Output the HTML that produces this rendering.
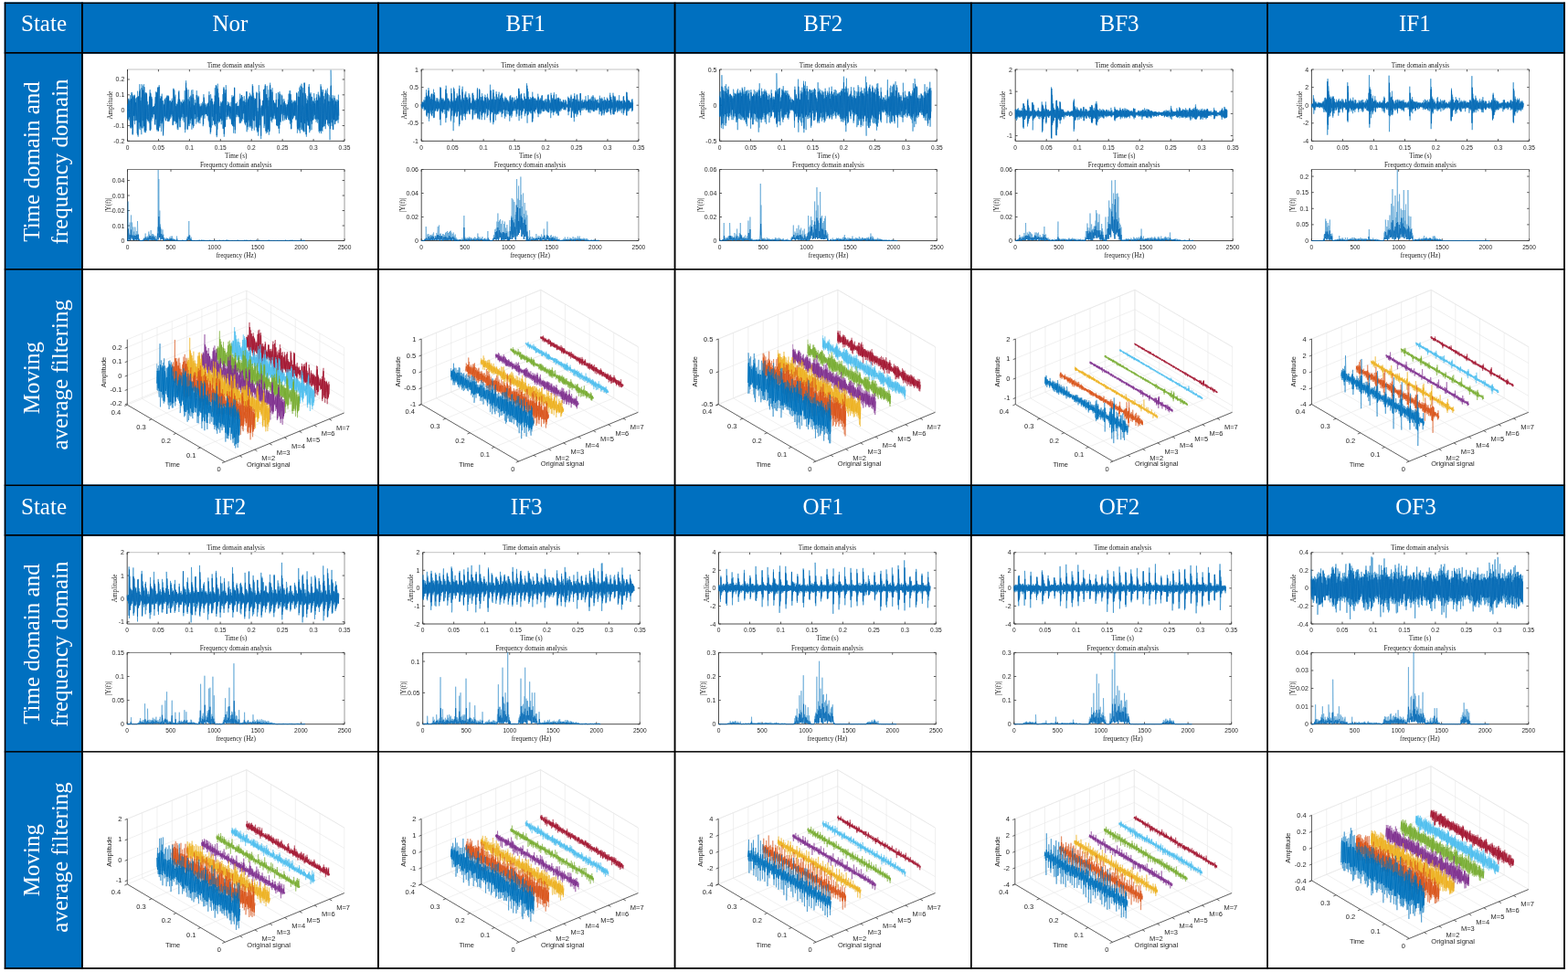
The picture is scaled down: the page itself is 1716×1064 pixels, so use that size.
<!DOCTYPE html>
<html><head><meta charset="utf-8"><title>Signals</title>
<style>
html,body{margin:0;padding:0;background:#fff;}
body{width:1716px;height:1064px;overflow:hidden;position:relative;}
svg{position:absolute;left:0;top:0;display:block;}
.hd{font-family:"Liberation Serif","Times New Roman",serif;font-size:25px;fill:#fff;text-anchor:middle;}
.tl{font-family:"Liberation Serif","Times New Roman",serif;font-size:7.2px;fill:#1a1a1a;text-anchor:middle;}
.tk{font-family:"Liberation Sans",Arial,sans-serif;font-size:7px;fill:#262626;}
.tx{font-family:"Liberation Sans",Arial,sans-serif;font-size:6.6px;fill:#262626;text-anchor:middle}
.k3{font-family:"Liberation Sans",Arial,sans-serif;font-size:7.5px;fill:#262626;}
.m{text-anchor:middle}.e{text-anchor:end}
</style></head><body>
<svg width="1716" height="1064" viewBox="0 0 1716 1064">
<rect x="4.8" y="2.6" width="1708" height="56.1" fill="#0070C0"/>
<rect x="4.8" y="530.5" width="1708" height="56.2" fill="#0070C0"/>
<rect x="4.8" y="2.6" width="86.1" height="1058.2" fill="#0070C0"/>
<rect x="4.8" y="2.6" width="1.5" height="1058.2" fill="#000"/>
<rect x="89" y="2.6" width="1.9" height="1058.2" fill="#000"/>
<rect x="413" y="2.6" width="1.9" height="1058.2" fill="#000"/>
<rect x="737.6" y="2.6" width="1.9" height="1058.2" fill="#000"/>
<rect x="1062" y="2.6" width="1.7" height="1058.2" fill="#000"/>
<rect x="1386.2" y="2.6" width="1.7" height="1058.2" fill="#000"/>
<rect x="1711.1" y="2.6" width="1.7" height="1058.2" fill="#000"/>
<rect x="4.8" y="2.6" width="1708" height="1.5" fill="#000"/>
<rect x="4.8" y="57" width="1708" height="1.7" fill="#000"/>
<rect x="4.8" y="294" width="1708" height="1.6" fill="#000"/>
<rect x="4.8" y="530.5" width="1708" height="1.5" fill="#000"/>
<rect x="4.8" y="585" width="1708" height="1.7" fill="#000"/>
<rect x="4.8" y="822.1" width="1708" height="1.5" fill="#000"/>
<rect x="4.8" y="1059.1" width="1708" height="1.7" fill="#000"/>
<path d="M139.50 76.00H377.00" stroke="#c4c4c4" stroke-width="1"/>
<path d="M377.00 76.00V154.40" stroke="#9a9a9a" stroke-width="1"/>
<path d="M139.50 76.00V154.40H377.00" stroke="#3a3a3a" stroke-width="0.9" fill="none"/>
<path d="M139.50 154.40v-2.4M139.50 76.00v2.4M173.43 154.40v-2.4M173.43 76.00v2.4M207.36 154.40v-2.4M207.36 76.00v2.4M241.29 154.40v-2.4M241.29 76.00v2.4M275.21 154.40v-2.4M275.21 76.00v2.4M309.14 154.40v-2.4M309.14 76.00v2.4M343.07 154.40v-2.4M343.07 76.00v2.4M377.00 154.40v-2.4M377.00 76.00v2.4M139.50 154.40h2.4M377.00 154.40h-2.4M139.50 137.54h2.4M377.00 137.54h-2.4M139.50 120.68h2.4M377.00 120.68h-2.4M139.50 103.82h2.4M377.00 103.82h-2.4M139.50 86.96h2.4M377.00 86.96h-2.4" stroke="#333" stroke-width="0.8"/>
<text class="tx" x="139.50" y="163.80">0</text>
<text class="tx" x="173.43" y="163.80">0.05</text>
<text class="tx" x="207.36" y="163.80">0.1</text>
<text class="tx" x="241.29" y="163.80">0.15</text>
<text class="tx" x="275.21" y="163.80">0.2</text>
<text class="tx" x="309.14" y="163.80">0.25</text>
<text class="tx" x="343.07" y="163.80">0.3</text>
<text class="tx" x="377.00" y="163.80">0.35</text>
<text class="tk e" x="136.30" y="156.90">-0.2</text>
<text class="tk e" x="136.30" y="140.04">-0.1</text>
<text class="tk e" x="136.30" y="123.18">0</text>
<text class="tk e" x="136.30" y="106.32">0.1</text>
<text class="tk e" x="136.30" y="89.46">0.2</text>
<text class="tl" x="258.25" y="73.60">Time domain analysis</text>
<text class="tl" x="258.25" y="172.70">Time (s)</text>
<text class="tl" transform="translate(122.84 115.20) rotate(-90)">Amplitude</text>
<path transform="matrix(0.33366 0.00000 0.00000 0.50000 139.50 120.68)" d="M0 14l1-28 1 34 1-37 1-9 1 49 1-43 1 36 1-6 1-43 1 21 1 52 1-12 1-67 1 78 1-78 1 10 1 83 1-9 1-77 1 45 1-45 1 55 1-57 1 65 1-53 1 34 1-38 1 17 1 31 1-49 1 53 1 25 1-93 1 9 1 91 1-39 1-50 1 71 1-76 1-21 1 100 1-89 1 84 1-66 1 63 1 18 1-110 1 14 1 83 1-94 1 92 1-5 1-75 1-15 1 100 1 5 1-83 1 84 1-88 1 88 1-50 1 20 1-57 1 27 1 29 1-37 1 43 1-7 1-21 1-9 1 41 1-17 1-46 1-10 1 90 1-82 1 79 1-72 1 54 1-49 1 33 1-13 1 23 1-26 1 15 1 2 1-18 1 17 1-17 1-5 1 46 1-12 1-55 1-6 1 65 1 18 1-80 1 84 1-87 1-9 1 85 1 11 1-93 1-8 1 90 1 3 1-58 1 42 1-53 1 2 1 76 1-11 1-72 1 65 1-50 1 10 1 67 1-21 1-49 1 31 1-30 1-11 1 39 1-41 1 46 1 3 1-24 1-27 1 41 1-45 1 55 1 1 1-49 1 50 1-57 1 20 1 36 1-6 1-39 1 40 1-40 1 38 1-30 1 23 1-29 1-7 1 39 1-11 1 31 1-9 1-72 1 12 1 61 1-69 1 68 1-18 1-40 1 25 1 39 1-45 1 43 1-41 1 47 1 8 1-60 1 61 1-67 1 39 1-58 1 16 1 64 1-57 1 50 1 7 1-48 1 29 1-36 1 8 1 25 1-9 1-29 1 45 1-41 1 4 1 41 1-49 1 33 1-53 1 92 1-6 1-80 1-28 1 80 1-64 1 60 1-23 1 55 1-18 1-53 1-17 1 79 1-54 1 55 1-64 1 42 1 16 1-35 1 29 1-60 1-7 1 86 1-56 1 47 1-78 1 76 1 8 1-66 1 17 1 29 1-10 1-32 1 42 1-35 1 5 1 41 1-15 1-58 1 22 1 47 1-10 1-37 1-11 1 60 1-58 1 42 1 10 1-30 1 37 1-39 1 6 1 21 1-32 1 27 1-1 1-20 1-9 1 23 1 30 1-51 1-19 1 46 1-34 1 41 1-9 1-18 1-6 1 23 1-14 1 15 1-19 1 23 1-27 1 22 1 4 1-29 1-1 1 43 1-66 1 77 1-45 1 48 1 13 1-87 1 7 1 66 1-20 1-44 1 2 1 57 1-16 1-29 1 17 1 18 1-11 1-31 1 51 1-81 1 84 1-66 1-24 1 63 1-60 1 111 1-101 1 84 1-100 1 81 1-61 1 66 1-51 1 39 1 10 1-20 1 8 1-27 1-6 1 38 1 12 1-48 1 36 1-38 1 41 1-57 1 76 1-66 1-26 1 109 1-9 1-93 1 81 1-66 1 33 1-59 1 12 1 64 1-2 1-30 1 24 1-32 1 33 1-27 1 15 1-19 1 3 1 31 1-22 1 25 1-29 1 16 1-25 1 39 1 10 1-64 1 65 1-61 1 64 1-40 1 55 1-82 1 56 1-74 1 54 1 47 1-25 1-41 1 30 1-30 1 25 1-20 1-8 1 33 1-2 1-22 1 15 1-16 1 3 1 26 1 10 1-65 1 3 1 52 1 9 1-53 1-8 1 58 1-4 1-40 1-10 1 37 1-1 1-27 1 41 1-52 1 58 1-30 1-9 1 45 1-57 1 48 1-65 1 88 1 0 1-65 1 61 1-54 1-15 1 52 1-10 1-47 1 68 1-75 1 8 1 68 1-10 1-62 1 4 1 66 1 9 1-84 1-18 1 77 1-58 1 52 1-46 1 58 1 18 1-67 1 26 1-26 1 36 1-39 1 64 1-78 1 2 1 86 1 0 1-53 1 11 1 50 1-10 1-101 1 93 1-79 1 10 1 52 1-26 1 39 1 29 1-64 1-10 1 22 1 3 1-21 1 19 1-34 1 30 1-53 1 84 1-86 1 81 1-77 1-14 1 55 1-20 1 73 1-13 1-91 1 0 1 102 1-7 1-51 1 46 1-82 1 99 1-83 1 75 1-97 1-9 1 83 1-68 1 59 1-47 1 59 1 1 1-76 1 45 1 24 1-11 1-31 1 41 1-33 1 21 1-24 1 3 1 34 1-35 1 33 1-55 1 70 1-40 1 42 1-1 1-44 1-29 1 79 1-78 1 77 1 12 1-92 1 73 1-68 1 25 1 37 1-11 1-47 1-2 1 40 1-30 1 45 1 3 1-34 1 16 1-31 1 1 1 38 1 8 1-27 1 15 1-25 1 3 1 33 1-28 1 18 1-24 1 29 1-1 1-38 1 43 1-56 1 58 1-46 1-19 1 73 1-73 1 71 1-47 1 60 1-63 1 49 1-49 1 41 1 0 1-37 1-1 1 30 1 5 1-38 1 33 1-32 1 33 1-33 1 5 1 38 1-9 1-51 1 3 1 85 1-9 1-52 1 50 1-80 1 29 1 57 1-95 1 89 1 11 1-104 1 8 1 76 1 13 1-101 1 17 1 79 1-49 1 56 1-94 1 46 1-5 1 56 1-15 1-93 1 21 1 86 1-14 1-66 1 37 1 54 1-84 1 59 1-55 1 49 1-58 1 65 1-18 1-70 1-3 1 106 1-7 1-68 1 71 1-84 1 58 1-32 1 56 1-73 1 5 1 32 1-28 1 43 1-35 1 26 1-50 1 56 1-45 1 43 1 2 1-32 1-8 1 47 1-3 1-58 1 58 1-43 1 48 1-60 1-8 1 62 1 25 1-73 1 76 1-81 1 77 1-63 1-40 1 101 1 7 1-97 1 1 1 89 1 2 1-80 1-11 1 67 1-37 1 50 1 0 1-64 1-8 1 77 1 1 1-86 1 20 1 40 1 6 1-50 1-19 1 80 1-67 1 66 1 4 1-68 1 3 1 61 1 34 1-93 1 50 1-110 1 15 1 95 1 13 1-53 1 36 1-51 1 10 1 66 1-11 1-44 1 8 1-28 1 63 1-45 1 25 1-32 1 45 1-48 1 10 1 37 1-17 1-29 1 6 1 45 1-62 1 54" stroke="#0072BD" stroke-width="0.7" fill="none" vector-effect="non-scaling-stroke" opacity="0.8"/>
<path transform="matrix(0.33366 0.00000 0.00000 0.50000 139.50 120.68)" d="M0 -11l1 22 1 8 1-36 1-7 1 38 1 1 1-32 1-5 1 31 1 29 1-49 1-14 1 51 1 10 1-71 1 7 1 80 1-12 1-66 1-3 1 41 1-1 1-43 1 12 1 43 1-14 1-26 1 9 1 30 1-7 1-37 1-7 1 66 1 17 1-56 1-28 1 46 1 11 1-59 1-10 1 61 1 16 1-56 1 5 1 43 1 11 1-87 1 7 1 55 1 10 1-67 1 6 1 64 1 9 1-86 1 23 1 73 1-20 1-63 1 51 1 32 1-30 1-51 1 26 1 28 1 3 1-32 1 12 1 13 1 10 1-31 1-23 1 39 1 35 1-82 1 4 1 52 1 3 1-50 1 11 1 24 1 9 1-19 1-3 1 11 1 5 1-16 1-2 1 13 1 27 1-43 1-17 1 47 1 2 1-59 1 17 1 60 1 5 1-80 1-13 1 77 1 18 1-71 1-25 1 79 1 7 1-50 1-11 1 46 1 9 1-49 1-10 1 44 1 11 1-46 1 13 1 62 1-22 1-41 1-3 1 21 1 4 1-36 1 4 1 37 1 5 1-24 1-27 1 39 1 7 1-50 1 17 1 39 1-11 1-43 1 24 1 27 1-12 1-29 1 9 1 21 1 4 1-24 1-8 1 25 1 2 1-30 1 26 1 27 1-16 1-62 1 18 1 50 1-2 1-50 1 7 1 26 1 22 1-34 1 4 1 32 1-2 1-34 1-4 1 51 1-11 1-49 1-18 1 49 1 10 1-43 1 6 1 41 1-6 1-26 1-9 1 32 1 1 1-22 1-8 1 20 1 3 1-26 1 4 1 31 1-12 1-25 1 9 1 53 1-9 1-68 1-25 1 74 1-15 1-44 1 35 1 51 1-23 1-42 1 0 1 48 1 6 1-32 1-18 1 33 1 8 1-23 1-30 1 47 1 3 1-46 1 25 1 34 1-23 1-43 1 21 1 49 1-21 1-24 1-1 1 19 1 1 1-25 1 14 1 20 1-16 1-35 1 23 1 22 1 3 1-30 1-13 1 53 1-20 1-19 1 7 1 28 1-6 1-23 1 6 1 16 1-5 1-19 1 2 1 19 1-6 1-18 1-1 1 45 1-22 1-37 1 11 1 26 1 0 1-18 1-3 1 18 1 2 1-9 1-7 1 19 1-5 1-18 1-3 1 25 1 12 1-36 1-19 1 59 1 11 1-33 1-25 1 69 1-12 1-58 1-3 1 29 1 10 1-33 1 11 1 24 1 7 1-17 1-20 1 26 1 19 1-63 1 4 1 58 1-30 1-54 1 7 1 102 1-15 1-68 1-19 1 49 1 23 1-53 1 10 1 30 1 12 1-12 1-21 1 21 1 7 1-34 1 7 1 31 1-5 1-33 1-5 1 41 1 19 1-55 1-33 1 100 1-23 1-67 1 17 1 57 1-42 1-39 1 16 1 43 1 1 1-19 1-7 1 22 1-6 1-15 1-4 1 15 1 13 1-23 1 13 1 14 1-11 1-14 1 0 1 28 1 9 1-55 1-3 1 42 1 20 1-30 1-34 1 66 1-23 1-62 1 55 1 37 1-23 1-31 1-3 1 23 1-1 1-16 1-1 1 20 1 0 1-20 1 2 1 10 1 12 1-22 1-16 1 50 1-8 1-45 1 8 1 34 1 6 1-55 1 26 1 26 1-21 1-18 1 10 1 14 1 3 1-27 1 18 1 27 1 5 1-42 1-6 1 33 1 12 1-68 1 25 1 53 1-3 1-42 1-15 1 45 1-6 1-45 1 4 1 59 1-7 1-49 1-9 1 50 1 16 1-65 1 10 1 60 1-32 1-61 1 21 1 44 1 11 1-50 1 10 1 40 1-20 1-24 1-4 1 29 1 32 1-65 1-9 1 82 1-3 1-39 1 5 1 40 1-18 1-66 1 8 1 62 1-22 1-35 1 22 1 27 1 31 1-56 1-9 1 16 1 4 1-16 1-16 1 33 1-9 1-48 1 22 1 37 1 16 1-72 1-12 1 52 1 48 1-50 1-31 1 70 1 12 1-74 1 23 1 46 1-12 1-52 1 20 1 49 1-7 1-64 1-31 1 70 1-3 1-57 1 21 1 47 1-5 1-58 1 37 1 20 1-8 1-30 1 10 1 23 1-7 1-20 1 2 1 31 1-3 1-29 1-9 1 53 1 3 1-39 1 3 1 37 1-7 1-51 1 6 1 46 1 12 1-64 1-11 1 60 1-7 1-25 1-5 1 21 1-5 1-36 1 16 1 29 1 9 1-32 1-7 1 21 1 7 1-31 1 18 1 20 1-8 1-22 1 11 1 21 1-10 1-16 1-6 1 21 1 3 1-25 1-5 1 37 1 1 1-43 1-13 1 46 1 13 1-58 1 17 1 59 1-28 1-28 1 2 1 29 1 3 1-33 1-3 1 21 1 8 1-31 1 1 1 28 1 2 1-29 1 2 1 35 1-17 1-41 1 36 1 37 1 6 1-35 1-36 1 66 1 6 1-53 1-18 1 67 1-10 1-73 1 4 1 53 1 15 1-79 1 20 1 64 1 10 1-48 1-32 1 32 1 52 1-51 1-55 1 78 1 11 1-66 1 6 1 57 1 27 1-37 1-31 1 38 1 0 1-45 1 3 1 52 1-19 1-65 1 4 1 88 1-3 1-46 1-28 1 60 1-5 1-31 1-17 1 59 1-26 1-23 1 9 1 31 1-8 1-24 1-8 1 21 1 8 1-25 1 6 1 19 1 10 1-34 1-14 1 38 1 9 1-36 1-5 1 36 1 6 1-54 1 24 1 50 1 5 1-73 1 18 1 55 1-10 1-87 1 21 1 76 1-13 1-72 1 8 1 69 1-29 1-39 1 17 1 42 1 7 1-59 1 6 1 48 1-3 1-69 1 20 1 34 1 9 1-50 1-8 1 66 1-5 1-35 1-9 1 43 1 6 1-39 1-9 1 60 1-21 1-71 1-3 1 75 1 6 1-41 1-12 1 43 1 25 1-64 1 12 1 31 1-26 1-22 1 16 1 41 1-21 1-28 1 11 1 31 1-8 1-24 1-10 1 22 1 18 1-26 1-16 1 33" stroke="#0066B3" stroke-width="0.8" fill="none" vector-effect="non-scaling-stroke"/>
<path d="M139.50 185.50H377.00" stroke="#7a7a7a" stroke-width="1"/>
<path d="M377.00 185.50V263.50" stroke="#9a9a9a" stroke-width="1"/>
<path d="M139.50 185.50V263.50H377.00" stroke="#3a3a3a" stroke-width="0.9" fill="none"/>
<path d="M139.50 263.50v-2.4M139.50 185.50v2.4M187.00 263.50v-2.4M187.00 185.50v2.4M234.50 263.50v-2.4M234.50 185.50v2.4M282.00 263.50v-2.4M282.00 185.50v2.4M329.50 263.50v-2.4M329.50 185.50v2.4M377.00 263.50v-2.4M377.00 185.50v2.4M139.50 263.50h2.4M377.00 263.50h-2.4M139.50 247.01h2.4M377.00 247.01h-2.4M139.50 230.52h2.4M377.00 230.52h-2.4M139.50 214.03h2.4M377.00 214.03h-2.4M139.50 197.54h2.4M377.00 197.54h-2.4" stroke="#333" stroke-width="0.8"/>
<text class="tx" x="139.50" y="272.90">0</text>
<text class="tx" x="187.00" y="272.90">500</text>
<text class="tx" x="234.50" y="272.90">1000</text>
<text class="tx" x="282.00" y="272.90">1500</text>
<text class="tx" x="329.50" y="272.90">2000</text>
<text class="tx" x="377.00" y="272.90">2500</text>
<text class="tk e" x="136.30" y="266.00">0</text>
<text class="tk e" x="136.30" y="249.51">0.01</text>
<text class="tk e" x="136.30" y="233.02">0.02</text>
<text class="tk e" x="136.30" y="216.53">0.03</text>
<text class="tk e" x="136.30" y="200.04">0.04</text>
<text class="tl" x="258.25" y="183.10">Frequency domain analysis</text>
<text class="tl" x="258.25" y="281.80">frequency (Hz)</text>
<text class="tl" transform="translate(121.28 224.50) rotate(-90)">|Y(f)|</text>
<path transform="matrix(0.33315 0.00000 0.00000 0.50000 139.50 263.50)" d="M0 0l1-28 1-58 1 82 1 2 1-14 1 11 1 2 1-37 1 33 1 6 1-22 1-33 1 48 1 2 1-34 1 14 1 23 1 1 1-28 1 29 1-18 1-1 1 16 1 2 1-28 1 8 1 19 1-12 1 13 1 1 1-20 1 17 1-39 1 24 1 17 1-11 1 12 1-4 1 4 1-1 1 2 1-1 1 1 1-1 1 1 1-1 1 1 1-1 1 1 1-2 1 2 1 0 1-5 1-1 1 4 1 1 1-4 1 3 1-14 1 14 1-4 1 5 1-5 1-3 1 8 1-9 1 8 1 2 1-11 1-9 1 17 1-11 1 12 1 0 1-5 1 5 1-21 1 14 1 7 1-10 1 11 1-14 1 14 1-14 1 12 1 2 1-11 1 0 1 11 1-8 1 7 1-9 1 10 1-2 1 2 1 1 1-8 1 0 1-22 1 28 1-153 1 135 1-115 1 81 1 47 1-59 1 59 1-29 1 34 1-1 1-20 1-3 1 22 1 0 1-18 1-2 1 17 1-7 1 13 1 1 1-4 1 4 1-2 1 1 1-5 1 5 1-4 1 4 1-5 1 0 1 5 1-4 1 4 1-1 1-2 1 2 1-1 1 2 1-7 1 8 1-4 1 3 1-9 1 4 1 6 1-1 1-9 1 3 1 6 1-3 1 4 1-1 1-3 1 2 1 2 1 0 1-3 1 2 1 1 1 0 1-1 1-9 1 9 1 1 1-1 1 1 1-1 1 1 1-1 1 0 1 1 1-1 1 1 1 0 1-1 1 1 1-1 1 1 1-1 1 0 1 1 1-2 1 2 1 0 1-1 1 1 1-1 1 1 1-1 1 1 1-1 1 1 1-1 1 1 1-4 1 3 1-8 1 4 1 3 1 0 1-11 1-30 1 40 1 2 1-11 1 10 1-3 1 5 1-8 1 4 1 4 1-1 1 1 1 0 1-1 1 1 1-1 1 0 1 1 1 0 1-1 1 0 1 1 1 0 1-1 1 1 1-1 1 1 1-1 1 1 1-1 1 1 1-2 1 2 1-1 1 1 1-2 1 1 1 1 1 0 1-1 1 1 1-2 1 2 1-1 1 1 1-2 1 2 1-1 1 1 1-2 1 1 1 1 1 0 1-1 1 0 1 1 1-1 1 1 1-1 1 1 1-1 1 1 1 0 1-1 1 0 1 1 1 0 1-1 1 1 1-2 1 1 1 1 1-1 1 1 1-1 1 1 1 0 1-1 1 1 1-1 1 1 1-1 1 1 1-1 1 0 1 1 1 0 1 0 1-1 1 1 1-1 1 1 1 0 1-1 1 0 1 1 1 0 1-1 1 0 1 1 1 0 1-2 1 2 1-1 1 0 1 1 1-1 1 1 1 0 1-1 1 1 1-1 1-1 1 2 1 0 1-1 1 0 1 1 1-1 1 1 1 0 1-1 1-1 1 2 1-2 1 2 1-1 1 1 1-2 1 2 1 0 1-1 1 0 1 1 1-1 1 1 1-1 1 1 1-1 1 1 1 0 1-1 1 1 1-1 1 0 1 1 1 0 1-1 1 1 1-1 1 0 1 1 1 0 1-1 1 1 1-1 1 1 1-1 1 0 1 1 1 0 1-2 1 2 1-1 1 0 1 1 1-1 1 1 1 0 1 0 1-1 1 1 1 0 1-1 1 1 1-1 1 1 1-1 1 0 1 1 1 0 1-1 1 1 1-2 1 0 1 2 1 0 1-1 1 0 1 1 1-2 1 2 1 0 1-1 1 0 1 1 1-1 1 1 1 0 1-1 1 0 1 1 1-2 1 2 1-1 1 1 1-1 1 1 1 0 1-1 1 1 1-1 1 1 1-1 1 1 1-1 1 0 1 1 1 0 1-1 1 1 1-2 1 1 1 1 1 0 1-1 1 0 1 1 1-1 1 1 1 0 1-2 1 2 1-1 1 0 1 1 1-1 1 1 1 0 1-1 1 0 1 1 1-1 1 1 1 0 1-1 1 0 1 1 1-1 1 1 1-1 1 1 1-1 1 1 1 0 1-1 1 1 1-1 1 1 1-1 1 0 1 1 1 0 1-2 1 2 1-1 1 0 1 1 1 0 1-1 1 0 1 1 1 0 1-1 1 0 1 1 1 0 1-1 1 0 1 1 1 0 1-1 1 0 1 1 1 0 1-1 1 1 1-1 1 1 1-1 1 1 1-1 1 0 1 1 1 0 1-1 1 0 1 1 1 0 1-1 1 1 1-1 1 0 1 1 1-1 1 1 1-1 1 1 1 0 1-1 1 0 1 1 1-1 1 1 1-1 1 1 1 0 1-1 1-1 1 2 1 0 1-1 1 1 1-1 1 0 1 1 1-1 1 1 1-1 1 1 1-1 1 1 1-2 1 2 1 0 1-1 1 0 1 1 1 0 1-2 1 1 1 1 1 0 1-1 1 1 1-1 1 1 1-1 1 0 1 1 1 0 1-1 1 0 1 1 1 0 1-1 1 0 1 1 1 0 1-1 1 0 1 1 1-1 1 1 1-1 1 1 1-1 1 1 1 0 1-1 1-1 1 2 1 0 1-1 1 0 1 1 1 0 1-1 1-1 1 2 1 0 1-1" stroke="#0072BD" stroke-width="0.6" fill="none" vector-effect="non-scaling-stroke" opacity="0.7"/>
<path transform="matrix(0.33315 0.00000 0.00000 0.50000 139.50 263.50)" d="M0 -4l1 4 1-4 1-22 1 17 1 7 1-1 1-1 1-9 1 6 1 6 1-4 1-19 1 16 1 2 1-6 1 3 1 6 1 1 1-7 1-3 1 11 1-3 1-7 1 0 1 9 1-1 1-3 1-5 1 9 1 1 1-12 1 6 1 3 1 2 1-12 1 9 1 4 1 0 1-1 1 1 1 1 1 0 1-1 1 1 1 0 1 0 1-1 1 1 1 0 1 0 1-1 1-1 1 2 1-2 1-3 1 2 1 2 1-1 1-6 1 3 1 3 1 1 1-3 1-1 1 4 1-1 1-4 1-1 1 7 1-3 1-4 1-3 1 8 1 0 1-4 1-5 1 9 1 0 1-4 1-2 1 7 1 0 1-7 1-2 1 7 1 2 1-4 1-3 1 7 1-1 1-2 1 0 1 3 1 0 1 0 1-1 1 2 1-8 1-3 1-5 1 14 1-18 1-33 1 26 1 20 1 0 1-23 1 17 1 11 1-1 1-11 1-1 1 11 1 0 1-6 1-2 1 5 1 6 1-6 1 6 1 1 1 0 1-1 1-1 1 1 1 0 1-2 1 1 1 1 1 0 1-3 1 0 1 3 1-1 1 0 1-1 1 1 1 1 1-3 1 1 1 3 1-1 1-4 1 1 1 4 1-1 1-3 1 2 1 1 1 1 1-2 1-1 1 2 1 1 1-2 1 1 1 1 1 0 1-1 1 0 1 1 1-1 1-3 1 3 1 1 1 0 1 0 1 0 1 0 1 0 1 0 1-1 1 1 1 0 1 0 1-1 1 1 1 0 1-1 1 0 1 1 1 0 1 0 1-1 1 1 1 0 1-1 1 1 1 0 1 0 1 0 1-1 1 1 1 0 1-1 1-3 1 3 1-1 1-2 1-5 1 7 1-1 1-9 1 8 1 3 1-1 1-1 1-1 1 4 1 0 1-2 1 2 1 0 1 0 1-1 1 1 1 0 1 0 1-1 1 0 1 1 1 0 1 0 1 0 1 0 1 0 1-1 1 0 1 1 1 0 1 0 1 0 1 0 1 0 1 0 1 0 1 0 1 0 1-1 1 1 1 0 1 0 1-1 1 0 1 1 1 0 1-1 1 1 1 0 1 0 1-1 1 1 1 0 1 0 1 0 1-1 1 1 1 0 1 0 1 0 1 0 1 0 1 0 1-1 1 1 1 0 1 0 1 0 1 0 1 0 1-1 1 0 1 1 1 0 1 0 1-1 1 1 1 0 1 0 1-1 1 1 1 0 1 0 1 0 1 0 1 0 1 0 1 0 1 0 1 0 1 0 1-1 1 1 1 0 1 0 1 0 1 0 1 0 1-1 1 1 1 0 1 0 1 0 1 0 1 0 1 0 1 0 1 0 1 0 1 0 1 0 1-1 1 1 1 0 1 0 1-1 1 1 1 0 1 0 1-1 1 1 1 0 1 0 1-1 1 1 1 0 1-1 1 0 1 1 1 0 1-1 1 1 1 0 1 0 1 0 1 0 1 0 1 0 1-1 1 1 1 0 1 0 1-1 1 0 1 1 1 0 1 0 1 0 1 0 1 0 1 0 1-1 1 1 1 0 1-1 1 0 1 1 1 0 1-1 1 0 1 1 1 0 1-1 1 1 1 0 1 0 1 0 1-1 1 1 1 0 1 0 1 0 1 0 1 0 1-1 1 1 1 0 1 0 1 0 1-1 1 1 1 0 1 0 1-1 1 1 1 0 1-1 1 1 1 0 1 0 1-1 1 0 1 1 1 0 1 0 1 0 1 0 1 0 1 0 1 0 1 0 1 0 1-1 1 1 1 0 1 0 1-1 1 0 1 1 1 0 1 0 1-1 1 1 1 0 1 0 1 0 1 0 1 0 1 0 1-1 1 1 1 0 1-1 1 0 1 1 1 0 1-1 1 0 1 1 1 0 1 0 1 0 1 0 1 0 1-1 1 1 1 0 1 0 1-1 1 1 1 0 1 0 1 0 1 0 1 0 1 0 1 0 1 0 1 0 1 0 1-1 1 1 1 0 1 0 1 0 1 0 1 0 1 0 1-1 1 0 1 1 1 0 1-1 1 0 1 1 1 0 1-1 1 1 1 0 1 0 1 0 1 0 1 0 1 0 1 0 1-1 1 1 1 0 1 0 1 0 1 0 1 0 1 0 1 0 1 0 1 0 1-1 1 1 1 0 1 0 1-1 1 0 1 1 1 0 1 0 1-1 1 1 1 0 1-1 1 1 1 0 1 0 1 0 1 0 1 0 1 0 1 0 1 0 1 0 1 0 1-1 1 1 1 0 1 0 1 0 1 0 1 0 1 0 1-1 1 0 1 1 1 0 1 0 1-1 1 1 1 0 1-1 1 1 1 0 1 0 1 0 1 0 1 0 1 0 1 0 1 0 1 0 1 0 1-1 1 0 1 1 1 0 1 0 1-1 1 1 1 0 1 0 1 0 1 0 1 0 1 0 1 0 1 0 1 0 1 0 1-1 1 1 1 0 1-1 1 1 1 0 1 0 1 0 1 0 1 0 1 0 1-1 1 0 1 1 1 0 1 0 1 0 1 0 1 0 1-1 1 1 1 0 1 0 1 0 1-1 1 1 1 0 1-1" stroke="#0066B3" stroke-width="0.7" fill="none" vector-effect="non-scaling-stroke"/>
<path d="M461.20 76.00H698.90" stroke="#c4c4c4" stroke-width="1"/>
<path d="M698.90 76.00V154.40" stroke="#9a9a9a" stroke-width="1"/>
<path d="M461.20 76.00V154.40H698.90" stroke="#3a3a3a" stroke-width="0.9" fill="none"/>
<path d="M461.20 154.40v-2.4M461.20 76.00v2.4M495.16 154.40v-2.4M495.16 76.00v2.4M529.11 154.40v-2.4M529.11 76.00v2.4M563.07 154.40v-2.4M563.07 76.00v2.4M597.03 154.40v-2.4M597.03 76.00v2.4M630.99 154.40v-2.4M630.99 76.00v2.4M664.94 154.40v-2.4M664.94 76.00v2.4M698.90 154.40v-2.4M698.90 76.00v2.4M461.20 154.40h2.4M698.90 154.40h-2.4M461.20 134.80h2.4M698.90 134.80h-2.4M461.20 115.20h2.4M698.90 115.20h-2.4M461.20 95.60h2.4M698.90 95.60h-2.4M461.20 76.00h2.4M698.90 76.00h-2.4" stroke="#333" stroke-width="0.8"/>
<text class="tx" x="461.20" y="163.80">0</text>
<text class="tx" x="495.16" y="163.80">0.05</text>
<text class="tx" x="529.11" y="163.80">0.1</text>
<text class="tx" x="563.07" y="163.80">0.15</text>
<text class="tx" x="597.03" y="163.80">0.2</text>
<text class="tx" x="630.99" y="163.80">0.25</text>
<text class="tx" x="664.94" y="163.80">0.3</text>
<text class="tx" x="698.90" y="163.80">0.35</text>
<text class="tk e" x="458.00" y="156.90">-1</text>
<text class="tk e" x="458.00" y="137.30">-0.5</text>
<text class="tk e" x="458.00" y="117.70">0</text>
<text class="tk e" x="458.00" y="98.10">0.5</text>
<text class="tk e" x="458.00" y="78.50">1</text>
<text class="tl" x="580.05" y="73.60">Time domain analysis</text>
<text class="tl" x="580.05" y="172.70">Time (s)</text>
<text class="tl" transform="translate(444.54 115.20) rotate(-90)">Amplitude</text>
<path transform="matrix(0.33298 0.00000 0.00000 0.50000 461.20 115.20)" d="M0 -2l1 8 1 1 1-14 1 15 1-11 1-2 1 8 1-15 1 24 1-21 1 19 1-28 1 26 1-12 1 15 1-45 1 58 1-45 1 46 1-14 1-32 1 38 1-55 1 1 1 72 1-56 1 39 1-2 1-26 1 25 1-25 1-14 1 44 1-45 1 49 1-36 1 30 1-30 1 20 1-43 1 63 1-3 1-53 1 13 1 28 1-22 1 21 1-18 1 12 1-22 1 26 1 4 1-30 1 25 1-16 1 17 1-23 1 8 1 11 1-15 1 41 1-72 1 84 1-63 1 32 1-23 1 24 1-30 1 34 1-31 1 28 1-30 1 23 1-16 1 18 1-21 1 30 1-9 1-22 1 50 1-81 1 10 1 60 1-14 1-22 1-6 1 22 1-22 1 29 1-7 1-18 1 6 1 13 1-2 1-9 1-10 1 48 1-72 1 60 1-41 1 30 1-22 1 16 1-11 1 61 1-95 1 77 1-68 1 54 1-38 1 32 1-26 1 23 1-31 1 23 1 19 1-52 1 44 1-39 1 10 1 20 1-30 1 36 1 31 1-89 1 18 1 44 1 4 1-35 1 17 1-18 1 23 1-45 1 69 1-75 1 20 1 42 1 2 1-38 1-1 1 31 1-25 1 35 1-51 1 58 1-62 1 48 1-4 1-31 1 36 1-36 1 5 1 25 1-5 1-14 1-20 1 45 1-42 1 43 1-34 1 24 1-15 1 9 1 3 1-12 1-4 1 20 1 21 1-59 1 48 1-43 1 34 1-24 1 23 1-20 1 30 1-33 1 6 1 15 1 0 1-24 1 6 1 28 1-57 1 68 1-10 1-34 1 34 1-32 1-24 1 67 1-10 1-39 1 2 1 26 1-28 1 36 1 14 1-58 1 52 1-46 1 34 1-25 1 28 1-25 1 13 1-13 1 40 1-55 1 1 1 38 1-27 1 20 1-15 1 15 1 18 1-52 1 9 1 38 1-27 1 15 1-21 1 20 1 3 1-23 1-34 1 83 1-71 1 52 1-10 1-21 1 28 1-30 1 24 1-44 1 76 1-76 1 20 1 24 1-29 1 31 1-21 1 32 1 10 1-51 1-12 1 51 1-14 1-25 1 2 1 36 1-14 1-30 1 43 1-48 1 40 1-24 1 28 1-36 1 15 1 22 1-38 1 29 1 19 1-53 1 3 1 42 1-1 1-29 1 4 1 17 1 1 1-23 1 42 1-48 1 2 1 35 1 7 1-39 1-2 1 35 1-5 1-25 1-1 1 32 1-29 1 23 1-9 1-13 1 43 1-55 1 43 1-45 1 34 1-21 1 36 1-43 1 39 1-40 1 7 1 23 1-9 1-10 1 18 1-24 1-5 1 29 1-24 1 19 1 5 1-16 1 29 1-45 1 40 1-36 1 25 1-22 1 23 1-16 1-31 1 71 1-65 1 54 1-9 1-28 1 23 1-20 1-14 1 54 1-45 1 31 1-26 1 25 1-25 1 18 1 1 1-15 1-19 1 33 1 17 1-37 1 4 1 26 1-31 1 25 1-59 1 63 1 24 1-75 1 57 1-51 1 50 1-28 1-4 1 26 1-28 1 30 1-34 1 36 1-33 1 33 1-34 1 28 1 25 1-66 1 58 1-48 1 33 1-29 1 29 1-20 1-9 1 33 1-11 1-22 1 25 1-12 1-11 1 18 1-13 1 16 1 10 1-43 1 51 1-45 1 9 1 20 1-23 1 22 1 11 1-33 1-3 1 34 1-29 1 25 1-1 1-35 1 33 1-21 1 24 1-23 1 22 1-23 1 23 1-19 1-7 1 24 1 1 1-22 1-4 1 24 1 3 1-26 1 3 1 18 1 8 1-40 1 5 1 35 1-8 1-18 1 0 1 22 1-18 1 34 1-55 1 44 1-28 1 25 1-4 1-26 1 32 1-30 1 36 1-43 1-7 1 44 1-6 1-23 1 26 1-26 1 26 1-37 1 43 1-31 1 22 1-18 1 19 1-27 1 39 1-40 1 29 1-27 1 4 1 23 1 2 1-28 1 7 1 19 1-21 1 17 1-16 1 15 1-10 1 7 1-16 1 20 1 2 1-16 1 12 1-10 1-8 1 20 1 3 1-22 1 3 1 13 1-1 1-5 1 3 1-5 1-16 1 41 1-7 1-31 1 29 1-27 1 2 1 17 1 0 1-14 1-14 1 50 1-15 1-22 1-4 1 28 1-3 1-25 1 31 1-32 1 51 1-62 1 12 1 24 1 9 1-32 1 32 1-28 1 34 1-49 1 1 1 44 1-4 1-25 1-5 1 25 1-21 1 19 1 1 1-18 1-19 1 48 1-32 1 22 1-3 1-14 1 16 1-24 1 1 1 23 1-3 1-14 1 12 1-18 1 21 1-18 1 15 1-12 1-14 1 31 1-18 1 18 1-4 1-16 1 5 1 14 1-32 1 38 1-26 1 26 1-7 1-22 1 5 1 25 1-7 1-25 1 24 1-28 1 10 1 21 1-18 1 13 1-29 1 36 1-1 1-23 1 24 1-22 1-9 1 28 1 0 1-21 1-1 1 22 1 0 1-23 1 23 1-17 1 12 1-19 1 4 1 15 1-10 1 24 1-41 1 35 1-19 1 19 1-8 1-20 1 37 1-40 1 35 1-32 1 5 1 16 1 5 1-21 1 31 1-40 1 10 1 22 1-3 1-23 1 2 1 17 1-16 1 25 1-33 1 23 1 5 1-25 1 28 1-18 1 11 1-17 1 5 1 12 1-34 1 41 1-32 1 39 1-39 1 28 1-22 1 18 1 0 1-12 1-21 1 47 1 0 1-33 1 27 1-25 1-9 1 34 1-28 1 25 1-17 1 9 1-10 1 12 1 11 1-28 1 21 1-18 1 21 1-23 1-11 1 35 1-24 1 22 1 0 1-19 1-1 1 19 1 7 1-27 1 19 1-13 1 1 1 20 1 4 1-41 1 31 1-22 1 22 1-20 1 7 1 6 1-11 1 17 1-39 1 52 1-42 1 33 1-1 1-26 1 26 1-22 1-1 1 21 1-3 1-15 1 13 1-13 1 13 1-12 1 10 1-8 1 18 1-28 1 26 1-20" stroke="#0072BD" stroke-width="0.7" fill="none" vector-effect="non-scaling-stroke" opacity="0.8"/>
<path transform="matrix(0.33298 0.00000 0.00000 0.50000 461.20 115.20)" d="M0 -2l1 7 1-1 1-11 1 6 1 5 1-2 1-7 1-2 1 14 1 1 1-16 1-3 1 19 1 2 1-13 1-24 1 48 1 0 1-40 1 4 1 22 1 9 1-46 1-2 1 61 1-11 1-36 1 10 1 19 1 0 1-19 1-6 1 33 1 3 1-47 1 15 1 21 1-5 1-12 1-18 1 51 1-7 1-42 1 13 1 21 1-1 1-20 1 3 1 9 1 5 1-17 1-4 1 26 1-4 1-14 1-3 1 15 1-1 1-11 1 0 1 36 1-2 1-67 1 20 1 31 1-1 1-22 1-3 1 21 1 7 1-27 1 2 1 17 1 2 1-13 1-4 1 17 1 0 1-20 1-24 1 63 1-4 1-50 1 17 1 20 1-6 1-15 1-4 1 25 1-5 1-15 1 5 1 9 1-1 1-6 1-6 1 40 1-12 1-46 1 10 1 28 1-7 1-12 1 3 1 22 1 6 1-60 1 18 1 40 1-12 1-20 1 6 1 18 1-9 1-17 1-3 1 39 1-7 1-36 1 10 1 17 1 6 1-26 1-24 1 78 1-24 1-40 1 13 1 30 1-17 1-13 1 2 1 13 1 26 1-61 1 9 1 32 1 7 1-31 1 6 1 16 1 8 1-24 1-17 1 43 1-4 1-29 1-4 1 23 1 7 1-25 1 1 1 21 1-3 1-13 1-8 1 31 1 0 1-34 1 10 1 16 1-5 1-8 1 0 1 10 1 3 1-16 1-19 1 55 1-13 1-31 1 4 1 20 1-3 1-14 1-1 1 27 1-13 1-11 1-4 1 15 1 12 1-23 1-29 1 62 1-18 1-21 1 5 1 19 1 18 1-64 1 16 1 32 1-5 1-19 1-1 1 21 1 12 1-39 1-1 1 36 1-10 1-18 1 3 1 22 1-11 1-11 1-11 1 37 1-6 1-29 1 8 1 13 1 2 1-12 1-13 1 41 1-9 1-29 1 11 1 13 1-5 1-15 1 4 1 18 1 22 1-65 1 7 1 39 1-6 1-19 1-1 1 27 1-6 1-30 1-6 1 64 1-29 1-16 1-5 1 23 1 9 1-24 1-7 1 28 1 3 1-43 1 13 1 17 1 12 1-30 1-3 1 21 1 8 1-27 1 5 1 17 1 3 1-28 1 14 1 15 1-8 1-23 1-7 1 44 1-1 1-34 1 5 1 21 1-2 1-15 1-1 1 16 1 15 1-39 1 2 1 24 1 1 1-24 1 1 1 22 1 1 1-20 1 0 1 17 1 5 1-18 1 1 1 9 1 18 1-38 1-4 1 40 1-12 1-18 1-3 1 31 1-2 1-34 1 8 1 20 1-7 1-8 1-4 1 16 1-2 1-8 1-9 1 18 1 1 1-12 1-8 1 30 1 0 1-32 1 2 1 20 1 0 1-14 1-30 1 59 1-3 1-43 1 12 1 22 1-2 1-17 1-17 1 46 1-10 1-25 1 4 1 22 1-6 1-16 1 4 1 13 1-1 1-25 1 6 1 32 1-8 1-20 1-5 1 23 1 4 1-56 1 16 1 49 1-3 1-37 1 11 1 19 1 0 1-24 1 2 1 24 1 0 1-24 1-3 1 24 1-7 1-12 1-9 1 53 1-17 1-37 1 4 1 24 1 3 1-19 1-9 1 29 1-9 1-16 1 11 1 9 1-6 1-13 1 5 1 13 1 8 1-33 1 1 1 35 1-10 1-17 1-2 1 19 1 8 1-28 1-2 1 22 1 1 1-20 1-11 1 28 1 1 1-17 1 0 1 22 1-6 1-13 1 0 1 11 1 3 1-18 1 4 1 16 1-2 1-15 1 0 1 20 1-7 1-15 1-13 1 37 1-3 1-25 1 5 1 14 1 1 1-12 1 1 1 13 1 2 1-33 1 14 1 19 1-5 1-19 1 6 1 17 1 5 1-35 1-3 1 36 1-5 1-15 1-5 1 19 1 3 1-25 1 6 1 26 1-9 1-14 1-10 1 27 1 11 1-36 1 5 1 18 1 3 1-19 1-1 1 16 1 1 1-16 1 0 1 13 1 1 1-13 1 4 1 5 1 1 1-15 1 5 1 16 1-6 1-8 1-1 1 13 1 1 1-17 1 3 1 7 1 2 1-5 1-1 1 4 1 12 1-30 1 2 1 28 1-3 1-21 1 5 1 10 1-1 1-10 1-13 1 46 1-19 1-15 1 0 1 18 1-1 1-20 1-4 1 27 1 14 1-47 1 12 1 18 1 7 1-29 1 6 1 20 1 0 1-36 1 7 1 34 1-8 1-19 1-1 1 19 1-6 1-12 1 6 1 12 1 6 1-42 1 16 1 15 1 2 1-11 1-6 1 16 1 0 1-13 1 2 1 11 1-2 1-12 1 6 1 8 1-3 1-7 1-7 1 20 1-3 1-13 1-1 1 12 1 5 1-13 1-7 1 21 1 3 1-22 1-4 1 22 1 0 1-17 1-3 1 20 1 0 1-19 1 1 1 19 1-6 1-10 1-13 1 31 1 1 1-22 1 3 1 16 1-1 1-22 1 3 1 17 1 3 1-19 1-2 1 18 1-1 1-12 1 2 1 9 1-1 1-9 1 2 1 13 1-1 1-25 1 11 1 18 1-10 1-12 1-5 1 35 1-8 1-22 1 3 1 11 1 5 1-15 1-6 1 29 1-9 1-16 1-4 1 20 1-4 1-14 1 1 1 24 1-12 1-18 1 4 1 19 1 5 1-17 1-7 1 16 1 0 1-10 1-18 1 32 1 8 1-31 1 1 1 18 1-2 1-11 1 3 1 10 1 13 1-40 1 8 1 33 1-11 1-19 1-8 1 32 1-5 1-19 1 7 1 5 1 3 1-10 1-5 1 23 1-8 1-11 1-3 1 17 1-2 1-15 1 0 1 18 1-1 1-16 1 1 1 13 1 2 1-17 1 5 1 10 1 0 1-9 1-16 1 36 1-6 1-21 1 3 1 15 1-4 1-5 1-5 1 15 1 13 1-50 1 14 1 24 1 1 1-21 1 4 1 13 1 0 1-17 1 3 1 14 1-5 1-7 1 3 1 8 1-3 1-7 1-8 1 23 1-4 1-12" stroke="#0066B3" stroke-width="0.8" fill="none" vector-effect="non-scaling-stroke"/>
<path d="M461.20 185.50H698.90" stroke="#7a7a7a" stroke-width="1"/>
<path d="M698.90 185.50V263.50" stroke="#9a9a9a" stroke-width="1"/>
<path d="M461.20 185.50V263.50H698.90" stroke="#3a3a3a" stroke-width="0.9" fill="none"/>
<path d="M461.20 263.50v-2.4M461.20 185.50v2.4M508.74 263.50v-2.4M508.74 185.50v2.4M556.28 263.50v-2.4M556.28 185.50v2.4M603.82 263.50v-2.4M603.82 185.50v2.4M651.36 263.50v-2.4M651.36 185.50v2.4M698.90 263.50v-2.4M698.90 185.50v2.4M461.20 263.50h2.4M698.90 263.50h-2.4M461.20 237.50h2.4M698.90 237.50h-2.4M461.20 211.50h2.4M698.90 211.50h-2.4M461.20 185.50h2.4M698.90 185.50h-2.4" stroke="#333" stroke-width="0.8"/>
<text class="tx" x="461.20" y="272.90">0</text>
<text class="tx" x="508.74" y="272.90">500</text>
<text class="tx" x="556.28" y="272.90">1000</text>
<text class="tx" x="603.82" y="272.90">1500</text>
<text class="tx" x="651.36" y="272.90">2000</text>
<text class="tx" x="698.90" y="272.90">2500</text>
<text class="tk e" x="458.00" y="266.00">0</text>
<text class="tk e" x="458.00" y="240.00">0.02</text>
<text class="tk e" x="458.00" y="214.00">0.04</text>
<text class="tk e" x="458.00" y="188.00">0.06</text>
<text class="tl" x="580.05" y="183.10">Frequency domain analysis</text>
<text class="tl" x="580.05" y="281.80">frequency (Hz)</text>
<text class="tl" transform="translate(442.98 224.50) rotate(-90)">|Y(f)|</text>
<path transform="matrix(0.33343 0.00000 0.00000 0.50000 461.20 263.50)" d="M0 0l1-1 1 1 1-1 1 1 1-2 1 1 1 1 1 0 1-1 1 1 1-4 1 3 1-3 1 3 1-30 1 13 1 17 1-1 1-8 1-4 1 13 1-1 1-13 1 1 1 12 1-8 1 9 1 0 1-11 1 11 1-12 1 10 1-8 1 9 1-9 1-3 1 13 1-2 1-13 1-2 1 16 1-3 1 4 1-1 1-9 1 8 1-8 1 0 1 9 1-15 1 16 1-1 1-14 1-15 1 25 1 4 1-11 1-21 1 29 1 5 1-15 1 11 1-12 1 1 1 13 1-5 1-4 1 10 1-5 1-9 1 15 1-4 1-10 1 1 1 12 1-2 1-10 1 12 1-16 1 15 1-17 1 10 1 8 1 0 1-20 1 20 1-4 1-12 1 16 1-2 1-16 1 8 1 9 1-19 1 19 1-20 1 21 1-17 1 14 1 4 1-7 1-8 1 11 1-1 1-13 1 17 1-9 1-1 1 11 1-2 1-12 1 14 1-3 1-4 1 7 1-1 1-3 1 4 1-3 1 3 1-1 1-1 1 1 1-1 1 2 1-3 1 2 1-2 1 2 1 0 1-2 1 3 1-2 1-4 1 5 1-2 1 2 1 0 1-18 1-36 1 54 1 1 1-8 1 8 1-4 1 3 1-5 1 5 1-2 1 2 1-6 1 7 1-5 1 5 1-4 1-4 1 7 1-7 1 7 1 1 1-3 1-4 1 6 1-5 1 5 1 0 1-3 1 3 1-1 1 1 1-5 1 5 1-2 1 2 1-7 1 8 1-7 1 2 1 4 1 0 1-4 1 0 1 4 1-2 1-13 1 15 1-8 1 9 1-6 1 5 1-5 1-2 1 7 1 0 1-3 1 3 1-4 1-1 1 4 1-7 1 8 1-2 1 3 1-1 1-2 1-2 1 5 1-1 1-5 1 3 1 3 1 0 1-3 1-1 1 3 1 1 1-6 1-15 1 20 1 1 1-2 1-1 1 2 1-1 1 2 1 0 1-1 1 1 1-1 1 1 1-1 1 1 1-1 1 0 1-3 1 2 1-8 1-3 1 10 1 0 1-16 1-6 1 20 1 3 1-24 1-2 1 26 1-40 1 38 1-1 1-55 1 59 1-40 1 4 1 33 1-40 1 35 1 2 1-40 1 38 1-28 1 4 1 32 1-1 1-37 1-5 1 41 1 1 1-16 1 16 1-35 1 35 1-40 1 6 1 30 1 3 1-25 1 25 1-18 1 16 1-30 1 17 1 17 1-19 1 19 1-1 1-7 1 8 1-26 1-18 1 39 1 3 1-28 1 17 1-40 1 42 1-81 1 90 1-49 1 38 1-76 1 2 1 81 1-3 1-75 1 69 1-31 1 44 1-54 1 55 1-61 1 38 1-110 1 65 1 60 1-20 1-62 1 79 1-107 1 50 1 53 1-22 1-50 1 20 1 40 1-111 1 116 1-77 1 92 1-66 1 60 1 1 1-83 1-7 1 89 1 12 1-56 1 40 1-64 1 74 1-26 1-16 1 39 1-54 1 66 1-13 1-43 1 31 1 24 1-9 1 10 1 0 1-3 1 1 1-21 1 23 1-4 1-5 1 8 1-4 1 3 1 1 1-8 1 8 1-7 1 2 1 4 1 1 1-5 1 5 1-5 1 4 1-3 1 4 1-5 1 5 1-14 1 13 1-5 1 1 1 5 1 0 1-10 1 1 1 7 1 0 1-7 1 2 1 7 1 0 1-8 1 9 1-9 1-5 1 13 1-2 1-4 1-3 1 8 1-1 1-6 1-17 1 23 1 2 1-12 1 3 1 7 1-3 1 5 1-8 1 8 1-4 1-37 1 24 1 15 1-8 1 10 1-9 1 8 1 2 1-7 1 5 1-3 1-6 1 10 1-12 1 13 1-3 1-5 1 8 1-8 1 7 1-9 1 4 1 5 1 0 1-7 1 5 1-7 1 9 1-2 1 1 1-6 1 7 1-3 1-4 1 8 1 0 1-4 1 1 1 2 1 1 1-3 1-1 1 4 1-1 1 1 1 0 1-1 1 1 1-2 1 0 1 2 1 0 1-2 1 1 1-4 1 2 1 3 1 0 1-8 1 4 1 3 1-3 1 4 1-1 1-2 1 2 1-3 1-4 1 7 1 1 1-3 1 2 1-3 1 3 1-3 1-3 1 6 1 0 1-4 1 5 1-4 1 2 1 2 1-2 1-6 1-1 1 8 1 1 1-4 1 4 1-7 1 0 1 7 1-4 1 3 1-5 1 4 1-1 1 2 1-1 1-8 1 9 1-4 1-1 1 5 1 1 1-10 1 9 1-3 1-1 1 5 1-1 1-4 1 2 1 2 1 0 1-3 1-1 1 4 1 0 1-5 1 5 1-4 1 1 1 4 1 0 1-3 1-2 1 4 1 1 1-2 1-3 1 4 1 1 1-3 1 1 1 2 1-1 1 1 1-1 1 1 1 0 1-1 1 1 1-2 1 2 1-1 1-1 1 2 1 0 1-1 1 1 1-2 1 2 1-1 1-1 1 2 1-1 1 1 1 0 1-2 1 2 1-1 1 0 1 1 1 0 1-1 1 1 1-2 1 1 1 1" stroke="#0072BD" stroke-width="0.6" fill="none" vector-effect="non-scaling-stroke" opacity="0.7"/>
<path transform="matrix(0.33343 0.00000 0.00000 0.50000 461.20 263.50)" d="M0 -1l1 1 1 0 1-1 1 0 1 1 1 0 1 0 1-1 1 1 1 0 1-3 1 0 1 2 1 0 1-4 1-1 1 5 1-1 1-2 1 0 1 3 1-1 1-3 1-4 1 7 1 1 1-2 1-2 1 4 1 0 1-7 1 1 1 4 1 1 1-3 1-5 1 9 1-2 1-4 1-2 1 7 1 1 1-4 1 0 1 3 1-1 1-5 1 1 1 5 1 1 1-5 1-6 1 10 1-4 1-7 1 9 1 2 1-3 1-6 1 2 1 9 1-4 1-6 1 1 1 7 1-5 1-3 1 5 1 4 1 1 1-4 1-4 1 4 1 3 1-5 1-2 1 5 1 2 1-5 1-3 1 7 1 1 1-6 1 1 1 5 1 0 1-3 1-2 1 5 1-2 1-8 1 4 1 5 1 0 1-6 1 3 1 4 1-3 1-3 1 2 1 5 1-4 1-5 1 2 1 2 1 4 1-6 1 3 1 4 1-2 1-2 1 1 1 3 1 0 1-3 1 1 1 1 1 1 1-1 1 0 1 1 1-1 1-1 1 1 1 1 1-1 1-1 1 0 1 1 1 0 1 0 1 0 1 1 1-1 1 0 1-1 1 1 1 0 1-4 1-24 1 28 1 1 1-3 1 2 1 1 1-1 1-2 1 0 1 2 1 0 1-1 1-1 1 3 1 0 1-2 1-3 1 4 1 0 1-1 1 0 1 2 1-1 1-3 1 2 1 1 1 0 1-1 1 0 1 1 1 0 1-3 1 2 1 1 1 0 1-1 1-1 1 3 1-1 1-2 1 1 1 1 1 0 1-3 1-1 1 2 1 2 1-2 1 0 1 3 1-1 1-2 1 0 1 2 1 0 1-1 1-2 1 3 1-1 1 0 1-1 1 2 1 1 1-2 1 0 1 1 1 1 1-3 1-1 1 3 1 1 1-2 1 0 1 2 1-1 1-1 1 0 1 2 1-1 1-5 1 5 1 1 1-1 1-1 1 1 1 1 1 0 1-1 1 1 1 0 1 0 1-1 1 1 1 0 1-1 1-2 1-2 1 3 1-1 1-5 1 2 1 3 1-2 1-14 1 7 1 10 1 0 1-19 1 6 1 11 1-1 1-24 1 20 1 8 1-3 1-11 1-8 1 14 1 2 1-11 1 0 1 9 1 8 1-15 1 5 1 9 1-1 1-16 1 10 1 7 1 0 1-16 1 1 1 15 1-4 1-10 1 3 1 10 1 0 1-14 1 3 1 9 1 4 1-8 1 2 1 6 1-1 1-3 1-3 1 7 1-5 1-15 1 7 1 11 1-11 1-13 1-23 1 38 1 9 1-42 1 8 1 23 1 7 1-33 1 2 1 28 1-6 1-14 1 4 1 23 1 1 1-43 1-33 1 53 1 15 1-13 1-50 1 43 1 17 1-30 1 3 1 23 1-22 1-32 1 27 1 15 1 5 1-30 1 15 1 30 1-6 1-36 1 8 1 29 1-1 1-24 1 16 1 20 1-16 1-27 1 20 1 17 1-3 1-23 1 15 1 20 1-13 1-7 1 10 1 9 1 1 1-3 1 2 1 1 1-2 1-4 1 4 1 2 1-1 1-1 1-1 1 1 1 1 1-2 1 1 1 1 1-1 1-3 1 2 1 2 1 0 1-2 1 0 1 1 1 1 1-2 1-2 1 4 1-1 1-3 1 1 1 3 1 0 1-4 1-2 1 4 1 0 1-1 1-1 1 4 1 0 1-6 1 5 1 2 1-1 1-4 1 0 1 2 1 1 1-3 1-2 1 4 1 0 1-8 1 6 1 4 1-2 1-1 1 0 1 3 1 0 1-3 1-9 1 8 1 2 1-7 1 5 1 4 1-1 1-4 1 0 1 6 1-2 1-2 1-1 1 4 1 1 1-5 1-1 1 3 1 3 1-7 1 3 1 3 1 0 1-2 1-2 1 4 1-2 1-1 1 1 1 2 1-1 1-1 1 0 1 2 1 1 1-2 1-1 1 3 1-1 1-1 1 0 1 2 1 0 1-1 1 0 1 1 1 0 1-1 1 0 1 1 1 0 1-1 1 0 1 1 1-1 1 0 1-1 1 2 1 0 1-2 1 0 1 1 1 1 1-2 1 0 1 1 1 0 1-2 1 1 1 1 1 1 1-1 1-1 1 1 1 0 1-1 1 0 1 1 1 0 1-3 1 2 1 2 1 0 1-1 1-1 1 0 1 1 1-2 1 1 1 2 1 0 1-3 1 0 1 3 1-1 1-2 1 0 1 1 1 1 1-1 1-2 1 2 1 1 1-2 1 1 1 1 1 1 1-4 1 1 1 2 1 1 1-3 1 0 1 2 1 0 1-1 1 0 1 1 1 0 1-1 1 0 1 1 1 0 1-1 1 0 1 2 1 0 1-1 1-1 1 1 1 1 1-1 1 0 1 0 1 1 1-1 1 0 1 1 1 0 1-1 1 1 1 0 1 0 1-1 1 0 1 1 1 0 1-1 1 0 1 1 1 0 1-1 1 0 1 1 1 0 1-1 1 0 1 1 1 0 1-1 1 0 1 1 1 0 1-1 1 0 1 1 1 0 1-1 1 0 1 1 1 0 1-1" stroke="#0066B3" stroke-width="0.7" fill="none" vector-effect="non-scaling-stroke"/>
<path d="M787.60 76.00H1025.30" stroke="#c4c4c4" stroke-width="1"/>
<path d="M1025.30 76.00V154.40" stroke="#9a9a9a" stroke-width="1"/>
<path d="M787.60 76.00V154.40H1025.30" stroke="#3a3a3a" stroke-width="0.9" fill="none"/>
<path d="M787.60 154.40v-2.4M787.60 76.00v2.4M821.56 154.40v-2.4M821.56 76.00v2.4M855.51 154.40v-2.4M855.51 76.00v2.4M889.47 154.40v-2.4M889.47 76.00v2.4M923.43 154.40v-2.4M923.43 76.00v2.4M957.39 154.40v-2.4M957.39 76.00v2.4M991.34 154.40v-2.4M991.34 76.00v2.4M1025.30 154.40v-2.4M1025.30 76.00v2.4M787.60 154.40h2.4M1025.30 154.40h-2.4M787.60 115.20h2.4M1025.30 115.20h-2.4M787.60 76.00h2.4M1025.30 76.00h-2.4" stroke="#333" stroke-width="0.8"/>
<text class="tx" x="787.60" y="163.80">0</text>
<text class="tx" x="821.56" y="163.80">0.05</text>
<text class="tx" x="855.51" y="163.80">0.1</text>
<text class="tx" x="889.47" y="163.80">0.15</text>
<text class="tx" x="923.43" y="163.80">0.2</text>
<text class="tx" x="957.39" y="163.80">0.25</text>
<text class="tx" x="991.34" y="163.80">0.3</text>
<text class="tx" x="1025.30" y="163.80">0.35</text>
<text class="tk e" x="784.40" y="156.90">-0.5</text>
<text class="tk e" x="784.40" y="117.70">0</text>
<text class="tk e" x="784.40" y="78.50">0.5</text>
<text class="tl" x="906.45" y="73.60">Time domain analysis</text>
<text class="tl" x="906.45" y="172.70">Time (s)</text>
<text class="tl" transform="translate(770.94 115.20) rotate(-90)">Amplitude</text>
<path transform="matrix(0.33298 0.00000 0.00000 0.50000 787.60 115.20)" d="M0 25l1-48 1-7 1 53 1-36 1 60 1 3 1-116 1 32 1 54 1-59 1 91 1-76 1 52 1-42 1 44 1 14 1-86 1 15 1 54 1 18 1-91 1 19 1 51 1-61 1 62 1-3 1-44 1 47 1-66 1 74 1-54 1-2 1 47 1-9 1-40 1 12 1 27 1 11 1-46 1 53 1-48 1 26 1-29 1 51 1-67 1 4 1 58 1-54 1 39 1 12 1-49 1 5 1 39 1 18 1-64 1 1 1 63 1-70 1 87 1-90 1 61 1-49 1 53 1-13 1-44 1 57 1-62 1 64 1-60 1 61 1-47 1-12 1 59 1-71 1 66 1-59 1 60 1-7 1-49 1 61 1-54 1-19 1 52 1-42 1 61 1-57 1 67 1-11 1-62 1 78 1-79 1 0 1 58 1-50 1 54 1-3 1-59 1 44 1-25 1 4 1 20 1 41 1-85 1 9 1 53 1-47 1 37 1-38 1 62 1-13 1-54 1 44 1-53 1 7 1 58 1-41 1 30 1-51 1 66 1-11 1-52 1 56 1-51 1 60 1-69 1 13 1 33 1 45 1-94 1 84 1-97 1 77 1-45 1 47 1-49 1-3 1 59 1-75 1 59 1-45 1 47 1 7 1-53 1 40 1-49 1 53 1-46 1-11 1 72 1-55 1 43 1-57 1 73 1-17 1-51 1 5 1 42 1-40 1 38 1-29 1 34 1-48 1 63 1-20 1-23 1-8 1 28 1 12 1-54 1-7 1 58 1-43 1 34 1-1 1-30 1 23 1-26 1 34 1-33 1 47 1-39 1 37 1-59 1 54 1-50 1 69 1-111 1 16 1 102 1-83 1 70 1-70 1 55 1 2 1-52 1 66 1-74 1 14 1 68 1-61 1 30 1-30 1 24 1-42 1 63 1-63 1 70 1 2 1-79 1 13 1 54 1-5 1-46 1 53 1-59 1 52 1-52 1 52 1-51 1 21 1 28 1 10 1-60 1 57 1-45 1 51 1-55 1 45 1-42 1 10 1 21 1-1 1-26 1 0 1 29 1-17 1 15 1-23 1 24 1-22 1 20 1-20 1 25 1-22 1 21 1 36 1-90 1 12 1 49 1-35 1 41 1-50 1 49 1-37 1 28 1 2 1-41 1-34 1 116 1-84 1 56 1-45 1 33 1-30 1 45 1-66 1 70 1-14 1-49 1 70 1-84 1 25 1 36 1-47 1 63 1-91 1 113 1-35 1-68 1 26 1 39 1-74 1 83 1 23 1-76 1 35 1-55 1 15 1 57 1-5 1-55 1 16 1 43 1-8 1-41 1-15 1 62 1-14 1-45 1 81 1-82 1 63 1-63 1 8 1 43 1-1 1-47 1-4 1 67 1 1 1-68 1-3 1 69 1-3 1-63 1 22 1 28 1-33 1 32 1-1 1-22 1 47 1-89 1 80 1-59 1-8 1 76 1-11 1-50 1 51 1-63 1 60 1-50 1 0 1 42 1 17 1-67 1 22 1 25 1-45 1 62 1-54 1 35 1 25 1-54 1 51 1-72 1 17 1 35 1 4 1-41 1 51 1-50 1-10 1 55 1 0 1-46 1 42 1-39 1-20 1 69 1-8 1-47 1 51 1-39 1-7 1 27 1-48 1 72 1-58 1 47 1-42 1 37 1 9 1-43 1 34 1-49 1 24 1 30 1 2 1-56 1 63 1-61 1 47 1-41 1 43 1-25 1 30 1-49 1 10 1 40 1-1 1-50 1 9 1 45 1-55 1 55 1-54 1 64 1-4 1-68 1 0 1 43 1 29 1-72 1 73 1-57 1-43 1 86 1 10 1-69 1 5 1 60 1-70 1 99 1-29 1-88 1 88 1-59 1 70 1-60 1-17 1 75 1-20 1-38 1 33 1-32 1 35 1-41 1 12 1 43 1-70 1 52 1 0 1-25 1 32 1-41 1 10 1 30 1 21 1-78 1 63 1-52 1-4 1 53 1-37 1 36 1-6 1-44 1 7 1 71 1-23 1-52 1 71 1-88 1 87 1-83 1 15 1 53 1 6 1-62 1 11 1 53 1 12 1-87 1 69 1-55 1 47 1-54 1 77 1-67 1-4 1 59 1 3 1-73 1 24 1 37 1-61 1 61 1-87 1 101 1 29 1-117 1 30 1 65 1-12 1-64 1 13 1 57 1-76 1 87 1-24 1-68 1-3 1 90 1-61 1 47 1-4 1-52 1-6 1 54 1-66 1 81 1-71 1 59 1 14 1-68 1-1 1 68 1-76 1 74 1-46 1 50 1-65 1 41 1 38 1-102 1 11 1 83 1-95 1 87 1-69 1 52 1-43 1 40 1-2 1-29 1-4 1 51 1-74 1 77 1-59 1 35 1-26 1 23 1 5 1-33 1 0 1 33 1-1 1-22 1 18 1-24 1 27 1-36 1 44 1-31 1 19 1-24 1 53 1-53 1-42 1 78 1 4 1-45 1 5 1 28 1-34 1 58 1-76 1 78 1-83 1 72 1-50 1 52 1 6 1-78 1 63 1-52 1 2 1 52 1-71 1 80 1-67 1 74 1-12 1-54 1-26 1 74 1-3 1-28 1-35 1 69 1-42 1 66 1-35 1-29 1 37 1-50 1 48 1-43 1 16 1 32 1-16 1-28 1-3 1 48 1-36 1 22 1-18 1 15 1 28 1-86 1 28 1 43 1-7 1-32 1 31 1-45 1 56 1-48 1 40 1-26 1 1 1 11 1 24 1-47 1 3 1 41 1-7 1-44 1 45 1-48 1 54 1-35 1-15 1 53 1 2 1-47 1-3 1 53 1-57 1 64 1-71 1 89 1-105 1 71 1-2 1-58 1 85 1-106 1 5 1 68 1-30 1 56 1-15 1-67 1 65 1-63 1 67 1-45 1 4 1 30 1 8 1-40 1-7 1 33 1 5 1-26 1 27 1-32 1-11 1 43 1 4 1-39 1 39 1-43 1 5 1 28 1 17 1-39 1-17 1 55 1-73 1 79 1-52 1 47 1-6 1-44 1 56 1-74 1 25 1 43 1 17 1-76 1-2 1 61 1-1 1-65 1 70 1-83 1 98 1-52 1-33 1 52" stroke="#0072BD" stroke-width="0.7" fill="none" vector-effect="non-scaling-stroke" opacity="0.8"/>
<path transform="matrix(0.33298 0.00000 0.00000 0.50000 787.60 115.20)" d="M0 -20l1 45 1-9 1-33 1 7 1 23 1 30 1-84 1 9 1 51 1 21 1-73 1 16 1 41 1-15 1-20 1-20 1 47 1 4 1-44 1-6 1 69 1-19 1-44 1-2 1 44 1-7 1-28 1-17 1 46 1 15 1-46 1 9 1 27 1-5 1-36 1 19 1 17 1 9 1-42 1 6 1 25 1-3 1-21 1-1 1 39 1-9 1-35 1 3 1 26 1 9 1-43 1 9 1 33 1 9 1-50 1 1 1 55 1-1 1-45 1-13 1 46 1 0 1-40 1-5 1 42 1 2 1-34 1-11 1 47 1 1 1-34 1-7 1 44 1-7 1-53 1 14 1 48 1-16 1-34 1 10 1 45 1-26 1-30 1 4 1 47 1 11 1-59 1-9 1 56 1-3 1-43 1 6 1 27 1 15 1-48 1-5 1 43 1-9 1-17 1-1 1 17 1 24 1-59 1 5 1 48 1-10 1-30 1-4 1 61 1-16 1-49 1 1 1 40 1-6 1-33 1 12 1 28 1-5 1-39 1 11 1 33 1 7 1-40 1-14 1 57 1-19 1-23 1-7 1 52 1-5 1-59 1 17 1 37 1 6 1-43 1-1 1 48 1-24 1-38 1 11 1 41 1 4 1-40 1-10 1 35 1 6 1-36 1-11 1 60 1-8 1-32 1-19 1 50 1-2 1-41 1 8 1 32 1-3 1-27 1 2 1 24 1 1 1-37 1 17 1 20 1-3 1-18 1-10 1 40 1-7 1-43 1 18 1 19 1-1 1-21 1-2 1 18 1 10 1-28 1 11 1 28 1-5 1-49 1 2 1 44 1 20 1-66 1-3 1 70 1-5 1-59 1 9 1 30 1 1 1-40 1-12 1 72 1-2 1-40 1-2 1 17 1-2 1-21 1-7 1 44 1 3 1-52 1-5 1 63 1-18 1-42 1 15 1 30 1 5 1-48 1 5 1 40 1 2 1-42 1 18 1 19 1-3 1-38 1 17 1 24 1 12 1-48 1 8 1 31 1-12 1-14 1-5 1 21 1 2 1-17 1 5 1 9 1 2 1-22 1 3 1 18 1 4 1-22 1 2 1 18 1 24 1-68 1 17 1 35 1-5 1-25 1-9 1 45 1-11 1-22 1-6 1 30 1 23 1-79 1 19 1 48 1-11 1-27 1 2 1 35 1-4 1-46 1 5 1 38 1 0 1-47 1 17 1 32 1 8 1-46 1-29 1 98 1-30 1-57 1 24 1 25 1 12 1-56 1 23 1 29 1-13 1-44 1 12 1 49 1-8 1-27 1-2 1 34 1-6 1-29 1-21 1 50 1-9 1-33 1 13 1 58 1-16 1-56 1 11 1 27 1 1 1-40 1-1 1 54 1 8 1-65 1-4 1 61 1-5 1-42 1 13 1 21 1 0 1-26 1 6 1 18 1 26 1-65 1 5 1 46 1 12 1-65 1 11 1 43 1 3 1-53 1 4 1 39 1 1 1-40 1 3 1 48 1-17 1-17 1-22 1 54 1-17 1-23 1 1 1 36 1 10 1-63 1 15 1 28 1 2 1-33 1 5 1 37 1-3 1-48 1 8 1 41 1-6 1-31 1-15 1 57 1-11 1-30 1 3 1 32 1-16 1-16 1-19 1 59 1-13 1-40 1 5 1 31 1 6 1-33 1-13 1 38 1 3 1-21 1-13 1 41 1 4 1-45 1 4 1 32 1-1 1-22 1-16 1 44 1 0 1-34 1-11 1 41 1 3 1-32 1-8 1 34 1 17 1-47 1-15 1 61 1-23 1-36 1 5 1 56 1-8 1-42 1-31 1 73 1 5 1-52 1-4 1 52 1 20 1-65 1-16 1 58 1 3 1-51 1 13 1 38 1 12 1-55 1 3 1 29 1-2 1-26 1-8 1 34 1 13 1-36 1-19 1 40 1 1 1-18 1-11 1 28 1 6 1-23 1-8 1 50 1-13 1-41 1 2 1 34 1 2 1-28 1-5 1 26 1 9 1-40 1 1 1 43 1-3 1-51 1 0 1 60 1-5 1-40 1-5 1 50 1-3 1-43 1-14 1 73 1-24 1-43 1-2 1 41 1 14 1-41 1-13 1 55 1-13 1-38 1 10 1 25 1 8 1-50 1-1 1 64 1-5 1-71 1 26 1 43 1-10 1-43 1 9 1 52 1 13 1-79 1-10 1 59 1 19 1-74 1 28 1 36 1-2 1-45 1-10 1 46 1 4 1-60 1 22 1 42 1-5 1-47 1 11 1 44 1-16 1-46 1 30 1 33 1-16 1-29 1-23 1 84 1-20 1-48 1-13 1 67 1-10 1-37 1-4 1 31 1 3 1-23 1-5 1 46 1-5 1-56 1 20 1 19 1 1 1-20 1-4 1 27 1-2 1-29 1 13 1 13 1 1 1-19 1-3 1 16 1 10 1-22 1-2 1 20 1 8 1-28 1-23 1 54 1-5 1-31 1 2 1 26 1 10 1-37 1-4 1 29 1 3 1-42 1 13 1 43 1 8 1-63 1 0 1 49 1-3 1-41 1-22 1 73 1 6 1-55 1 7 1 34 1-2 1-51 1 23 1 27 1 3 1-60 1 24 1 42 1-18 1-23 1-13 1 45 1 0 1-36 1 12 1 27 1-15 1-15 1-10 1 32 1-1 1-22 1 7 1 12 1 18 1-55 1 15 1 34 1-13 1-17 1-7 1 30 1 5 1-36 1 10 1 16 1-6 1-11 1-11 1 41 1-10 1-26 1 2 1 25 1 5 1-48 1 19 1 33 1-9 1-34 1 8 1 37 1 1 1-44 1-1 1 47 1 0 1-55 1 9 1 38 1-5 1-37 1-14 1 72 1-22 1-59 1 36 1 36 1 0 1-67 1 8 1 53 1 2 1-37 1 3 1 21 1 12 1-31 1-5 1 24 1 6 1-24 1-6 1 27 1 0 1-36 1 10 1 30 1-4 1-32 1 3 1 24 1 16 1-27 1-12 1 40 1-3 1-51 1 13 1 35 1 2 1-40 1-7 1 36 1 9 1-27 1-17 1 66 1-18 1-37 1-20 1 61 1 6 1-68 1 33 1 31 1-16 1-44" stroke="#0066B3" stroke-width="0.8" fill="none" vector-effect="non-scaling-stroke"/>
<path d="M787.60 185.50H1025.30" stroke="#7a7a7a" stroke-width="1"/>
<path d="M1025.30 185.50V263.50" stroke="#9a9a9a" stroke-width="1"/>
<path d="M787.60 185.50V263.50H1025.30" stroke="#3a3a3a" stroke-width="0.9" fill="none"/>
<path d="M787.60 263.50v-2.4M787.60 185.50v2.4M835.14 263.50v-2.4M835.14 185.50v2.4M882.68 263.50v-2.4M882.68 185.50v2.4M930.22 263.50v-2.4M930.22 185.50v2.4M977.76 263.50v-2.4M977.76 185.50v2.4M1025.30 263.50v-2.4M1025.30 185.50v2.4M787.60 263.50h2.4M1025.30 263.50h-2.4M787.60 237.50h2.4M1025.30 237.50h-2.4M787.60 211.50h2.4M1025.30 211.50h-2.4M787.60 185.50h2.4M1025.30 185.50h-2.4" stroke="#333" stroke-width="0.8"/>
<text class="tx" x="787.60" y="272.90">0</text>
<text class="tx" x="835.14" y="272.90">500</text>
<text class="tx" x="882.68" y="272.90">1000</text>
<text class="tx" x="930.22" y="272.90">1500</text>
<text class="tx" x="977.76" y="272.90">2000</text>
<text class="tx" x="1025.30" y="272.90">2500</text>
<text class="tk e" x="784.40" y="266.00">0</text>
<text class="tk e" x="784.40" y="240.00">0.02</text>
<text class="tk e" x="784.40" y="214.00">0.04</text>
<text class="tk e" x="784.40" y="188.00">0.06</text>
<text class="tl" x="906.45" y="183.10">Frequency domain analysis</text>
<text class="tl" x="906.45" y="281.80">frequency (Hz)</text>
<text class="tl" transform="translate(769.38 224.50) rotate(-90)">|Y(f)|</text>
<path transform="matrix(0.33343 0.00000 0.00000 0.50000 787.60 263.50)" d="M0 -2l1 2 1-2 1 2 1 0 1-1 1 1 1-1 1 0 1-1 1-1 1 2 1 1 1-13 1-26 1 37 1-5 1 7 1-2 1-3 1 4 1-3 1-3 1 7 1-6 1 5 1-7 1 6 1 1 1-9 1 5 1 4 1-1 1-37 1 16 1 21 1-7 1 8 1-10 1 8 1 1 1-7 1-1 1 10 1-2 1-5 1 6 1-8 1 8 1-16 1 9 1 6 1-7 1 6 1 3 1-14 1 10 1-22 1 25 1-6 1-3 1 9 1-1 1-7 1 8 1-16 1 7 1 9 1-38 1 34 1-4 1 8 1-12 1 9 1 1 1 3 1-1 1-6 1 0 1 7 1-9 1 8 1-1 1-6 1-4 1 11 1 0 1-5 1 4 1-4 1-4 1 8 1 1 1-16 1-27 1 38 1 5 1-5 1 6 1-15 1-37 1 52 1-1 1-3 1 2 1 1 1-4 1 5 1 0 1-1 1 1 1-2 1 2 1-1 1-2 1 3 1 0 1-2 1 2 1-1 1-2 1 3 1-1 1-1 1 0 1 1 1 1 1-4 1 1 1 3 1-3 1 2 1 0 1-38 1-86 1 113 1-66 1 77 1 1 1-6 1 2 1 3 1 1 1-3 1 0 1 2 1-5 1 6 1 0 1-5 1 4 1-1 1 0 1 1 1 1 1-7 1 3 1 3 1 0 1-4 1 2 1 3 1 0 1-5 1 5 1-2 1-1 1 3 1-3 1 3 1-1 1-2 1-1 1 4 1-1 1-3 1 1 1 2 1-1 1 2 1-3 1 3 1-6 1 6 1-7 1 7 1-4 1 4 1 0 1-5 1 1 1 4 1 0 1-6 1 6 1-2 1-4 1 5 1 0 1-4 1 4 1-1 1 1 1-1 1-1 1 3 1-4 1 4 1-1 1-4 1 3 1 2 1-1 1 1 1-2 1 2 1-2 1 2 1-2 1 1 1 1 1-3 1-1 1 4 1-2 1 2 1-1 1 1 1 0 1-2 1 1 1 1 1 0 1-1 1 1 1-5 1-3 1 6 1-7 1 6 1 0 1-8 1-23 1 28 1-7 1 10 1 0 1-17 1 19 1-15 1-1 1 14 1-1 1-23 1 8 1 15 1-13 1 15 1-5 1-27 1 14 1 18 1-4 1-18 1 2 1 20 1 1 1-27 1 27 1-6 1-7 1 12 1 0 1-20 1 8 1 12 1 1 1-10 1-15 1 23 1-12 1 13 1-6 1 7 1 0 1-8 1 8 1-15 1 1 1 15 1-6 1-49 1 52 1-21 1-6 1 29 1-3 1-30 1 6 1 22 1-47 1 41 1 1 1-27 1-7 1 40 1 2 1-21 1 19 1-30 1 28 1-42 1-37 1 77 1 5 1-31 1 28 1-59 1 56 1-107 1 65 1 48 1-7 1-67 1 36 1 37 1-2 1-20 1-12 1 33 1-101 1 93 1 11 1-49 1 48 1-25 1-26 1 51 1-35 1 35 1-24 1 25 1-40 1 40 1-4 1-42 1 46 1-51 1 47 1-13 1-2 1 16 1 2 1-14 1 17 1-14 1 11 1 4 1 0 1-1 1 1 1-1 1 0 1-2 1 2 1-3 1 2 1 1 1 1 1-2 1 1 1-5 1 4 1 2 1 0 1-3 1 3 1-3 1 3 1-3 1 0 1 3 1-4 1 3 1-5 1 5 1-4 1 4 1-1 1 1 1-5 1 6 1-5 1 5 1-3 1 3 1-5 1 5 1-4 1 3 1-3 1 3 1 1 1-3 1-4 1 6 1 0 1-7 1 8 1-6 1-7 1 11 1 2 1-7 1 2 1 5 1-5 1 4 1 0 1-5 1 0 1 5 1 1 1-6 1 2 1 4 1-6 1 5 1-3 1 4 1-5 1 5 1 0 1-5 1 3 1-5 1-3 1 9 1 0 1-3 1 2 1-2 1 3 1-4 1 1 1 4 1-1 1-6 1 6 1-4 1 4 1-5 1 1 1 5 1-5 1 4 1-3 1 3 1-8 1 8 1 1 1-6 1 5 1-1 1-3 1 4 1 1 1-7 1 0 1 5 1-5 1 6 1 0 1-4 1 4 1-4 1 4 1-5 1 5 1-3 1 0 1 4 1-1 1-6 1 0 1 6 1 1 1-7 1 6 1-7 1 3 1 4 1 1 1-5 1 5 1-5 1-11 1 15 1 1 1-4 1 3 1-9 1 3 1 7 1-8 1 7 1-2 1 3 1 0 1-4 1 0 1 4 1-1 1-1 1 1 1-3 1 0 1 4 1 0 1-6 1 5 1-2 1-1 1 4 1-4 1 4 1-3 1 3 1-4 1 4 1-3 1 2 1 0 1 1 1-2 1 1 1 0 1 1 1 0 1-1 1-1 1 2 1-2 1 2 1 0 1-2 1 2 1-2 1 0 1 2 1 0 1-1 1 0 1 1 1 0 1-2 1 2 1-2 1 2 1-1 1 1 1-1 1 1 1-1 1 1 1-2 1 0 1 2 1 0 1-1 1 1 1-1 1 0 1 1 1 0 1-1 1 0 1 1 1-1 1 1 1-1 1 1 1 0 1-1" stroke="#0072BD" stroke-width="0.6" fill="none" vector-effect="non-scaling-stroke" opacity="0.7"/>
<path transform="matrix(0.33343 0.00000 0.00000 0.50000 787.60 263.50)" d="M0 -1l1 1 1 0 1 0 1-1 1 1 1 0 1-1 1 0 1 0 1 0 1 0 1-2 1 3 1-2 1-9 1 9 1 2 1-2 1-1 1 1 1 1 1 1 1-3 1-1 1 3 1-1 1-2 1 0 1 3 1 0 1-3 1-7 1 9 1 0 1-9 1 6 1 4 1-2 1-3 1-2 1 6 1 2 1-5 1-1 1 4 1 1 1-3 1-2 1 5 1-1 1-2 1-1 1 2 1 3 1-4 1-6 1 6 1 3 1-3 1 0 1 3 1-1 1-3 1-1 1 5 1 0 1-7 1-6 1 9 1 4 1-3 1-6 1 6 1 4 1-2 1-4 1 5 1 1 1-4 1-1 1 4 1-1 1-3 1 0 1 4 1 0 1-3 1 1 1 1 1 0 1-3 1 1 1 3 1-5 1-11 1 13 1 3 1 1 1-4 1-21 1 25 1-1 1-2 1 1 1 1 1 1 1-2 1 2 1 0 1 0 1-1 1 0 1 1 1 0 1-1 1 0 1 1 1 0 1-1 1-1 1 2 1-1 1 0 1 0 1 0 1 1 1-2 1 1 1 1 1-1 1 0 1-2 1 2 1-11 1-25 1 17 1 19 1 1 1-3 1 0 1 2 1 1 1-1 1 0 1 0 1 1 1-2 1 0 1 2 1-1 1-1 1 1 1 0 1 1 1-3 1 1 1 1 1 0 1-1 1 1 1 1 1 0 1-3 1 2 1 1 1 0 1-1 1-1 1 2 1-1 1 0 1-1 1 2 1-1 1-1 1 0 1 1 1 1 1-2 1 0 1 2 1 0 1-2 1-1 1 3 1 0 1-1 1 0 1 1 1 0 1-2 1 1 1 1 1 0 1-1 1-1 1 1 1 0 1-1 1 1 1 0 1 0 1 0 1 0 1 1 1 0 1-1 1-1 1 1 1 1 1-1 1 0 1 1 1 0 1-1 1 0 1 1 1-1 1 0 1-1 1 2 1 0 1-1 1 0 1 1 1 0 1-1 1 0 1 1 1 0 1-1 1 1 1 0 1 0 1-2 1-3 1 3 1-1 1-3 1-2 1 5 1-3 1-7 1 3 1 7 1 0 1-4 1 2 1 4 1-2 1-3 1-4 1 6 1 0 1-6 1-2 1 10 1-5 1-4 1 5 1 4 1-4 1-7 1 4 1 7 1 1 1-11 1 7 1 4 1-1 1-7 1 3 1 4 1 0 1-3 1 0 1 4 1-2 1-9 1 2 1 8 1 1 1-3 1 2 1 1 1 0 1-8 1-1 1 10 1-6 1-12 1 4 1 11 1 2 1-14 1-5 1 16 1-2 1-13 1-11 1 18 1 1 1-20 1 13 1 13 1 2 1-10 1-5 1 13 1-2 1-16 1-19 1 33 1 5 1-19 1-3 1 19 1-3 1-40 1 23 1 23 1-7 1-33 1 17 1 22 1-2 1-14 1 3 1 12 1-8 1-35 1 18 1 28 1-1 1-16 1-6 1 22 1 0 1-20 1 7 1 14 1 0 1-11 1 2 1 5 1 4 1-20 1 9 1 7 1 1 1-4 1-2 1 8 1 3 1-3 1 3 1 1 1 0 1 0 1-1 1 1 1-1 1-1 1 1 1 0 1 0 1 0 1 0 1 1 1-1 1-1 1 1 1 1 1 0 1-2 1 0 1 2 1 0 1-1 1-1 1 2 1-1 1 0 1-1 1 1 1 0 1-3 1 3 1 0 1 1 1-2 1 0 1 2 1 0 1-3 1 1 1 2 1-1 1-2 1 2 1 0 1 1 1-2 1-1 1 2 1 0 1-1 1-1 1 3 1-2 1-4 1 3 1 3 1 0 1-1 1-1 1 1 1 0 1-1 1 0 1 1 1 1 1-2 1-1 1 3 1-1 1 0 1-1 1 2 1 0 1-3 1 0 1 3 1-2 1-1 1-1 1 3 1 0 1-1 1 0 1 0 1 1 1-1 1-1 1 3 1-1 1-1 1 0 1 1 1 0 1-3 1 2 1 2 1-1 1-2 1 1 1 1 1 0 1-1 1-1 1 3 1-1 1-1 1-1 1 2 1 1 1-2 1-2 1 2 1 1 1-2 1 0 1 2 1 0 1-1 1-2 1 3 1 0 1-3 1 2 1 2 1-1 1-1 1-2 1 3 1 1 1-3 1-1 1 3 1 0 1-2 1 2 1 1 1 0 1-4 1-4 1 7 1 1 1-2 1 0 1 1 1 1 1-5 1 2 1 2 1 1 1-2 1 0 1 2 1 0 1-2 1 0 1 1 1 0 1-1 1 1 1 1 1 0 1-2 1 0 1 1 1 1 1-2 1 0 1 2 1 0 1-1 1-1 1 2 1-1 1-1 1 1 1 1 1-1 1-1 1 1 1 1 1 0 1 0 1-1 1 1 1 0 1-1 1 0 1 1 1 0 1-1 1 0 1 1 1 0 1-1 1 0 1 1 1 0 1 0 1 0 1 0 1 0 1-1 1 1 1 0 1 0 1-1 1 0 1 1 1 0 1-1 1 0 1 1 1 0 1-1 1 0 1 1 1 0 1-1 1 0 1 1 1 0 1-1 1 0 1 1 1 0 1-1" stroke="#0066B3" stroke-width="0.7" fill="none" vector-effect="non-scaling-stroke"/>
<path d="M1111.20 76.00H1349.20" stroke="#c4c4c4" stroke-width="1"/>
<path d="M1349.20 76.00V154.40" stroke="#9a9a9a" stroke-width="1"/>
<path d="M1111.20 76.00V154.40H1349.20" stroke="#3a3a3a" stroke-width="0.9" fill="none"/>
<path d="M1111.20 154.40v-2.4M1111.20 76.00v2.4M1145.20 154.40v-2.4M1145.20 76.00v2.4M1179.20 154.40v-2.4M1179.20 76.00v2.4M1213.20 154.40v-2.4M1213.20 76.00v2.4M1247.20 154.40v-2.4M1247.20 76.00v2.4M1281.20 154.40v-2.4M1281.20 76.00v2.4M1315.20 154.40v-2.4M1315.20 76.00v2.4M1349.20 154.40v-2.4M1349.20 76.00v2.4M1111.20 148.59h2.4M1349.20 148.59h-2.4M1111.20 124.40h2.4M1349.20 124.40h-2.4M1111.20 100.20h2.4M1349.20 100.20h-2.4M1111.20 76.00h2.4M1349.20 76.00h-2.4" stroke="#333" stroke-width="0.8"/>
<text class="tx" x="1111.20" y="163.80">0</text>
<text class="tx" x="1145.20" y="163.80">0.05</text>
<text class="tx" x="1179.20" y="163.80">0.1</text>
<text class="tx" x="1213.20" y="163.80">0.15</text>
<text class="tx" x="1247.20" y="163.80">0.2</text>
<text class="tx" x="1281.20" y="163.80">0.25</text>
<text class="tx" x="1315.20" y="163.80">0.3</text>
<text class="tx" x="1349.20" y="163.80">0.35</text>
<text class="tk e" x="1108.00" y="151.09">-1</text>
<text class="tk e" x="1108.00" y="126.90">0</text>
<text class="tk e" x="1108.00" y="102.70">1</text>
<text class="tk e" x="1108.00" y="78.50">2</text>
<text class="tl" x="1230.20" y="73.60">Time domain analysis</text>
<text class="tl" x="1230.20" y="172.70">Time (s)</text>
<text class="tl" transform="translate(1100.38 115.20) rotate(-90)">Amplitude</text>
<path transform="matrix(0.33341 0.00000 0.00000 0.50000 1111.20 124.40)" d="M0 12l1-22 1 20 1-19 1 24 1-24 1 21 1-23 1 17 1-15 1-3 1 20 1-15 1 15 1-1 1-15 1 17 1-14 1 12 1-13 1-1 1 13 1-18 1 22 1-2 1-15 1-15 1 55 1-51 1 31 1-30 1 30 1-23 1 17 1 3 1-17 1 11 1-11 1 12 1-10 1 33 1-60 1 13 1 36 1-3 1-27 1 8 1 15 1-17 1 13 1 1 1-12 1 10 1-11 1 10 1-7 1-22 1 61 1-11 1-45 1 10 1 21 1 1 1-21 1 18 1-16 1 12 1-9 1 10 1-11 1 1 1 9 1-11 1 13 1 0 1-20 1 7 1 17 1-18 1 11 1 8 1-17 1 1 1 7 1 3 1-11 1 14 1-35 1 67 1-61 1 38 1-36 1 31 1-24 1 21 1-20 1 17 1-15 1 12 1-13 1-17 1 48 1-10 1-22 1 0 1 16 1-12 1 13 1 1 1-17 1 18 1-15 1 11 1-10 1 8 1-9 1 10 1-11 1-51 1 113 1-27 1-69 1 10 1 51 1-30 1 17 1 9 1-29 1 9 1 11 1 2 1-18 1 18 1-17 1-21 1 77 1-77 1 64 1-25 1-27 1 30 1-24 1 23 1-24 1 5 1 16 1-36 1 49 1-42 1 34 1-23 1 21 1-22 1 17 1-15 1 12 1-13 1 17 1-14 1 18 1-9 1-7 1 8 1-6 1 10 1-11 1-1 1 7 1 1 1-7 1 0 1 8 1-1 1-11 1 3 1 5 1 3 1-7 1 10 1-11 1 10 1-10 1 9 1-10 1 9 1-10 1 10 1-10 1 12 1-12 1 13 1-32 1 64 1-71 1 47 1-29 1-2 1 31 1-6 1-19 1 19 1-17 1-6 1 21 1-19 1 26 1-23 1 16 1-15 1 15 1 6 1-18 1 13 1-16 1 15 1-19 1 23 1-22 1 17 1-12 1 14 1-13 1-3 1 16 1-23 1 31 1-6 1-16 1 14 1-18 1 15 1-8 1-7 1 21 1-6 1-14 1 6 1 8 1-1 1-10 1 14 1-14 1 13 1-13 1 17 1-26 1 6 1 16 1-21 1 24 1 10 1-39 1 40 1-36 1 23 1-17 1 20 1-20 1-4 1 21 1-18 1 15 1-14 1 20 1-34 1 46 1-50 1 53 1-48 1 41 1-13 1-14 1-1 1 22 1-19 1 11 1 6 1-22 1 2 1 18 1-4 1-14 1 16 1-14 1 15 1-12 1 12 1-18 1 15 1-14 1 20 1-19 1 11 1-9 1 0 1 12 1 0 1-11 1-4 1 17 1-4 1-13 1 15 1-12 1-1 1 13 1-2 1-12 1 13 1-10 1 0 1 9 1-7 1 8 1-18 1 21 1-1 1-15 1 11 1-7 1 1 1 6 1-6 1 7 1-9 1 9 1-19 1 31 1-26 1 21 1-19 1 16 1-16 1 17 1-4 1-14 1 17 1-13 1-2 1 13 1-12 1 12 1-12 1 11 1-18 1 25 1-20 1 17 1-14 1 10 1-11 1 16 1-2 1-19 1 18 1-14 1 14 1-11 1 14 1-22 1 3 1 17 1-19 1 21 1-16 1 13 1-17 1 18 1-1 1-15 1 14 1-11 1-3 1 14 1-12 1 16 1-4 1-11 1 0 1 9 1-11 1 10 1-9 1 10 1-9 1 9 1 3 1-14 1-5 1 23 1 1 1-20 1-3 1 20 1-6 1-6 1 0 1 7 1-2 1-5 1 0 1 8 1 0 1-12 1 10 1-8 1 12 1-14 1 4 1 8 1-1 1-9 1 12 1-14 1 3 1 9 1 8 1-21 1 16 1-17 1 15 1-10 1-1 1 11 1-18 1 18 1 0 1-13 1 12 1-15 1 4 1 15 1-3 1-11 1-5 1 20 1-4 1-11 1-4 1 15 1-12 1 12 1-11 1 15 1-17 1 16 1-15 1 16 1-16 1 11 1 0 1-10 1 9 1-7 1 10 1-11 1 10 1-10 1 9 1-9 1 9 1-10 1 1 1 11 1-10 1 8 1-8 1 5 1-4 1 7 1 1 1-11 1 2 1 6 1-2 1-4 1 1 1 4 1-5 1 7 1 1 1-8 1 8 1-8 1 0 1 5 1-5 1 7 1-10 1 14 1-1 1-14 1 11 1-8 1 9 1-13 1 15 1-12 1 0 1 12 1-14 1 15 1-2 1-11 1 0 1 8 1-11 1 16 1-11 1 11 1 3 1-28 1 9 1 21 1-22 1 15 1-11 1 12 1-1 1-10 1-1 1 10 1-8 1 7 1-9 1 9 1-2 1-6 1 11 1-12 1-7 1 20 1 1 1-17 1 2 1 13 1-10 1 7 1-18 1 24 1-23 1 18 1-13 1 15 1 1 1-14 1 15 1-16 1 13 1-12 1-4 1 19 1-2 1-11 1-4 1 15 1-3 1-13 1 19 1-22 1 2 1 19 1-2 1-16 1 2 1 13 1 3 1-17 1 1 1 14 1 1 1-20 1 17 1-17 1 3 1 24 1-23 1 14 1-13 1 19 1-4 1-18 1 2 1 17 1-20 1 17 1 2 1-21 1 18 1-12 1 19 1-30 1-2 1 33 1-23 1 21 1-3 1-19 1 5 1 12 1-14 1 12 1 2 1-15 1 13 1-9 1 0 1 18 1-5 1-18 1 22 1-19 1 14 1-15 1-3 1 24 1-20 1 14 1-13 1 12 1 3 1-19 1 18 1-15 1 2 1 12 1 5 1-21 1 19 1-21 1 1 1 19 1-16 1 12 1-10 1 10 1-10 1 9 1 0 1-10 1 2 1 8 1 2 1-12 1 0 1 8 1 0 1-5 1 6 1-7 1 2 1 5 1-16 1 25 1-20 1 16 1 0 1-12 1 8 1-10 1 3 1 8 1 1 1-9 1 1 1 3 1 3 1-6 1 0 1 6 1-1 1-9 1 2 1 8 1-10 1 9 1 3 1-15 1 22 1-25 1 9 1 9 1 2 1-15 1 15 1-13 1-10 1 26 1-25 1 24 1-19 1 18 1-19 1 19 1-18 1 16" stroke="#0072BD" stroke-width="0.7" fill="none" vector-effect="non-scaling-stroke" opacity="0.8"/>
<path transform="matrix(0.33341 0.00000 0.00000 0.50000 1111.20 124.40)" d="M0 -9l1 19 1-3 1-13 1 0 1 14 1-2 1-11 1-3 1 14 1-2 1-11 1 0 1 13 1 0 1-11 1 0 1 11 1-2 1-10 1 0 1 12 1-1 1-10 1-1 1 11 1 25 1-52 1 6 1 29 1-3 1-20 1 2 1 14 1-1 1-12 1 2 1 8 1 1 1-7 1-26 1 51 1-6 1-34 1 6 1 23 1-4 1-11 1-1 1 10 1 0 1-9 1-1 1 9 1-2 1-5 1-21 1 33 1 6 1-34 1 11 1 18 1-2 1-15 1 2 1 13 1-3 1-9 1 1 1 6 1-1 1-5 1-3 1 11 1-1 1-12 1 4 1 10 1-3 1-7 1 0 1 11 1-5 1-6 1-1 1 10 1 0 1-15 1-9 1 57 1-21 1-33 1 5 1 22 1-6 1-11 1 2 1 10 1-2 1-12 1-11 1 38 1-13 1-15 1 1 1 13 1-1 1-10 1-2 1 16 1-3 1-10 1 2 1 8 1-2 1-6 1-3 1 9 1 50 1-108 1 20 1 60 1-8 1-39 1 12 1 16 1 9 1-24 1 7 1 7 1 3 1-16 1 3 1 11 1 41 1-73 1-3 1 59 1-20 1-25 1 8 1 16 1 1 1-17 1 2 1 13 1 7 1-40 1 6 1 33 1-4 1-17 1-2 1 16 1-4 1-8 1-4 1 14 1 2 1-12 1 1 1 7 1 1 1-5 1-1 1 5 1-1 1-5 1 0 1 7 1 1 1-8 1-2 1 8 1-3 1-4 1 1 1 6 1 2 1-8 1 0 1 5 1 2 1-7 1-2 1 9 1-2 1-6 1-1 1 11 1-2 1-17 1-16 1 63 1-21 1-25 1-2 1 27 1-7 1-13 1 1 1 13 1 0 1-16 1 1 1 15 1-1 1-11 1-1 1 11 1-1 1-8 1-2 1 14 1-2 1-16 1 7 1 9 1-1 1-10 1 1 1 8 1-1 1-9 1-8 1 29 1-8 1-12 1 1 1 9 1-2 1-6 1-6 1 19 1-5 1-10 1 3 1 6 1 0 1-8 1-1 1 13 1-4 1-9 1-2 1 12 1 2 1-15 1-6 1 21 1 12 1-37 1 3 1 33 1-10 1-15 1 0 1 17 1-5 1-11 1 1 1 8 1 7 1-19 1-12 1 44 1 1 1-43 1 4 1 32 1-11 1-13 1-1 1 14 1-1 1-11 1 2 1 10 1-3 1-8 1 0 1 10 1-1 1-11 1 4 1 8 1 1 1-10 1-2 1 11 1 4 1-16 1 5 1 4 1 2 1-7 1-2 1 10 1 0 1-12 1 3 1 7 1 2 1-7 1-2 1 8 1 0 1-8 1 1 1 7 1-1 1-8 1 2 1 7 1 2 1-12 1 0 1 12 1-3 1-4 1 0 1 3 1 1 1-5 1-2 1 8 1 10 1-25 1 2 1 19 1-5 1-12 1 0 1 15 1-4 1-11 1 5 1 9 1-4 1-8 1 0 1 11 1-1 1-11 1-3 1 15 1 1 1-15 1 4 1 8 1 3 1-11 1-6 1 15 1-2 1-10 1 4 1 7 1 2 1-14 1 1 1 12 1 2 1-11 1-2 1 11 1 3 1-16 1 0 1 14 1 0 1-10 1-3 1 11 1 2 1-11 1 3 1 6 1-1 1-8 1 1 1 7 1 1 1-8 1 1 1 7 1 1 1-8 1-8 1 19 1-1 1-15 1-2 1 18 1-6 1-5 1 1 1 4 1 0 1-5 1 1 1 4 1 1 1-7 1-1 1 8 1 1 1-8 1 1 1 7 1 0 1-8 1-1 1 8 1 1 1-8 1-2 1 11 1 1 1-14 1 4 1 9 1-1 1-9 1 0 1 10 1-1 1-11 1 2 1 10 1 3 1-13 1 1 1 8 1 4 1-17 1 5 1 9 1 0 1-13 1 2 1 9 1 3 1-10 1-1 1 9 1 3 1-12 1 0 1 8 1 0 1-6 1 1 1 5 1 1 1-7 1-1 1 8 1-1 1-6 1-1 1 7 1 2 1-8 1 1 1 3 1 0 1-4 1 2 1 5 1-1 1-6 1 1 1 5 1-2 1-3 1 0 1 4 1 1 1-6 1 1 1 4 1 3 1-8 1 0 1 4 1 2 1-5 1-3 1 10 1 1 1-9 1 0 1 6 1 1 1-8 1 0 1 10 1-1 1-9 1-2 1 11 1-2 1-7 1 0 1 6 1 3 1-7 1 0 1 6 1 3 1-19 1 4 1 12 1 1 1-11 1 2 1 8 1 1 1-8 1-1 1 9 1-1 1-6 1-2 1 7 1-1 1-6 1-1 1 11 1-1 1-12 1 1 1 14 1-2 1-11 1 2 1 7 1 1 1-11 1-5 1 16 1-1 1-9 1 0 1 10 1 1 1-13 1 2 1 11 1 2 1-17 1 6 1 7 1 2 1-10 1-3 1 11 1 3 1-13 1-1 1 15 1-2 1-13 1 3 1 10 1 0 1-10 1 3 1 7 1 0 1-16 1 3 1 12 1 7 1-20 1 1 1 12 1 0 1-11 1-1 1 14 1 0 1-14 1-2 1 15 1 2 1-17 1 6 1 6 1 8 1-22 1-4 1 27 1-2 1-18 1 0 1 16 1-2 1-10 1-3 1 11 1 1 1-10 1 1 1 8 1 2 1-10 1-3 1 15 1 2 1-17 1 2 1 9 1 4 1-13 1 1 1 10 1 0 1-12 1-2 1 17 1-5 1-11 1 2 1 10 1 3 1-16 1 0 1 17 1-2 1-17 1 6 1 8 1 0 1-9 1 2 1 6 1 1 1-8 1 1 1 6 1 0 1-6 1 0 1 5 1 0 1-4 1-1 1 6 1 0 1-4 1-7 1 19 1-3 1-14 1 3 1 8 1-2 1-9 1 3 1 6 1 2 1-7 1 0 1 3 1 0 1-3 1 0 1 5 1-1 1-6 1 1 1 6 1 0 1-5 1-5 1 13 1 2 1-18 1 7 1 7 1 2 1-12 1 1 1 12 1 2 1-17 1-2 1 19 1-1 1-17 1 0 1 17 1-1 1-14" stroke="#0066B3" stroke-width="0.8" fill="none" vector-effect="non-scaling-stroke"/>
<path d="M1111.20 185.50H1349.20" stroke="#7a7a7a" stroke-width="1"/>
<path d="M1349.20 185.50V263.50" stroke="#9a9a9a" stroke-width="1"/>
<path d="M1111.20 185.50V263.50H1349.20" stroke="#3a3a3a" stroke-width="0.9" fill="none"/>
<path d="M1111.20 263.50v-2.4M1111.20 185.50v2.4M1158.80 263.50v-2.4M1158.80 185.50v2.4M1206.40 263.50v-2.4M1206.40 185.50v2.4M1254.00 263.50v-2.4M1254.00 185.50v2.4M1301.60 263.50v-2.4M1301.60 185.50v2.4M1349.20 263.50v-2.4M1349.20 185.50v2.4M1111.20 263.50h2.4M1349.20 263.50h-2.4M1111.20 237.50h2.4M1349.20 237.50h-2.4M1111.20 211.50h2.4M1349.20 211.50h-2.4M1111.20 185.50h2.4M1349.20 185.50h-2.4" stroke="#333" stroke-width="0.8"/>
<text class="tx" x="1111.20" y="272.90">0</text>
<text class="tx" x="1158.80" y="272.90">500</text>
<text class="tx" x="1206.40" y="272.90">1000</text>
<text class="tx" x="1254.00" y="272.90">1500</text>
<text class="tx" x="1301.60" y="272.90">2000</text>
<text class="tx" x="1349.20" y="272.90">2500</text>
<text class="tk e" x="1108.00" y="266.00">0</text>
<text class="tk e" x="1108.00" y="240.00">0.02</text>
<text class="tk e" x="1108.00" y="214.00">0.04</text>
<text class="tk e" x="1108.00" y="188.00">0.06</text>
<text class="tl" x="1230.20" y="183.10">Frequency domain analysis</text>
<text class="tl" x="1230.20" y="281.80">frequency (Hz)</text>
<text class="tl" transform="translate(1092.98 224.50) rotate(-90)">|Y(f)|</text>
<path transform="matrix(0.33385 0.00000 0.00000 0.50000 1111.20 263.50)" d="M0 -1l1 1 1-2 1 2 1-1 1 1 1-2 1 2 1 0 1-3 1 0 1 3 1-1 1-6 1-6 1 9 1 3 1-3 1-5 1 9 1-4 1 3 1-7 1 7 1-2 1-7 1 9 1-8 1 7 1-15 1 8 1 8 1 0 1-13 1-25 1 36 1-10 1 9 1 1 1-15 1 6 1 10 1 1 1-14 1 14 1-19 1 8 1 11 1-3 1-15 1 17 1-6 1-8 1 15 1 0 1-13 1 13 1-7 1 7 1-5 1 4 1-6 1-2 1 8 1-1 1-15 1 7 1 10 1 0 1-17 1 16 1-9 1 8 1-13 1 12 1-9 1-5 1 18 1 0 1-9 1 6 1-10 1 11 1-4 1-3 1 8 1-1 1-6 1 7 1-5 1-9 1 14 1 0 1-9 1 7 1-28 1 31 1-8 1 3 1 4 1-13 1 12 1-4 1 5 1 0 1-4 1 3 1-5 1 2 1 4 1 1 1-3 1 3 1-4 1 4 1-1 1 1 1-1 1-1 1 2 1 0 1-3 1 0 1 2 1 1 1-2 1 2 1-1 1 1 1-4 1 2 1 2 1-3 1 2 1 0 1-2 1 3 1-4 1 4 1-16 1-26 1 41 1-2 1 2 1-4 1 5 1-4 1 3 1 1 1-2 1-2 1 3 1 0 1-2 1 2 1-4 1 5 1-2 1-2 1 3 1-3 1 3 1-3 1 3 1 0 1-2 1-1 1 4 1-3 1 3 1-1 1-2 1 3 1-2 1 2 1-4 1-2 1 5 1 1 1-3 1 1 1 2 1-4 1 4 1-4 1 4 1-2 1-4 1 5 1-3 1 3 1-3 1 1 1 3 1-5 1 5 1 0 1-3 1 0 1 3 1-4 1 3 1 1 1-2 1 0 1 2 1-4 1 4 1-1 1-1 1 2 1-3 1 3 1-2 1-2 1 3 1 1 1-1 1 1 1-2 1 1 1 0 1-2 1 3 1-2 1 2 1 0 1-1 1 1 1-8 1 7 1-20 1 4 1 14 1-2 1-11 1-22 1 35 1-26 1 26 1-19 1 20 1-3 1-23 1 25 1-57 1 28 1 30 1 1 1-31 1-4 1 22 1-11 1 24 1-3 1-22 1 19 1-20 1-5 1 27 1-26 1 19 1 0 1-32 1 38 1-61 1 30 1 27 1-50 1 54 1-1 1-33 1 25 1-26 1 33 1-50 1 54 1-14 1 16 1-21 1 21 1-14 1 11 1-32 1 35 1-25 1 25 1-18 1 8 1 11 1-6 1 7 1-1 1 1 1 0 1-17 1-35 1 52 1 0 1-11 1 7 1-22 1 22 1-37 1 25 1-37 1 49 1-84 1 75 1-37 1-22 1 52 1 12 1-30 1-31 1 43 1-106 1 106 1-55 1 59 1 2 1-59 1-25 1 87 1 7 1-69 1 75 1-129 1 87 1 31 1-47 1 48 1-89 1 77 1 8 1-86 1 93 1-61 1-24 1 87 1-41 1 48 1-36 1 32 1-29 1 33 1 1 1-29 1 29 1 1 1 0 1-2 1 2 1-2 1 2 1-2 1 2 1-2 1 1 1-2 1 0 1 3 1 0 1-5 1 5 1-3 1-1 1 4 1-4 1 4 1 0 1-4 1-1 1 4 1-2 1 2 1-2 1 2 1 0 1-5 1 6 1-2 1-2 1 4 1-3 1 2 1-1 1 2 1-8 1 7 1-5 1 6 1-2 1-3 1 5 1-3 1 2 1-6 1 4 1 3 1-6 1 5 1-5 1 5 1 0 1-6 1-1 1 7 1 0 1-5 1 6 1-6 1 2 1-22 1 18 1 8 1-6 1 4 1 2 1-4 1-6 1 9 1-3 1 4 1-1 1-3 1-1 1 5 1-1 1-3 1 4 1-5 1 1 1 3 1-6 1 6 1 0 1-3 1 4 1-3 1-4 1 5 1-2 1 3 1 1 1-7 1 7 1-8 1 1 1 6 1 0 1-5 1 0 1 6 1-1 1-5 1 5 1-8 1 8 1-5 1 6 1-5 1 4 1-3 1 4 1-4 1 3 1-7 1 3 1 4 1-8 1 9 1-6 1 5 1-3 1 4 1 0 1-6 1-4 1 9 1-4 1 5 1-5 1 4 1 1 1-5 1 4 1-5 1 6 1-4 1-4 1 7 1-8 1 8 1-7 1 7 1 0 1-6 1 4 1 2 1 0 1-7 1 8 1-3 1 2 1-5 1 4 1-16 1 11 1 6 1-3 1 3 1-2 1 2 1 1 1-3 1 2 1-2 1 3 1-3 1 0 1 3 1-4 1 3 1-2 1 3 1-5 1 5 1 0 1-2 1-2 1 4 1-2 1 2 1-2 1 2 1 0 1-2 1 2 1-3 1 3 1-2 1 1 1 1 1 0 1-1 1 1 1-1 1 0 1 1 1-1 1 1 1 0 1-2 1 0 1 2 1 0 1-2 1 2 1-1 1 1 1-1 1 1 1-1 1 1 1-1 1 1 1-1 1 1 1-1 1 0 1 1 1 0 1-1 1 1 1-1 1 0 1 1 1-1 1 1 1-1 1 1 1-2 1 2" stroke="#0072BD" stroke-width="0.6" fill="none" vector-effect="non-scaling-stroke" opacity="0.7"/>
<path transform="matrix(0.33385 0.00000 0.00000 0.50000 1111.20 263.50)" d="M0 -1l1 1 1 0 1-1 1 0 1 1 1 0 1-2 1 0 1 2 1 0 1-2 1-3 1 4 1-3 1-3 1 4 1 2 1 1 1-4 1 2 1 1 1 0 1-3 1-2 1 3 1 2 1-5 1 1 1 3 1 1 1-2 1-7 1 9 1-2 1-8 1 3 1 4 1 1 1-8 1 7 1 2 1 1 1-4 1-7 1 11 1 0 1-8 1 3 1 2 1 2 1-4 1 0 1 5 1 0 1-6 1 1 1 5 1 0 1-4 1-2 1 5 1 0 1-2 1-8 1 9 1 2 1-9 1 1 1 8 1-1 1-5 1 1 1 3 1-1 1-5 1 4 1 5 1 0 1-6 1 0 1 3 1 1 1-2 1-3 1 6 1-1 1-4 1 2 1 3 1 0 1-6 1-1 1 7 1-2 1-10 1 10 1 3 1-1 1-3 1-3 1 5 1 1 1-4 1 2 1 2 1-1 1 0 1 0 1 1 1 1 1-2 1 1 1 1 1 0 1-1 1 0 1 1 1 0 1-1 1-1 1 2 1-1 1-1 1 1 1 1 1 0 1-1 1 0 1 1 1 0 1-1 1-1 1 1 1 0 1-1 1 0 1 2 1 0 1-2 1-6 1 7 1 0 1-1 1 0 1 2 1-1 1-1 1 1 1 1 1-1 1-1 1 1 1 0 1 0 1-1 1 0 1 2 1-1 1-1 1 0 1 1 1 0 1-1 1 0 1 1 1 1 1-2 1 0 1 2 1-1 1 0 1 0 1 1 1 0 1-2 1-2 1 3 1 1 1-2 1 0 1 2 1 0 1-3 1 2 1 1 1-2 1-1 1 1 1 1 1 0 1-1 1 0 1 2 1 0 1-3 1 1 1 2 1 0 1-1 1 0 1 0 1 1 1-1 1 0 1 1 1 0 1-1 1-1 1 1 1 1 1-2 1 1 1 1 1-1 1-1 1 1 1 1 1 0 1-1 1 0 1 0 1 1 1-1 1 0 1 1 1 0 1 0 1-3 1 3 1-1 1-3 1-2 1 3 1-2 1-6 1-10 1 18 1 0 1-9 1-4 1 14 1-3 1-8 1-7 1 17 1 1 1-16 1 3 1 14 1-13 1-8 1 2 1 19 1-3 1-7 1-7 1 11 1 2 1-15 1-5 1 13 1 0 1-20 1 12 1 14 1-4 1-12 1-1 1 17 1-1 1-6 1-9 1 7 1 7 1-15 1 9 1 10 1 2 1-11 1 0 1 11 1-3 1-15 1 10 1 8 1 0 1-11 1 6 1 6 1 1 1-3 1 2 1 1 1 0 1-1 1-12 1 13 1 0 1-1 1-13 1 10 1 0 1-21 1-2 1 11 1 12 1-32 1-1 1 24 1-7 1-16 1 8 1 20 1-18 1-22 1-16 1 38 1 4 1-31 1 13 1 20 1 3 1-21 1-8 1 36 1 6 1-87 1 56 1 20 1 1 1-12 1-21 1 21 1 8 1-19 1-5 1 31 1 2 1-16 1 7 1 16 1-4 1-21 1 9 1 16 1 1 1-12 1 13 1 0 1 0 1-1 1 0 1 1 1 0 1-1 1 0 1 1 1-1 1 0 1 0 1 1 1 0 1-2 1 1 1 1 1 0 1-3 1 1 1 2 1 0 1-2 1 0 1 1 1 0 1-1 1 0 1 1 1 0 1-1 1 1 1 1 1 0 1-2 1 0 1 1 1 1 1-1 1-1 1 1 1 1 1-3 1 0 1 1 1 2 1-2 1 0 1 1 1 1 1-2 1-1 1 2 1 0 1-1 1-1 1 2 1 0 1-1 1-2 1 3 1 1 1-3 1-7 1 6 1 4 1-2 1-2 1 2 1 2 1-2 1-1 1 2 1 1 1-2 1-1 1 2 1 1 1-3 1 0 1 2 1 1 1-4 1 1 1 2 1 0 1-4 1 3 1 1 1 1 1-2 1-2 1 2 1 1 1-1 1-2 1 4 1 0 1-1 1-3 1 3 1 0 1-2 1 1 1 2 1-1 1-3 1-1 1 4 1 0 1-3 1 1 1 3 1-1 1-1 1-1 1 3 1-1 1-2 1-1 1 3 1 1 1-4 1 2 1 1 1 1 1-2 1-1 1 3 1-1 1-3 1 1 1 3 1-1 1-3 1 2 1 2 1-1 1-2 1 1 1 2 1-1 1-4 1 3 1 1 1 0 1-3 1 0 1 3 1 0 1-2 1 1 1 1 1 1 1-2 1-1 1 2 1-1 1-4 1 3 1 2 1 0 1-1 1 0 1 1 1 1 1-2 1 0 1 1 1 1 1-1 1-2 1 3 1-1 1-2 1 2 1 1 1 0 1-1 1 0 1 1 1 0 1-1 1-1 1 2 1 0 1-1 1 0 1 1 1 0 1-1 1 0 1 1 1 0 1 0 1 0 1 0 1 0 1-1 1 1 1 0 1 0 1 0 1-1 1 1 1 0 1-1 1 0 1 1 1 0 1-1 1 1 1 0 1 0 1-1 1 0 1 1 1 0 1-1 1 0 1 1 1 0 1-1 1 1 1 0 1 0 1 0 1-1 1 1 1 0 1-1 1 0 1 1 1 0 1-1" stroke="#0066B3" stroke-width="0.7" fill="none" vector-effect="non-scaling-stroke"/>
<path d="M1435.40 76.00H1673.50" stroke="#c4c4c4" stroke-width="1"/>
<path d="M1673.50 76.00V154.40" stroke="#9a9a9a" stroke-width="1"/>
<path d="M1435.40 76.00V154.40H1673.50" stroke="#3a3a3a" stroke-width="0.9" fill="none"/>
<path d="M1435.40 154.40v-2.4M1435.40 76.00v2.4M1469.41 154.40v-2.4M1469.41 76.00v2.4M1503.43 154.40v-2.4M1503.43 76.00v2.4M1537.44 154.40v-2.4M1537.44 76.00v2.4M1571.46 154.40v-2.4M1571.46 76.00v2.4M1605.47 154.40v-2.4M1605.47 76.00v2.4M1639.49 154.40v-2.4M1639.49 76.00v2.4M1673.50 154.40v-2.4M1673.50 76.00v2.4M1435.40 154.40h2.4M1673.50 154.40h-2.4M1435.40 134.80h2.4M1673.50 134.80h-2.4M1435.40 115.20h2.4M1673.50 115.20h-2.4M1435.40 95.60h2.4M1673.50 95.60h-2.4M1435.40 76.00h2.4M1673.50 76.00h-2.4" stroke="#333" stroke-width="0.8"/>
<text class="tx" x="1435.40" y="163.80">0</text>
<text class="tx" x="1469.41" y="163.80">0.05</text>
<text class="tx" x="1503.43" y="163.80">0.1</text>
<text class="tx" x="1537.44" y="163.80">0.15</text>
<text class="tx" x="1571.46" y="163.80">0.2</text>
<text class="tx" x="1605.47" y="163.80">0.25</text>
<text class="tx" x="1639.49" y="163.80">0.3</text>
<text class="tx" x="1673.50" y="163.80">0.35</text>
<text class="tk e" x="1432.20" y="156.90">-4</text>
<text class="tk e" x="1432.20" y="137.30">-2</text>
<text class="tk e" x="1432.20" y="117.70">0</text>
<text class="tk e" x="1432.20" y="98.10">2</text>
<text class="tk e" x="1432.20" y="78.50">4</text>
<text class="tl" x="1554.45" y="73.60">Time domain analysis</text>
<text class="tl" x="1554.45" y="172.70">Time (s)</text>
<text class="tl" transform="translate(1424.58 115.20) rotate(-90)">Amplitude</text>
<path transform="matrix(0.33355 0.00000 0.00000 0.50000 1435.40 115.20)" d="M0 -3l1 7 1 1 1-8 1 0 1 5 1-24 1 41 1-8 1-22 1 3 1 19 1-4 1-15 1 11 1-10 1 8 1-5 1 8 1-6 1 5 1-10 1 11 1-6 1-3 1 10 1 1 1-11 1 4 1 4 1-8 1 9 1-8 1 7 1 2 1-10 1-3 1 15 1-10 1 8 1 10 1-26 1 18 1-9 1 17 1-32 1 4 1 24 1-26 1 31 1-11 1-16 1 76 1-123 1 111 1-95 1 8 1 60 1-49 1 39 1-32 1 40 1-43 1 35 1-22 1 11 1-8 1 16 1-32 1 39 1 7 1-47 1 37 1-29 1 30 1-32 1 24 1-16 1 2 1 9 1 7 1-25 1 7 1 12 1-2 1-13 1 18 1-15 1 29 1-37 1 0 1 24 1 6 1-25 1 0 1 15 1-17 1 20 1-3 1-13 1-7 1 16 1 14 1-29 1 20 1-14 1 10 1-8 1 10 1-8 1-4 1 14 1-21 1 24 1-1 1-16 1 12 1-10 1-45 1 87 1-65 1 45 1-27 1 23 1-7 1-16 1 17 1-22 1 3 1 20 1 6 1-25 1 21 1-18 1 3 1 23 1-35 1 29 1-20 1 15 1-2 1-10 1 20 1-27 1 21 1-20 1 7 1 10 1-9 1 11 1-13 1 11 1-4 1-5 1 18 1-26 1 5 1 14 1-16 1 14 1-16 1 17 1-1 1-11 1 18 1-25 1 19 1-12 1 20 1-27 1 19 1-13 1 0 1 11 1 0 1-7 1 10 1-18 1 14 1-8 1 7 1-17 1 25 1-22 1 2 1 22 1-25 1 25 1-10 1-69 1 115 1-89 1 20 1 40 1-54 1 62 1-9 1-35 1 24 1-12 1 24 1-41 1 12 1 17 1 4 1-21 1 14 1-10 1-15 1 35 1-1 1-25 1 0 1 17 1-10 1 8 1 3 1-14 1 12 1-9 1 8 1-10 1-1 1 12 1-14 1 14 1-8 1 7 1-10 1 12 1-12 1 14 1-13 1 18 1-24 1 19 1-12 1 9 1-24 1 36 1-28 1 19 1-10 1 7 1-9 1 8 1-10 1 16 1-3 1-14 1-1 1 18 1-15 1 10 1-70 1 123 1-23 1-63 1 11 1 33 1-34 1 39 1-15 1-14 1-23 1 53 1-34 1 27 1-5 1-18 1 1 1 12 1-1 1-7 1 15 1-22 1-1 1 19 1-20 1 21 1-6 1-9 1 24 1-31 1 19 1-10 1-3 1 13 1 0 1-18 1 2 1 18 1-16 1 14 1-16 1 21 1-17 1 10 1-15 1 22 1-8 1-8 1-7 1 26 1-22 1 14 1-3 1-8 1 9 1-11 1 13 1-10 1 9 1-6 1-6 1 12 1-8 1 12 1-18 1 14 1 3 1-11 1-38 1 74 1-50 1 32 1-28 1 28 1-28 1 24 1-29 1 36 1-28 1 19 1-15 1 13 1 0 1-15 1 3 1 10 1 8 1-20 1 16 1-15 1-2 1 13 1 1 1-7 1-6 1 16 1-15 1 8 1 1 1-6 1 10 1-13 1 2 1 8 1-10 1 9 1 1 1-6 1 7 1-11 1 2 1 6 1 8 1-20 1 3 1 15 1-3 1-18 1 22 1-15 1-6 1 18 1 2 1-18 1 5 1 12 1 1 1-20 1 23 1-19 1 12 1-9 1 18 1-26 1 25 1-22 1 14 1-62 1 110 1-92 1 59 1-38 1 6 1 29 1-22 1 24 1-32 1 23 1-15 1 12 1 3 1-18 1 5 1 7 1 0 1-7 1 15 1-17 1-10 1 29 1-31 1 29 1-3 1-12 1 14 1-18 1 16 1-14 1 9 1-16 1 27 1-24 1 3 1 12 1-1 1-7 1-8 1 22 1-5 1-10 1-3 1 17 1-21 1 18 1-10 1 11 1-14 1 11 1-2 1-10 1 3 1 11 1-10 1 9 1-9 1 7 1-11 1 13 1-2 1-7 1 11 1-19 1 3 1 16 1 27 1-72 1 63 1-49 1 37 1-32 1 30 1-24 1 2 1 20 1-16 1 14 1-5 1-7 1 23 1-37 1 4 1 25 1 6 1-30 1 4 1 18 1-19 1 19 1-13 1 6 1 3 1-21 1 27 1-17 1 9 1-11 1 22 1-25 1 15 1-11 1 0 1 15 1-17 1 17 1-1 1-9 1-9 1 17 1 1 1-11 1 18 1-24 1 3 1 10 1-9 1 12 1-13 1 12 1-12 1 11 1 2 1-12 1 4 1 19 1-8 1-21 1 1 1 22 1-22 1 20 1-5 1-7 1-61 1 118 1-29 1-50 1 9 1 29 1-23 1 21 1 5 1-29 1 21 1-14 1-15 1 37 1-32 1 27 1-15 1 10 1 3 1-20 1 24 1-19 1 13 1-13 1 11 1-12 1-7 1 23 1 0 1-15 1-3 1 14 1 10 1-28 1 9 1 19 1-33 1 34 1-6 1-20 1 16 1-11 1-2 1 10 1 7 1-19 1 19 1-18 1 3 1 10 1-2 1-5 1-2 1 9 1-9 1 7 1-13 1 18 1-1 1-9 1-2 1 9 1-12 1 13 1 3 1-21 1 24 1-20 1 41 1-52 1-8 1 56 1-42 1 24 1 10 1-37 1 26 1-22 1 3 1 19 1-13 1 14 1-21 1 19 1-2 1-13 1 16 1-18 1 13 1-9 1 10 1-10 1 11 1-12 1 2 1 8 1-10 1 12 1-5 1-7 1 3 1 4 1 12 1-25 1 20 1-21 1 22 1-21 1 18 1-13 1 1 1 8 1 4 1-10 1-3 1 11 1-13 1 14 1 4 1-18 1 14 1-10 1-1 1 9 1-10 1 10 1-14 1 21 1-23 1 19 1-10 1 10 1 3 1-18 1 14 1-12 1-44 1 89 1-71 1 54 1-30 1 31 1-42 1 33 1-8 1-14 1 21 1-25 1 29 1-32 1 30 1-26 1 5 1 11 1 7 1-27 1 6 1 16 1-12 1 15 1-19 1 22 1-18 1 9 1 5 1-19 1 20 1-17 1 11 1-9" stroke="#0072BD" stroke-width="0.7" fill="none" vector-effect="non-scaling-stroke" opacity="0.8"/>
<path transform="matrix(0.33355 0.00000 0.00000 0.50000 1435.40 115.20)" d="M0 -2l1 6 1-1 1-6 1 1 1 4 1 4 1-21 1 6 1 19 1-3 1-13 1 2 1 9 1-3 1-6 1 1 1 4 1 3 1-5 1-2 1 4 1 2 1-5 1-3 1 9 1 1 1-10 1 4 1 3 1 2 1-8 1 1 1 6 1 1 1-9 1 0 1 8 1 1 1-6 1-6 1 17 1-5 1-5 1-15 1 28 1-4 1-19 1-1 1 26 1-10 1-11 1-45 1 91 1 4 1-74 1 12 1 41 1-9 1-30 1 9 1 25 1-2 1-29 1 8 1 10 1 2 1-8 1-14 1 29 1 10 1-41 1 11 1 19 1-6 1-14 1 2 1 12 1-2 1-7 1-4 1 17 1-6 1-9 1-1 1 9 1 1 1-9 1-6 1 27 1-11 1-12 1-1 1 16 1-2 1-13 1-1 1 15 1-3 1-10 1-1 1 9 1 10 1-22 1 5 1 9 1-1 1-8 1 3 1 7 1 0 1-8 1-9 1 22 1-2 1-15 1 3 1 7 1 31 1-76 1 22 1 35 1-3 1-20 1 1 1 12 1 0 1-11 1-5 1 18 1 3 1-18 1 0 1 16 1-2 1-11 1-5 1 21 1-4 1-12 1 1 1 7 1 6 1-20 1 1 1 17 1-1 1-9 1 0 1 7 1 1 1-10 1 2 1 4 1 9 1-16 1 0 1 13 1-2 1-11 1 0 1 13 1-2 1-10 1-5 1 19 1-3 1-11 1-1 1 19 1-7 1-11 1 0 1 8 1 1 1-6 1-5 1 14 1-5 1-5 1-2 1 8 1 8 1-22 1 8 1 14 1-3 1-19 1-16 1 29 1 39 1-77 1 17 1 32 1 1 1-38 1 12 1 24 1-5 1-9 1-12 1 30 1-8 1-15 1-1 1 14 1-2 1-9 1-6 1 22 1 3 1-22 1 4 1 8 1-2 1-4 1-4 1 11 1-2 1-5 1-1 1 6 1 2 1-11 1 0 1 10 1 0 1-6 1-2 1 7 1 3 1-11 1 2 1 8 1 1 1-14 1 4 1 7 1 11 1-30 1 11 1 10 1-1 1-5 1-3 1 6 1 6 1-13 1-1 1 10 1 2 1-13 1 3 1 9 1 17 1-71 1 22 1 51 1-10 1-30 1-1 1 28 1-6 1-12 1-12 1 39 1-10 1-21 1 4 1 15 1-5 1-7 1 2 1 5 1 7 1-19 1 1 1 14 1 0 1-11 1 1 1 5 1 13 1-25 1 8 1 9 1 0 1-11 1-4 1 14 1 2 1-15 1 4 1 9 1 2 1-15 1 2 1 8 1 7 1-18 1 5 1 7 1 8 1-17 1 2 1 9 1-2 1-7 1-2 1 10 1-1 1-6 1 2 1 4 1 1 1-9 1 2 1 6 1 1 1-10 1 4 1 8 1 18 1-51 1 12 1 25 1 2 1-21 1 1 1 16 1-1 1-19 1 6 1 14 1-5 1-9 1-2 1 15 1-3 1-9 1-2 1 18 1-5 1-11 1-2 1 12 1-1 1-5 1-3 1 12 1-7 1-6 1 3 1 3 1 5 1-11 1 2 1 6 1 0 1-7 1 2 1 5 1 1 1-9 1 2 1 5 1 3 1-10 1 0 1 10 1-4 1-7 1 0 1 15 1-3 1-11 1-4 1 12 1 4 1-10 1-2 1 12 1 3 1-17 1 3 1 7 1 3 1-11 1-2 1 15 1-4 1-29 1-10 1 75 1-24 1-31 1 3 1 26 1-4 1-15 1-6 1 17 1-1 1-11 1 0 1 14 1-6 1-5 1 1 1 4 1 6 1-14 1-2 1 12 1 4 1-17 1 5 1 12 1-4 1-9 1-1 1 13 1-6 1-6 1-2 1 13 1-1 1-8 1 0 1 6 1 4 1-16 1 6 1 8 1 0 1-10 1-6 1 17 1-1 1-8 1-2 1 10 1-2 1-7 1 1 1 7 1 0 1-7 1 2 1 3 1 2 1-11 1 4 1 6 1 3 1-13 1 1 1 13 1 26 1-66 1 13 1 45 1-11 1-27 1 4 1 19 1-1 1-14 1 0 1 11 1-3 1-7 1-6 1 23 1-5 1-20 1 2 1 20 1-1 1-14 1-5 1 17 1-5 1-5 1-2 1 8 1 7 1-15 1-1 1 7 1 13 1-21 1 0 1 11 1 2 1-12 1 0 1 11 1 1 1-6 1-8 1 13 1 0 1-9 1-4 1 16 1-5 1-6 1-1 1 9 1-1 1-9 1-1 1 10 1 1 1-11 1 4 1 8 1 2 1-18 1 1 1 15 1 2 1-16 1 6 1 6 1 35 1-78 1 18 1 38 1-5 1-27 1 5 1 18 1 5 1-24 1 8 1 7 1 6 1-20 1-3 1 23 1-7 1-7 1-5 1 13 1 3 1-12 1 0 1 12 1-3 1-9 1-5 1 18 1-2 1-11 1 0 1 8 1 7 1-19 1 6 1 10 1 3 1-20 1 4 1 13 1-1 1-10 1-1 1 7 1 7 1-18 1 4 1 12 1-4 1-6 1 2 1 2 1 4 1-8 1 0 1 4 1 6 1-14 1 5 1 6 1 0 1-6 1-3 1 9 1 4 1-18 1 6 1 10 1 25 1-38 1-16 1 45 1-16 1-16 1 0 1 25 1-7 1-16 1-1 1 18 1-2 1-10 1-6 1 16 1-1 1-11 1-2 1 17 1-6 1-6 1 0 1 5 1 1 1-7 1 0 1 5 1 3 1-8 1-2 1 6 1 1 1-4 1-4 1 11 1 3 1-14 1-5 1 18 1-2 1-10 1 3 1 4 1 4 1-8 1-2 1 6 1 3 1-11 1 0 1 14 1-4 1-8 1 3 1 4 1 1 1-9 1 1 1 9 1 1 1-16 1 7 1 8 1 3 1-16 1 3 1 7 1 35 1-73 1 11 1 45 1-6 1-22 1-6 1 28 1-9 1-10 1-1 1 14 1 1 1-18 1-2 1 21 1-6 1-9 1-7 1 22 1-4 1-10 1 1 1 8 1 6 1-18 1 3 1 8 1 2 1-13 1 3 1 10 1-5 1-5" stroke="#0066B3" stroke-width="0.8" fill="none" vector-effect="non-scaling-stroke"/>
<path d="M1435.40 185.50H1673.50" stroke="#7a7a7a" stroke-width="1"/>
<path d="M1673.50 185.50V263.50" stroke="#9a9a9a" stroke-width="1"/>
<path d="M1435.40 185.50V263.50H1673.50" stroke="#3a3a3a" stroke-width="0.9" fill="none"/>
<path d="M1435.40 263.50v-2.4M1435.40 185.50v2.4M1483.02 263.50v-2.4M1483.02 185.50v2.4M1530.64 263.50v-2.4M1530.64 185.50v2.4M1578.26 263.50v-2.4M1578.26 185.50v2.4M1625.88 263.50v-2.4M1625.88 185.50v2.4M1673.50 263.50v-2.4M1673.50 185.50v2.4M1435.40 263.50h2.4M1673.50 263.50h-2.4M1435.40 245.89h2.4M1673.50 245.89h-2.4M1435.40 228.29h2.4M1673.50 228.29h-2.4M1435.40 210.68h2.4M1673.50 210.68h-2.4M1435.40 193.07h2.4M1673.50 193.07h-2.4" stroke="#333" stroke-width="0.8"/>
<text class="tx" x="1435.40" y="272.90">0</text>
<text class="tx" x="1483.02" y="272.90">500</text>
<text class="tx" x="1530.64" y="272.90">1000</text>
<text class="tx" x="1578.26" y="272.90">1500</text>
<text class="tx" x="1625.88" y="272.90">2000</text>
<text class="tx" x="1673.50" y="272.90">2500</text>
<text class="tk e" x="1432.20" y="266.00">0</text>
<text class="tk e" x="1432.20" y="248.39">0.05</text>
<text class="tk e" x="1432.20" y="230.79">0.1</text>
<text class="tk e" x="1432.20" y="213.18">0.15</text>
<text class="tk e" x="1432.20" y="195.57">0.2</text>
<text class="tl" x="1554.45" y="183.10">Frequency domain analysis</text>
<text class="tl" x="1554.45" y="281.80">frequency (Hz)</text>
<text class="tl" transform="translate(1417.18 224.50) rotate(-90)">|Y(f)|</text>
<path transform="matrix(0.33285 0.00000 0.00000 0.50000 1435.40 263.50)" d="M0 0l1-1 1 1 1-1 1 1 1-1 1 1 1 0 1 0 1-1 1 1 1-1 1 1 1-1 1 1 1-1 1 1 1-1 1 1 1 0 1-1 1 1 1-1 1 1 1 0 1 0 1 0 1-1 1 0 1 1 1 0 1 0 1-1 1 1 1-1 1 1 1 0 1-1 1 1 1 0 1 0 1-12 1-2 1 14 1-5 1-14 1-29 1 38 1-33 1 40 1 1 1-28 1 26 1-35 1 21 1 10 1-25 1 31 1-2 1-20 1-22 1 44 1-13 1 13 1-13 1 12 1 1 1-14 1 3 1 13 1 0 1-1 1 0 1 1 1 0 1-1 1 1 1-3 1 3 1-2 1-1 1 2 1 1 1-2 1-1 1 2 1-3 1 4 1 0 1-2 1 1 1-10 1 5 1 5 1-4 1 5 1-1 1-3 1 4 1-5 1-1 1 6 1-1 1-5 1 3 1 3 1 0 1-2 1 0 1 2 1 0 1-7 1 5 1 2 1-1 1-1 1 2 1-4 1-3 1 5 1 1 1-2 1 0 1 2 1 0 1-3 1 3 1-4 1 4 1-4 1 4 1-2 1 2 1-6 1 6 1-2 1 1 1-5 1 6 1-2 1 2 1-6 1 2 1 5 1-1 1-4 1 0 1 4 1-3 1 3 1 1 1-4 1 3 1-3 1 3 1-3 1 3 1-3 1 0 1 3 1 0 1-6 1 4 1 2 1-4 1 5 1-1 1-4 1 5 1-4 1 2 1 1 1-3 1 3 1-3 1 4 1-5 1 4 1 1 1-5 1 4 1-3 1 1 1 2 1-2 1 2 1 0 1-2 1 1 1-23 1 24 1-2 1 2 1-3 1 2 1 1 1 0 1-2 1 3 1-3 1 2 1-3 1-2 1 5 1 0 1-2 1 0 1 2 1 1 1-2 1 2 1-3 1-1 1 4 1 0 1-3 1 0 1 3 1 0 1-2 1-1 1 3 1-1 1 1 1-2 1 2 1 0 1-1 1 0 1 1 1 0 1-1 1 1 1 0 1-1 1 1 1 0 1-2 1 1 1-17 1 14 1-17 1 17 1-42 1 12 1 31 1-2 1-10 1-16 1 27 1 3 1-44 1 3 1 34 1 4 1-23 1 14 1-43 1 29 1 20 1-8 1-24 1-42 1 73 1-5 1-21 1-79 1 109 1-4 1-68 1 28 1 40 1 6 1-24 1 9 1-82 1 95 1-27 1-20 1 43 1-55 1 49 1-141 1 148 1-79 1 81 1-11 1 13 1-3 1-96 1 55 1 41 1-35 1 27 1-56 1 52 1 10 1-41 1 33 1-51 1 55 1-39 1 43 1-103 1 106 1-62 1 53 1-29 1-1 1 28 1-64 1 72 1 5 1-20 1-13 1 33 1-3 1-105 1 61 1 46 1-50 1 52 1-26 1 25 1 0 1-29 1-21 1 43 1 4 1-21 1 21 1-11 1 15 1-10 1 8 1 4 1-2 1 1 1 1 1-2 1-2 1 3 1-2 1 2 1 0 1-2 1 3 1-3 1 0 1 2 1 1 1-4 1 4 1-3 1-3 1 5 1 0 1-3 1 2 1 1 1 0 1-4 1 4 1-4 1 2 1 3 1-6 1 5 1 0 1-5 1-5 1 10 1 0 1-3 1 3 1-5 1 5 1-7 1 8 1-6 1 1 1 3 1-2 1 3 1 0 1-4 1 4 1-5 1 5 1-6 1 7 1-6 1 5 1-3 1 3 1-2 1-2 1 4 1 0 1-9 1 6 1 3 1 1 1-10 1 9 1-9 1 9 1-3 1 3 1-5 1 6 1-4 1 3 1-1 1-3 1 5 1-1 1-2 1 3 1-2 1 0 1-3 1 2 1 3 1 0 1-3 1 3 1-2 1 1 1 1 1-1 1 1 1 0 1-1 1 1 1-1 1 0 1 1 1-1 1 1 1-1 1 1 1-1 1 1 1 0 1 0 1-1 1 1 1 0 1-1 1 1 1-1 1 0 1 1 1 0 1-1 1 1 1-1 1 1 1 0 1 0 1 0 1-1 1 1 1 0 1 0 1 0 1-1 1 1 1-1 1 1 1-1 1 1 1-1 1 0 1 1 1-1 1 1 1 0 1-1 1 1 1-1 1 1 1-1 1 1 1-1 1 1 1-1 1 1 1-1 1 1 1 0 1-1 1 1 1 0 1-1 1 1 1-1 1 1 1-1 1 0 1 1 1 0 1 0 1-1 1 1 1-1 1 1 1-1 1 1 1-1 1 1 1 0 1-1 1 0 1 1 1-1 1 1 1-1 1 1 1 0 1-1 1 1 1-1 1 0 1 1 1 0 1 0 1 0 1 0 1 0 1-1 1 1 1 0 1 0 1 0 1-1 1 1 1-1 1 1 1 0 1-1 1 0 1 1 1-1 1 1 1 0 1 0 1-1 1 1 1 0 1-1 1 0 1 1 1-1 1 1 1-1 1 1 1 0 1-1 1 1 1 0 1 0 1 0 1 0 1-1 1 0 1 1 1 0 1 0 1-1 1 1 1 0 1-1 1 0 1 1 1 0 1-1 1 1 1-1 1 1 1 0 1 0 1 0 1-1 1 1" stroke="#0072BD" stroke-width="0.6" fill="none" vector-effect="non-scaling-stroke" opacity="0.7"/>
<path transform="matrix(0.33285 0.00000 0.00000 0.50000 1435.40 263.50)" d="M0 0l1 0 1 0 1 0 1 0 1 0 1 0 1 0 1 0 1 0 1 0 1 0 1 0 1 0 1 0 1 0 1 0 1 0 1 0 1 0 1 0 1 0 1 0 1 0 1 0 1 0 1 0 1 0 1 0 1 0 1 0 1 0 1 0 1 0 1 0 1 0 1 0 1 0 1 0 1 0 1-4 1 4 1 0 1-10 1-5 1 10 1-5 1-10 1 7 1 10 1 1 1-11 1-7 1 16 1-4 1-6 1 2 1 10 1-2 1-11 1-7 1 20 1 0 1-3 1-5 1 7 1 1 1-8 1 9 1 1 1 0 1 0 1-1 1 1 1 0 1-1 1 0 1 1 1 0 1-1 1 0 1 0 1 1 1-1 1-1 1 1 1 1 1-2 1 1 1 1 1-1 1-2 1 0 1 2 1 1 1-2 1 0 1 1 1 1 1-2 1 1 1 1 1-1 1-2 1 0 1 3 1 0 1-2 1 0 1 2 1 0 1-1 1 0 1 1 1-1 1 0 1 0 1 1 1-2 1-1 1 1 1 1 1 0 1-1 1-1 1 2 1 0 1-2 1 1 1 1 1 0 1-1 1-1 1 2 1 0 1-1 1-1 1 1 1 1 1-1 1 0 1 1 1 1 1-2 1 0 1 1 1 0 1-1 1 1 1 0 1 1 1-2 1 0 1 1 1 0 1-3 1 2 1 1 1 0 1 0 1-1 1 1 1 0 1-1 1-1 1 3 1-1 1-1 1 0 1 2 1-1 1-1 1 0 1 1 1 1 1-2 1 0 1 1 1 1 1-3 1 1 1 1 1 0 1-1 1 0 1 1 1 0 1-1 1-7 1 7 1 1 1-1 1-1 1 2 1 0 1 0 1-1 1 1 1 1 1-2 1 0 1 1 1 0 1 0 1-1 1 1 1 0 1-1 1 0 1 2 1 0 1-2 1 1 1 1 1 0 1-1 1-1 1 2 1 0 1-1 1 0 1 1 1 0 1-1 1 0 1 1 1 0 1 0 1 0 1 0 1 0 1 0 1 0 1 0 1 0 1 0 1 0 1 0 1-1 1-5 1-1 1 3 1 0 1-15 1 2 1 14 1-2 1-4 1-3 1 8 1 3 1-17 1-6 1 16 1 4 1-13 1-6 1 10 1 6 1-17 1 3 1 6 1 7 1-32 1 14 1 13 1 9 1-41 1 12 1 25 1 0 1-14 1 2 1 18 1-15 1-14 1 6 1 21 1-4 1-26 1-5 1 25 1 7 1-34 1 4 1 32 1 2 1-11 1-21 1 29 1 0 1-15 1-6 1 13 1-4 1-32 1 21 1 21 1-8 1-19 1-3 1 26 1 4 1-23 1 5 1 21 1-9 1-14 1 1 1 11 1 8 1-16 1 7 1 14 1 0 1-23 1 1 1 19 1 2 1-28 1 16 1 14 1-1 1-10 1-7 1 17 1-7 1-15 1 6 1 13 1 0 1-3 1 6 1 1 1 2 1-1 1 0 1 0 1 1 1-1 1-1 1 1 1 0 1-2 1 1 1 1 1 1 1-2 1 0 1 1 1 1 1-3 1 1 1 2 1-1 1-2 1 1 1 1 1 0 1-1 1 0 1 1 1 0 1-2 1 2 1 1 1-1 1-2 1 0 1 2 1 0 1-4 1 2 1 2 1 0 1-1 1-3 1 4 1 1 1-3 1-1 1 2 1 1 1-2 1 0 1 2 1 0 1-3 1 0 1 3 1 1 1-5 1 2 1 2 1 0 1-1 1-1 1 2 1 0 1-2 1 1 1 1 1 1 1-3 1-1 1 3 1 0 1-2 1 0 1 2 1 1 1-2 1 0 1 1 1 1 1-3 1 1 1 1 1 1 1-2 1-1 1 1 1 2 1-2 1 0 1 2 1 0 1-1 1 1 1 0 1 0 1 0 1 0 1 0 1 0 1 0 1 0 1 0 1 0 1 0 1 0 1 0 1 0 1-1 1 1 1 0 1 0 1 0 1 0 1 0 1 0 1 0 1 0 1 0 1 0 1 0 1 0 1 0 1 0 1 0 1 0 1 0 1 0 1 0 1 0 1 0 1 0 1-1 1 1 1 0 1 0 1 0 1 0 1 0 1 0 1 0 1 0 1 0 1 0 1 0 1 0 1 0 1 0 1 0 1-1 1 1 1 0 1 0 1 0 1 0 1 0 1 0 1 0 1 0 1 0 1 0 1 0 1 0 1 0 1 0 1 0 1 0 1 0 1 0 1 0 1 0 1 0 1 0 1 0 1 0 1 0 1 0 1 0 1 0 1 0 1 0 1 0 1 0 1 0 1 0 1 0 1 0 1 0 1 0 1 0 1 0 1 0 1 0 1 0 1 0 1 0 1 0 1 0 1 0 1 0 1 0 1-1 1 1 1 0 1 0 1-1 1 1 1 0 1 0 1 0 1 0 1 0 1 0 1 0 1 0 1 0 1 0 1-1 1 1 1 0 1 0 1 0 1 0 1 0 1 0 1 0 1 0 1 0 1 0 1 0 1 0 1 0 1 0 1 0 1 0 1 0 1 0 1 0 1 0 1 0 1 0 1 0 1 0 1 0 1 0 1 0 1 0 1 0 1 0 1 0 1 0" stroke="#0066B3" stroke-width="0.7" fill="none" vector-effect="non-scaling-stroke"/>
<path d="M139.20 604.70H377.00" stroke="#c4c4c4" stroke-width="1"/>
<path d="M377.00 604.70V683.00" stroke="#9a9a9a" stroke-width="1"/>
<path d="M139.20 604.70V683.00H377.00" stroke="#3a3a3a" stroke-width="0.9" fill="none"/>
<path d="M139.20 683.00v-2.4M139.20 604.70v2.4M173.17 683.00v-2.4M173.17 604.70v2.4M207.14 683.00v-2.4M207.14 604.70v2.4M241.11 683.00v-2.4M241.11 604.70v2.4M275.09 683.00v-2.4M275.09 604.70v2.4M309.06 683.00v-2.4M309.06 604.70v2.4M343.03 683.00v-2.4M343.03 604.70v2.4M377.00 683.00v-2.4M377.00 604.70v2.4M139.20 680.72h2.4M377.00 680.72h-2.4M139.20 655.38h2.4M377.00 655.38h-2.4M139.20 630.04h2.4M377.00 630.04h-2.4M139.20 604.70h2.4M377.00 604.70h-2.4" stroke="#333" stroke-width="0.8"/>
<text class="tx" x="139.20" y="692.40">0</text>
<text class="tx" x="173.17" y="692.40">0.05</text>
<text class="tx" x="207.14" y="692.40">0.1</text>
<text class="tx" x="241.11" y="692.40">0.15</text>
<text class="tx" x="275.09" y="692.40">0.2</text>
<text class="tx" x="309.06" y="692.40">0.25</text>
<text class="tx" x="343.03" y="692.40">0.3</text>
<text class="tx" x="377.00" y="692.40">0.35</text>
<text class="tk e" x="136.00" y="683.22">-1</text>
<text class="tk e" x="136.00" y="657.88">0</text>
<text class="tk e" x="136.00" y="632.54">1</text>
<text class="tk e" x="136.00" y="607.20">2</text>
<text class="tl" x="258.10" y="602.30">Time domain analysis</text>
<text class="tl" x="258.10" y="701.30">Time (s)</text>
<text class="tl" transform="translate(128.38 643.85) rotate(-90)">Amplitude</text>
<path transform="matrix(0.33313 0.00000 0.00000 0.50000 139.20 655.38)" d="M0 -9l1 12 1 2 1-11 1 16 1-19 1-61 1 113 1-92 1 74 1-6 1-43 1 11 1 28 1-35 1 31 1-21 1 14 1 4 1-19 1-57 1 105 1-84 1 77 1-11 1-45 1 11 1 28 1 3 1-41 1 16 1 15 1-22 1 24 1 42 1-92 1-1 1 64 1-9 1-35 1 38 1-30 1 1 1 22 1-1 1-14 1 0 1 12 1-66 1 100 1-3 1-74 1 47 1-24 1-9 1 42 1-37 1 31 1-19 1 12 1 29 1-71 1 62 1-49 1 6 1 31 1-9 1-9 1 16 1-27 1 11 1 15 1-19 1 15 1-16 1 54 1-91 1 82 1-20 1-42 1 8 1 31 1 0 1-35 1 5 1 31 1-3 1-19 1-50 1 96 1-16 1-54 1 13 1 31 1-28 1 26 1-18 1 15 1 6 1-24 1 17 1-13 1-35 1 78 1-68 1 49 1-30 1 24 1 2 1-33 1 34 1-28 1 23 1-17 1 39 1-73 1 73 1-66 1 52 1-41 1 12 1 23 1-26 1 27 1-3 1-12 1-7 1 18 1-3 1-63 1 13 1 79 1-62 1 44 1-2 1-29 1-5 1 42 1-30 1 16 1-2 1-9 1-35 1 70 1-66 1 56 1-8 1-36 1 15 1 26 1-36 1 32 1-26 1 17 1-13 1 13 1 26 1-72 1 67 1-46 1 5 1 25 1-25 1 28 1-3 1-21 1 18 1-14 1 13 1-19 1 42 1-62 1 9 1 38 1-20 1 13 1 6 1-30 1 7 1 19 1-18 1 16 1-17 1 17 1-67 1 98 1-65 1 45 1-36 1 26 1-29 1 36 1-35 1 33 1-8 1-13 1-29 1 57 1 13 1-79 1 65 1-41 1 35 1-32 1 27 1-19 1-1 1 24 1-26 1 21 1 45 1-121 1 17 1 88 1-67 1 50 1-10 1-25 1 24 1-17 1 26 1-33 1 0 1 26 1 26 1-85 1 75 1-50 1 5 1 31 1 8 1-35 1 30 1-29 1 21 1-22 1 5 1 19 1-82 1 112 1-81 1 70 1-9 1-36 1 33 1-39 1 33 1-28 1 9 1 17 1 12 1-53 1 64 1-67 1 9 1 42 1-2 1-30 1 27 1-19 1-7 1 25 1-5 1-14 1 4 1 52 1-92 1 80 1-12 1-44 1 32 1-25 1 6 1 19 1-26 1 28 1-22 1 17 1 25 1-86 1 17 1 63 1-6 1-45 1 34 1-21 1 20 1-22 1 20 1-15 1 16 1-14 1-54 1 100 1-85 1 70 1-42 1 33 1 2 1-41 1 15 1 15 1-1 1-15 1 4 1 9 1 38 1-90 1 72 1-56 1 18 1 24 1-43 1 50 1-3 1-31 1 4 1 20 1 25 1-76 1 21 1 38 1-3 1-28 1 27 1-23 1 17 1-12 1 13 1-10 1 11 1-16 1 40 1-68 1 59 1-48 1 34 1-17 1 23 1-17 1-17 1 27 1-19 1 23 1-6 1-11 1-62 1 110 1-78 1 67 1-11 1-44 1 41 1-32 1 30 1-33 1 21 1-13 1 6 1 11 1-40 1 62 1-13 1-38 1 35 1-30 1 6 1 23 1-4 1-20 1 4 1 15 1 25 1-66 1 69 1-64 1 51 1-47 1 36 1-22 1 21 1-19 1 20 1-19 1 3 1 11 1 39 1-101 1 20 1 65 1-49 1 35 1-33 1 30 1 1 1-28 1 5 1 19 1-16 1 15 1-67 1 104 1-16 1-60 1 53 1-46 1 43 1-41 1 6 1 34 1-31 1 24 1 28 1-63 1-26 1 85 1-1 1-69 1 17 1 39 1-38 1 23 1-11 1 14 1-16 1 17 1-21 1 51 1-80 1 71 1-11 1-43 1 33 1-24 1 4 1 24 1-25 1 20 1-16 1 14 1-63 1 98 1-7 1-82 1 76 1-64 1 50 1-25 1-25 1 52 1-1 1-33 1 27 1-21 1 42 1-59 1 1 1 51 1-38 1 31 1-29 1 19 1-19 1 21 1-17 1 13 1-19 1 27 1 20 1-85 1 18 1 63 1-18 1-36 1 48 1-47 1 39 1-33 1 16 1 10 1-1 1-19 1 53 1-93 1 15 1 66 1-48 1 34 1-34 1 33 1-4 1-21 1 22 1-18 1 11 1-43 1 62 1-56 1 11 1 36 1-32 1 29 1-37 1 45 1-10 1-19 1 0 1 17 1-85 1 125 1-91 1 73 1-51 1 42 1-6 1-35 1-1 1 40 1-5 1-22 1 18 1-16 1 32 1-61 1 4 1 58 1-50 1 36 1-18 1 17 1 0 1-26 1 0 1 23 1-11 1 12 1 20 1-57 1 14 1 25 1 0 1-27 1 0 1 30 1-21 1 15 1-19 1 16 1-10 1 12 1-41 1 58 1-8 1-31 1-10 1 39 1 6 1-32 1 2 1 17 1 1 1-12 1 7 1-69 1 103 1-78 1 61 1-44 1 38 1-35 1 34 1-31 1 33 1-25 1 17 1-18 1 64 1-105 1 11 1 81 1-23 1-37 1 9 1 25 1-1 1-32 1 30 1-23 1 6 1 14 1 34 1-101 1 84 1-55 1 15 1 26 1 2 1-26 1 27 1-22 1-3 1 20 1 2 1-23 1 44 1-79 1 14 1 54 1-34 1 22 1 7 1-27 1 21 1-22 1 7 1 11 1 40 1-96 1 86 1-82 1 18 1 47 1 0 1-41 1 2 1 35 1-34 1 35 1 3 1-36 1-27 1 74 1-10 1-50 1 13 1 29 1 2 1-31 1 30 1-19 1 17 1-25 1 6 1 14 1-77 1 120 1-100 1 89 1-12 1-53 1 9 1 33 1-6 1-26 1 10 1 15 1-17 1 14 1-70 1 106 1-5 1-79 1 59 1-33 1 39 1-51 1 47 1-29 1 21 1-17 1 12 1-11 1-56 1 96 1-70 1 68 1-16 1-31 1-1 1 31 1-24 1 16 1 3 1-23 1 41 1-65 1 60 1-53 1 49 1-38 1 5 1 25 1-1 1-22 1 24 1-22" stroke="#0072BD" stroke-width="0.7" fill="none" vector-effect="non-scaling-stroke" opacity="0.8"/>
<path transform="matrix(0.33313 0.00000 0.00000 0.50000 139.20 655.38)" d="M0 -6l1 9 1 1 1-8 1-4 1 15 1 30 1-101 1 28 1 61 1-7 1-39 1 10 1 23 1-2 1-28 1 11 1 11 1 1 1-12 1-42 1 81 1-4 1-72 1 23 1 36 1-3 1-26 1-8 1 35 1-8 1-13 1-5 1 21 1 31 1-80 1-1 1 61 1-7 1-28 1 5 1 25 1-9 1-14 1 3 1 10 1-1 1-10 1-47 1 91 1-16 1-49 1 15 1 21 1 5 1-30 1 1 1 27 1-6 1-11 1-27 1 47 1 2 1-36 1 10 1 21 1-10 1-4 1-7 1 19 1-5 1-8 1-1 1 10 1 26 1-40 1-24 1 62 1-18 1-34 1 9 1 26 1-2 1-30 1 6 1 24 1-4 1-13 1-34 1 64 1-5 1-47 1 15 1 24 1-4 1-15 1 2 1 13 1 1 1-18 1 7 1 8 1 24 1-65 1 17 1 34 1-6 1-19 1-6 1 27 1-2 1-16 1 3 1 9 1 8 1-28 1-8 1 47 1-11 1-31 1 10 1 16 1 1 1-21 1 9 1 8 1 2 1-13 1-16 1 27 1 29 1-77 1 20 1 37 1-1 1-25 1-3 1 26 1-5 1-13 1 5 1 8 1 25 1-49 1-12 1 51 1-10 1-25 1 9 1 15 1 1 1-27 1 7 1 15 1-2 1-9 1-26 1 59 1-9 1-37 1 5 1 23 1 0 1-23 1 5 1 17 1-1 1-11 1-6 1 15 1 14 1-45 1 9 1 29 1-6 1-11 1-8 1 26 1-7 1-15 1 1 1 13 1-1 1-6 1-58 1 91 1-14 1-40 1 6 1 25 1 1 1-23 1 0 1 25 1-7 1-11 1-2 1 18 1 20 1-64 1 17 1 35 1-4 1-27 1 7 1 14 1 2 1-19 1 1 1 16 1 25 1-50 1-18 1 71 1-17 1-44 1 14 1 21 1-1 1-17 1-4 1 22 1-1 1-20 1-36 1 76 1-16 1-31 1 8 1 22 1-1 1-19 1-5 1 20 1 0 1-20 1 6 1 14 1 30 1-94 1 22 1 58 1-11 1-26 1 2 1 24 1-2 1-24 1 9 1 12 1 4 1-39 1 5 1 46 1-13 1-22 1-1 1 26 1-5 1-12 1-8 1 21 1-5 1-12 1 4 1 33 1-3 1-63 1 19 1 34 1-5 1-21 1 4 1 17 1-1 1-23 1 9 1 11 1 25 1-76 1 14 1 53 1-8 1-30 1 4 1 21 1-2 1-18 1 3 1 13 1 2 1-11 1-53 1 90 1-10 1-54 1 15 1 30 1-5 1-30 1 12 1 15 1-2 1-10 1 0 1 8 1 28 1-65 1 14 1 36 1-6 1-21 1-3 1 26 1-2 1-25 1 7 1 14 1 17 1-59 1 15 1 33 1-3 1-21 1 7 1 15 1-6 1-10 1 3 1 7 1 3 1-14 1-16 1 45 1-3 1-39 1 13 1 15 1 6 1-16 1-11 1 20 1 3 1-16 1 3 1 8 1 21 1-80 1 26 1 58 1-17 1-32 1 4 1 26 1 3 1-30 1 11 1 7 1 4 1-9 1-26 1 58 1-15 1-35 1 8 1 23 1-3 1-12 1-4 1 16 1-1 1-13 1-25 1 51 1 5 1-47 1-1 1 38 1-4 1-21 1 2 1 18 1-3 1-12 1 2 1 8 1 36 1-67 1-7 1 55 1-7 1-34 1 6 1 25 1-1 1-21 1 2 1 17 1-2 1-10 1-54 1 86 1-3 1-55 1 17 1 32 1-2 1-33 1 1 1 28 1-6 1-20 1 8 1 17 1 18 1-70 1 5 1 58 1-11 1-24 1 2 1 16 1 2 1-12 1-3 1 15 1 4 1-19 1-33 1 64 1-5 1-35 1 3 1 22 1 3 1-20 1 2 1 14 1-2 1-12 1-12 1 55 1-4 1-77 1 19 1 46 1-11 1-19 1-6 1 31 1-8 1-23 1 4 1 19 1 12 1-45 1 0 1 42 1-5 1-25 1 3 1 17 1 2 1-19 1 4 1 11 1 2 1-19 1-23 1 64 1-1 1-61 1 12 1 29 1 8 1-29 1 1 1 25 1-6 1-9 1-9 1 14 1 29 1-82 1 22 1 48 1-8 1-30 1 5 1 22 1-2 1-17 1 5 1 12 1-3 1-16 1-14 1 48 1-9 1-29 1 3 1 23 1 5 1-36 1 15 1 14 1-3 1-14 1-41 1 86 1-17 1-49 1 14 1 32 1-4 1-30 1 0 1 29 1-3 1-16 1 2 1 11 1 18 1-42 1-2 1 43 1-12 1-21 1 6 1 16 1-2 1-20 1 0 1 17 1 1 1-8 1-26 1 52 1-14 1-24 1 3 1 18 1 2 1-18 1 2 1 12 1-1 1-10 1 2 1 7 1 18 1-51 1 15 1 29 1-2 1-30 1 10 1 19 1-6 1-16 1 7 1 9 1-4 1-29 1-9 1 68 1-13 1-39 1 7 1 26 1-4 1-26 1 11 1 13 1-1 1-16 1-39 1 90 1-17 1-56 1 14 1 33 1-3 1-22 1-1 1 22 1-5 1-10 1 0 1 10 1 28 1-75 1 14 1 51 1-13 1-26 1 4 1 22 1-5 1-14 1 0 1 15 1 3 1-22 1-20 1 62 1-14 1-41 1 12 1 21 1 3 1-22 1 1 1 16 1 0 1-9 1-11 1 40 1 2 1-70 1 22 1 38 1-4 1-33 1 0 1 31 1-2 1-25 1 3 1 29 1 4 1-58 1 12 1 43 1-6 1-22 1-2 1 23 1-5 1-9 1-8 1 19 1-3 1-9 1-30 1 60 1 2 1-66 1 18 1 43 1-8 1-31 1 4 1 19 1 1 1-13 1-3 1 13 1 36 1-96 1 22 1 60 1-12 1-32 1-1 1 31 1-1 1-17 1-2 1 12 1-1 1-7 1-38 1 72 1-11 1-53 1 21 1 23 1 1 1-27 1 7 1 11 1 5 1-14 1-20 1 49 1-4 1-47 1 17 1 26 1-6 1-15 1-5 1 19 1 3 1-20" stroke="#0066B3" stroke-width="0.8" fill="none" vector-effect="non-scaling-stroke"/>
<path d="M139.20 714.40H377.00" stroke="#7a7a7a" stroke-width="1"/>
<path d="M377.00 714.40V792.70" stroke="#9a9a9a" stroke-width="1"/>
<path d="M139.20 714.40V792.70H377.00" stroke="#3a3a3a" stroke-width="0.9" fill="none"/>
<path d="M139.20 792.70v-2.4M139.20 714.40v2.4M186.76 792.70v-2.4M186.76 714.40v2.4M234.32 792.70v-2.4M234.32 714.40v2.4M281.88 792.70v-2.4M281.88 714.40v2.4M329.44 792.70v-2.4M329.44 714.40v2.4M377.00 792.70v-2.4M377.00 714.40v2.4M139.20 792.70h2.4M377.00 792.70h-2.4M139.20 766.60h2.4M377.00 766.60h-2.4M139.20 740.50h2.4M377.00 740.50h-2.4M139.20 714.40h2.4M377.00 714.40h-2.4" stroke="#333" stroke-width="0.8"/>
<text class="tx" x="139.20" y="802.10">0</text>
<text class="tx" x="186.76" y="802.10">500</text>
<text class="tx" x="234.32" y="802.10">1000</text>
<text class="tx" x="281.88" y="802.10">1500</text>
<text class="tx" x="329.44" y="802.10">2000</text>
<text class="tx" x="377.00" y="802.10">2500</text>
<text class="tk e" x="136.00" y="795.20">0</text>
<text class="tk e" x="136.00" y="769.10">0.05</text>
<text class="tk e" x="136.00" y="743.00">0.1</text>
<text class="tk e" x="136.00" y="716.90">0.15</text>
<text class="tl" x="258.10" y="712.00">Frequency domain analysis</text>
<text class="tl" x="258.10" y="811.00">frequency (Hz)</text>
<text class="tl" transform="translate(120.98 753.55) rotate(-90)">|Y(f)|</text>
<path transform="matrix(0.33357 0.00000 0.00000 0.50000 139.20 792.70)" d="M0 -1l1 1 1 0 1-1 1 1 1-1 1 0 1 1 1 0 1-1 1 0 1 1 1-1 1-14 1 14 1 1 1 0 1-1 1 0 1 1 1 0 1-1 1 0 1 1 1-1 1 1 1 0 1-1 1 0 1 1 1-1 1 1 1 0 1-1 1 0 1-1 1 0 1 2 1-4 1 3 1 1 1-7 1 5 1-11 1 12 1-5 1 2 1 3 1-5 1 5 1 0 1-8 1 8 1-4 1 4 1-8 1 8 1-5 1-39 1 43 1-7 1 9 1-1 1-5 1 5 1-6 1 6 1-33 1 32 1-6 1-1 1 8 1-2 1-4 1-3 1 9 1 0 1-8 1 7 1-6 1 7 1-8 1 1 1 7 1-13 1 13 1-7 1 7 1-1 1-10 1 10 1-8 1 9 1-7 1 6 1-14 1 14 1-5 1 5 1-4 1 4 1-7 1 3 1 5 1-1 1-6 1-3 1 10 1-15 1 15 1 1 1-6 1 5 1-8 1-33 1 39 1-11 1 14 1-1 1-6 1 6 1-8 1 8 1-9 1 5 1-47 1 26 1 23 1 2 1-22 1-48 1 69 1 2 1-7 1 6 1-4 1-1 1 5 1-3 1 3 1-6 1 5 1-2 1 3 1 1 1-6 1-8 1-38 1 51 1-5 1 3 1 3 1-3 1 2 1-2 1 3 1 0 1-7 1-19 1 26 1 0 1-2 1-1 1 3 1 0 1-2 1-3 1 5 1-1 1-2 1 1 1-24 1 17 1 9 1-1 1-5 1 5 1-4 1-3 1 7 1 0 1-4 1 2 1 2 1-6 1 6 1 0 1-11 1-19 1 29 1 1 1-7 1 6 1-5 1-20 1 25 1 1 1-8 1 8 1-2 1 2 1-2 1 3 1-4 1-1 1 4 1 1 1-3 1 2 1-9 1 9 1-8 1 5 1 4 1-4 1 3 1-2 1 2 1-4 1 3 1 2 1-3 1 3 1-2 1 0 1 2 1-2 1 2 1-2 1 2 1-1 1 1 1 0 1-1 1 1 1-5 1 5 1-13 1 12 1-14 1 10 1-83 1 55 1 31 1 0 1-11 1 12 1-17 1 16 1-22 1 24 1-15 1 12 1-34 1-69 1 101 1 1 1-13 1 4 1 12 1-4 1-14 1 13 1-23 1 24 1-19 1 21 1-18 1-57 1 76 1-29 1 29 1-78 1 80 1-1 1-15 1 8 1-5 1-9 1 21 1-2 1-101 1 82 1 21 1-2 1-60 1 32 1 29 1 1 1 1 1 0 1-1 1 0 1 1 1 0 1-2 1 1 1 1 1-1 1 1 1 0 1-1 1 0 1 1 1-2 1 2 1-1 1 1 1 0 1-1 1 1 1-1 1 1 1-1 1-1 1-4 1-3 1 9 1-15 1 12 1-1 1-13 1-40 1 54 1-18 1 19 1 0 1-26 1 26 1-13 1 10 1-33 1 10 1 26 1-12 1-66 1 64 1 11 1 3 1-15 1-2 1 18 1-2 1-25 1 26 1-24 1 24 1-18 1 19 1-33 1-99 1 116 1 15 1-26 1 9 1 17 1-15 1 16 1-18 1 17 1-16 1 17 1-5 1 4 1 1 1-10 1 10 1-30 1 17 1 14 1 0 1-2 1 2 1-3 1 2 1-2 1 1 1 2 1-4 1 4 1-1 1-3 1 3 1-4 1 3 1-24 1 25 1-4 1 3 1-4 1 2 1 4 1-1 1-4 1 4 1-2 1 1 1-7 1 5 1 3 1-3 1 2 1 0 1-3 1 4 1-4 1 1 1 3 1 1 1-5 1 1 1 3 1-1 1-19 1 13 1 7 1 0 1-8 1 2 1 6 1 0 1-5 1 5 1-6 1 1 1 5 1-9 1 9 1-9 1 9 1-7 1 6 1-3 1 4 1-1 1-8 1 10 1-7 1 2 1 4 1 1 1-11 1 10 1-6 1 3 1 4 1-9 1 8 1-1 1-6 1 1 1 6 1 1 1-8 1 2 1 5 1-5 1 5 1-3 1 4 1 0 1-7 1 6 1-3 1-3 1 7 1-1 1-3 1 1 1 3 1-4 1 4 1-3 1 3 1-1 1-3 1 1 1 3 1-2 1 2 1-2 1 2 1-2 1 2 1-2 1 2 1-1 1 1 1-1 1 1 1-1 1 1 1-1 1 1 1 0 1-1 1 0 1 1 1-1 1 1 1-1 1 1 1 0 1 0 1-1 1 1 1-1 1 1 1 0 1-1 1 1 1-1 1-1 1 2 1 0 1-1 1 1 1-1 1 1 1-1 1 0 1 1 1 0 1-1 1 1 1 0 1 0 1-1 1 1 1-1 1 1 1-1 1 0 1 1 1 0 1-1 1 0 1 1 1-1 1 1 1-2 1 2 1 0 1-1 1 1 1-1 1 1 1-1 1 0 1 1 1 0 1 0 1 0 1-1 1 1 1-1 1 1 1-1 1 0 1 1 1-2 1 2 1 0 1-1 1 1 1 0 1 0 1-1 1 1 1-1 1 1 1-1 1 1 1-1 1 0 1 1 1-1 1 1 1 0 1-1 1 0 1 1 1 0 1-2" stroke="#0072BD" stroke-width="0.6" fill="none" vector-effect="non-scaling-stroke" opacity="0.7"/>
<path transform="matrix(0.33357 0.00000 0.00000 0.50000 139.20 792.70)" d="M0 -1l1 1 1 0 1 0 1 0 1 0 1 0 1-1 1 1 1 0 1 0 1 0 1-5 1 4 1 1 1-1 1 1 1 0 1 0 1 0 1 0 1 0 1 0 1 0 1 0 1 0 1 0 1 0 1 0 1 0 1 0 1 0 1 0 1 0 1-1 1 0 1-1 1 2 1-1 1-1 1 0 1 2 1-2 1-4 1 2 1 3 1 0 1-1 1-2 1 3 1 0 1-3 1 1 1 2 1 0 1-2 1 1 1 1 1-1 1-9 1 9 1 2 1-1 1-3 1 0 1 3 1 0 1-7 1 4 1 2 1 1 1-4 1 1 1 1 1 2 1-3 1 2 1 1 1-1 1-3 1 0 1 4 1 0 1-4 1-3 1 7 1 0 1-2 1-2 1 3 1 0 1-2 1 0 1 3 1-1 1-6 1 4 1 2 1 0 1-2 1 0 1 2 1 1 1-3 1-1 1 3 1 1 1-1 1-2 1 3 1 1 1-2 1-3 1 4 1-2 1-17 1 16 1 4 1-1 1-4 1 1 1 3 1 0 1-5 1-6 1 7 1 2 1-7 1 4 1 5 1-1 1-8 1 7 1 3 1-1 1-2 1 1 1 1 1 0 1-1 1-3 1 3 1 1 1-2 1 0 1 3 1-14 1-5 1 14 1 4 1 1 1-2 1 0 1 1 1 1 1-1 1-2 1 3 1 0 1-11 1 10 1 1 1 0 1-1 1 0 1 1 1 0 1-2 1 0 1 1 1-1 1-5 1 5 1 2 1-1 1-2 1 1 1 1 1 0 1-4 1 3 1 1 1 0 1-1 1-2 1 3 1 0 1-8 1 1 1 6 1 1 1-2 1-2 1 3 1 0 1-6 1 6 1 1 1 0 1-2 1 0 1 2 1 1 1-3 1 0 1 2 1 1 1-1 1-2 1 2 1 0 1-3 1 1 1 3 1-1 1-1 1 0 1 1 1-1 1-1 1 1 1 2 1 0 1-2 1 1 1 1 1 0 1-1 1 0 1 1 1 0 1-1 1 1 1 0 1 0 1-2 1-3 1 5 1-1 1-7 1-22 1 25 1 3 1-4 1 0 1 4 1 1 1-10 1 4 1 5 1 2 1-10 1 0 1 7 1-2 1-37 1 35 1 3 1 3 1-3 1-5 1 4 1-1 1-9 1 4 1 6 1 2 1-5 1-23 1 29 1 0 1-7 1-29 1 38 1-1 1-8 1-2 1 3 1 7 1-8 1-8 1 14 1 2 1-8 1-3 1 9 1 1 1-3 1 5 1 0 1 0 1 0 1 0 1 0 1 0 1-1 1 1 1 0 1 0 1 0 1-1 1 1 1 0 1 0 1 0 1 0 1 0 1 0 1 0 1 0 1 0 1-1 1 1 1 0 1-2 1-2 1-1 1 5 1-3 1-7 1 2 1 4 1 1 1-18 1 13 1 6 1 0 1-6 1-1 1 7 1-3 1-8 1-1 1 12 1-12 1-25 1 29 1 5 1 3 1-7 1-2 1 10 1-2 1-11 1-7 1 19 1 0 1-10 1 5 1 6 1-16 1-34 1 40 1 9 1 0 1-8 1 3 1 6 1-1 1-6 1 3 1 4 1-1 1-2 1 0 1 3 1 0 1-9 1 5 1 5 1 0 1-1 1 0 1 1 1-1 1-1 1 1 1 1 1 0 1-2 1 0 1 1 1 0 1-1 1-7 1 7 1 1 1-1 1-2 1 2 1 2 1-2 1 0 1 1 1 0 1-1 1-6 1 6 1 1 1-2 1 0 1 1 1 0 1-2 1 1 1 2 1 0 1-2 1 0 1 3 1-1 1-2 1-3 1 4 1 1 1-3 1 0 1 3 1 0 1-3 1-1 1 4 1 0 1-1 1 0 1 1 1 0 1-3 1 1 1 2 1-1 1-3 1 2 1 2 1-1 1-3 1 1 1 4 1-1 1-2 1 2 1 1 1-1 1-2 1 2 1 1 1-1 1-3 1 0 1 2 1 1 1-1 1 0 1 2 1-1 1-3 1 0 1 3 1 1 1-2 1 0 1 2 1-1 1-2 1 1 1 2 1-1 1-1 1 0 1 2 1 0 1-1 1-1 1 2 1-1 1-1 1 1 1 1 1 0 1-1 1 0 1 1 1 0 1-1 1 0 1 1 1 0 1-1 1 1 1 0 1 0 1 0 1 0 1 0 1 0 1 0 1 0 1 0 1 0 1-1 1 0 1 1 1 0 1 0 1-1 1 1 1 0 1 0 1 0 1 0 1 0 1 0 1-1 1 1 1 0 1 0 1-1 1 1 1 0 1 0 1-1 1 1 1 0 1-1 1 1 1 0 1 0 1-1 1 1 1 0 1 0 1 0 1-1 1 1 1 0 1-1 1 0 1 1 1 0 1 0 1 0 1 0 1 0 1 0 1 0 1 0 1 0 1 0 1 0 1 0 1 0 1 0 1-1 1 1 1 0 1-1 1 0 1 1 1 0 1 0 1-1 1 1 1 0 1-1 1 1 1 0 1 0 1 0 1-1 1 1 1 0 1 0 1 0 1 0 1 0 1 0 1 0 1 0 1 0 1 0 1 0 1 0 1 0 1 0" stroke="#0066B3" stroke-width="0.7" fill="none" vector-effect="non-scaling-stroke"/>
<path d="M462.70 604.70H700.30" stroke="#c4c4c4" stroke-width="1"/>
<path d="M700.30 604.70V683.00" stroke="#9a9a9a" stroke-width="1"/>
<path d="M462.70 604.70V683.00H700.30" stroke="#3a3a3a" stroke-width="0.9" fill="none"/>
<path d="M462.70 683.00v-2.4M462.70 604.70v2.4M496.64 683.00v-2.4M496.64 604.70v2.4M530.59 683.00v-2.4M530.59 604.70v2.4M564.53 683.00v-2.4M564.53 604.70v2.4M598.47 683.00v-2.4M598.47 604.70v2.4M632.41 683.00v-2.4M632.41 604.70v2.4M666.36 683.00v-2.4M666.36 604.70v2.4M700.30 683.00v-2.4M700.30 604.70v2.4M462.70 683.00h2.4M700.30 683.00h-2.4M462.70 663.42h2.4M700.30 663.42h-2.4M462.70 643.85h2.4M700.30 643.85h-2.4M462.70 624.28h2.4M700.30 624.28h-2.4M462.70 604.70h2.4M700.30 604.70h-2.4" stroke="#333" stroke-width="0.8"/>
<text class="tx" x="462.70" y="692.40">0</text>
<text class="tx" x="496.64" y="692.40">0.05</text>
<text class="tx" x="530.59" y="692.40">0.1</text>
<text class="tx" x="564.53" y="692.40">0.15</text>
<text class="tx" x="598.47" y="692.40">0.2</text>
<text class="tx" x="632.41" y="692.40">0.25</text>
<text class="tx" x="666.36" y="692.40">0.3</text>
<text class="tx" x="700.30" y="692.40">0.35</text>
<text class="tk e" x="459.50" y="685.50">-2</text>
<text class="tk e" x="459.50" y="665.92">-1</text>
<text class="tk e" x="459.50" y="646.35">0</text>
<text class="tk e" x="459.50" y="626.78">1</text>
<text class="tk e" x="459.50" y="607.20">2</text>
<text class="tl" x="581.50" y="602.30">Time domain analysis</text>
<text class="tl" x="581.50" y="701.30">Time (s)</text>
<text class="tl" transform="translate(451.88 643.85) rotate(-90)">Amplitude</text>
<path transform="matrix(0.33380 0.00000 0.00000 0.50000 462.70 643.85)" d="M0 24l1-53 1 55 1-44 1 1 1 35 1-8 1-18 1 20 1-28 1 28 1-20 1 13 1-10 1-31 1 63 1-54 1 46 1-27 1 18 1-25 1 28 1-21 1 17 1 1 1-24 1 9 1 53 1-86 1 77 1-23 1-39 1 13 1 23 1 2 1-32 1 26 1-17 1 16 1-13 1 43 1-71 1-1 1 74 1-60 1 38 1-35 1 29 1 3 1-32 1 6 1 23 1-3 1-20 1 50 1-72 1 63 1-51 1 2 1 30 1 6 1-32 1 25 1-18 1 17 1-17 1 16 1-36 1-15 1 72 1-8 1-41 1 6 1 25 1 10 1-37 1 23 1-11 1-5 1 17 1-42 1 72 1-7 1-57 1 8 1 32 1-29 1 35 1-33 1 24 1-3 1-16 1 0 1 18 1-57 1 100 1-5 1-85 1 58 1-41 1 29 1-20 1-3 1 30 1-8 1-17 1-19 1 51 1-40 1 34 1-4 1-30 1 25 1-17 1 18 1-18 1 2 1 18 1-8 1-9 1 36 1-68 1 13 1 46 1-33 1 26 1-32 1 34 1-31 1 30 1-3 1-19 1 15 1-14 1 44 1-79 1 61 1-47 1 39 1-24 1 24 1-16 1 18 1-28 1 1 1 27 1-22 1 58 1-95 1 81 1-14 1-41 1 30 1-20 1-8 1 39 1-35 1 26 1-20 1 13 1-56 1 84 1-4 1-54 1 3 1 39 1-29 1 22 1 6 1-34 1 6 1 21 1-6 1-34 1 83 1-89 1 9 1 47 1-33 1 26 1-1 1-27 1 22 1-16 1-2 1 19 1-59 1 96 1-9 1-67 1 51 1-42 1 35 1-25 1-2 1 25 1-6 1-14 1 17 1-12 1 32 1-54 1 45 1-39 1 5 1 30 1-25 1 22 1-3 1-23 1 8 1 13 1 2 1-16 1 59 1-97 1 17 1 51 1-5 1-31 1 0 1 19 1 3 1-21 1 19 1-14 1-26 1 62 1-58 1 61 1-43 1 23 1-3 1-21 1 3 1 20 1-5 1-12 1 2 1 10 1 28 1-59 1 52 1-47 1 5 1 32 1-30 1 18 1-21 1 26 1-18 1 15 1-15 1 44 1-72 1 67 1-59 1 50 1-29 1 15 1-17 1 27 1-34 1 29 1-19 1 14 1 25 1-62 1 55 1-56 1 48 1-33 1 5 1 28 1-35 1 24 1 4 1-20 1 0 1 15 1 30 1-62 1 1 1 47 1-6 1-32 1 32 1-30 1 23 1-21 1 2 1 20 1-20 1 16 1 34 1-86 1 21 1 49 1-8 1-29 1-4 1 33 1-23 1 12 1 5 1-22 1 18 1-22 1-26 1 78 1-14 1-44 1 36 1-17 1 18 1-24 1 20 1-24 1 4 1 14 1-42 1 78 1-79 1 67 1-9 1-40 1 9 1 22 1-2 1-20 1 19 1-12 1 11 1-15 1 36 1-55 1 47 1-35 1 24 1-14 1-7 1 19 1-21 1 24 1-13 1 9 1-44 1 72 1-1 1-66 1 12 1 40 1-33 1 36 1-41 1 36 1-33 1 23 1 0 1-15 1 49 1-66 1 3 1 39 1-4 1-29 1 28 1-19 1 0 1 21 1-10 1-14 1 5 1 15 1-43 1 68 1-10 1-49 1 39 1-27 1-3 1 24 1-22 1 25 1-3 1-21 1 10 1 33 1-54 1 40 1-3 1-35 1 30 1-18 1 18 1-15 1-3 1 17 1 0 1-15 1 50 1-85 1 67 1-51 1 43 1-35 1 27 1-26 1 3 1 30 1-28 1 21 1-14 1 11 1-30 1 45 1-7 1-32 1 26 1-20 1 30 1-34 1 2 1 22 1 0 1-14 1-18 1 44 1-4 1-36 1 8 1 25 1-17 1 14 1-6 1-10 1 14 1-12 1-1 1 11 1-45 1 78 1-11 1-50 1 38 1-31 1 37 1-39 1 2 1 28 1-5 1-15 1-6 1 30 1 22 1-71 1 49 1-33 1 31 1-25 1 29 1-39 1 24 1-9 1-2 1 17 1-56 1 87 1-77 1 67 1-10 1-37 1 3 1 39 1-48 1 38 1-28 1 17 1 1 1-14 1 39 1-57 1 8 1 39 1-9 1-20 1-5 1 27 1-23 1 16 1-13 1 13 1-14 1 12 1 25 1-59 1 42 1-28 1 5 1 19 1-19 1 21 1-27 1 26 1-21 1 23 1 33 1-81 1 14 1 48 1-9 1-31 1 1 1 22 1 2 1-21 1-1 1 21 1-16 1 14 1 18 1-53 1 45 1-34 1 7 1 22 1 7 1-28 1 1 1 16 1-16 1 11 1 27 1-46 1 35 1-49 1 47 1-33 1 26 1-16 1 14 1-20 1 18 1-15 1 12 1-8 1 54 1-88 1 4 1 54 1-4 1-34 1-5 1 45 1-36 1 30 1-9 1-14 1 2 1 12 1-51 1 83 1-4 1-64 1 51 1-36 1 0 1 22 1 5 1-20 1-6 1 20 1 1 1-14 1 36 1-67 1 58 1-34 1 22 1-20 1 18 1-16 1 25 1-28 1 9 1 8 1-59 1 104 1-105 1 88 1-49 1 39 1-14 1-23 1 29 1-31 1 31 1-26 1-1 1 18 1 27 1-64 1 57 1-52 1 9 1 24 1-16 1 29 1-10 1-23 1 26 1-22 1 15 1-14 1 37 1-58 1 48 1-41 1 12 1 23 1-23 1 16 1 2 1-18 1 3 1 15 1-4 1-29 1 48 1-52 1 48 1-38 1 27 1-16 1 2 1 12 1 0 1-13 1 12 1-12 1 43 1-72 1 59 1-46 1 45 1-35 1 25 1-26 1-2 1 33 1-22 1 15 1 37 1-60 1-32 1 81 1-17 1-40 1 36 1-26 1-8 1 35 1-20 1 12 1-5 1-14 1 7 1 31 1-6 1-40 1 33 1-28 1 24 1-17 1 14 1-17 1 21 1-17 1 15 1-19 1-20 1 60 1-49 1 34 1-25 1 21 1-21 1 20 1 0 1-19 1 13 1-10 1 12 1-10" stroke="#0072BD" stroke-width="0.7" fill="none" vector-effect="non-scaling-stroke" opacity="0.8"/>
<path transform="matrix(0.33380 0.00000 0.00000 0.50000 462.70 643.85)" d="M0 -18l1 41 1-4 1-37 1 6 1 24 1-5 1-13 1-5 1 20 1 2 1-19 1 5 1 8 1 19 1-47 1 3 1 36 1-6 1-17 1-5 1 22 1-1 1-16 1-5 1 20 1 23 1-33 1-30 1 62 1-17 1-29 1 8 1 19 1 0 1-22 1 5 1 13 1-1 1-9 1-12 1 36 1 8 1-59 1 11 1 32 1-2 1-22 1-5 1 29 1-3 1-16 1-3 1 14 1 25 1-56 1 7 1 45 1-19 1-23 1 8 1 18 1-2 1-15 1 1 1 12 1 1 1-16 1-20 1 57 1-11 1-32 1 4 1 22 1 1 1-19 1 4 1 9 1-1 1-13 1-23 1 54 1 4 1-45 1 1 1 30 1-2 1-22 1-2 1 23 1-2 1-15 1 1 1 12 1 26 1-75 1 15 1 53 1-8 1-32 1 6 1 18 1 2 1-24 1 6 1 15 1 3 1-21 1-5 1 31 1-7 1-25 1 8 1 12 1 5 1-16 1 0 1 16 1-7 1-7 1-29 1 63 1-12 1-33 1 6 1 22 1-2 1-20 1-3 1 21 1-1 1-13 1 2 1 10 1 30 1-66 1 9 1 40 1-10 1-20 1 8 1 11 1 1 1-20 1 4 1 20 1-2 1-15 1-32 1 66 1-14 1-32 1 9 1 15 1 6 1-28 1 2 1 23 1-6 1-11 1-24 1 55 1 2 1-50 1 4 1 33 1-9 1-15 1-5 1 28 1-3 1-20 1 0 1 13 1 33 1-67 1 9 1 42 1-8 1-22 1-1 1 23 1-5 1-15 1 1 1 14 1 21 1-58 1 0 1 64 1-19 1-31 1 4 1 20 1 0 1-21 1 8 1 9 1 3 1-9 1-18 1 38 1-7 1-24 1 2 1 24 1-4 1-19 1 2 1 13 1 0 1-10 1 2 1 8 1 38 1-84 1 18 1 43 1-8 1-23 1 3 1 14 1 2 1-15 1 2 1 12 1 5 1-41 1 9 1 38 1-7 1-21 1 1 1 12 1 5 1-14 1 1 1 9 1-1 1-7 1-19 1 40 1 7 1-44 1 5 1 29 1-9 1-17 1 6 1 15 1-2 1-14 1 1 1 17 1 15 1-50 1 5 1 41 1-19 1-9 1-3 1 24 1-9 1-19 1 8 1 11 1 19 1-35 1-15 1 48 1-6 1-31 1 6 1 20 1-6 1-18 1 5 1 17 1-5 1-12 1-19 1 55 1-10 1-39 1 11 1 19 1 4 1-24 1 0 1 19 1-3 1-11 1 0 1 10 1 31 1-72 1 12 1 40 1-2 1-19 1-8 1 27 1-10 1-10 1-3 1 16 1-1 1-20 1-18 1 62 1-15 1-29 1 11 1 13 1-4 1-15 1 1 1 18 1-6 1-9 1-27 1 54 1 1 1-51 1 15 1 29 1-11 1-13 1 0 1 17 1-3 1-9 1-4 1 13 1 19 1-46 1 6 1 30 1-6 1-12 1-8 1 17 1 3 1-20 1 9 1 7 1 13 1-40 1-11 1 63 1-15 1-36 1 13 1 25 1-4 1-26 1 2 1 15 1 2 1-12 1-2 1 33 1-13 1-28 1 2 1 26 1-2 1-17 1 2 1 16 1-7 1-13 1 4 1 13 1 15 1-55 1 11 1 46 1-17 1-19 1-1 1 21 1 1 1-17 1 0 1 11 1 9 1-15 1-14 1 33 1-5 1-23 1 4 1 15 1 0 1-14 1-2 1 14 1-1 1-11 1-23 1 59 1-6 1-47 1 13 1 26 1-7 1-22 1 1 1 25 1-7 1-18 1 8 1 8 1 14 1-37 1 6 1 26 1-6 1-13 1-6 1 26 1-8 1-15 1 6 1 10 1 3 1-32 1 7 1 31 1-5 1-20 1 6 1 11 1-5 1-9 1 2 1 12 1-3 1-9 1-28 1 68 1-15 1-41 1 5 1 30 1 2 1-30 1 1 1 24 1-6 1-12 1-2 1 19 1 19 1-56 1 14 1 26 1-3 1-21 1-1 1 28 1-14 1-6 1-3 1 13 1 23 1-65 1 3 1 54 1-3 1-31 1 1 1 27 1-7 1-26 1 10 1 11 1 0 1-10 1-13 1 47 1-8 1-38 1 11 1 16 1 2 1-24 1 6 1 13 1 0 1-10 1-1 1 9 1 16 1-35 1 2 1 25 1-4 1-15 1-3 1 20 1-1 1-16 1 0 1 13 1 10 1-29 1-7 1 45 1-15 1-20 1-1 1 19 1 2 1-20 1 4 1 15 1-4 1-10 1-21 1 51 1-12 1-29 1 8 1 15 1 6 1-17 1-2 1 11 1-3 1-8 1 1 1 30 1-6 1-42 1 12 1 26 1-7 1-13 1-6 1 19 1-3 1-13 1 5 1 7 1 37 1-73 1 0 1 52 1-4 1-28 1-6 1 35 1-4 1-27 1 9 1 10 1 0 1-10 1-35 1 70 1 2 1-57 1 13 1 23 1-5 1-17 1 6 1 14 1-3 1-15 1 4 1 11 1 18 1-45 1 8 1 24 1-3 1-15 1 1 1 12 1 2 1-17 1 6 1 7 1 16 1-34 1-23 1 65 1-14 1-26 1 3 1 18 1 2 1-25 1 4 1 22 1-9 1-10 1-17 1 55 1-8 1-44 1 11 1 16 1 3 1-17 1 0 1 15 1 0 1-15 1 2 1 9 1 24 1-46 1 0 1 33 1-3 1-17 1-2 1 14 1 2 1-16 1 4 1 10 1-2 1-11 1-10 1 37 1-5 1-30 1 7 1 14 1-3 1-8 1-2 1 13 1-1 1-9 1-27 1 64 1-13 1-42 1 12 1 25 1-3 1-24 1 0 1 20 1-1 1-12 1-4 1 44 1-7 1-57 1 12 1 34 1-5 1-20 1-7 1 30 1-9 1-10 1-2 1 9 1 4 1-10 1-16 1 40 1-8 1-26 1 6 1 12 1 1 1-14 1 3 1 14 1-1 1-13 1-17 1 39 1-5 1-28 1 6 1 20 1 0 1-18 1-1 1 17 1-4 1-9 1 2 1 9" stroke="#0066B3" stroke-width="0.8" fill="none" vector-effect="non-scaling-stroke"/>
<path d="M462.70 714.40H700.30" stroke="#7a7a7a" stroke-width="1"/>
<path d="M700.30 714.40V792.70" stroke="#9a9a9a" stroke-width="1"/>
<path d="M462.70 714.40V792.70H700.30" stroke="#3a3a3a" stroke-width="0.9" fill="none"/>
<path d="M462.70 792.70v-2.4M462.70 714.40v2.4M510.22 792.70v-2.4M510.22 714.40v2.4M557.74 792.70v-2.4M557.74 714.40v2.4M605.26 792.70v-2.4M605.26 714.40v2.4M652.78 792.70v-2.4M652.78 714.40v2.4M700.30 792.70v-2.4M700.30 714.40v2.4M462.70 792.70h2.4M700.30 792.70h-2.4M462.70 758.36h2.4M700.30 758.36h-2.4M462.70 724.02h2.4M700.30 724.02h-2.4" stroke="#333" stroke-width="0.8"/>
<text class="tx" x="462.70" y="802.10">0</text>
<text class="tx" x="510.22" y="802.10">500</text>
<text class="tx" x="557.74" y="802.10">1000</text>
<text class="tx" x="605.26" y="802.10">1500</text>
<text class="tx" x="652.78" y="802.10">2000</text>
<text class="tx" x="700.30" y="802.10">2500</text>
<text class="tk e" x="459.50" y="795.20">0</text>
<text class="tk e" x="459.50" y="760.86">0.05</text>
<text class="tk e" x="459.50" y="726.52">0.1</text>
<text class="tl" x="581.50" y="712.00">Frequency domain analysis</text>
<text class="tl" x="581.50" y="811.00">frequency (Hz)</text>
<text class="tl" transform="translate(444.48 753.55) rotate(-90)">|Y(f)|</text>
<path transform="matrix(0.33329 0.00000 0.00000 0.50000 462.70 792.70)" d="M0 -1l1 1 1-1 1 1 1 0 1-1 1 1 1-2 1 2 1-1 1-1 1 2 1 0 1-1 1 1 1-18 1 8 1 10 1 0 1-1 1 1 1-1 1 1 1-1 1 1 1-1 1 1 1-1 1 0 1 1 1 0 1-4 1 3 1-2 1-13 1 16 1-1 1-4 1-5 1 9 1-4 1 4 1-4 1 5 1 0 1-21 1 9 1 10 1 0 1-8 1 8 1-5 1 7 1-10 1 8 1-11 1 12 1-32 1-70 1 99 1 3 1-5 1 5 1-14 1 14 1-32 1 15 1 15 1-6 1 9 1-10 1 8 1-3 1 4 1-13 1 14 1-2 1-8 1 9 1-9 1 9 1-19 1 19 1-13 1 12 1-8 1 8 1-19 1 12 1 8 1-15 1 14 1-16 1 16 1-9 1 9 1-2 1-8 1 11 1-10 1 10 1-8 1 0 1 7 1 1 1-16 1 15 1-11 1-69 1 76 1-9 1 14 1-1 1-13 1 14 1-11 1 9 1-4 1 6 1-18 1-43 1 60 1-1 1-24 1-42 1 68 1-10 1 10 1 0 1-17 1 1 1 16 1-1 1-19 1 20 1-17 1 17 1-14 1-6 1 19 1 0 1-5 1-93 1 86 1 7 1 6 1 0 1-10 1 10 1-9 1 6 1-5 1 9 1-18 1-30 1 47 1-13 1 10 1-9 1 12 1-1 1-10 1 10 1-6 1 7 1-9 1 8 1-9 1-4 1 14 1 0 1-40 1 23 1 16 1-7 1 8 1 1 1-7 1-1 1 6 1 1 1-5 1-1 1 6 1-7 1 8 1-5 1 4 1 0 1-9 1 6 1 3 1 1 1-8 1 4 1 3 1-26 1 24 1 2 1 1 1 0 1-1 1 1 1-2 1 2 1-5 1 4 1-4 1 1 1 4 1-6 1 5 1-4 1 5 1-1 1-7 1 7 1-3 1-6 1 9 1-4 1 4 1 0 1-2 1-3 1 5 1 1 1-5 1 0 1 5 1-8 1 6 1-6 1 7 1-7 1 8 1-7 1 7 1 0 1-6 1 4 1 2 1 0 1-5 1 3 1-19 1-1 1 14 1-79 1 82 1-33 1 35 1-34 1 35 1-36 1 33 1-19 1 21 1-29 1 30 1-3 1-17 1-102 1 122 1-56 1 56 1-44 1 41 1-2 1-37 1 39 1-64 1 33 1 28 1-8 1 13 1-2 1-43 1 32 1-141 1 133 1 23 1-20 1 17 1-11 1 14 1-6 1 6 1 0 1 1 1-1 1 1 1-1 1 1 1 0 1-1 1 1 1-2 1 1 1 1 1-1 1 1 1-2 1 2 1 0 1-1 1 0 1 1 1 0 1-1 1 1 1-1 1 1 1-1 1-1 1-4 1-8 1 11 1-1 1-17 1 20 1-29 1-70 1 98 1-25 1 23 1 3 1-39 1 6 1 32 1-42 1 41 1-24 1 16 1-50 1 56 1-119 1 115 1 6 1-24 1-29 1 51 1-46 1 51 1-51 1 36 1 5 1-19 1-9 1 30 1-8 1-77 1 86 1-29 1-15 1 43 1 7 1-17 1 2 1-53 1 45 1 21 1-36 1 33 1 2 1-15 1 10 1-60 1 45 1 22 1-18 1 17 1-20 1 15 1-15 1 21 1 0 1 2 1 0 1-2 1 1 1-4 1-22 1 26 1 0 1 1 1-4 1 3 1-1 1 2 1-3 1 2 1-3 1 3 1-2 1 3 1 0 1-4 1 4 1-5 1-3 1 7 1 1 1-5 1 5 1-4 1-1 1 4 1 0 1-5 1-3 1 8 1-5 1 5 1-5 1 4 1-8 1 10 1-1 1-3 1 0 1 4 1-1 1-4 1 5 1-6 1 0 1 5 1 0 1-5 1 5 1-7 1 3 1 3 1-3 1 4 1 0 1-4 1-2 1 6 1 1 1-4 1 4 1-6 1 3 1-5 1 7 1-9 1 9 1-3 1-7 1 10 1 0 1-4 1 4 1-5 1 5 1-3 1 3 1-4 1-1 1 5 1-1 1-4 1 5 1-2 1 1 1-4 1-3 1 9 1-5 1 4 1 0 1-8 1 9 1-8 1 7 1-7 1 1 1 6 1 0 1-5 1 3 1 3 1 0 1-7 1 6 1-4 1 4 1-5 1 6 1-3 1-1 1 3 1-4 1 4 1 0 1-2 1 3 1-2 1 1 1-2 1 3 1-5 1 3 1 1 1-2 1 3 1-2 1 2 1-3 1 3 1-2 1 2 1-2 1 2 1 0 1-1 1 1 1-1 1 0 1 1 1 0 1-2 1 1 1 1 1 0 1-1 1 1 1-1 1 1 1-1 1-1 1 2 1 0 1-2 1 2 1-2 1 1 1 1 1 0 1-1 1 0 1 1 1 0 1-1 1 0 1 1 1 0 1-1 1 1 1-2 1 1 1 1 1-1 1 1 1-1 1 0 1 0 1 1 1 0 1-1 1 1 1-1 1-1 1 2 1 0 1-2 1 0 1 2 1 0 1-1 1 0 1 1 1 0 1-1 1-1 1 2 1 0 1-2 1 0 1 2 1 0 1-1" stroke="#0072BD" stroke-width="0.6" fill="none" vector-effect="non-scaling-stroke" opacity="0.7"/>
<path transform="matrix(0.33329 0.00000 0.00000 0.50000 462.70 792.70)" d="M0 0l1 0 1 0 1-1 1 0 1 1 1 0 1-1 1 0 1 1 1 0 1-1 1 1 1 0 1 0 1-4 1 1 1 3 1 0 1 0 1-1 1 1 1 0 1-1 1 0 1 1 1 0 1 0 1-1 1 1 1 0 1-2 1 1 1 0 1 1 1-7 1 4 1 2 1 0 1-2 1 0 1 2 1 1 1-3 1-4 1 7 1-2 1-6 1 4 1 2 1 0 1-2 1 1 1 3 1-2 1-1 1-4 1 6 1-3 1-31 1 31 1 3 1 0 1-3 1-3 1 6 1-2 1-7 1 7 1 3 1-2 1-3 1 1 1 3 1 1 1-4 1-3 1 5 1 1 1-6 1-2 1 8 1 0 1-6 1 2 1 3 1 0 1-3 1 0 1 4 1-1 1-6 1 3 1 3 1 0 1-3 1-2 1 3 1 3 1-4 1-2 1 6 1-1 1-5 1-4 1 10 1-1 1-3 1-30 1 29 1 5 1-7 1-1 1 7 1 1 1-4 1 0 1 2 1 2 1-14 1-13 1 26 1-1 1-6 1-7 1 15 1 0 1-6 1-1 1 7 1 0 1-8 1 3 1 4 1 1 1-6 1 0 1 6 1-1 1-6 1 2 1 4 1-12 1-21 1 30 1 4 1 0 1-4 1 1 1 3 1-3 1-3 1-5 1 12 1-1 1-13 1 6 1 4 1 3 1-4 1 1 1 2 1 0 1-5 1 2 1 4 1-1 1-3 1 0 1 4 1 0 1-10 1 8 1 1 1 1 1-2 1-1 1 4 1-2 1-1 1 1 1 1 1 0 1-3 1 1 1 3 1-1 1-2 1-2 1 4 1 0 1-1 1 0 1 2 1-1 1-1 1-6 1 5 1 3 1 0 1-1 1 1 1 0 1-1 1 0 1 1 1-1 1-1 1 1 1 1 1-1 1-2 1 0 1 3 1-1 1-2 1 1 1 1 1 0 1-3 1 1 1 2 1 0 1-1 1-2 1 3 1 1 1-3 1-1 1 4 1-2 1-1 1 1 1 1 1 1 1-2 1-1 1 3 1 0 1-2 1 1 1 1 1 0 1-2 1-3 1 3 1-6 1-3 1-22 1 28 1 2 1-13 1 5 1 9 1-3 1-14 1 7 1 9 1 1 1-12 1 4 1 5 1 3 1-58 1 46 1 12 1-3 1-5 1-19 1 22 1 2 1-13 1-3 1 13 1 5 1-12 1-2 1 12 1-11 1-32 1 34 1 13 1-3 1-2 1-3 1 8 1 0 1-5 1 6 1 0 1 0 1-1 1 1 1 0 1 0 1-1 1 0 1 1 1 0 1 0 1 0 1 0 1 0 1-1 1 0 1 1 1 0 1-1 1 0 1 1 1 0 1-1 1 0 1 1 1-2 1-2 1-5 1 6 1-1 1-10 1-3 1 16 1-1 1-37 1 22 1 13 1 3 1-23 1 1 1 21 1-1 1-18 1 0 1 10 1 6 1-22 1-7 1 25 1 6 1-6 1-10 1 14 1 5 1-8 1-21 1 14 1 5 1-9 1 0 1 11 1-8 1-21 1 16 1 14 1-1 1-23 1 21 1 9 1-15 1-15 1 15 1 13 1-3 1-9 1 4 1 7 1-5 1-8 1 1 1 14 1-1 1-9 1 2 1 2 1 6 1-5 1 7 1 0 1 0 1 0 1-2 1 1 1 0 1-10 1 10 1 1 1-1 1-1 1 1 1 1 1-1 1-1 1 0 1 1 1 1 1-2 1 0 1 2 1 0 1-3 1 0 1 2 1 1 1-3 1 1 1 2 1-1 1-1 1-2 1 3 1 0 1-2 1 0 1 2 1-1 1-1 1 1 1 2 1-1 1-1 1-2 1 4 1-1 1-2 1 0 1 3 1-1 1-2 1 1 1 1 1 0 1-1 1-2 1 2 1 1 1-3 1 1 1 2 1 0 1-2 1 2 1 1 1 0 1-3 1-1 1 1 1 2 1-2 1 1 1 1 1 0 1-5 1 2 1 3 1 0 1-2 1 1 1 1 1 0 1-3 1-1 1 4 1-1 1-3 1 2 1 2 1-1 1-1 1 0 1 3 1-1 1-3 1 0 1 3 1 1 1-4 1 2 1 1 1 0 1-2 1 0 1 2 1 1 1-2 1-1 1 3 1-1 1-1 1-2 1 3 1 1 1-2 1 0 1 1 1 0 1-1 1 0 1 1 1 1 1-2 1 1 1 0 1 1 1-2 1 0 1 1 1 1 1-1 1 0 1 1 1 0 1-2 1 1 1 1 1 0 1 0 1-1 1 1 1 0 1 0 1-1 1 1 1 0 1 0 1 0 1 0 1 0 1-1 1 0 1 1 1 0 1-1 1 1 1 0 1 0 1-1 1 0 1 1 1 0 1 0 1 0 1 0 1 0 1 0 1 0 1 0 1 0 1-1 1 0 1 1 1 0 1-1 1 0 1 1 1 0 1-1 1 0 1 0 1 1 1-1 1 1 1 0 1 0 1-1 1 0 1 1 1 0 1-1 1 0 1 1 1 0 1-1 1 0 1 1 1 0 1-1 1 0 1 1 1 0 1-1 1 0 1 1 1 0 1-1" stroke="#0066B3" stroke-width="0.7" fill="none" vector-effect="non-scaling-stroke"/>
<path d="M786.50 604.70H1024.30" stroke="#c4c4c4" stroke-width="1"/>
<path d="M1024.30 604.70V683.00" stroke="#9a9a9a" stroke-width="1"/>
<path d="M786.50 604.70V683.00H1024.30" stroke="#3a3a3a" stroke-width="0.9" fill="none"/>
<path d="M786.50 683.00v-2.4M786.50 604.70v2.4M820.47 683.00v-2.4M820.47 604.70v2.4M854.44 683.00v-2.4M854.44 604.70v2.4M888.41 683.00v-2.4M888.41 604.70v2.4M922.39 683.00v-2.4M922.39 604.70v2.4M956.36 683.00v-2.4M956.36 604.70v2.4M990.33 683.00v-2.4M990.33 604.70v2.4M1024.30 683.00v-2.4M1024.30 604.70v2.4M786.50 683.00h2.4M1024.30 683.00h-2.4M786.50 663.42h2.4M1024.30 663.42h-2.4M786.50 643.85h2.4M1024.30 643.85h-2.4M786.50 624.28h2.4M1024.30 624.28h-2.4M786.50 604.70h2.4M1024.30 604.70h-2.4" stroke="#333" stroke-width="0.8"/>
<text class="tx" x="786.50" y="692.40">0</text>
<text class="tx" x="820.47" y="692.40">0.05</text>
<text class="tx" x="854.44" y="692.40">0.1</text>
<text class="tx" x="888.41" y="692.40">0.15</text>
<text class="tx" x="922.39" y="692.40">0.2</text>
<text class="tx" x="956.36" y="692.40">0.25</text>
<text class="tx" x="990.33" y="692.40">0.3</text>
<text class="tx" x="1024.30" y="692.40">0.35</text>
<text class="tk e" x="783.30" y="685.50">-4</text>
<text class="tk e" x="783.30" y="665.92">-2</text>
<text class="tk e" x="783.30" y="646.35">0</text>
<text class="tk e" x="783.30" y="626.78">2</text>
<text class="tk e" x="783.30" y="607.20">4</text>
<text class="tl" x="905.40" y="602.30">Time domain analysis</text>
<text class="tl" x="905.40" y="701.30">Time (s)</text>
<text class="tl" transform="translate(775.68 643.85) rotate(-90)">Amplitude</text>
<path transform="matrix(0.33312 0.00000 0.00000 0.50000 786.50 643.85)" d="M0 4l1-11 1 14 1-12 1-2 1 14 1 23 1-57 1 12 1 30 1-3 1-20 1 4 1 7 1 4 1-11 1-6 1 13 1-7 1 8 1-12 1 15 1 1 1-18 1 1 1 43 1-76 1 80 1-23 1-28 1 0 1 22 1-14 1 12 1-16 1 14 1-15 1 17 1 1 1-13 1 13 1-18 1 6 1 8 1-39 1 72 1-20 1-41 1 35 1-23 1 6 1 13 1-14 1 14 1-14 1 11 1-9 1 18 1-25 1 18 1-10 1 8 1-9 1 9 1-36 1 62 1-50 1 35 1-23 1 20 1-8 1-11 1 12 1-9 1 14 1-17 1 15 1-14 1 11 1-14 1 1 1 13 1-9 1 9 1-45 1 67 1-16 1-26 1 27 1-20 1 14 1-15 1 2 1 14 1-18 1 21 1 2 1-21 1 0 1 14 1 3 1-12 1 10 1-34 1 52 1-48 1 30 1-14 1-1 1 16 1-17 1 19 1 1 1-15 1-4 1 14 1-10 1 14 1-1 1-15 1 3 1 12 1-56 1 76 1-46 1 40 1-12 1-19 1-1 1 18 1-14 1 13 1-1 1-10 1-3 1 13 1-10 1 11 1-14 1 11 1-7 1 9 1-45 1 80 1-80 1 64 1-7 1-31 1 19 1-14 1 3 1 8 1-10 1 11 1 2 1-12 1 1 1 9 1-8 1 9 1 1 1-52 1 85 1-68 1 12 1 29 1-22 1 22 1-20 1 14 1-13 1 15 1-14 1 10 1 6 1-12 1 7 1-17 1 6 1 13 1-48 1 79 1-12 1-48 1 39 1-37 1 26 1-17 1 7 1 15 1-20 1 14 1-12 1 19 1-18 1 11 1-1 1-13 1 15 1-7 1 55 1-103 1 20 1 58 1-14 1-29 1 8 1 13 1-13 1 16 1 0 1-17 1 16 1-13 1 9 1-10 1 11 1-12 1 11 1-8 1-45 1 93 1-76 1 54 1-12 1-27 1 9 1 11 1-11 1 13 1-13 1 12 1 1 1-11 1-1 1 10 1-10 1 11 1-10 1 10 1-41 1 74 1-53 1 30 1-7 1-20 1 20 1-21 1 19 1-16 1 6 1 10 1-9 1 11 1-19 1 20 1-17 1 17 1 23 1-63 1 11 1 36 1-25 1 16 1-15 1 10 1 9 1-21 1 13 1-9 1 12 1-10 1-2 1 15 1-1 1-16 1 2 1 13 1-50 1 85 1-17 1-46 1 31 1-17 1-1 1 15 1-13 1 16 1-1 1-14 1-2 1 14 1-16 1 15 1 1 1-12 1 11 1-13 1-32 1 65 1-9 1-33 1 25 1-17 1 14 1-15 1-2 1 19 1-13 1 14 1-19 1 11 1 9 1-19 1 17 1-15 1 14 1-63 1 15 1 80 1-53 1 31 1-11 1-15 1 14 1-11 1 12 1-8 1-4 1 12 1-11 1 15 1-13 1 9 1-14 1 12 1 25 1-55 1 8 1 36 1-23 1 13 1-15 1 10 1 6 1-17 1 15 1-8 1 8 1-15 1 12 1-10 1 2 1 11 1-13 1 13 1-49 1 66 1-50 1 49 1-12 1-25 1 22 1-14 1 14 1-15 1-2 1 15 1-10 1 11 1-2 1-13 1-3 1 16 1-9 1 13 1 47 1-99 1 64 1-35 1 21 1-13 1 1 1 13 1-17 1 16 1-17 1 13 1 7 1-19 1 15 1-14 1 1 1 15 1-22 1 61 1-83 1 71 1-50 1 24 1 0 1-16 1 12 1-15 1 6 1 10 1 2 1-12 1-2 1 10 1 1 1-12 1 14 1-11 1-42 1 83 1-20 1-37 1 9 1 20 1 3 1-19 1 10 1-11 1 13 1-8 1 9 1-9 1-6 1 14 1-13 1 13 1 4 1-17 1-36 1 86 1-22 1-38 1 24 1-13 1-2 1 15 1 0 1-9 1-4 1 13 1-1 1-11 1 10 1-9 1 14 1-16 1 14 1-15 1-34 1 81 1-55 1 34 1-29 1 21 1-5 1-10 1 12 1-13 1-6 1 20 1-14 1 16 1-4 1-14 1-1 1 19 1-1 1-16 1-37 1 81 1-14 1-42 1 11 1 25 1-26 1 16 1-11 1 15 1-25 1 29 1-9 1-15 1 0 1 14 1 0 1-14 1-19 1 43 1-35 1 34 1-25 1 22 1-17 1 13 1-10 1 9 1-1 1-13 1 15 1-15 1 16 1-14 1-1 1 15 1 1 1-14 1-30 1 62 1-40 1 28 1-9 1-10 1 0 1 17 1-20 1 13 1 3 1-16 1-3 1 15 1-11 1 11 1 4 1-16 1 3 1 9 1 44 1-87 1 64 1-47 1 13 1 17 1-14 1 8 1 4 1-14 1 13 1-16 1 4 1 12 1-10 1 11 1-1 1-7 1 38 1-78 1 83 1-73 1 15 1 37 1-26 1 12 1-14 1 14 1 0 1-16 1 19 1-13 1-9 1 19 1-13 1 15 1-15 1 11 1-50 1 85 1-71 1 51 1-9 1-24 1 6 1 15 1-4 1-8 1 1 1 8 1-10 1 11 1 3 1-16 1 2 1 15 1-7 1-15 1-38 1 97 1-68 1 47 1-18 1-17 1 2 1 11 1 0 1-7 1 7 1-15 1 8 1 9 1-13 1 17 1-8 1-10 1 5 1 12 1-70 1 110 1-30 1-35 1 4 1 26 1-22 1 13 1-10 1 11 1-10 1 12 1-17 1 17 1-15 1 14 1 0 1-12 1 47 1-68 1 7 1 35 1-1 1-31 1 12 1 12 1-4 1-10 1 0 1 10 1-10 1 13 1 2 1-15 1 11 1-13 1 13 1-9 1 46 1-84 1 7 1 64 1-39 1 21 1-4 1-16 1 17 1-15 1 15 1-16 1 14 1-8 1 9 1-11 1-3 1 18 1-6 1-18 1-19 1 66 1-19 1-27 1 19 1-13 1 1 1 10 1 2 1-14 1 12 1-9 1 9 1-12 1 14 1-12 1 1 1 14 1-20 1 53 1-79 1 63 1-41 1 28 1-20 1 11 1 2 1-12" stroke="#0072BD" stroke-width="0.7" fill="none" vector-effect="non-scaling-stroke" opacity="0.8"/>
<path transform="matrix(0.33312 0.00000 0.00000 0.50000 786.50 643.85)" d="M0 -6l1 9 1 3 1-10 1 1 1 9 1 18 1-48 1 10 1 23 1 1 1-15 1 2 1 5 1 5 1-11 1-5 1 11 1 2 1-7 1-3 1 11 1 1 1-9 1-6 1 42 1-11 1-50 1 17 1 18 1 2 1-17 1 5 1 8 1-1 1-9 1-1 1 12 1 1 1-8 1-9 1 15 1-1 1-7 1-18 1 42 1-6 1-26 1-1 1 20 1-1 1-11 1-2 1 8 1 2 1-11 1 3 1 13 1-4 1-13 1 5 1 7 1 0 1-7 1-19 1 41 1-11 1-22 1 8 1 14 1-6 1-7 1 2 1 7 1 2 1-11 1 2 1 7 1 0 1-9 1 1 1 9 1 0 1-7 1-31 1 56 1-12 1-23 1 6 1 14 1-3 1-9 1-2 1 12 1 3 1-14 1-2 1 16 1-5 1-8 1 1 1 9 1-2 1-25 1 1 1 40 1-15 1-12 1 1 1 13 1-2 1-14 1 4 1 14 1-5 1-9 1 0 1 9 1 1 1-11 1 2 1 7 1 24 1-57 1 14 1 29 1-7 1-13 1 0 1 12 1 1 1-10 1 0 1 10 1-2 1-10 1 3 1 9 1-6 1-7 1 5 1 7 1 8 1-28 1-9 1 44 1-8 1-22 1 2 1 12 1-1 1-8 1 0 1 9 1 1 1-10 1 1 1 6 1 3 1-7 1-9 1 14 1 24 1-50 1 8 1 27 1-3 1-16 1 3 1 9 1 2 1-13 1 2 1 6 1 4 1-8 1-5 1 12 1 2 1-11 1-31 1 53 1 8 1-44 1 9 1 22 1-10 1-13 1 7 1 11 1-6 1-9 1 3 1 11 1-3 1-10 1 0 1 9 1 1 1-4 1-36 1 75 1-11 1-47 1 10 1 21 1-5 1-13 1 2 1 11 1-4 1-8 1 1 1 10 1-2 1-9 1 0 1 11 1-3 1-6 1-31 1 69 1-13 1-40 1 10 1 16 1-5 1-9 1-1 1 13 1-2 1-8 1-1 1 10 1-1 1-9 1 1 1 8 1-1 1-6 1-32 1 63 1-13 1-28 1 5 1 15 1-2 1-15 1 3 1 12 1 0 1-8 1 0 1 8 1 3 1-15 1 3 1 10 1 22 1-54 1 7 1 34 1-8 1-12 1-2 1 9 1 5 1-13 1 0 1 7 1 5 1-9 1-3 1 11 1 2 1-14 1 2 1 11 1 26 1-72 1 28 1 30 1-10 1-14 1 0 1 11 1 0 1-9 1 1 1 9 1-2 1-9 1-1 1 10 1 3 1-10 1-2 1 10 1 19 1-51 1 12 1 27 1-9 1-9 1-1 1 13 1-1 1-12 1 3 1 13 1-8 1-7 1 1 1 11 1 1 1-11 1-10 1 19 1 28 1-60 1 15 1 20 1-2 1-14 1 2 1 10 1 2 1-7 1-3 1 8 1 3 1-11 1 2 1 5 1-2 1-8 1-10 1 40 1-7 1-29 1 8 1 10 1-2 1-9 1 1 1 11 1 0 1-7 1-4 1 11 1-2 1-10 1 4 1 8 1-1 1-9 1-26 1 52 1 0 1-42 1 9 1 22 1-4 1-10 1-2 1 11 1 0 1-13 1 4 1 9 1-2 1-9 1-3 1 13 1 2 1-11 1-22 1 61 1-17 1-29 1 6 1 12 1 0 1-11 1 1 1 10 1-4 1-9 1 0 1 11 1-1 1-11 1 2 1 12 1 8 1-27 1-17 1 50 1-14 1-21 1 10 1 12 1-4 1-11 1 3 1 7 1 3 1-9 1-2 1 7 1 2 1-9 1 2 1 7 1 18 1-48 1 11 1 30 1-9 1-16 1 5 1 13 1-5 1-10 1 7 1 3 1 1 1-6 1-4 1 9 1 1 1-9 1 0 1 11 1 20 1-60 1 16 1 36 1-13 1-11 1-1 1 12 1-1 1-6 1-4 1 12 1-2 1-9 1 1 1 8 1 2 1-12 1-1 1 13 1 23 1-62 1 19 1 28 1-9 1-12 1 2 1 9 1 2 1-11 1-1 1 13 1 2 1-14 1 0 1 9 1 5 1-18 1 3 1 12 1 23 1-65 1 19 1 33 1-8 1-16 1 0 1 15 1 1 1-12 1-6 1 18 1-4 1-10 1 1 1 9 1 0 1-8 1-7 1 26 1-1 1-29 1 5 1 16 1-2 1-10 1 4 1 8 1-1 1-12 1 1 1 10 1 2 1-12 1 1 1 12 1 0 1-10 1-25 1 52 1-11 1-26 1 10 1 7 1 2 1-10 1-2 1 9 1 4 1-11 1-3 1 10 1 0 1-5 1-5 1 15 1-4 1-7 1-28 1 71 1-18 1-38 1 10 1 13 1-4 1-5 1-1 1 7 1 1 1-14 1 5 1 9 1 1 1-10 1 3 1 6 1 1 1-22 1-3 1 48 1-20 1-25 1 13 1 9 1-3 1-8 1-3 1 14 1-2 1-6 1-6 1 14 1 1 1-12 1 0 1 9 1 15 1-42 1-4 1 47 1-9 1-20 1 3 1 13 1-4 1-6 1 0 1 7 1-1 1-8 1 1 1 9 1 1 1-10 1-7 1 14 1 34 1-78 1 20 1 45 1-16 1-16 1 4 1 6 1 2 1-7 1-5 1 11 1 2 1-7 1-1 1 12 1-9 1-8 1 6 1 7 1 27 1-77 1 31 1 30 1-9 1-18 1 8 1 7 1-1 1-7 1 1 1 11 1-3 1-10 1 0 1 8 1 3 1-11 1-19 1 46 1-7 1-30 1 3 1 21 1-4 1-8 1-1 1 8 1-1 1-8 1 1 1 10 1-1 1-11 1-1 1 12 1-1 1-6 1-34 1 73 1-22 1-31 1 9 1 18 1-5 1-11 1 1 1 8 1 1 1-12 1 6 1 4 1 2 1-7 1-5 1 14 1-5 1-8 1-22 1 51 1-10 1-24 1 5 1 12 1-1 1-9 1-2 1 11 1-1 1-8 1 0 1 9 1 2 1-11 1 1 1 7 1 10 1-20 1-18 1 42 1-11 1-19 1 7 1 9 1 1 1-9" stroke="#0066B3" stroke-width="0.8" fill="none" vector-effect="non-scaling-stroke"/>
<path d="M786.50 714.40H1024.30" stroke="#7a7a7a" stroke-width="1"/>
<path d="M1024.30 714.40V792.70" stroke="#9a9a9a" stroke-width="1"/>
<path d="M786.50 714.40V792.70H1024.30" stroke="#3a3a3a" stroke-width="0.9" fill="none"/>
<path d="M786.50 792.70v-2.4M786.50 714.40v2.4M834.06 792.70v-2.4M834.06 714.40v2.4M881.62 792.70v-2.4M881.62 714.40v2.4M929.18 792.70v-2.4M929.18 714.40v2.4M976.74 792.70v-2.4M976.74 714.40v2.4M1024.30 792.70v-2.4M1024.30 714.40v2.4M786.50 792.70h2.4M1024.30 792.70h-2.4M786.50 766.60h2.4M1024.30 766.60h-2.4M786.50 740.50h2.4M1024.30 740.50h-2.4M786.50 714.40h2.4M1024.30 714.40h-2.4" stroke="#333" stroke-width="0.8"/>
<text class="tx" x="786.50" y="802.10">0</text>
<text class="tx" x="834.06" y="802.10">500</text>
<text class="tx" x="881.62" y="802.10">1000</text>
<text class="tx" x="929.18" y="802.10">1500</text>
<text class="tx" x="976.74" y="802.10">2000</text>
<text class="tx" x="1024.30" y="802.10">2500</text>
<text class="tk e" x="783.30" y="795.20">0</text>
<text class="tk e" x="783.30" y="769.10">0.1</text>
<text class="tk e" x="783.30" y="743.00">0.2</text>
<text class="tk e" x="783.30" y="716.90">0.3</text>
<text class="tl" x="905.40" y="712.00">Frequency domain analysis</text>
<text class="tl" x="905.40" y="811.00">frequency (Hz)</text>
<text class="tl" transform="translate(772.17 753.55) rotate(-90)">|Y(f)|</text>
<path transform="matrix(0.33357 0.00000 0.00000 0.50000 786.50 792.70)" d="M0 -1l1 1 1-1 1 1 1 0 1-1 1 1 1-1 1 1 1-1 1 0 1 1 1 0 1-1 1 0 1 1 1 0 1-1 1 1 1 0 1 0 1-1 1 1 1 0 1 0 1-1 1 1 1-1 1 1 1-1 1 1 1-3 1 2 1-1 1 1 1 1 1-1 1-2 1-4 1 6 1-3 1 4 1-3 1 3 1 0 1-6 1 5 1-4 1 4 1-5 1 5 1-3 1 4 1-6 1 5 1-6 1 7 1-6 1 5 1-1 1 2 1-2 1 1 1-5 1 3 1 3 1-3 1 2 1-1 1 2 1-1 1-5 1 3 1 3 1-1 1 1 1 0 1-1 1 1 1-1 1 1 1-2 1 2 1-1 1 1 1-1 1 1 1-2 1 1 1 1 1-2 1 2 1-2 1 2 1-1 1 1 1-1 1-1 1 2 1-2 1 2 1-1 1 0 1 1 1 0 1-3 1 3 1-5 1-11 1 15 1-1 1 2 1 0 1-2 1 2 1-2 1 2 1-1 1-2 1 3 1 0 1-2 1 2 1-2 1 2 1-2 1 0 1 2 1 0 1-3 1 0 1 3 1 0 1-4 1 4 1-3 1 3 1-3 1-1 1 4 1 0 1-1 1-1 1 2 1 0 1-2 1 2 1-2 1 2 1-2 1 1 1-1 1 2 1-2 1-2 1 4 1-3 1 2 1-2 1 3 1 0 1-3 1 3 1-2 1 2 1-2 1 1 1-2 1-1 1 4 1 0 1-2 1-2 1 4 1-2 1 2 1 0 1-2 1 0 1 2 1 0 1-2 1 0 1 2 1-3 1 3 1-2 1 2 1 0 1-4 1 3 1 1 1 0 1-3 1 1 1 2 1-2 1 2 1-2 1 2 1-1 1 1 1 0 1-1 1 1 1-2 1 2 1-2 1 1 1 1 1-2 1 2 1-1 1 1 1 0 1-2 1 2 1-1 1-1 1 2 1-1 1 1 1 0 1 0 1-1 1 1 1 0 1-1 1 1 1 0 1-1 1 1 1-1 1 1 1-1 1 1 1-1 1 1 1 0 1-1 1 0 1 1 1 0 1 0 1 0 1-1 1 0 1 1 1-2 1 2 1-13 1 12 1-17 1 17 1-18 1 16 1-2 1-29 1 15 1 18 1-2 1-11 1 3 1 10 1-9 1-53 1 32 1 28 1-2 1-26 1 27 1-69 1 43 1 24 1-6 1 10 1-2 1-38 1-65 1 96 1-11 1 21 1-20 1 17 1-3 1-35 1 21 1 18 1-12 1 13 1-17 1 17 1-2 1-33 1 28 1 8 1 1 1-19 1 13 1 4 1-5 1 7 1-4 1 4 1 0 1 0 1-1 1 1 1 0 1-1 1 1 1 0 1 0 1-1 1-1 1-5 1-11 1 14 1-1 1-21 1 24 1-39 1-63 1 101 1-30 1 27 1 4 1-48 1 47 1-49 1-86 1 119 1-15 1 20 1-64 1 62 1 11 1-19 1 21 1-30 1-69 1 82 1-44 1 63 1-64 1 46 1 6 1-24 1-11 1 43 1-7 1-40 1 44 1-38 1-20 1 55 1 9 1-21 1-21 1 38 1-4 1-29 1-13 1 45 1 1 1-20 1 2 1 19 1-29 1 31 1-34 1 31 1-32 1 25 1-30 1 38 1-3 1 6 1-2 1 4 1 0 1-1 1 1 1-1 1 1 1 0 1-1 1 1 1 0 1 0 1 0 1 0 1-1 1 1 1 0 1 0 1 0 1-1 1 1 1-1 1 0 1 1 1 0 1-1 1 1 1 0 1-1 1 1 1 0 1-1 1 0 1 1 1-1 1 1 1-1 1 1 1-1 1 1 1 0 1 0 1 0 1 0 1 0 1-1 1 1 1-1 1 0 1 1 1 0 1-1 1 1 1-1 1 0 1 1 1 0 1 0 1 0 1 0 1-1 1 1 1 0 1 0 1 0 1-1 1 1 1-1 1 1 1-1 1 1 1 0 1-1 1 1 1 0 1-1 1 1 1-1 1 1 1 0 1 0 1-1 1 0 1 1 1 0 1-1 1 1 1 0 1 0 1-1 1 0 1 1 1-1 1 1 1 0 1-1 1 1 1-1 1 1 1-1 1 0 1 1 1 0 1-1 1 1 1 0 1 0 1-2 1 1 1-2 1 2 1-4 1 5 1-3 1-2 1 4 1-5 1 5 1 0 1-4 1 5 1-4 1 3 1-5 1 5 1-8 1 5 1 2 1-4 1 5 1-4 1 4 1-9 1 8 1-8 1 9 1-6 1 6 1 0 1-5 1 5 1-3 1-1 1 4 1 1 1-7 1 4 1 3 1-1 1 1 1 0 1-1 1 1 1-1 1 0 1 1 1 0 1-1 1 1 1-1 1 1 1 0 1 0 1 0 1-1 1 1 1 0 1 0 1 0 1 0 1 0 1 0 1 0 1-1 1 1 1 0 1-1 1 1 1 0 1-1 1 1 1 0 1 0 1 0 1 0 1-1 1 0 1 1 1 0 1-1 1 0 1 1 1 0 1 0 1-1 1 1 1 0 1-1 1 0 1 1 1 0 1-1 1 0 1 1 1 0 1-1" stroke="#0072BD" stroke-width="0.6" fill="none" vector-effect="non-scaling-stroke" opacity="0.7"/>
<path transform="matrix(0.33357 0.00000 0.00000 0.50000 786.50 792.70)" d="M0 0l1 0 1 0 1 0 1 0 1 0 1 0 1 0 1 0 1 0 1 0 1 0 1 0 1 0 1 0 1 0 1 0 1 0 1 0 1 0 1 0 1 0 1 0 1 0 1 0 1 0 1 0 1 0 1-1 1 1 1 0 1-1 1 0 1 0 1 1 1-1 1-1 1 1 1 0 1-1 1 0 1 2 1 0 1-2 1 0 1 2 1-1 1-1 1-1 1 2 1 0 1-1 1 0 1 2 1-1 1-1 1 1 1 1 1-1 1-1 1 0 1 2 1-1 1-1 1 0 1 2 1-1 1 0 1 0 1 1 1-1 1-1 1 1 1 1 1 0 1 0 1 0 1 0 1 0 1-1 1 0 1 1 1 0 1-1 1 1 1 0 1 0 1-1 1 0 1 1 1 0 1-1 1 0 1 1 1 0 1-1 1 0 1 0 1 1 1-1 1 0 1 1 1 0 1-1 1-1 1 2 1 0 1-1 1-5 1 5 1 1 1-1 1-1 1 2 1 0 1-1 1 0 1 1 1 0 1-1 1 0 1 1 1 0 1-1 1 0 1 1 1 0 1-1 1-1 1 2 1 0 1-2 1 1 1 1 1 0 1-1 1 0 1 1 1 0 1-1 1 0 1 1 1 0 1-2 1 1 1 1 1 0 1-1 1 0 1 1 1-1 1-1 1 1 1 1 1 0 1-1 1-1 1 1 1 1 1-1 1 0 1 1 1 0 1-2 1 1 1 1 1-1 1 0 1 0 1 1 1 0 1-1 1 0 1 1 1 0 1-1 1 0 1 1 1 0 1-1 1 0 1 1 1 0 1-1 1 0 1 1 1 0 1-1 1-1 1 2 1 0 1-1 1 0 1 1 1 0 1-1 1 0 1 1 1 0 1 0 1-1 1 1 1 0 1 0 1 0 1 0 1 0 1-1 1 1 1 0 1 0 1-1 1 0 1 1 1 0 1-1 1 0 1 1 1 0 1-1 1 1 1 0 1 0 1 0 1 0 1 0 1 0 1 0 1 0 1 0 1 0 1 0 1 0 1 0 1 0 1 0 1 0 1 0 1 0 1 0 1 0 1 0 1 0 1 0 1 0 1 0 1 0 1 0 1-2 1 2 1-1 1-5 1 1 1 4 1-2 1-7 1-6 1 11 1 4 1-7 1 2 1 3 1 2 1-5 1-17 1 13 1 7 1-10 1-8 1 16 1 1 1-22 1 10 1 10 1 4 1-10 1-2 1 10 1-7 1-33 1 31 1 12 1-3 1-2 1-10 1 9 1 4 1-11 1 8 1 4 1 0 1-7 1 0 1 5 1 3 1-6 1 1 1 6 1-2 1-2 1 3 1 1 1 0 1 0 1 0 1 0 1 0 1 0 1 0 1 0 1 0 1 0 1 0 1 0 1-2 1-3 1-6 1 7 1-1 1-13 1-5 1 21 1-1 1-16 1-2 1 15 1 4 1-28 1 1 1 26 1-16 1-21 1 13 1 13 1-2 1-17 1 22 1 6 1 2 1-12 1-30 1 25 1 19 1-9 1-27 1 18 1 6 1-11 1 0 1 19 1-7 1-15 1 0 1 19 1-3 1-29 1 27 1 11 1-4 1-13 1-4 1 13 1 3 1-13 1 6 1 8 1 1 1-13 1 8 1 7 1-3 1-18 1 7 1 4 1 8 1-12 1 14 1 1 1 2 1-3 1 3 1 0 1 0 1 0 1 0 1 0 1 0 1 0 1 0 1 0 1 0 1 0 1 0 1 0 1 0 1 0 1 0 1 0 1 0 1 0 1 0 1 0 1 0 1 0 1 0 1 0 1 0 1 0 1 0 1 0 1 0 1 0 1 0 1 0 1 0 1 0 1 0 1 0 1 0 1 0 1 0 1 0 1 0 1 0 1 0 1 0 1 0 1 0 1 0 1 0 1 0 1 0 1 0 1 0 1 0 1 0 1 0 1 0 1 0 1 0 1 0 1 0 1 0 1 0 1 0 1 0 1 0 1 0 1 0 1 0 1 0 1-1 1 1 1 0 1 0 1 0 1 0 1 0 1 0 1 0 1-1 1 1 1 0 1-1 1 1 1 0 1 0 1 0 1 0 1 0 1 0 1 0 1 0 1 0 1 0 1 0 1 0 1 0 1 0 1 0 1 0 1 0 1 0 1 0 1 0 1 0 1-1 1 0 1-2 1 2 1 1 1-2 1 0 1 1 1 0 1-1 1-1 1 2 1 1 1-3 1 1 1 1 1 0 1-3 1 0 1 2 1 1 1-2 1 1 1 1 1-1 1-5 1 3 1 3 1 0 1-1 1-1 1 2 1 0 1-1 1 0 1 1 1 1 1-1 1 0 1 1 1 0 1-1 1 1 1 0 1 0 1-1 1 1 1 0 1 0 1 0 1 0 1 0 1 0 1 0 1 0 1 0 1 0 1 0 1 0 1 0 1 0 1 0 1 0 1 0 1 0 1-1 1 1 1 0 1 0 1 0 1 0 1 0 1 0 1 0 1 0 1 0 1 0 1 0 1 0 1 0 1 0 1 0 1 0 1 0 1 0 1 0 1 0 1 0 1 0 1 0 1 0 1 0 1 0 1 0 1 0 1 0 1 0 1 0" stroke="#0066B3" stroke-width="0.7" fill="none" vector-effect="non-scaling-stroke"/>
<path d="M1109.80 604.70H1347.70" stroke="#c4c4c4" stroke-width="1"/>
<path d="M1347.70 604.70V683.00" stroke="#9a9a9a" stroke-width="1"/>
<path d="M1109.80 604.70V683.00H1347.70" stroke="#3a3a3a" stroke-width="0.9" fill="none"/>
<path d="M1109.80 683.00v-2.4M1109.80 604.70v2.4M1143.79 683.00v-2.4M1143.79 604.70v2.4M1177.77 683.00v-2.4M1177.77 604.70v2.4M1211.76 683.00v-2.4M1211.76 604.70v2.4M1245.74 683.00v-2.4M1245.74 604.70v2.4M1279.73 683.00v-2.4M1279.73 604.70v2.4M1313.71 683.00v-2.4M1313.71 604.70v2.4M1347.70 683.00v-2.4M1347.70 604.70v2.4M1109.80 683.00h2.4M1347.70 683.00h-2.4M1109.80 663.42h2.4M1347.70 663.42h-2.4M1109.80 643.85h2.4M1347.70 643.85h-2.4M1109.80 624.28h2.4M1347.70 624.28h-2.4M1109.80 604.70h2.4M1347.70 604.70h-2.4" stroke="#333" stroke-width="0.8"/>
<text class="tx" x="1109.80" y="692.40">0</text>
<text class="tx" x="1143.79" y="692.40">0.05</text>
<text class="tx" x="1177.77" y="692.40">0.1</text>
<text class="tx" x="1211.76" y="692.40">0.15</text>
<text class="tx" x="1245.74" y="692.40">0.2</text>
<text class="tx" x="1279.73" y="692.40">0.25</text>
<text class="tx" x="1313.71" y="692.40">0.3</text>
<text class="tx" x="1347.70" y="692.40">0.35</text>
<text class="tk e" x="1106.60" y="685.50">-4</text>
<text class="tk e" x="1106.60" y="665.92">-2</text>
<text class="tk e" x="1106.60" y="646.35">0</text>
<text class="tk e" x="1106.60" y="626.78">2</text>
<text class="tk e" x="1106.60" y="607.20">4</text>
<text class="tl" x="1228.75" y="602.30">Time domain analysis</text>
<text class="tl" x="1228.75" y="701.30">Time (s)</text>
<text class="tl" transform="translate(1098.98 643.85) rotate(-90)">Amplitude</text>
<path transform="matrix(0.33327 0.00000 0.00000 0.50000 1109.80 643.85)" d="M0 -6l1 13 1-13 1 15 1-16 1 14 1-15 1 13 1 2 1-10 1 0 1 8 1-13 1 16 1-33 1 64 1-67 1 54 1-8 1-28 1 18 1-16 1 11 1-8 1-3 1 15 1-16 1 15 1 7 1-23 1 18 1-16 1 15 1-13 1 44 1-76 1 15 1 48 1-14 1-19 1 10 1-9 1 1 1 14 1-2 1-8 1-7 1 15 1-14 1 14 1-13 1 13 1-14 1 12 1 39 1-79 1 22 1 27 1-5 1-14 1 15 1-16 1-2 1 17 1-16 1 17 1-14 1 8 1 9 1-18 1 15 1-19 1 6 1 10 1 20 1-51 1 41 1-31 1 8 1 20 1-7 1-13 1 12 1-10 1 10 1-9 1 13 1-13 1-2 1 11 1 2 1-15 1-31 1 74 1-2 1-63 1 45 1-33 1 34 1-27 1 4 1 13 1-9 1 14 1-4 1-12 1 2 1 7 1-8 1 10 1-5 1-8 1-21 1 51 1-41 1 35 1-13 1-12 1 15 1-13 1 15 1-14 1-3 1 14 1-14 1 13 1-11 1 11 1-1 1-12 1 2 1 14 1-31 1 46 1-3 1-37 1 4 1 19 1 1 1-13 1 10 1-8 1-2 1 14 1 1 1-17 1 14 1-12 1 1 1 12 1 4 1-59 1 87 1-62 1 6 1 32 1-22 1 11 1-1 1-8 1-2 1 20 1-6 1-18 1 19 1-11 1-5 1 15 1 2 1-13 1 8 1-56 1 96 1-77 1 23 1 22 1-6 1-16 1 17 1-13 1 13 1-16 1 16 1-14 1 2 1 12 1 1 1-16 1-2 1 22 1-49 1 78 1-70 1 55 1-10 1-33 1 24 1-11 1-3 1 11 1-8 1 9 1-13 1 15 1 2 1-18 1-2 1 18 1-10 1 8 1-56 1 90 1-61 1 40 1-27 1 16 1-15 1 14 1 1 1-10 1-3 1 12 1 1 1-20 1 19 1-11 1 17 1-23 1-29 1 70 1-8 1-43 1 27 1-16 1 17 1-11 1-3 1 12 1-13 1 18 1 0 1-20 1 4 1 12 1-1 1-11 1 13 1-13 1-25 1 55 1-42 1 33 1-23 1 15 1-16 1 15 1-10 1 9 1 2 1-14 1-2 1 16 1 1 1-13 1-4 1 12 1-10 1 15 1 26 1-64 1 48 1-33 1 28 1-26 1 5 1 14 1-11 1 13 1 5 1-17 1-4 1 13 1 1 1-13 1 17 1-19 1 3 1 12 1 23 1-56 1 13 1 32 1-12 1-10 1-4 1 15 1-1 1-10 1 15 1-20 1 13 1-15 1 15 1-5 1 9 1-13 1 57 1-92 1 75 1-67 1 20 1 21 1-18 1 18 1-4 1-13 1 15 1-16 1 2 1 19 1-8 1-10 1 8 1-6 1 13 1-12 1 57 1-91 1 10 1 56 1-14 1-30 1 10 1 18 1-20 1 11 1 5 1-20 1 19 1-16 1 3 1 8 1-6 1 11 1-17 1 16 1-54 1 92 1-73 1 57 1-40 1 24 1-26 1 20 1-12 1 12 1-10 1 10 1-16 1 13 1-10 1 12 1-14 1 17 1-4 1-11 1-30 1 77 1-23 1-36 1 10 1 12 1 2 1-12 1 0 1 8 1-9 1 15 1 0 1-19 1 3 1 16 1-12 1 10 1-47 1 72 1-59 1 52 1-39 1 23 1 4 1-19 1 0 1 10 1-12 1 17 1-16 1 14 1-12 1 11 1 0 1-11 1 1 1 9 1-48 1 70 1-6 1-41 1 15 1 13 1-1 1-8 1 9 1-15 1 3 1 11 1-9 1 8 1-10 1 7 1 6 1-12 1 10 1-16 1 45 1-72 1 21 1 28 1-2 1-15 1 0 1 11 1-2 1-12 1-5 1 25 1-4 1-18 1 1 1 16 1 0 1-16 1 15 1-10 1-41 1 83 1-53 1 27 1-24 1 25 1-4 1-16 1-1 1 11 1-10 1 15 1-1 1-12 1 13 1-16 1 13 1-10 1 9 1-12 1-45 1 88 1-47 1 27 1-27 1 22 1-5 1-14 1 15 1-13 1-1 1 13 1 1 1-13 1 0 1 15 1-5 1-9 1 39 1-60 1 8 1 34 1-20 1 11 1-1 1-13 1 4 1 10 1 2 1-15 1 15 1-14 1 14 1-14 1 14 1-16 1 17 1-14 1 35 1-59 1 48 1-41 1 10 1 22 1-2 1-13 1 11 1-11 1 17 1-27 1 20 1-10 1 0 1 14 1-16 1 15 1 41 1-74 1-13 1 73 1-23 1-29 1 10 1 17 1-2 1-16 1 0 1 16 1-21 1 21 1-15 1 15 1-15 1 14 1-1 1-17 1 5 1 51 1-86 1 85 1-27 1-32 1 6 1 22 1-18 1 12 1-13 1 12 1 4 1-19 1 17 1-14 1 2 1 9 1-10 1 12 1 41 1-90 1 66 1-45 1 13 1 19 1-3 1-20 1 9 1 14 1-1 1-21 1 7 1 9 1 3 1-15 1 15 1-11 1-1 1 9 1-55 1 84 1-11 1-50 1 38 1-17 1 2 1 8 1 2 1-14 1-2 1 18 1-14 1 13 1-13 1 9 1-11 1 13 1 50 1-104 1 88 1-73 1 19 1 26 1-6 1-13 1 12 1-12 1 14 1-15 1 20 1-18 1 14 1-13 1 12 1-14 1 14 1-14 1 49 1-76 1 15 1 37 1-2 1-27 1 6 1 13 1-15 1 13 1 4 1-18 1 3 1 14 1-1 1-15 1 0 1 12 1 3 1-17 1-36 1 75 1 7 1-70 1 20 1 24 1-2 1-18 1 2 1 17 1-20 1 19 1-5 1-8 1 1 1 8 1 2 1-12 1 10 1-9 1-25 1 57 1-46 1 30 1-1 1-14 1 7 1-12 1 18 1-15 1 10 1-13 1 17 1-13 1-3 1 14 1 0 1-12 1-47 1 101 1-15 1-58 1 12 1 26 1-9 1-9 1 11 1-10 1-2 1 11 1-2 1-6 1 6 1-9 1 13 1-13 1 17 1-15" stroke="#0072BD" stroke-width="0.7" fill="none" vector-effect="non-scaling-stroke" opacity="0.8"/>
<path transform="matrix(0.33327 0.00000 0.00000 0.50000 1109.80 643.85)" d="M0 -4l1 9 1 1 1-10 1-1 1 8 1 1 1-11 1 4 1 8 1-1 1-6 1-4 1 11 1 24 1-42 1-14 1 50 1-8 1-25 1 5 1 12 1-4 1-8 1-1 1 13 1-2 1-9 1-3 1 12 1 2 1-12 1 0 1 10 1 6 1-26 1-5 1 44 1-15 1-14 1-1 1 7 1 4 1-9 1 2 1 7 1 0 1-9 1-1 1 10 1 0 1-9 1-2 1 8 1 22 1-51 1 14 1 26 1-5 1-13 1 1 1 11 1 0 1-12 1 0 1 10 1-3 1-7 1 2 1 10 1-3 1-12 1 5 1 9 1 14 1-44 1 10 1 26 1-3 1-15 1 0 1 10 1-1 1-8 1 1 1 8 1 5 1-13 1 0 1 9 1 1 1-11 1-30 1 41 1 22 1-53 1 17 1 20 1 0 1-22 1 4 1 12 1 0 1-9 1-1 1 9 1-2 1-6 1 0 1 9 1-5 1-6 1-16 1 43 1-6 1-31 1 8 1 11 1 3 1-12 1 1 1 11 1-1 1-12 1-1 1 11 1 1 1-11 1-1 1 11 1 2 1-11 1-18 1 40 1-6 1-16 1-6 1 17 1 0 1-12 1 2 1 6 1 5 1-12 1-2 1 12 1-1 1-7 1-2 1 10 1-1 1-16 1-9 1 50 1-19 1-23 1 10 1 7 1-1 1-8 1 1 1 16 1-9 1-12 1 7 1 10 1-4 1-11 1 5 1 8 1-3 1-16 1-12 1 52 1-15 1-22 1 1 1 14 1 0 1-10 1-2 1 12 1 1 1-10 1-1 1 11 1-2 1-10 1-2 1 14 1 26 1-47 1-9 1 46 1-15 1-22 1 11 1 8 1 0 1-10 1 2 1 8 1 1 1-10 1-2 1 12 1 2 1-14 1 4 1 7 1 25 1-65 1 20 1 33 1-12 1-12 1 1 1 11 1 0 1-8 1-2 1 9 1 1 1-14 1 6 1 9 1-2 1-12 1-15 1 47 1-7 1-37 1 10 1 14 1 0 1-7 1-1 1 7 1 3 1-11 1-5 1 14 1 2 1-9 1-3 1 10 1 1 1-10 1-14 1 42 1-9 1-31 1 11 1 11 1 0 1-10 1 1 1 9 1-1 1-9 1-2 1 14 1-2 1-8 1-3 1 9 1 4 1-14 1-14 1 48 1-9 1-31 1 0 1 24 1-6 1-10 1 0 1 10 1 4 1-13 1-2 1 9 1 3 1-11 1-1 1 13 1-2 1-9 1-20 1 45 1-12 1-19 1 6 1 7 1 4 1-13 1 3 1 7 1 4 1-15 1 1 1 9 1 0 1-4 1-1 1 5 1 20 1-45 1 2 1 43 1-14 1-18 1 3 1 14 1-4 1-9 1-2 1 14 1 3 1-13 1-2 1 7 1 0 1-5 1 0 1 9 1 24 1-55 1 1 1 46 1-8 1-24 1 5 1 16 1-7 1-9 1 0 1 10 1 0 1-10 1 0 1 8 1 2 1-7 1-4 1 12 1 18 1-58 1 9 1 52 1-16 1-22 1 4 1 13 1-3 1-7 1 2 1 8 1-4 1-9 1 2 1 10 1-2 1-8 1 2 1 6 1 33 1-70 1 18 1 32 1-12 1-9 1 0 1 8 1-1 1-7 1 0 1 11 1 2 1-17 1 4 1 11 1-1 1-9 1-28 1 59 1-13 1-39 1 18 1 15 1 4 1-18 1 0 1 9 1 4 1-13 1 0 1 11 1-1 1-9 1 1 1 8 1 0 1-7 1-22 1 48 1-12 1-28 1 13 1 9 1 1 1-8 1-6 1 13 1 1 1-10 1 3 1 5 1-4 1-4 1 0 1 10 1-2 1-11 1-30 1 57 1-9 1-23 1 8 1 10 1-1 1-8 1-2 1 8 1 4 1-17 1 4 1 14 1-2 1-11 1-3 1 13 1 0 1-8 1-31 1 58 1-14 1-22 1 3 1 17 1-1 1-13 1 3 1 5 1 4 1-10 1 0 1 7 1 3 1-12 1 3 1 7 1-1 1-7 1-29 1 58 1-13 1-20 1 0 1 18 1-5 1-12 1 4 1 8 1 0 1-10 1-1 1 10 1 3 1-9 1-4 1 9 1 22 1-48 1 6 1 32 1-11 1-8 1-2 1 11 1-1 1-8 1 0 1 11 1-2 1-11 1 2 1 12 1-3 1-11 1 4 1 8 1 23 1-51 1 3 1 37 1-10 1-14 1 2 1 10 1-3 1-7 1-6 1 19 1-5 1-8 1 0 1 10 1 2 1-15 1-1 1 19 1 22 1-65 1 20 1 23 1-2 1-15 1 0 1 9 1 4 1-12 1-1 1 13 1 0 1-12 1 0 1 10 1-1 1-9 1 0 1 14 1 21 1-65 1 24 1 20 1 2 1-19 1 5 1 8 1-2 1-9 1-2 1 13 1 1 1-10 1 0 1 7 1 1 1-8 1-36 1 85 1-29 1-35 1 13 1 17 1-4 1-15 1 5 1 11 1-6 1-11 1 7 1 7 1-1 1-10 1 3 1 7 1 0 1-6 1-30 1 64 1-15 1-34 1 11 1 17 1-7 1-8 1-3 1 10 1 4 1-14 1 3 1 9 1-2 1-5 1-4 1 11 1 10 1-26 1-10 1 52 1-20 1-24 1 7 1 10 1-1 1-9 1-1 1 13 1 1 1-14 1 4 1 9 1-3 1-8 1-3 1 11 1 35 1-62 1 8 1 33 1-11 1-17 1 8 1 9 1-3 1-9 1 1 1 13 1-4 1-7 1 0 1 9 1-2 1-9 1-1 1 9 1 24 1-60 1 1 1 60 1-18 1-22 1 4 1 14 1 0 1-12 1 0 1 11 1-3 1-6 1 1 1 6 1 2 1-8 1-2 1 7 1 24 1-56 1 21 1 15 1 1 1-10 1-3 1 8 1 7 1-14 1-1 1 8 1 3 1-9 1-1 1 10 1-3 1-8 1-33 1 51 1 8 1-36 1 8 1 19 1-7 1-8 1 1 1 8 1 0 1-10 1 3 1 5 1-1 1-7 1 0 1 11 1-1 1-8" stroke="#0066B3" stroke-width="0.8" fill="none" vector-effect="non-scaling-stroke"/>
<path d="M1109.80 714.40H1347.70" stroke="#7a7a7a" stroke-width="1"/>
<path d="M1347.70 714.40V792.70" stroke="#9a9a9a" stroke-width="1"/>
<path d="M1109.80 714.40V792.70H1347.70" stroke="#3a3a3a" stroke-width="0.9" fill="none"/>
<path d="M1109.80 792.70v-2.4M1109.80 714.40v2.4M1157.38 792.70v-2.4M1157.38 714.40v2.4M1204.96 792.70v-2.4M1204.96 714.40v2.4M1252.54 792.70v-2.4M1252.54 714.40v2.4M1300.12 792.70v-2.4M1300.12 714.40v2.4M1347.70 792.70v-2.4M1347.70 714.40v2.4M1109.80 792.70h2.4M1347.70 792.70h-2.4M1109.80 766.60h2.4M1347.70 766.60h-2.4M1109.80 740.50h2.4M1347.70 740.50h-2.4M1109.80 714.40h2.4M1347.70 714.40h-2.4" stroke="#333" stroke-width="0.8"/>
<text class="tx" x="1109.80" y="802.10">0</text>
<text class="tx" x="1157.38" y="802.10">500</text>
<text class="tx" x="1204.96" y="802.10">1000</text>
<text class="tx" x="1252.54" y="802.10">1500</text>
<text class="tx" x="1300.12" y="802.10">2000</text>
<text class="tx" x="1347.70" y="802.10">2500</text>
<text class="tk e" x="1106.60" y="795.20">0</text>
<text class="tk e" x="1106.60" y="769.10">0.1</text>
<text class="tk e" x="1106.60" y="743.00">0.2</text>
<text class="tk e" x="1106.60" y="716.90">0.3</text>
<text class="tl" x="1228.75" y="712.00">Frequency domain analysis</text>
<text class="tl" x="1228.75" y="811.00">frequency (Hz)</text>
<text class="tl" transform="translate(1095.47 753.55) rotate(-90)">|Y(f)|</text>
<path transform="matrix(0.33371 0.00000 0.00000 0.50000 1109.80 792.70)" d="M0 0l1 0 1-1 1 1 1 0 1 0 1 0 1 0 1-1 1 1 1 0 1-1 1 0 1 1 1-1 1 1 1 0 1 0 1 0 1-1 1 0 1 1 1-1 1 1 1-1 1 1 1 0 1 0 1 0 1-1 1-1 1 2 1-3 1 3 1 0 1-2 1-2 1 3 1-4 1 5 1 0 1-6 1 3 1 2 1-3 1 3 1 0 1-3 1 1 1 2 1 0 1-5 1 5 1-4 1 2 1 2 1 0 1-4 1 2 1 3 1-1 1-4 1 4 1-3 1 1 1 2 1 1 1-3 1-1 1 4 1-1 1-20 1 13 1 8 1 0 1-1 1 1 1 0 1 0 1 0 1-1 1 1 1 0 1-1 1 1 1-1 1 1 1-1 1 1 1-2 1 1 1 1 1-2 1 2 1 0 1-3 1 3 1-2 1 0 1 2 1 0 1-3 1 1 1 1 1 0 1-7 1 8 1-3 1 1 1 2 1-1 1 1 1 0 1-2 1 2 1-1 1 1 1-2 1 0 1 2 1 0 1-3 1 2 1-2 1 1 1 1 1-1 1 2 1 0 1-3 1 1 1 2 1 0 1-1 1 0 1 1 1 0 1-16 1 12 1 4 1-1 1-2 1 0 1 2 1 0 1 1 1 0 1-2 1 2 1-1 1-1 1 2 1-1 1 1 1 0 1-2 1 2 1-3 1 2 1-2 1 3 1-3 1 1 1 2 1-2 1 2 1 0 1-3 1 3 1-2 1 2 1-2 1 0 1 2 1-3 1 3 1 0 1-2 1 1 1 0 1-1 1 2 1-3 1 3 1-2 1 2 1-4 1 4 1-3 1 2 1 1 1-2 1 2 1-4 1-6 1 9 1-2 1 3 1-1 1 1 1 0 1-1 1-2 1 3 1 0 1-3 1 2 1 1 1-1 1 1 1 0 1-1 1 1 1-1 1-1 1 2 1 0 1-2 1 2 1-1 1 0 1 1 1 0 1 0 1-1 1 1 1 0 1-1 1 1 1 0 1 0 1-1 1 1 1-1 1 1 1-1 1 1 1 0 1-1 1 1 1-1 1 1 1 0 1-1 1 1 1-2 1 1 1-10 1 10 1-15 1 13 1-10 1 9 1-8 1-25 1 33 1-17 1 14 1 5 1-16 1 11 1-61 1 63 1-24 1 27 1-18 1-5 1 18 1-11 1 16 1-18 1-90 1 60 1 48 1 2 1-24 1 23 1-31 1-57 1 87 1-23 1 23 1 0 1-36 1 12 1 22 1 0 1-18 1 16 1-13 1 14 1-21 1 20 1-51 1 30 1 24 1 1 1-15 1 6 1 10 1-9 1 9 1 0 1 1 1 0 1 0 1-1 1 1 1 0 1-1 1 1 1 0 1 0 1-3 1 1 1-22 1 23 1-7 1-15 1 17 1 3 1-45 1-72 1 109 1-18 1 23 1-3 1-13 1-34 1 53 1-154 1 131 1-10 1 32 1-4 1-55 1 26 1 27 1 4 1-78 1 34 1 49 1-8 1-31 1 31 1-65 1 65 1-35 1 39 1-26 1 15 1-36 1 47 1-47 1 14 1 33 1-7 1-23 1 30 1-33 1 30 1-30 1-30 1 67 1-5 1-44 1 45 1-31 1 30 1-47 1 36 1 16 1-22 1 19 1-19 1 17 1-8 1 11 1-7 1 9 1 1 1-1 1 1 1-1 1 1 1-1 1 0 1 1 1 0 1-1 1 1 1-1 1 1 1 0 1-1 1 1 1 0 1 0 1 0 1-1 1 0 1 1 1 0 1-1 1 1 1 0 1 0 1 0 1 0 1 0 1 0 1-1 1 1 1 0 1-1 1 1 1-1 1 1 1 0 1 0 1 0 1-1 1 0 1 1 1 0 1-1 1 0 1 1 1 0 1 0 1 0 1-1 1 1 1-1 1 1 1 0 1 0 1 0 1-1 1 1 1 0 1 0 1 0 1 0 1-1 1 1 1-1 1 1 1-1 1 1 1-1 1 1 1 0 1 0 1 0 1 0 1-1 1 1 1 0 1 0 1 0 1 0 1 0 1-1 1 1 1 0 1 0 1-1 1 1 1 0 1-1 1 1 1-1 1 1 1-1 1 1 1 0 1 0 1-1 1 1 1-1 1 1 1-1 1 1 1 0 1-2 1 2 1-4 1 3 1-4 1-4 1 8 1 0 1-4 1-2 1 6 1-9 1 9 1-11 1 11 1-5 1 5 1-1 1-8 1 10 1-5 1-2 1 6 1 0 1-8 1 8 1-12 1 11 1-8 1 2 1 7 1-6 1 5 1 2 1-8 1 4 1 2 1 2 1-8 1 4 1 3 1-1 1 2 1-1 1 1 1 0 1-1 1 0 1 1 1-1 1 1 1-1 1 1 1 0 1-1 1 1 1-1 1 1 1-1 1 1 1 0 1-1 1 1 1 0 1-1 1 1 1-1 1 0 1 1 1-1 1 1 1-1 1 1 1-1 1 1 1-1 1 1 1-1 1 1 1-1 1 1 1 0 1 0 1-1 1 1 1-1 1 1 1 0 1-1 1 0 1 1 1-1 1 1 1 0 1 0 1 0 1-1 1 1 1 0" stroke="#0072BD" stroke-width="0.6" fill="none" vector-effect="non-scaling-stroke" opacity="0.7"/>
<path transform="matrix(0.33371 0.00000 0.00000 0.50000 1109.80 792.70)" d="M0 0l1 0 1 0 1 0 1 0 1 0 1 0 1 0 1 0 1 0 1 0 1 0 1 0 1 0 1 0 1-1 1 1 1 0 1 0 1 0 1 0 1 0 1 0 1 0 1 0 1 0 1 0 1 0 1 0 1 0 1 0 1-1 1-1 1 2 1 0 1-1 1-1 1 1 1 1 1-1 1-3 1 4 1-1 1-1 1 0 1 1 1 0 1-2 1 1 1 1 1 0 1-1 1-2 1 3 1 0 1-1 1-1 1 2 1 1 1-2 1-1 1 2 1 0 1-1 1 0 1 1 1 1 1-1 1-1 1 2 1-1 1-4 1 3 1 2 1 0 1 0 1 0 1 0 1 0 1 0 1 0 1 0 1 0 1-1 1 0 1 1 1 0 1-1 1 0 1 1 1 0 1-1 1 0 1 1 1 0 1-1 1 0 1 1 1 0 1-1 1-1 1 2 1-1 1 0 1-1 1 1 1 1 1-1 1 1 1 0 1 0 1-1 1 0 1 1 1 0 1-1 1 0 1 1 1 0 1-1 1 0 1 1 1-1 1 0 1 0 1 0 1 1 1-1 1 0 1 1 1 0 1-1 1 0 1 1 1 0 1-1 1-4 1 5 1 0 1-2 1 0 1 1 1 0 1 0 1 0 1 1 1 0 1-1 1 0 1 1 1 0 1-1 1 0 1 1 1 0 1-1 1-1 1 2 1-1 1 0 1 0 1 1 1 0 1-1 1 0 1 1 1 0 1-1 1 0 1 1 1 0 1-1 1 0 1 1 1 0 1-1 1 0 1 1 1-1 1 0 1 0 1 1 1 0 1-1 1 0 1 1 1 0 1-1 1 0 1 0 1 1 1 0 1-2 1 2 1-1 1-3 1 3 1 1 1 0 1-1 1 0 1 1 1 0 1-1 1 0 1 1 1 0 1-1 1 0 1 1 1 0 1-1 1 0 1 1 1 0 1-1 1 0 1 1 1 0 1 0 1-1 1 1 1 0 1 0 1 0 1 0 1 0 1 0 1 0 1 0 1 0 1 0 1 0 1 0 1 0 1 0 1 0 1 0 1 0 1 0 1 0 1 0 1 0 1 0 1 0 1 0 1-1 1-4 1-1 1 5 1-2 1-4 1-5 1 8 1 0 1-17 1 10 1 4 1 5 1-8 1-15 1 18 1 2 1-9 1 3 1 9 1-5 1-9 1 10 1 4 1-18 1-11 1 23 1 6 1 2 1-7 1-7 1 13 1-1 1-30 1 23 1 7 1 0 1-6 1-7 1 11 1 0 1-10 1 1 1 7 1 1 1-5 1-9 1 13 1 3 1-7 1 6 1 2 1 1 1-4 1 2 1 2 1 1 1 0 1 0 1 0 1 0 1 0 1 0 1 0 1 0 1 0 1 0 1 0 1-2 1-4 1 1 1 4 1-5 1-6 1 3 1 6 1-8 1-33 1 29 1 9 1-3 1-8 1 4 1 10 1-23 1-18 1 22 1 18 1-4 1-18 1 0 1 16 1 4 1-24 1 13 1 16 1-8 1-30 1 14 1 16 1 0 1-17 1 8 1 13 1-11 1-10 1 6 1 15 1 0 1-23 1 4 1 12 1 7 1-22 1 12 1 7 1 7 1-15 1-21 1 31 1 1 1-18 1 1 1 16 1 5 1-10 1-1 1 8 1-2 1-11 1 9 1 5 1 2 1-2 1 3 1 0 1 0 1 0 1 0 1 0 1 0 1 0 1-1 1 1 1 0 1 0 1 0 1 0 1 0 1 0 1 0 1 0 1 0 1 0 1 0 1 0 1 0 1 0 1 0 1 0 1 0 1 0 1 0 1 0 1 0 1-1 1 1 1 0 1 0 1 0 1 0 1 0 1 0 1 0 1 0 1 0 1 0 1 0 1 0 1 0 1 0 1 0 1 0 1 0 1 0 1 0 1 0 1 0 1 0 1 0 1 0 1 0 1 0 1 0 1 0 1 0 1 0 1 0 1 0 1 0 1 0 1 0 1 0 1 0 1 0 1 0 1 0 1 0 1 0 1 0 1 0 1 0 1 0 1 0 1 0 1 0 1 0 1 0 1 0 1 0 1 0 1 0 1 0 1 0 1 0 1 0 1 0 1 0 1 0 1 0 1 0 1 0 1 0 1 0 1 0 1 0 1 0 1 0 1-1 1 1 1 0 1-2 1-1 1 2 1 0 1-3 1 3 1 0 1 0 1-1 1-2 1 3 1 0 1-4 1 1 1 3 1-1 1-5 1 4 1 3 1-1 1-1 1-3 1 4 1 0 1-5 1 2 1 2 1 1 1-5 1 1 1 3 1 2 1-4 1 1 1 1 1 2 1-5 1 3 1 1 1 1 1-1 1 1 1 0 1 0 1 0 1 0 1 0 1 0 1 0 1 0 1 0 1 0 1 0 1 0 1 0 1 0 1 0 1 0 1 0 1 0 1 0 1 0 1 0 1 0 1 0 1 0 1 0 1 0 1 0 1 0 1 0 1 0 1 0 1-1 1 1 1 0 1 0 1 0 1 0 1 0 1 0 1 0 1 0 1 0 1 0 1 0 1 0 1 0 1 0 1 0 1 0 1 0 1 0 1 0 1 0 1 0 1 0" stroke="#0066B3" stroke-width="0.7" fill="none" vector-effect="non-scaling-stroke"/>
<path d="M1435.00 604.70H1672.80" stroke="#c4c4c4" stroke-width="1"/>
<path d="M1672.80 604.70V683.00" stroke="#9a9a9a" stroke-width="1"/>
<path d="M1435.00 604.70V683.00H1672.80" stroke="#3a3a3a" stroke-width="0.9" fill="none"/>
<path d="M1435.00 683.00v-2.4M1435.00 604.70v2.4M1468.97 683.00v-2.4M1468.97 604.70v2.4M1502.94 683.00v-2.4M1502.94 604.70v2.4M1536.91 683.00v-2.4M1536.91 604.70v2.4M1570.89 683.00v-2.4M1570.89 604.70v2.4M1604.86 683.00v-2.4M1604.86 604.70v2.4M1638.83 683.00v-2.4M1638.83 604.70v2.4M1672.80 683.00v-2.4M1672.80 604.70v2.4M1435.00 683.00h2.4M1672.80 683.00h-2.4M1435.00 663.42h2.4M1672.80 663.42h-2.4M1435.00 643.85h2.4M1672.80 643.85h-2.4M1435.00 624.27h2.4M1672.80 624.27h-2.4M1435.00 604.70h2.4M1672.80 604.70h-2.4" stroke="#333" stroke-width="0.8"/>
<text class="tx" x="1435.00" y="692.40">0</text>
<text class="tx" x="1468.97" y="692.40">0.05</text>
<text class="tx" x="1502.94" y="692.40">0.1</text>
<text class="tx" x="1536.91" y="692.40">0.15</text>
<text class="tx" x="1570.89" y="692.40">0.2</text>
<text class="tx" x="1604.86" y="692.40">0.25</text>
<text class="tx" x="1638.83" y="692.40">0.3</text>
<text class="tx" x="1672.80" y="692.40">0.35</text>
<text class="tk e" x="1431.80" y="685.50">-0.4</text>
<text class="tk e" x="1431.80" y="665.92">-0.2</text>
<text class="tk e" x="1431.80" y="646.35">0</text>
<text class="tk e" x="1431.80" y="626.77">0.2</text>
<text class="tk e" x="1431.80" y="607.20">0.4</text>
<text class="tl" x="1553.90" y="602.30">Time domain analysis</text>
<text class="tl" x="1553.90" y="701.30">Time (s)</text>
<text class="tl" transform="translate(1418.34 643.85) rotate(-90)">Amplitude</text>
<path transform="matrix(0.33312 0.00000 0.00000 0.50000 1435.00 643.85)" d="M0 -41l1 64 1-49 1 51 1-46 1 33 1-30 1 50 1-53 1 49 1-12 1-42 1 15 1 28 1-40 1 38 1-28 1 44 1 3 1-57 1-8 1 89 1-30 1-51 1-12 1 59 1 13 1-65 1-5 1 66 1 2 1-72 1-6 1 77 1-59 1 57 1-42 1 51 1-24 1-57 1 7 1 53 1-1 1-51 1 18 1 41 1-51 1 36 1 5 1-34 1 7 1 24 1-38 1 41 1-45 1 45 1-28 1 38 1-56 1 35 1-26 1 38 1 13 1-52 1 43 1-48 1-6 1 52 1-65 1 70 1 15 1-87 1 80 1-76 1 3 1 80 1-72 1 55 1 1 1-54 1 75 1-98 1 106 1-78 1 55 1-50 1 54 1-77 1 6 1 64 1-45 1 39 1-10 1-48 1 1 1 85 1-23 1-44 1 43 1-48 1 10 1 33 1 8 1-51 1-10 1 54 1 0 1-47 1 49 1-57 1 65 1-55 1 45 1-67 1-7 1 72 1-32 1 67 1-79 1 55 1-49 1 44 1 6 1-70 1 75 1-77 1-14 1 97 1 26 1-87 1-20 1 63 1-73 1 85 1-74 1 60 1-66 1 82 1-75 1 84 1-84 1 87 1-27 1-44 1-1 1 61 1-75 1 66 1-2 1-67 1 72 1-74 1 11 1 65 1-7 1-69 1 72 1-62 1 55 1-50 1 51 1-40 1-8 1 41 1 0 1-54 1 51 1-40 1 54 1-55 1 58 1-38 1 49 1-75 1 5 1 60 1-63 1 79 1-26 1-42 1-30 1 81 1-66 1 64 1 17 1-78 1 75 1-81 1 83 1-70 1 65 1-75 1 64 1-79 1 77 1-62 1 6 1 78 1-119 1 112 1-13 1-97 1 107 1-72 1-2 1 66 1-55 1 54 1-11 1-56 1 12 1 44 1 2 1-55 1 4 1 52 1 1 1-36 1 26 1-45 1 25 1 41 1-9 1-77 1 23 1 42 1-43 1 68 1 24 1-84 1-29 1 63 1-43 1 64 1-74 1 65 1-49 1 77 1-18 1-61 1-39 1 97 1-77 1 72 1-25 1-36 1 67 1-79 1 20 1 67 1-71 1 77 1-5 1-64 1 75 1-78 1 74 1-69 1 34 1-40 1 47 1-52 1 60 1-70 1 61 1-53 1 13 1 54 1-46 1 43 1-20 1-47 1 12 1 59 1-69 1 60 1-77 1 85 1-77 1 86 1 12 1-90 1 2 1 63 1 23 1-76 1-22 1 72 1-81 1 93 1-63 1 52 1-7 1-49 1 52 1-58 1-15 1 85 1-49 1 35 1-59 1 51 1 17 1-44 1-3 1 29 1-39 1 38 1-35 1 63 1-22 1-59 1 89 1-73 1-24 1 77 1-3 1-40 1-12 1 50 1-50 1 50 1-48 1 43 1 14 1-62 1 1 1 72 1-6 1-64 1 57 1-48 1 25 1-27 1 49 1-59 1 65 1-70 1 13 1 46 1-52 1 94 1-41 1-45 1 50 1-54 1 49 1-72 1 30 1 22 1-25 1 56 1-52 1 44 1 14 1-77 1 56 1-40 1 40 1-60 1 27 1 40 1 8 1-49 1-14 1 65 1-31 1-41 1 16 1 36 1 0 1-41 1 49 1-51 1 43 1-39 1 38 1-38 1-3 1 62 1-74 1 66 1-57 1 53 1-3 1-57 1-1 1 62 1-72 1 80 1-6 1-46 1 61 1-82 1 3 1 61 1 24 1-66 1 33 1-36 1 46 1-43 1-13 1 51 1-47 1 52 1 18 1-66 1 50 1-61 1 54 1-41 1 33 1-40 1 42 1-29 1 33 1-48 1-6 1 62 1-66 1 61 1 0 1-66 1 72 1-34 1 32 1-79 1 37 1 73 1-28 1-68 1 3 1 53 1-65 1 87 1 13 1-81 1-25 1 75 1-54 1 58 1-49 1 88 1-33 1-65 1 60 1-65 1 1 1 73 1-76 1 70 1-46 1 39 1-43 1 25 1 24 1-30 1-11 1 34 1-47 1 27 1 27 1-67 1 64 1-50 1 2 1 68 1-70 1 60 1-80 1 74 1 1 1-65 1-1 1 62 1-50 1 49 1 25 1-93 1 23 1 56 1-68 1 55 1-31 1 21 1-58 1 73 1-67 1 64 1-58 1 78 1-30 1-37 1 50 1-54 1-21 1 66 1-35 1 54 1-62 1 48 1-5 1-43 1 42 1-45 1 15 1 36 1-1 1-64 1 57 1-36 1 7 1 26 1-28 1 37 1-52 1 54 1-3 1-41 1-7 1 52 1 7 1-72 1 16 1 38 1 14 1-41 1 39 1-47 1-2 1 55 1 18 1-87 1 5 1 70 1-58 1 56 1-72 1 52 1 24 1-62 1 54 1-61 1-4 1 59 1 2 1-74 1 69 1-56 1 4 1 70 1-20 1-38 1 51 1-52 1-13 1 53 1 14 1-59 1 51 1-61 1 53 1-40 1 7 1 29 1-40 1 50 1-58 1 63 1 5 1-52 1-9 1 58 1-53 1 45 1-5 1-41 1-18 1 69 1-54 1 62 1-53 1 37 1 9 1-88 1 10 1 74 1 24 1-94 1 14 1 54 1 23 1-81 1 0 1 53 1-73 1 109 1-94 1 68 1-1 1-50 1 44 1-82 1-5 1 89 1-67 1 80 1 4 1-68 1 9 1 58 1-14 1-96 1 28 1 76 1-44 1 41 1-65 1 53 1-74 1 84 1-53 1 39 1-38 1 45 1-46 1 55 1-66 1 47 1-45 1 49 1 4 1-37 1 40 1-44 1-22 1 68 1 15 1-68 1 6 1 50 1-57 1 55 1 8 1-69 1 0 1 51 1 16 1-70 1 72 1-69 1 68 1-45 1-22 1 65 1-74 1 65 1-52 1 52 1 19 1-60 1-14 1 67 1-13 1-49 1-20 1 66 1 24 1-74 1-20 1 71 1-43 1 60 1 7 1-80 1 50 1-41 1 61 1-71 1 13 1 64 1-15 1-54 1 66 1-58 1-9 1 53 1-55 1 62 1 0 1-52 1 51 1-53 1-5 1 63" stroke="#0072BD" stroke-width="0.7" fill="none" vector-effect="non-scaling-stroke" opacity="0.8"/>
<path transform="matrix(0.33312 0.00000 0.00000 0.50000 1435.00 643.85)" d="M0 -20l1 35 1 4 1-34 1-3 1 30 1 13 1-42 1-3 1 36 1 0 1-33 1 9 1 24 1-6 1-30 1 8 1 37 1 7 1-52 1 0 1 41 1 0 1-39 1-5 1 37 1 22 1-62 1 1 1 55 1 5 1-67 1 5 1 58 1-5 1-38 1 3 1 40 1-17 1-51 1 7 1 48 1-6 1-37 1 12 1 39 1-14 1-34 1 9 1 29 1-6 1-18 1 3 1 21 1-3 1-34 1 10 1 26 1-12 1-25 1 5 1 33 1 6 1-34 1-13 1 47 1-4 1-29 1-21 1 49 1 14 1-44 1-27 1 73 1 3 1-68 1 5 1 42 1 7 1-43 1-24 1 82 1-12 1-35 1-2 1 31 1 9 1-47 1-6 1 47 1-6 1-33 1-15 1 40 1 20 1-41 1-3 1 34 1-3 1-30 1 2 1 30 1 4 1-32 1-9 1 38 1-1 1-25 1-6 1 29 1 3 1-40 1-3 1 44 1-6 1-35 1 11 1 38 1-3 1-45 1 3 1 41 1-7 1-38 1-9 1 47 1 6 1-75 1 42 1 51 1-28 1-51 1 7 1 57 1-6 1-40 1-12 1 61 1 2 1-51 1-8 1 63 1-13 1-37 1-4 1 38 1 11 1-53 1-1 1 44 1 10 1-64 1 11 1 38 1 10 1-41 1 4 1 39 1-14 1-34 1 11 1 31 1-3 1-34 1-6 1 35 1-7 1-28 1 6 1 29 1 13 1-26 1-23 1 65 1-16 1-48 1-7 1 55 1-9 1-33 1-23 1 70 1-5 1-49 1 0 1 58 1-9 1-40 1-1 1 30 1 6 1-47 1 0 1 49 1-12 1-29 1 1 1 62 1-7 1-65 1-1 1 49 1 5 1-43 1-1 1 40 1 7 1-50 1 0 1 36 1 5 1-40 1-9 1 46 1-1 1-39 1 16 1 27 1-6 1-32 1 13 1 36 1-17 1-38 1 2 1 33 1 11 1-35 1-5 1 55 1-30 1-35 1 7 1 47 1-2 1-52 1 6 1 62 1-7 1-47 1-29 1 71 1-2 1-47 1-3 1 25 1 22 1-51 1 10 1 45 1-3 1-48 1 6 1 52 1-7 1-51 1 12 1 35 1-8 1-31 1-2 1 36 1 1 1-38 1-1 1 39 1 6 1-43 1 8 1 37 1-15 1-37 1 15 1 33 1-8 1-46 1 8 1 55 1-2 1-51 1 2 1 47 1-4 1-43 1 9 1 41 1-12 1-47 1-5 1 65 1-7 1-35 1-10 1 40 1 3 1-45 1 1 1 54 1-11 1-29 1-21 1 40 1 13 1-37 1-2 1 27 1-1 1-37 1 4 1 49 1-12 1-42 1 7 1 59 1-13 1-52 1 11 1 32 1 6 1-41 1-1 1 38 1-4 1-36 1 3 1 40 1 3 1-50 1 1 1 56 1-9 1-35 1-6 1 25 1 18 1-49 1-10 1 62 1-8 1-33 1-4 1 33 1 7 1-41 1-1 1 32 1 6 1-49 1 19 1 15 1 19 1-41 1 11 1 21 1 11 1-57 1 17 1 29 1 1 1-43 1 24 1 14 1 17 1-37 1-16 1 54 1-29 1-23 1 7 1 34 1 0 1-33 1 7 1 30 1-8 1-31 1 1 1 28 1 16 1-48 1-2 1 47 1-3 1-39 1-12 1 44 1 11 1-47 1-5 1 61 1-14 1-32 1-19 1 62 1-23 1-30 1 8 1 44 1-15 1-29 1 1 1 34 1-14 1-33 1 17 1 31 1-5 1-37 1 1 1 31 1-2 1-26 1 2 1 25 1 3 1-18 1-12 1 31 1 10 1-37 1-16 1 38 1 5 1-43 1 25 1 23 1 1 1-60 1 25 1 52 1-11 1-57 1 4 1 43 1 4 1-54 1 8 1 64 1-31 1-36 1 12 1 41 1 8 1-56 1 2 1 47 1-7 1-47 1 5 1 53 1-5 1-43 1 3 1 33 1-14 1-22 1 17 1 22 1-4 1-20 1-18 1 21 1 22 1-42 1-2 1 47 1-2 1-32 1-14 1 53 1-4 1-64 1 18 1 42 1-12 1-42 1 18 1 39 1 9 1-64 1 21 1 38 1-7 1-41 1 12 1 16 1 19 1-59 1 2 1 44 1 8 1-45 1 9 1 28 1 1 1-32 1 0 1 34 1 2 1-29 1-5 1 30 1-2 1-33 1-5 1 35 1 9 1-29 1-10 1 34 1 1 1-25 1-2 1 21 1 5 1-26 1-14 1 41 1 2 1-36 1-6 1 45 1 5 1-39 1-10 1 28 1 11 1-23 1-13 1 36 1 3 1-34 1-16 1 57 1 3 1-43 1-4 1 54 1-25 1-31 1 0 1 49 1 2 1-50 1-9 1 51 1 4 1-52 1-5 1 48 1 14 1-50 1 2 1 34 1 8 1-42 1-2 1 31 1 2 1-30 1-4 1 31 1 8 1-36 1 4 1 18 1 13 1-37 1-5 1 44 1 0 1-34 1-9 1 43 1-10 1-28 1-2 1 37 1 3 1-43 1 6 1 36 1 1 1-34 1-13 1 45 1-6 1-46 1 2 1 71 1-15 1-47 1 11 1 54 1-25 1-42 1 1 1 58 1-13 1-58 1 20 1 44 1-8 1-46 1 5 1 43 1 3 1-48 1 10 1 29 1 5 1-37 1-4 1 44 1 9 1-65 1 28 1 31 1-15 1-35 1-5 1 57 1-17 1-31 1-1 1 39 1 9 1-44 1-7 1 34 1 6 1-38 1 9 1 23 1 2 1-27 1-2 1 36 1 0 1-42 1 6 1 32 1-2 1-25 1-10 1 47 1-8 1-38 1-8 1 55 1 5 1-54 1 15 1 27 1-2 1-35 1-22 1 53 1 2 1-29 1 0 1 48 1-22 1-30 1-1 1 36 1 0 1-39 1-3 1 47 1-4 1-50 1 11 1 51 1-7 1-49 1 0 1 39 1 7 1-56 1 19 1 55 1-32 1-29 1 3 1 38 1 4 1-43 1-9 1 46 1 11 1-48 1 8 1 34 1 9 1-46" stroke="#0066B3" stroke-width="0.8" fill="none" vector-effect="non-scaling-stroke"/>
<path d="M1435.00 714.40H1672.80" stroke="#7a7a7a" stroke-width="1"/>
<path d="M1672.80 714.40V792.70" stroke="#9a9a9a" stroke-width="1"/>
<path d="M1435.00 714.40V792.70H1672.80" stroke="#3a3a3a" stroke-width="0.9" fill="none"/>
<path d="M1435.00 792.70v-2.4M1435.00 714.40v2.4M1482.56 792.70v-2.4M1482.56 714.40v2.4M1530.12 792.70v-2.4M1530.12 714.40v2.4M1577.68 792.70v-2.4M1577.68 714.40v2.4M1625.24 792.70v-2.4M1625.24 714.40v2.4M1672.80 792.70v-2.4M1672.80 714.40v2.4M1435.00 792.70h2.4M1672.80 792.70h-2.4M1435.00 773.12h2.4M1672.80 773.12h-2.4M1435.00 753.55h2.4M1672.80 753.55h-2.4M1435.00 733.98h2.4M1672.80 733.98h-2.4M1435.00 714.40h2.4M1672.80 714.40h-2.4" stroke="#333" stroke-width="0.8"/>
<text class="tx" x="1435.00" y="802.10">0</text>
<text class="tx" x="1482.56" y="802.10">500</text>
<text class="tx" x="1530.12" y="802.10">1000</text>
<text class="tx" x="1577.68" y="802.10">1500</text>
<text class="tx" x="1625.24" y="802.10">2000</text>
<text class="tx" x="1672.80" y="802.10">2500</text>
<text class="tk e" x="1431.80" y="795.20">0</text>
<text class="tk e" x="1431.80" y="775.62">0.01</text>
<text class="tk e" x="1431.80" y="756.05">0.02</text>
<text class="tk e" x="1431.80" y="736.48">0.03</text>
<text class="tk e" x="1431.80" y="716.90">0.04</text>
<text class="tl" x="1553.90" y="712.00">Frequency domain analysis</text>
<text class="tl" x="1553.90" y="811.00">frequency (Hz)</text>
<text class="tl" transform="translate(1416.78 753.55) rotate(-90)">|Y(f)|</text>
<path transform="matrix(0.33357 0.00000 0.00000 0.50000 1435.00 792.70)" d="M0 0l1-1 1 1 1-1 1 1 1-1 1 1 1-1 1 1 1-2 1 2 1-5 1 5 1-13 1-30 1 40 1-8 1 10 1 0 1-10 1 9 1-4 1 5 1-9 1 0 1 9 1-3 1-4 1 6 1-6 1 7 1-6 1-9 1 11 1 4 1-20 1 17 1-35 1 25 1 12 1 0 1-21 1 22 1-8 1 7 1-12 1-2 1 15 1-10 1 9 1-7 1 8 1-3 1-12 1 4 1 9 1-1 1-39 1 18 1 24 1-25 1 25 1-14 1 12 1 0 1-10 1 1 1 9 1-22 1 25 1-11 1-87 1 44 1 52 1 0 1-11 1 12 1-16 1 4 1 10 1 0 1-14 1 7 1 8 1 1 1-11 1 10 1-21 1 21 1-5 1 2 1-34 1 19 1 14 1 5 1-7 1-13 1 19 1-1 1-15 1 10 1 8 1-3 1-8 1-4 1 14 1 0 1-7 1 7 1-11 1 11 1-15 1 9 1 6 1 1 1-2 1-3 1 4 1-4 1 5 1-1 1 1 1-1 1 1 1-1 1 1 1-1 1-1 1-1 1 3 1 0 1-1 1 1 1-4 1-12 1 15 1 0 1 1 1-2 1 2 1-2 1 2 1 0 1-2 1 1 1-2 1 2 1-4 1 4 1-1 1 2 1-3 1 1 1 2 1 0 1-4 1-1 1 5 1-5 1 4 1-2 1 3 1-3 1 3 1-3 1 3 1-4 1 3 1 0 1-2 1 3 1-3 1-2 1 4 1-3 1 4 1-6 1 5 1-2 1 3 1-1 1-1 1 0 1 2 1-1 1-4 1-1 1 5 1-5 1 5 1 1 1-3 1 3 1-3 1-1 1 3 1 1 1-3 1 1 1 2 1-4 1 4 1-2 1 2 1 0 1-2 1-2 1 3 1 1 1-3 1 0 1 3 1-1 1-3 1 2 1 1 1-2 1 3 1-1 1-1 1 0 1 1 1-2 1 3 1-1 1-1 1 2 1-2 1 1 1 1 1 0 1-1 1 1 1 0 1 0 1-3 1 2 1-7 1 0 1 7 1-2 1-14 1 16 1-5 1-10 1 11 1-4 1 8 1 0 1-15 1 6 1 8 1 1 1-16 1 1 1 13 1-7 1 8 1 2 1-22 1 21 1-19 1-3 1 20 1-9 1 8 1 2 1-15 1 0 1 15 1 0 1-17 1 17 1-7 1-6 1 11 1 2 1-21 1-1 1 22 1-13 1 12 1 1 1-12 1 11 1-28 1 15 1 15 1-2 1-7 1 8 1-15 1 1 1 13 1 2 1-14 1 12 1-5 1-2 1 8 1-11 1 12 1-15 1 14 1-6 1 4 1-7 1 9 1 1 1-7 1-1 1 8 1 0 1-3 1 3 1-7 1-13 1 16 1-9 1-111 1 91 1 30 1 1 1-18 1-11 1 22 1 0 1-49 1 54 1-57 1 47 1 10 1 0 1-25 1 12 1-32 1-107 1 147 1-40 1 45 1-62 1 59 1-54 1 52 1-10 1 13 1 2 1-33 1 9 1 23 1-28 1 32 1-3 1-58 1 28 1 32 1-21 1 20 1 2 1-32 1 3 1 26 1-16 1 17 1 2 1-38 1-30 1 65 1 2 1-11 1-6 1 17 1-12 1 12 1-10 1 12 1-2 1 3 1 0 1-3 1 3 1-9 1 3 1 5 1 0 1-4 1-1 1 5 1 0 1-2 1-8 1 10 1-13 1 13 1 1 1-5 1-3 1 7 1 0 1-13 1 13 1-12 1 11 1-5 1 3 1-31 1 25 1 9 1-5 1 4 1-9 1 9 1-33 1 35 1-1 1-7 1 7 1-3 1 2 1 1 1 0 1-3 1 3 1 1 1 0 1 0 1 0 1 0 1 0 1 0 1 0 1-1 1 0 1 1 1 0 1-1 1 1 1 0 1 0 1-1 1 1 1 0 1 0 1-1 1 0 1 1 1 0 1-1 1 0 1 1 1-1 1 1 1 0 1-1 1 0 1 1 1-1 1 1 1 0 1-1 1 0 1 1 1 0 1 0 1-1 1 1 1 0 1-1 1 0 1 1 1-1 1 1 1 0 1 0 1 0 1 0 1-1 1 1 1 0 1 0 1 0 1 0 1 0 1-1 1 0 1 1 1-1 1 1 1 0 1 0 1 0 1-6 1-9 1 13 1-4 1-14 1 0 1 17 1-23 1 24 1-1 1-44 1 23 1 22 1-18 1 16 1 1 1-30 1 14 1 12 1 3 1-27 1-2 1 33 1-28 1 27 1-16 1 16 1-24 1 23 1 1 1-5 1 5 1 1 1-1 1 1 1 0 1 0 1 0 1-1 1 1 1-1 1 1 1-1 1 1 1-1 1 1 1-1 1 1 1 0 1-1 1 1 1-1 1 1 1-1 1 1 1 0 1-1 1 1 1 0 1 0 1 0 1 0 1 0 1 0 1-1 1 1 1-1 1 0 1 1 1-1 1 1 1 0 1 0 1-1 1 1 1-1 1 1 1-1 1 1 1 0 1-1 1 1 1-1 1 0 1 1 1-1 1 1 1 0 1 0 1 0 1-1 1 1 1-1" stroke="#0072BD" stroke-width="0.6" fill="none" vector-effect="non-scaling-stroke" opacity="0.7"/>
<path transform="matrix(0.33357 0.00000 0.00000 0.50000 1435.00 792.70)" d="M0 0l1 0 1 0 1 0 1 0 1 0 1 0 1 0 1-1 1 1 1 0 1-3 1-2 1 5 1-3 1-7 1 7 1 2 1 0 1-2 1 0 1 1 1 1 1-2 1-3 1 5 1-3 1-3 1 1 1 4 1 1 1-2 1-6 1 4 1 4 1-11 1-2 1 10 1 2 1-4 1-5 1 9 1 1 1-4 1 1 1 2 1 1 1-7 1 1 1 5 1 1 1-2 1-4 1 3 1 1 1-8 1-2 1 9 1 3 1-5 1-4 1 9 1-2 1-5 1 1 1 4 1 0 1-4 1 1 1 6 1-11 1-15 1 16 1 8 1 0 1-1 1-3 1 5 1-2 1-6 1 4 1 2 1 1 1-4 1-3 1 8 1-1 1-6 1 4 1 2 1-3 1-4 1-2 1 5 1 5 1-3 1-1 1 3 1-1 1-4 1 3 1 4 1-3 1-3 1 0 1 5 1 0 1-4 1 0 1 4 1 0 1-3 1 0 1 3 1 1 1-1 1-3 1 3 1 1 1-1 1 1 1 0 1 0 1-1 1 0 1 1 1-1 1 0 1 0 1 1 1 0 1-1 1-1 1 2 1-1 1-4 1 4 1 1 1 0 1-1 1 0 1 1 1 0 1-1 1 0 1 0 1 0 1 0 1 0 1 0 1 1 1-2 1 0 1 2 1 0 1-2 1 1 1 1 1-1 1-1 1 1 1 1 1 0 1-1 1 0 1 1 1-1 1-1 1 0 1 1 1 1 1-2 1 0 1 1 1 1 1-1 1-2 1 2 1 1 1-1 1 0 1 0 1 1 1-1 1-1 1 1 1 0 1-1 1 0 1 1 1 1 1-2 1 0 1 2 1-1 1-1 1 1 1 1 1 0 1-1 1 0 1 1 1 0 1-1 1 0 1 1 1-1 1-1 1 1 1 1 1 0 1-1 1-1 1 1 1 0 1-1 1 1 1 1 1-1 1 0 1 0 1 0 1 1 1-1 1 0 1 0 1 1 1-1 1 0 1 1 1 0 1-1 1 1 1 0 1 0 1-1 1-2 1 2 1 0 1-3 1-7 1 8 1 2 1-2 1-5 1 3 1 4 1-4 1-2 1 6 1-1 1-4 1-1 1 6 1-2 1-4 1 3 1 2 1 2 1-8 1-2 1 9 1-2 1-5 1-1 1 5 1 2 1-6 1 3 1 3 1 0 1-8 1 3 1 5 1-2 1-5 1-7 1 14 1 0 1-9 1 3 1 5 1 1 1-6 1-4 1 9 1 2 1-11 1 5 1 4 1 1 1-6 1-1 1 6 1 2 1-10 1 6 1 2 1 1 1-4 1-2 1 7 1-1 1-7 1 4 1 1 1 2 1-2 1 0 1 3 1 0 1-4 1 3 1 1 1 0 1-5 1-6 1 7 1-9 1-24 1 17 1 17 1 1 1-8 1-3 1 4 1 0 1-14 1 5 1 14 1 0 1-6 1-6 1 12 1-13 1-17 1-20 1 45 1 5 1-21 1-7 1 25 1-2 1-12 1 10 1 5 1 2 1-25 1 12 1 12 1 4 1-14 1-5 1 16 1 2 1-15 1 0 1 14 1 2 1-7 1-14 1 18 1 1 1-12 1 5 1 9 1-3 1-19 1 16 1 5 1 0 1-8 1 0 1 8 1 2 1-2 1 2 1 1 1 0 1-1 1-2 1 3 1-1 1-3 1 1 1 2 1 0 1-2 1 1 1 1 1 0 1-5 1 2 1 3 1 1 1-3 1 0 1 2 1 0 1-2 1-2 1 4 1-1 1-3 1-13 1 14 1 3 1-3 1-1 1 3 1 0 1-7 1-5 1 14 1-1 1-1 1-1 1 2 1 0 1-1 1 1 1 0 1 1 1 0 1 0 1 0 1 0 1 0 1 0 1 0 1 0 1 0 1 0 1 0 1 0 1 0 1 0 1 0 1 0 1 0 1 0 1 0 1 0 1 0 1 0 1 0 1 0 1 0 1 0 1 0 1 0 1 0 1 0 1 0 1 0 1 0 1 0 1 0 1 0 1 0 1 0 1 0 1 0 1 0 1 0 1 0 1 0 1 0 1 0 1 0 1 0 1 0 1 0 1 0 1 0 1 0 1 0 1 0 1 0 1 0 1 0 1 0 1 0 1 0 1 0 1 0 1 0 1 0 1 0 1 0 1 0 1-2 1-7 1 7 1-4 1-3 1-2 1 8 1 1 1-10 1-5 1 14 1 1 1-13 1 6 1 5 1 1 1-13 1 7 1 2 1 3 1-3 1-3 1 10 1-1 1-7 1-2 1 9 1-1 1-5 1 5 1 1 1 1 1 0 1 0 1 0 1 0 1 0 1 0 1 0 1 0 1 0 1 0 1 0 1 0 1 0 1 0 1 0 1 0 1 0 1 0 1 0 1 0 1 0 1 0 1 0 1 0 1 0 1 0 1 0 1 0 1 0 1 0 1 0 1 0 1 0 1 0 1 0 1 0 1 0 1 0 1 0 1 0 1 0 1 0 1 0 1 0 1 0 1 0 1 0 1 0 1 0 1 0 1 0 1 0 1 0 1 0 1 0 1 0 1 0 1 0 1 0 1 0 1 0" stroke="#0066B3" stroke-width="0.7" fill="none" vector-effect="non-scaling-stroke"/>
<path d="M246.00 505.60L376.60 452.00M376.60 452.00L376.60 380.50M219.32 490.00L349.93 436.40M349.93 436.40L349.93 364.90M192.65 474.40L323.25 420.80M323.25 420.80L323.25 349.30M165.98 458.80L296.58 405.20M296.58 405.20L296.58 333.70M139.30 443.20L269.90 389.60M269.90 389.60L269.90 318.10M246.00 505.60L139.30 443.20M139.30 443.20L139.30 371.70M262.32 498.90L155.62 436.50M155.62 436.50L155.62 365.00M278.65 492.20L171.95 429.80M171.95 429.80L171.95 358.30M294.98 485.50L188.28 423.10M188.28 423.10L188.28 351.60M311.30 478.80L204.60 416.40M204.60 416.40L204.60 344.90M327.62 472.10L220.93 409.70M220.93 409.70L220.93 338.20M343.95 465.40L237.25 403.00M237.25 403.00L237.25 331.50M360.28 458.70L253.58 396.30M253.58 396.30L253.58 324.80M376.60 452.00L269.90 389.60M269.90 389.60L269.90 318.10M139.30 441.81L269.90 388.21M269.90 388.21L376.60 450.61M139.30 426.40L269.90 372.80M269.90 372.80L376.60 435.20M139.30 410.99L269.90 357.39M269.90 357.39L376.60 419.79M139.30 395.58L269.90 341.98M269.90 341.98L376.60 404.38M139.30 380.18L269.90 326.58M269.90 326.58L376.60 388.98M139.30 371.70L269.90 318.10M269.90 318.10L376.60 380.50" stroke="#e6e6e6" stroke-width="0.6" fill="none"/>
<path d="M139.30 443.20L139.30 371.70M139.30 443.20L246.00 505.60M246.00 505.60L376.60 452.00M139.30 441.81L136.71 442.88M139.30 426.40L136.71 427.47M139.30 410.99L136.71 412.06M139.30 395.58L136.71 396.65M139.30 380.18L136.71 381.24M246.00 505.60L243.04 506.81M219.32 490.00L216.36 491.21M192.65 474.40L189.69 475.61M165.98 458.80L163.01 460.01M139.30 443.20L136.34 444.41M262.32 498.90L265.09 500.52M278.65 492.20L281.41 493.82M294.98 485.50L297.74 487.12M311.30 478.80L314.06 480.42M327.62 472.10L330.39 473.72M343.95 465.40L346.71 467.02M360.28 458.70L363.04 460.32" stroke="#333" stroke-width="0.75" fill="none"/>
<path transform="matrix(-0.41756 -0.24420 0.00000 0.50000 360.28 426.49)" d="M0 10l1-27 1 5 1 33 1-33 1 46 1-27 1-23 1 25 1-22 1 4 1 43 1-54 1 39 1 5 1-64 1 9 1 47 1 18 1-54 1 8 1 21 1-20 1 23 1-25 1 17 1-1 1-6 1 21 1-36 1 45 1-63 1 62 1-62 1 24 1 20 1-17 1 43 1-47 1 26 1-26 1 24 1-26 1 26 1-8 1-15 1 28 1-35 1 5 1 27 1 1 1-14 1 17 1-46 1 37 1-15 1 15 1-19 1-2 1 41 1-59 1 46 1-27 1 28 1-3 1-38 1 44 1-41 1 32 1-16 1 18 1-31 1-3 1 30 1 6 1-15 1-5 1 15 1 5 1-26 1 6 1 10 1-13 1 21 1-30 1 46 1-19 1-22 1 26 1-21 1 22 1-50 1 56 1-56 1 24 1 31 1-24 1 21 1-32 1 45 1-3 1-61 1 27 1 15 1-17 1 22 1 3 1-26 1-3 1 39 1-54 1 56 1-33 1 12 1 12 1-24 1 20 1-39 1 38 1-27 1 3 1 26 1-38 1 50 1 0 1-47 1 40 1-33 1 32 1-55 1 27 1 25 1-39 1 58 1-4 1-49 1 9 1 41 1-26 1-20 1 30 1-56 1 2 1 67 1-36 1 37 1-4 1-60 1 8 1 35 1 1 1-23 1-2 1 29 1 8 1-35 1 32 1-30 1 17 1-27 1 29 1-17 1 4 1 19 1-10 1-9 1 20 1-36 1-2 1 53 1-17 1-25 1 3 1 15 1-22 1 48 1-46 1 45 1-15 1-53 1 14 1 48 1-3 1-64 1 81 1-48 1-30 1 68 1-12 1-28 1 1 1 23 1-25 1 15 1 9 1-26 1-4 1 41 1 8 1-58 1 50 1-41 1 5 1 26 1 2 1-45 1 5 1 40 1 9 1-69 1 29 1 31 1-2 1-29 1 6 1 23 1-23 1 21" stroke="#A2142F" stroke-width="0.65" fill="none" vector-effect="non-scaling-stroke" opacity="0.8"/>
<path transform="matrix(-0.41756 -0.24420 0.00000 0.50000 360.28 426.49)" d="M0 -12l1 19 1 10 1-25 1 0 1 31 1-19 1-17 1 4 1 15 1 18 1-30 1-7 1 25 1 8 1-53 1 3 1 42 1 17 1-43 1 13 1 9 1 0 1-15 1-3 1 13 1-1 1-4 1-12 1 28 1 6 1-49 1 2 1 44 1-13 1-15 1 4 1 33 1-15 1-20 1-1 1 18 1 0 1-20 1 3 1 11 1 12 1-28 1 4 1 17 1 3 1-6 1-26 1 34 1-7 1-10 1-4 1 14 1 15 1-29 1-20 1 42 1 1 1-23 1-11 1 32 1 3 1-33 1 15 1 8 1 5 1-26 1 0 1 21 1 5 1-9 1-6 1 9 1 2 1-15 1 4 1 8 1 3 1-12 1-3 1 31 1-16 1-14 1 5 1 15 1-4 1-42 1 6 1 38 1 7 1-25 1 4 1 16 1 14 1-38 1-20 1 41 1-3 1-9 1-6 1 18 1 2 1-16 1-5 1 30 1 2 1-46 1 19 1 10 1 10 1-20 1-14 1 30 1 0 1-23 1 4 1 20 1 13 1-36 1-3 1 36 1-12 1-19 1-19 1 40 1-1 1-19 1-8 1 44 1-3 1-35 1 6 1 31 1-22 1-10 1-19 1 33 1 14 1-54 1 32 1 25 1-4 1-49 1 14 1 21 1-2 1-16 1 0 1 20 1 8 1-24 1-2 1 20 1-8 1-24 1 12 1 12 1 8 1-14 1-1 1 6 1 10 1-32 1 3 1 38 1-14 1-18 1 3 1 9 1 26 1-38 1 2 1 33 1-17 1-39 1 10 1 40 1-3 1-50 1 30 1 37 1-11 1-52 1 23 1 20 1-5 1-15 1-2 1 12 1 6 1-17 1-7 1 36 1 2 1-43 1 7 1 31 1-10 1-18 1-13 1 32 1 5 1-33 1-16 1 53 1-6 1-15 1-12 1 25 1 1 1-17 1-3 1 17" stroke="#A2142F" stroke-width="0.95" fill="none" vector-effect="non-scaling-stroke"/>
<path transform="matrix(-0.41756 -0.24420 0.00000 0.50000 343.95 433.19)" d="M0 11l1-29 1 40 1-35 1 2 1 43 1-25 1-24 1 26 1-24 1 3 1 51 1-57 1 38 1 6 1-66 1 9 1 51 1 15 1-56 1 9 1 21 1-20 1 23 1-26 1 20 1-2 1-7 1 23 1-39 1 48 1-65 1 62 1-65 1 23 1 26 1-19 1 44 1-48 1 26 1-26 1 26 1-2 1-28 1 20 1-18 1 32 1-35 1 3 1 29 1-14 1 15 1 2 1-47 1 40 1-17 1 15 1-21 1-1 1 43 1-64 1 53 1-1 1-31 1 28 1-40 1 45 1-44 1 37 1-18 1 19 1-34 1-2 1 33 1 5 1-16 1-5 1 16 1 6 1-30 1 7 1 12 1-16 1 21 1-28 1 46 1-17 1-24 1 27 1-22 1 24 1-52 1 61 1-62 1 24 1 32 1-25 1 23 1-41 1 53 1-2 1-62 1 25 1 17 1-18 1 24 1 4 1-27 1-7 1 42 1-56 1 58 1-34 1 14 1-14 1 25 1-4 1-40 1 40 1-30 1 4 1 29 1-43 1 55 1-1 1-49 1 42 1-35 1 31 1-54 1 28 1 27 1-43 1 61 1-5 1-48 1 6 1 46 1-28 1-20 1 32 1-57 1-5 1 71 1-38 1 40 1-1 1-66 1 12 1 35 1 0 1-22 1-4 1 30 1 8 1-36 1 33 1-31 1 18 1-29 1 13 1 16 1-12 1 21 1-21 1 12 1 10 1-40 1 0 1 56 1-18 1-28 1 3 1 16 1-21 1 47 1-44 1 45 1-12 1-59 1 15 1 46 1 4 1-67 1 83 1-51 1-34 1 71 1-10 1-34 1 5 1 27 1-29 1 18 1 10 1-29 1-7 1 46 1 5 1-58 1 54 1-46 1 7 1 27 1 2 1-48 1 5 1 46 1 9 1-76 1 26 1 39 1-1 1-33 1 7 1 25 1-27 1 24" stroke="#4DBEEE" stroke-width="0.65" fill="none" vector-effect="non-scaling-stroke" opacity="0.8"/>
<path transform="matrix(-0.41756 -0.24420 0.00000 0.50000 343.95 433.19)" d="M0 -11l1 19 1 8 1-26 1 1 1 34 1-20 1-18 1 4 1 16 1 18 1-33 1-7 1 27 1 10 1-58 1 7 1 40 1 18 1-45 1 14 1 10 1 0 1-15 1-3 1 12 1 0 1-4 1-11 1 28 1 6 1-51 1 1 1 49 1-14 1-17 1 3 1 37 1-17 1-20 1-3 1 19 1 1 1-22 1 4 1 11 1 12 1-29 1 3 1 21 1 2 1-9 1-25 1 36 1-7 1-12 1-3 1 14 1 17 1-32 1-21 1 42 1 3 1-23 1-11 1 32 1 5 1-36 1 15 1 9 1 5 1-26 1 0 1 22 1 4 1-10 1-5 1 10 1 2 1-17 1 4 1 10 1 3 1-13 1-3 1 32 1-17 1-15 1 6 1 14 1 0 1-44 1 1 1 44 1 6 1-28 1 6 1 18 1 12 1-38 1-19 1 41 1-4 1-8 1-7 1 17 1 4 1-16 1-7 1 33 1 1 1-46 1 18 1 9 1 11 1-20 1-15 1 31 1 0 1-23 1 4 1 21 1 13 1-39 1-2 1 39 1-11 1-24 1-17 1 42 1-2 1-20 1-9 1 46 1-4 1-35 1 6 1 33 1-24 1-10 1-20 1 36 1 15 1-59 1 33 1 25 1-1 1-52 1 14 1 22 1-1 1-18 1 1 1 22 1 8 1-28 1-1 1 22 1-9 1-23 1 10 1 13 1 8 1-14 1-2 1 7 1 10 1-32 1 2 1 40 1-14 1-20 1 3 1 11 1 25 1-39 1 1 1 37 1-19 1-43 1 14 1 42 1-1 1-57 1 32 1 39 1-10 1-55 1 25 1 19 1-4 1-17 1-2 1 13 1 6 1-20 1-4 1 35 1 4 1-45 1 7 1 34 1-13 1-17 1-14 1 34 1 4 1-32 1-21 1 57 1-5 1-17 1-12 1 25 1 2 1-18 1-2 1 17" stroke="#4DBEEE" stroke-width="0.95" fill="none" vector-effect="non-scaling-stroke"/>
<path transform="matrix(-0.41756 -0.24420 0.00000 0.50000 327.62 439.89)" d="M0 10l1-28 1 4 1 36 1-36 1 51 1-27 1-32 1 33 1-29 1 55 1-50 1-7 1 38 1 9 1-69 1 8 1 51 1 18 1-55 1 6 1 24 1-25 1 32 1-31 1 20 1-2 1-8 1 24 1-42 1 52 1-67 1 62 1-66 1 26 1 27 1-24 1 54 1-55 1 27 1-31 1 29 1-28 1 27 1-7 1-20 1 34 1-39 1 5 1 31 1 0 1-15 1 19 1-50 1 23 1 19 1-3 1-20 1 43 1-47 1-28 1 64 1-35 1 31 1-1 1-44 1 50 1-46 1 41 1-23 1 20 1-36 1-1 1 34 1 6 1-19 1-4 1 20 1 4 1-31 1 6 1 13 1-15 1 23 1-35 1 56 1-22 1-26 1 28 1-24 1 26 1-53 1 59 1-59 1 24 1 33 1-26 1 23 1-37 1 53 1-11 1-58 1 28 1 15 1-19 1 25 1 6 1-31 1-3 1 43 1-59 1 62 1-38 1 13 1-13 1 26 1-3 1-44 1 43 1-31 1 4 1 31 1-43 1 53 1 0 1-51 1 40 1-34 1 37 1-59 1 26 1 33 1-49 1 65 1-7 1-53 1 14 1 50 1-34 1-20 1 35 1-64 1-2 1 74 1-44 1 43 1 0 1-69 1 16 1 34 1 0 1-24 1-2 1 33 1 6 1-39 1 38 1-34 1 19 1-31 1 33 1-19 1 3 1 22 1-21 1 11 1 12 1-42 1 0 1 58 1-18 1-29 1 3 1 17 1-24 1 48 1-48 1 52 1-13 1-62 1 16 1 51 1-2 1-69 1 88 1-52 1-32 1 72 1-14 1-34 1 5 1 27 1-29 1 20 1 10 1-32 1-5 1 46 1 4 1-63 1 60 1-48 1 8 1 28 1 2 1-48 1 4 1 50 1 7 1-82 1 40 1 33 1-3 1-35 1 5 1 28 1-27 1 25" stroke="#77AC30" stroke-width="0.65" fill="none" vector-effect="non-scaling-stroke" opacity="0.8"/>
<path transform="matrix(-0.41756 -0.24420 0.00000 0.50000 327.62 439.89)" d="M0 -13l1 22 1 11 1-30 1 1 1 36 1-22 1-18 1 3 1 18 1 16 1-33 1-6 1 27 1 10 1-59 1 7 1 43 1 16 1-45 1 16 1 8 1 1 1-17 1-3 1 14 1-1 1-5 1-10 1 29 1 6 1-55 1 0 1 54 1-14 1-20 1 6 1 36 1-18 1-21 1-1 1 20 1 0 1-22 1 3 1 13 1 11 1-28 1 2 1 21 1 2 1-9 1-27 1 38 1-7 1-12 1-4 1 16 1 18 1-35 1-21 1 44 1 2 1-25 1-11 1 35 1 4 1-37 1 17 1 8 1 6 1-28 1-1 1 25 1 4 1-11 1-6 1 12 1 0 1-16 1 5 1 8 1 4 1-14 1-4 1 35 1-16 1-19 1 6 1 17 1-1 1-44 1 0 1 47 1 4 1-30 1 8 1 18 1 14 1-40 1-20 1 42 1-4 1-9 1-6 1 18 1 3 1-17 1-6 1 33 1 1 1-49 1 21 1 10 1 12 1-22 1-16 1 32 1 1 1-24 1 4 1 22 1 13 1-44 1 2 1 39 1-12 1-23 1-19 1 42 1 1 1-22 1-9 1 47 1-2 1-37 1 6 1 33 1-23 1-11 1-21 1 37 1 14 1-56 1 30 1 29 1-1 1-58 1 18 1 22 1-1 1-20 1 2 1 21 1 10 1-29 1-2 1 23 1-9 1-23 1 11 1 12 1 8 1-14 1-2 1 7 1 11 1-34 1 3 1 40 1-13 1-21 1 3 1 12 1 24 1-40 1 1 1 41 1-19 1-46 1 13 1 42 1 0 1-57 1 30 1 43 1-11 1-57 1 24 1 22 1-4 1-18 1-2 1 13 1 7 1-22 1-4 1 39 1 4 1-47 1 4 1 33 1-8 1-19 1-15 1 36 1 4 1-34 1-17 1 56 1-9 1-15 1-11 1 26 1 1 1-19 1-3 1 19" stroke="#77AC30" stroke-width="0.95" fill="none" vector-effect="non-scaling-stroke"/>
<path transform="matrix(-0.41756 -0.24420 0.00000 0.50000 311.30 446.59)" d="M0 13l1-32 1 5 1 39 1-42 1 56 1-27 1-34 1 33 1-29 1 56 1-54 1-6 1 41 1 7 1-69 1 8 1 54 1-41 1 58 1-56 1 33 1-25 1 30 1-34 1 22 1-2 1-8 1 25 1-41 1 48 1-69 1 70 1-69 1 24 1 28 1-25 1 57 1-57 1 27 1-31 1 29 1-30 1 31 1-7 1-23 1 33 1-35 1 2 1 30 1 1 1-16 1 21 1-51 1 22 1 20 1-1 1-21 1 42 1-46 1-30 1 64 1-33 1 32 1-1 1-47 1 54 1-50 1 40 1-21 1 23 1-36 1-3 1 38 1 2 1-18 1-5 1 22 1 2 1-32 1 20 1-13 1-5 1 29 1-36 1 53 1-18 1-29 1 28 1-22 1 26 1-58 1 63 1-61 1 23 1 35 1-28 1 25 1-36 1 54 1-11 1-61 1 22 1 24 1-20 1 24 1 5 1-31 1-5 1 46 1-58 1 60 1-37 1 14 1-14 1 29 1-6 1-43 1 42 1-30 1 0 1 35 1-48 1 62 1-5 1-51 1 40 1-33 1 37 1-61 1 25 1 35 1-50 1 66 1-2 1-56 1 10 1 55 1-36 1-23 1 40 1-65 1-6 1 77 1-45 1 46 1 1 1-73 1 13 1 37 1 1 1-25 1-3 1 35 1 7 1-43 1 1 1 45 1-18 1-35 1 35 1-22 1 6 1 23 1-11 1-14 1 26 1-44 1-1 1 59 1-18 1-28 1 2 1 20 1-27 1 51 1-49 1 51 1-76 1 63 1-47 1 53 1 4 1-78 1 89 1-57 1-26 1 71 1-8 1-36 1 30 1-30 1 0 1 19 1 10 1-31 1-2 1 44 1 5 1-65 1 65 1-52 1 5 1 31 1 0 1-49 1 5 1 51 1 13 1-94 1 38 1 40 1-2 1-35 1 6 1 28 1-28 1 27" stroke="#7E2F8E" stroke-width="0.65" fill="none" vector-effect="non-scaling-stroke" opacity="0.8"/>
<path transform="matrix(-0.41756 -0.24420 0.00000 0.50000 311.30 446.59)" d="M0 -15l1 23 1 11 1-29 1-1 1 37 1-21 1-18 1 2 1 18 1 22 1-36 1-8 1 28 1 10 1-61 1 8 1 45 1 17 1-49 1 15 1 11 1 0 1-18 1-3 1 16 1-2 1-4 1-14 1 32 1 8 1-56 1-3 1 57 1-15 1-20 1 5 1 36 1-16 1-22 1-4 1 24 1-1 1-22 1 4 1 12 1 12 1-30 1 2 1 23 1 2 1-10 1-30 1 42 1-7 1-13 1-4 1 16 1 19 1-37 1-20 1 48 1-1 1-26 1-10 1 35 1 2 1-36 1 15 1 11 1 4 1-28 1-2 1 28 1 4 1-13 1-4 1 10 1 3 1-19 1 6 1 10 1 1 1-13 1-6 1 38 1-19 1-17 1 6 1 17 1-1 1-44 1 0 1 52 1-1 1-30 1 8 1 18 1 12 1-40 1-18 1 45 1-7 1-8 1-7 1 16 1 6 1-18 1-7 1 35 1 0 1-50 1 21 1 10 1 12 1-21 1-17 1 34 1 1 1-26 1 4 1 22 1 12 1-42 1 1 1 41 1-9 1-28 1-20 1 44 1 2 1-23 1-11 1 50 1-4 1-37 1 7 1 32 1-22 1-11 1-20 1 39 1 11 1-59 1 33 1 28 1 1 1-60 1 17 1 23 1 0 1-20 1 0 1 23 1 10 1-30 1-2 1 25 1-10 1-23 1 11 1 11 1 10 1-16 1-1 1 8 1 9 1-33 1 3 1 43 1-15 1-23 1 3 1 13 1 25 1-42 1 0 1 44 1-17 1-47 1 11 1 43 1-1 1-57 1 30 1 42 1-9 1-59 1 24 1 24 1-4 1-20 1-1 1 13 1 8 1-22 1-6 1 38 1 6 1-49 1 7 1 37 1-12 1-21 1-15 1 37 1 5 1-38 1-15 1 57 1-7 1-17 1-12 1 26 1 2 1-20 1-2 1 20" stroke="#7E2F8E" stroke-width="0.95" fill="none" vector-effect="non-scaling-stroke"/>
<path transform="matrix(-0.41756 -0.24420 0.00000 0.50000 294.98 453.29)" d="M0 16l1-36 1 6 1 43 1-47 1 58 1-26 1-35 1 33 1-31 1 62 1-58 1-6 1 43 1 12 1-79 1 7 1 64 1 11 1-59 1 4 1 30 1 3 1-32 1 1 1 24 1-3 1-9 1 27 1-51 1 59 1-77 1 79 1-73 1 21 1 31 1-28 1 65 1-64 1 29 1-30 1 30 1 0 1-33 1 25 1-22 1 33 1-42 1 4 1 40 1-2 1-24 1 31 1-57 1 46 1-23 1 18 1-21 1 50 1-56 1-30 1 74 1-42 1 35 1-1 1-47 1 54 1-52 1 38 1-18 1 23 1-37 1-3 1 39 1 3 1-21 1-5 1 28 1-1 1-34 1 23 1-17 1-3 1 30 1-43 1 63 1-22 1-31 1 30 1-28 1 39 1-68 1 78 1-74 1 23 1 35 1-27 1 30 1-47 1 64 1-14 1-62 1 31 1 16 1-23 1 26 1 8 1-36 1-6 1 50 1-64 1 69 1-43 1 17 1-16 1 30 1-5 1-45 1 46 1-34 1 1 1 34 1-46 1 65 1-9 1-53 1 41 1-36 1 40 1-59 1 24 1 35 1-48 1 67 1-7 1-60 1 15 1 58 1-36 1-26 1 43 1-69 1-3 1 79 1-46 1 43 1 3 1-78 1 22 1 34 1 0 1-28 1-1 1 34 1-37 1 48 1-47 1 45 1-18 1-34 1 33 1-18 1 5 1 23 1-26 1 15 1 12 1-47 1 2 1 59 1-17 1-31 1 23 1-20 1-5 1 52 1-54 1 56 1-82 1 71 1 4 1-53 1 54 1-76 1 92 1-61 1-29 1 78 1-15 1-37 1 5 1 29 1-33 1 24 1 11 1-36 1-4 1 53 1 7 1-78 1 70 1-54 1 6 1 35 1 2 1-52 1 3 1 53 1 16 1-104 1 52 1 33 1-3 1-36 1 37 1-32 1 0 1 29" stroke="#EDB120" stroke-width="0.65" fill="none" vector-effect="non-scaling-stroke" opacity="0.8"/>
<path transform="matrix(-0.41756 -0.24420 0.00000 0.50000 294.98 453.29)" d="M0 -15l1 23 1 11 1-29 1-1 1 36 1-17 1-23 1 5 1 18 1 25 1-46 1-5 1 33 1 5 1-59 1 9 1 44 1 19 1-51 1 16 1 11 1 2 1-21 1-1 1 15 1-2 1-5 1-11 1 30 1 9 1-55 1-4 1 57 1-15 1-21 1 6 1 33 1-14 1-22 1-3 1 22 1 1 1-25 1 6 1 11 1 13 1-29 1 2 1 22 1 3 1-13 1-29 1 44 1-8 1-15 1-2 1 16 1 18 1-37 1-21 1 45 1 4 1-27 1-9 1 35 1 4 1-39 1 16 1 11 1 4 1-29 1-2 1 30 1 3 1-12 1-6 1 12 1 4 1-22 1 7 1 9 1 4 1-15 1-6 1 37 1-14 1-21 1 6 1 18 1-1 1-44 1 0 1 48 1 2 1-28 1 4 1 19 1 16 1-45 1-18 1 46 1-6 1-9 1-6 1 18 1 3 1-18 1-7 1 34 1 4 1-49 1 18 1 11 1 11 1-22 1-18 1 36 1-1 1-24 1 4 1 24 1 11 1-44 1 0 1 43 1-11 1-28 1-21 1 51 1-1 1-26 1-12 1 56 1-5 1-40 1 4 1 34 1-20 1-12 1-23 1 44 1 13 1-59 1 29 1 32 1-4 1-58 1 18 1 22 1 0 1-20 1 0 1 26 1 8 1-30 1-4 1 25 1-9 1-23 1 10 1 15 1 6 1-16 1 0 1 8 1 10 1-34 1 2 1 48 1-17 1-26 1 3 1 15 1 24 1-43 1 1 1 44 1-12 1-53 1 13 1 43 1 0 1-60 1 30 1 44 1-13 1-59 1 27 1 23 1-1 1-23 1 0 1 15 1 7 1-23 1-5 1 35 1 7 1-45 1 3 1 36 1-9 1-23 1-17 1 42 1 6 1-43 1-14 1 55 1-2 1-20 1-10 1 25 1 4 1-23 1-1 1 20" stroke="#EDB120" stroke-width="0.95" fill="none" vector-effect="non-scaling-stroke"/>
<path transform="matrix(-0.41756 -0.24420 0.00000 0.50000 278.65 459.99)" d="M0 15l1-38 1 8 1 41 1-49 1 62 1-20 1-45 1 40 1-34 1-5 1 73 1-74 1 54 1 7 1-83 1 7 1 71 1 8 1-72 1 13 1 37 1-38 1 46 1-54 1 45 1-9 1-11 1 28 1-51 1 67 1-84 1 81 1-80 1 18 1 42 1-35 1 69 1-70 1 37 1-46 1 46 1-37 1 38 1-6 1-28 1 38 1-46 1 2 1 44 1-2 1-26 1 37 1-64 1 50 1-31 1 25 1-26 1 53 1-58 1-37 1 79 1-42 1 43 1-2 1-52 1 2 1 62 1-13 1-30 1 29 1-48 1 3 1 50 1-4 1-27 1-4 1 25 1 10 1-44 1 28 1-19 1-4 1 35 1-47 1 72 1-17 1-45 1 35 1-34 1 46 1-72 1 78 1-81 1 27 1 39 1-31 1 34 1-69 1 83 1-4 1-76 1 27 1 27 1-26 1 29 1 7 1-37 1 45 1-51 1-18 1 75 1-26 1-20 1 2 1 31 1-6 1-46 1 48 1-39 1 4 1 42 1-58 1 68 1-1 1-62 1 6 1 49 1 1 1-72 1 25 1 40 1-57 1 76 1 1 1-73 1 10 1 74 1-41 1-32 1 49 1-72 1-7 1 91 1-68 1 62 1 4 1-81 1 15 1 44 1-3 1-31 1-4 1 49 1 3 1-59 1 64 1-65 1 38 1-34 1 39 1-28 1 3 1 29 1-8 1-24 1 32 1-52 1 5 1 65 1-19 1-34 1 4 1 21 1-33 1 62 1-68 1 66 1-8 1-76 1 88 1-67 1 66 1-93 1 29 1 71 1-93 1 81 1-4 1-59 1 11 1 37 1-6 1-30 1 39 1-44 1-7 1 66 1-76 1 84 1-81 1 74 1-58 1 43 1 8 1-66 1 3 1 60 1 20 1-121 1 49 1 46 1 10 1-54 1 43 1-35 1-2 1 34" stroke="#D95319" stroke-width="0.65" fill="none" vector-effect="non-scaling-stroke" opacity="0.8"/>
<path transform="matrix(-0.41756 -0.24420 0.00000 0.50000 278.65 459.99)" d="M0 -15l1 26 1 10 1-34 1-3 1 44 1-18 1-27 1 5 1 20 1 24 1-47 1-5 1 38 1 4 1-60 1 7 1 50 1 15 1-54 1 16 1 14 1 7 1-28 1-6 1 25 1-5 1-6 1-15 1 34 1 12 1-60 1-4 1 64 1-17 1-27 1 10 1 37 1-18 1-26 1 1 1 22 1 1 1-26 1 4 1 17 1 12 1-37 1 5 1 26 1 4 1-20 1-24 1 47 1-9 1-21 1 0 1 18 1 16 1-36 1-23 1 49 1 3 1-30 1-6 1 37 1 4 1-42 1 14 1 15 1 2 1-26 1-6 1 29 1 6 1-15 1-4 1 11 1 2 1-20 1 8 1 10 1 4 1-16 1-10 1 46 1-20 1-23 1 8 1 19 1-4 1-47 1 5 1 64 1-13 1-28 1 4 1 19 1 21 1-51 1-16 1 48 1-7 1-12 1-5 1 18 1 5 1-21 1-9 1 39 1 0 1-46 1 16 1 13 1 10 1-22 1-18 1 38 1-4 1-23 1 4 1 26 1 10 1-48 1 1 1 47 1-9 1-34 1-17 1 50 1-2 1-26 1-12 1 56 1-5 1-42 1 5 1 35 1-19 1-17 1-17 1 45 1 13 1-71 1 36 1 33 1 0 1-64 1 16 1 31 1-4 1-19 1-3 1 25 1 13 1-30 1-16 1 36 1-8 1-26 1 10 1 16 1 7 1-16 1-2 1 10 1 11 1-36 1 1 1 48 1-17 1-26 1 2 1 19 1 26 1-47 1-2 1 50 1-12 1-58 1 13 1 45 1 1 1-63 1 29 1 50 1-15 1-60 1 28 1 28 1-6 1-25 1 0 1 18 1 6 1-25 1-5 1 36 1 13 1-54 1 1 1 43 1-11 1-24 1-16 1 42 1 7 1-44 1-10 1 54 1-2 1-27 1-5 1 26 1 2 1-25 1-2 1 23" stroke="#D95319" stroke-width="0.95" fill="none" vector-effect="non-scaling-stroke"/>
<path transform="matrix(-0.41756 -0.24420 0.00000 0.50000 262.32 466.69)" d="M0 -24l1 45 1-52 1 68 1-73 1 85 1-13 1-67 1 52 1-46 1-13 1 91 1-105 1 91 1 10 1-101 1 0 1 96 1 1 1-80 1 8 1 49 1-63 1 82 1-2 1-70 1 39 1-17 1 38 1-67 1 80 1-88 1 88 1-92 1 93 1-76 1 14 1 71 1-76 1 45 1-51 1 52 1 1 1-52 1 46 1-36 1 50 1-74 1 3 1 67 1-41 1 53 1 0 1-78 1 21 1 52 1-55 1 41 1-59 1 84 1-104 1 98 1-81 1 74 1-5 1-67 1 79 1-80 1 17 1 54 1-3 1-66 1 10 1 54 1 1 1-35 1-7 1 36 1 12 1-64 1 18 1 22 1-25 1 37 1-57 1 85 1-73 1 60 1-61 1 55 1 3 1-82 1 104 1-107 1 79 1-47 1 3 1 46 1-75 1 100 1-19 1-84 1 26 1 43 1-35 1 34 1 10 1-58 1 76 1-75 1-17 1 93 1-33 1-31 1 8 1 35 1-59 1 59 1-6 1-46 1-2 1 58 1-68 1 81 1-4 1-67 1-7 1 70 1 6 1-93 1 23 1 69 1-76 1 80 1 8 1-102 1 21 1 86 1-44 1-33 1 56 1-84 1-4 1 98 1-87 1 91 1-8 1-97 1 80 1-70 1 64 1-39 1-14 1 64 1-66 1 73 1 10 1-84 1 52 1-46 1 53 1-44 1 42 1-34 1 29 1-36 1-18 1 66 1-66 1 77 1-20 1-38 1 0 1 40 1-55 1 80 1-91 1 92 1-7 1-92 1 94 1-86 1 89 1-99 1 24 1 84 1-105 1 97 1-4 1-77 1 60 1-52 1-6 1 51 1 7 1-56 1-5 1 80 1-95 1 99 1-89 1 84 1-10 1-66 1 71 1-79 1-2 1 76 1 27 1-138 1 49 1 69 1-10 1-58 1 56 1-49 1 48 1-57" stroke="#0072BD" stroke-width="0.65" fill="none" vector-effect="non-scaling-stroke" opacity="0.8"/>
<path transform="matrix(-0.41756 -0.24420 0.00000 0.50000 262.32 466.69)" d="M0 -16l1 30 1 6 1-37 1-9 1 65 1-23 1-43 1 12 1 27 1 32 1-70 1-6 1 63 1-1 1-70 1 3 1 68 1 5 1-66 1 20 1 26 1 11 1-56 1 3 1 41 1-10 1-10 1-22 1 45 1 17 1-72 1-1 1 71 1-10 1-47 1 14 1 42 1-16 1-33 1-8 1 42 1 1 1-37 1 5 1 22 1 9 1-41 1 1 1 45 1 2 1-33 1-16 1 43 1-4 1-27 1 0 1 22 1 23 1-49 1-24 1 69 1-6 1-42 1-3 1 41 1 11 1-53 1 15 1 18 1 5 1-32 1-5 1 37 1 0 1-20 1-2 1 17 1 0 1-24 1 7 1 15 1 4 1-23 1-12 1 58 1-8 1-46 1 8 1 29 1-2 1-60 1 5 1 74 1-13 1-33 1-1 1 30 1 20 1-72 1-4 1 59 1-8 1-21 1-2 1 23 1 7 1-35 1-9 1 56 1-2 1-59 1 22 1 18 1 6 1-22 1-23 1 45 1-3 1-29 1 2 1 37 1 7 1-54 1 2 1 52 1-8 1-50 1-8 1 60 1-6 1-38 1-4 1 60 1 1 1-58 1 6 1 46 1-21 1-19 1-31 1 59 1 19 1-86 1 39 1 47 1-7 1-72 1 11 1 46 1-7 1-24 1 1 1 32 1 12 1-40 1-18 1 54 1-18 1-31 1 9 1 23 1 7 1-21 1-4 1 18 1 9 1-42 1 2 1 50 1-13 1-31 1 1 1 25 1 24 1-48 1-10 1 60 1-18 1-59 1 17 1 59 1-5 1-77 1 29 1 56 1-8 1-69 1 14 1 54 1-13 1-30 1 1 1 24 1 6 1-33 1-9 1 51 1 15 1-74 1-1 1 63 1-4 1-46 1-8 1 48 1 6 1-52 1-6 1 58 1-2 1-42 1 1 1 39 1-3 1-31 1-3 1 28" stroke="#0072BD" stroke-width="0.95" fill="none" vector-effect="non-scaling-stroke"/>
<text class="k3 e" x="133.50" y="444.41">-0.2</text>
<text class="k3 e" x="133.50" y="429.00">-0.1</text>
<text class="k3 e" x="133.50" y="413.59">0</text>
<text class="k3 e" x="133.50" y="398.18">0.1</text>
<text class="k3 e" x="133.50" y="382.78">0.2</text>
<text class="k3 e" x="241.70" y="516.40">0</text>
<text class="k3 e" x="214.32" y="500.80">0.1</text>
<text class="k3 e" x="186.95" y="485.20">0.2</text>
<text class="k3 e" x="159.58" y="469.60">0.3</text>
<text class="k3 e" x="132.20" y="454.00">0.4</text>
<text class="k3" x="270.02" y="510.90">Original signal</text>
<text class="k3" x="286.35" y="504.20">M=2</text>
<text class="k3" x="302.68" y="497.50">M=3</text>
<text class="k3" x="319.00" y="490.80">M=4</text>
<text class="k3" x="335.32" y="484.10">M=5</text>
<text class="k3" x="351.65" y="477.40">M=6</text>
<text class="k3" x="367.98" y="470.70">M=7</text>
<text class="k3 m" x="188.80" y="511.30">Time</text>
<text class="k3 m" transform="translate(116.09 407.45) rotate(-90)">Amplitude</text>
<path d="M567.70 505.00L698.40 451.30M698.40 451.30L698.40 379.70M541.05 489.40L671.75 435.70M671.75 435.70L671.75 364.10M514.40 473.80L645.10 420.10M645.10 420.10L645.10 348.50M487.75 458.20L618.45 404.50M618.45 404.50L618.45 332.90M461.10 442.60L591.80 388.90M591.80 388.90L591.80 317.30M567.70 505.00L461.10 442.60M461.10 442.60L461.10 371.00M584.04 498.29L477.44 435.89M477.44 435.89L477.44 364.29M600.38 491.57L493.77 429.18M493.77 429.18L493.77 357.57M616.71 484.86L510.11 422.46M510.11 422.46L510.11 350.86M633.05 478.15L526.45 415.75M526.45 415.75L526.45 344.15M649.39 471.44L542.79 409.04M542.79 409.04L542.79 337.44M665.73 464.73L559.12 402.33M559.12 402.33L559.12 330.73M682.06 458.01L575.46 395.61M575.46 395.61L575.46 324.01M698.40 451.30L591.80 388.90M591.80 388.90L591.80 317.30M461.10 442.60L591.80 388.90M591.80 388.90L698.40 451.30M461.10 424.70L591.80 371.00M591.80 371.00L698.40 433.40M461.10 406.80L591.80 353.10M591.80 353.10L698.40 415.50M461.10 388.90L591.80 335.20M591.80 335.20L698.40 397.60M461.10 371.00L591.80 317.30M591.80 317.30L698.40 379.70M461.10 371.00L591.80 317.30M591.80 317.30L698.40 379.70" stroke="#e6e6e6" stroke-width="0.6" fill="none"/>
<path d="M461.10 442.60L461.10 371.00M461.10 442.60L567.70 505.00M567.70 505.00L698.40 451.30M461.10 442.60L458.51 443.66M461.10 424.70L458.51 425.76M461.10 406.80L458.51 407.86M461.10 388.90L458.51 389.96M461.10 371.00L458.51 372.06M567.70 505.00L564.74 506.22M541.05 489.40L538.09 490.62M514.40 473.80L511.44 475.02M487.75 458.20L484.79 459.42M461.10 442.60L458.14 443.82M584.04 498.29L586.80 499.90M600.38 491.57L603.14 493.19M616.71 484.86L619.47 486.48M633.05 478.15L635.81 479.77M649.39 471.44L652.15 473.05M665.73 464.73L668.49 466.34M682.06 458.01L684.82 459.63" stroke="#333" stroke-width="0.75" fill="none"/>
<path transform="matrix(-0.41717 -0.24420 0.00000 0.50000 682.06 422.21)" d="M0 -3l1 5 1-5 1 6 1 3 1-8 1-9 1 18 1-1 1-11 1 0 1 13 1-14 1 12 1-8 1 4 1 3 1-9 1 13 1-13 1 9 1-12 1 10 1-7 1-7 1 17 1-12 1 13 1-4 1-7 1 13 1-14 1 16 1-19 1 15 1-13 1 2 1 10 1 5 1-17 1 12 1-13 1 13 1-11 1 12 1-11 1 0 1 8 1-10 1 11 1-1 1-7 1-2 1 11 1-9 1 7 1 3 1-14 1 11 1-13 1 15 1-11 1 12 1-11 1 10 1-10 1 0 1 10 1-1 1-11 1 15 1-15 1 10 1-9 1 14 1-14 1-4 1 16 1-12 1 11 1-10 1 10 1-13 1 13 1-11 1 9 1 1 1-12 1 15 1-14 1 2 1 12 1-13 1 12 1-4 1-6 1-1 1 9 1 0 1-8 1-6 1 14 1-10 1 11 1-3 1-6 1-4 1 14 1-17 1 18 1-13 1 10 1 1 1-13 1 16 1-14 1 11 1-10 1 8 1-9 1 1 1 10 1-1 1-9 1 9 1-10 1 1 1 7 1-6 1 7 1-10 1 10 1-1 1-8 1 9 1-9 1-3 1 13 1 3 1-14 1 0 1 11 1 0 1-9 1 6 1-4 1-2 1 7 1-6 1 7 1 0 1-8 1 0 1 7 1-9 1 10 1-10 1 13 1-12 1 9 1-11 1 15 1-2 1-15 1 6 1 7 1 0 1-7 1-2 1 8 1-6 1 5 1 3 1-10 1 12 1-12 1 0 1 9 1 0 1-7 1 8 1-10 1 8 1-8 1 10 1-8 1-1 1 8 1-8 1 9 1 3 1-14 1 9 1-6 1-4 1 12 1-12 1 13 1-2 1-8 1 2 1 6 1-1 1-6 1-2 1 8 1-5 1 8 1-10 1 7 1-10 1 13 1-3 1-7 1 6 1-4 1 5 1-5" stroke="#A2142F" stroke-width="0.65" fill="none" vector-effect="non-scaling-stroke" opacity="0.8"/>
<path transform="matrix(-0.41717 -0.24420 0.00000 0.50000 682.06 422.21)" d="M0 -1l1 2 1 1 1-4 1 0 1 7 1-2 1-8 1 1 1 6 1 2 1-8 1-1 1 8 1-2 1-3 1-2 1 7 1 3 1-9 1-1 1 7 1-1 1-5 1-3 1 9 1 1 1-8 1 2 1 3 1 2 1-5 1-1 1 9 1-2 1-8 1 2 1 6 1 2 1-10 1 0 1 8 1-1 1-6 1 0 1 8 1-2 1-6 1 0 1 6 1-2 1-3 1-2 1 8 1-1 1-5 1-2 1 7 1 0 1-8 1 2 1 6 1 1 1-7 1 1 1 5 1 1 1-5 1-2 1 6 1 0 1-8 1 2 1 6 1 0 1-6 1 0 1 8 1 0 1-9 1 1 1 7 1 0 1-10 1 2 1 6 1 2 1-7 1-1 1 9 1 0 1-8 1 0 1 6 1 0 1-5 1 0 1 4 1 1 1-5 1-4 1 10 1-2 1-5 1 1 1 4 1 1 1-8 1 0 1 9 1-1 1-6 1-1 1 8 1 2 1-10 1 2 1 5 1 0 1-6 1 0 1 6 1 0 1-5 1-1 1 6 1-1 1-4 1 0 1 5 1-1 1-4 1-1 1 6 1 0 1-6 1-1 1 7 1-1 1-6 1 2 1 5 1 1 1-7 1 2 1 3 1 0 1-5 1 1 1 4 1 0 1-4 1 0 1 3 1 3 1-6 1-3 1 9 1-1 1-4 1-3 1 8 1 1 1-10 1 3 1 5 1-1 1-4 1-1 1 6 1-1 1-4 1-1 1 6 1 3 1-10 1 2 1 4 1 0 1-5 1 0 1 7 1-2 1-5 1 1 1 5 1-1 1-5 1 1 1 6 1 2 1-11 1 3 1 4 1 1 1-6 1-1 1 5 1 1 1-5 1 2 1 3 1 0 1-4 1-1 1 5 1 1 1-4 1-1 1 4 1 0 1-6 1 2 1 4 1 0 1-3 1 0 1 2" stroke="#A2142F" stroke-width="0.95" fill="none" vector-effect="non-scaling-stroke"/>
<path transform="matrix(-0.41717 -0.24420 0.00000 0.50000 665.73 428.93)" d="M0 -2l1 4 1-5 1 6 1-7 1 10 1-15 1 13 1-9 1 10 1-10 1 12 1-1 1-12 1 4 1 5 1 2 1-11 1 3 1 12 1-4 1-12 1 10 1-6 1 6 1-14 1 5 1 14 1-5 1-7 1 14 1-14 1 16 1-18 1 13 1-13 1 11 1-7 1 15 1-19 1 12 1-14 1 12 1-9 1 12 1-12 1 0 1 10 1-12 1 11 1 0 1-7 1-3 1 12 1-9 1 7 1 4 1-14 1 10 1-16 1 17 1-8 1 11 1-12 1 1 1 10 1-11 1 11 1-2 1-10 1-3 1 15 1-2 1-10 1 14 1-14 1 12 1-15 1 1 1 14 1-12 1 12 1-15 1 14 1-11 1 8 1 2 1-11 1 15 1-16 1 3 1 13 1-4 1-9 1 7 1-6 1 0 1 6 1 3 1-8 1-8 1 13 1-9 1 10 1-2 1-5 1-3 1 13 1-18 1 18 1-13 1 12 1-13 1 14 1 1 1-14 1 13 1-11 1 9 1-10 1 0 1 10 1 1 1-12 1 11 1-10 1 1 1 8 1-8 1 9 1-10 1 9 1 0 1-8 1-2 1 9 1-9 1 11 1 3 1-14 1 1 1 9 1-8 1 10 1-9 1 5 1-6 1 6 1-5 1 6 1-5 1 6 1-7 1 5 1-7 1 10 1-12 1 13 1-10 1 9 1-10 1 12 1-1 1-15 1 5 1 8 1 0 1-8 1 7 1-9 1 9 1-6 1 8 1-10 1 12 1-13 1 9 1-7 1 0 1 8 1 1 1-9 1 8 1-8 1 8 1-7 1-2 1 9 1 2 1-9 1 11 1-14 1 10 1-7 1-3 1 10 1-13 1 13 1-2 1-7 1 2 1 8 1-2 1-5 1-3 1 8 1-5 1 9 1-10 1 6 1-10 1 13 1-10 1 7 1-1 1-4 1 0 1 4" stroke="#4DBEEE" stroke-width="0.65" fill="none" vector-effect="non-scaling-stroke" opacity="0.8"/>
<path transform="matrix(-0.41717 -0.24420 0.00000 0.50000 665.73 428.93)" d="M0 -1l1 3 1 0 1-4 1-1 1 8 1-1 1-9 1 2 1 7 1-1 1-7 1 0 1 6 1 0 1-4 1-2 1 7 1 2 1-7 1-2 1 7 1-1 1-4 1-3 1 7 1 2 1-8 1 2 1 4 1 0 1-4 1-1 1 8 1-1 1-8 1 2 1 5 1 3 1-9 1-1 1 8 1-1 1-7 1 2 1 6 1-1 1-5 1 0 1 5 1-1 1-3 1-3 1 8 1-1 1-5 1-3 1 8 1 0 1-7 1 1 1 6 1 0 1-5 1 0 1 5 1 1 1-5 1-2 1 6 1 0 1-6 1 0 1 6 1 0 1-6 1 0 1 8 1-1 1-9 1 1 1 8 1 0 1-9 1 2 1 5 1 1 1-7 1 0 1 9 1-1 1-7 1 0 1 6 1 0 1-5 1 0 1 4 1 1 1-4 1-4 1 7 1 0 1-5 1 1 1 4 1 1 1-8 1-1 1 11 1 0 1-9 1-1 1 10 1 0 1-9 1 1 1 6 1 0 1-5 1-1 1 5 1 1 1-6 1-1 1 7 1-1 1-4 1-1 1 6 1-1 1-5 1 0 1 5 1 1 1-6 1-2 1 9 1-1 1-8 1 2 1 6 1 1 1-7 1 2 1 3 1-1 1-3 1 0 1 4 1 0 1-3 1-1 1 3 1 2 1-5 1-3 1 10 1-2 1-5 1-2 1 8 1 1 1-11 1 4 1 5 1-1 1-4 1-1 1 5 1 0 1-4 1-1 1 5 1 4 1-10 1 3 1 3 1 0 1-5 1 0 1 7 1-1 1-7 1 2 1 5 1-1 1-5 1 0 1 8 1 2 1-12 1 3 1 4 1 1 1-7 1 1 1 4 1 1 1-5 1 2 1 3 1 0 1-4 1-1 1 5 1 2 1-5 1-1 1 4 1 1 1-6 1 1 1 4 1 0 1-3 1 0 1 2" stroke="#4DBEEE" stroke-width="0.95" fill="none" vector-effect="non-scaling-stroke"/>
<path transform="matrix(-0.41717 -0.24420 0.00000 0.50000 649.39 435.64)" d="M0 -2l1 4 1-6 1 8 1 4 1-16 1 16 1-17 1 14 1-9 1-1 1 11 1 0 1-11 1 10 1-8 1 8 1-12 1 17 1-16 1 11 1-12 1 12 1-8 1-12 1 24 1-16 1 16 1-13 1 6 1 9 1-20 1 5 1 18 1-8 1-11 1 11 1-9 1 18 1-20 1 13 1-19 1 21 1-19 1 16 1-13 1 10 1-11 1 0 1 10 1-5 1 5 1-8 1 10 1-9 1 8 1 6 1-18 1 14 1-18 1 20 1-14 1 16 1-14 1 13 1-14 1 1 1 13 1-13 1 8 1-13 1 15 1-13 1 14 1 0 1-13 1 14 1-16 1 0 1 17 1-16 1 15 1-18 1 16 1-11 1 9 1 1 1-11 1 16 1-17 1 2 1 15 1-5 1-10 1 1 1 7 1-7 1 8 1 3 1-10 1-9 1 14 1-11 1 13 1 0 1-7 1-4 1 15 1-22 1 23 1-17 1 15 1-14 1 16 1 0 1-17 1 16 1-13 1 10 1-11 1 1 1 9 1 2 1-10 1 10 1-13 1 4 1 8 1-9 1 10 1-3 1-9 1 11 1-12 1 12 1-12 1-1 1 16 1-15 1 14 1-2 1-11 1 1 1 12 1-5 1-6 1 0 1 6 1-5 1 6 1-6 1 7 1-2 1-5 1 8 1-9 1 12 1-17 1 15 1-10 1-3 1 13 1 0 1-16 1 15 1-8 1 7 1-9 1 8 1-10 1 11 1-8 1 8 1-10 1 13 1-14 1 3 1 7 1-8 1 10 1 1 1-11 1 10 1-11 1 2 1 9 1 0 1-10 1 13 1-11 1 12 1-17 1 13 1-10 1 10 1-12 1 8 1-12 1 5 1 11 1 1 1-10 1 8 1-7 1-2 1 7 1-4 1 9 1-12 1 9 1 0 1-12 1 11 1-6 1 1 1 4 1-5 1 6" stroke="#77AC30" stroke-width="0.65" fill="none" vector-effect="non-scaling-stroke" opacity="0.8"/>
<path transform="matrix(-0.41717 -0.24420 0.00000 0.50000 649.39 435.64)" d="M0 -1l1 3 1 0 1-5 1 0 1 9 1-3 1-8 1 2 1 7 1 0 1-7 1 0 1 5 1 0 1-4 1-3 1 8 1 3 1-10 1-1 1 9 1-1 1-6 1-1 1 8 1 0 1-8 1 2 1 4 1 3 1-8 1 0 1 6 1 2 1-9 1 1 1 6 1 4 1-11 1 0 1 8 1 1 1-12 1 3 1 9 1-2 1-5 1 0 1 4 1-1 1-3 1-1 1 5 1 2 1-6 1-3 1 8 1 1 1-10 1 3 1 7 1-1 1-6 1 0 1 7 1-1 1-5 1-1 1 6 1 0 1-7 1 0 1 8 1 0 1-8 1 0 1 10 1-1 1-11 1 1 1 10 1-1 1-10 1 2 1 7 1 1 1-8 1-1 1 10 1 1 1-9 1-1 1 7 1 0 1-6 1 1 1 5 1-1 1-3 1-3 1 6 1 1 1-5 1 0 1 5 1 0 1-8 1-3 1 13 1 0 1-9 1-2 1 12 1-1 1-8 1 0 1 6 1 0 1-6 1 0 1 6 1 0 1-6 1 0 1 6 1-1 1-5 1-1 1 7 1 0 1-6 1 0 1 6 1 1 1-7 1-2 1 10 1-1 1-10 1 3 1 7 1 0 1-7 1 1 1 4 1 0 1-4 1 0 1 4 1-1 1-2 1 0 1 2 1 2 1-5 1-5 1 13 1-2 1-7 1-1 1 8 1 1 1-11 1 3 1 6 1 0 1-5 1-1 1 5 1 0 1-4 1-1 1 6 1 4 1-11 1 2 1 4 1 1 1-6 1 0 1 7 1-1 1-7 1 1 1 7 1-1 1-6 1 1 1 7 1 2 1-13 1 3 1 5 1 2 1-9 1 1 1 5 1 1 1-5 1 1 1 4 1 1 1-5 1-1 1 5 1 2 1-5 1-2 1 6 1 0 1-6 1 1 1 4 1-1 1-2 1-1 1 3" stroke="#77AC30" stroke-width="0.95" fill="none" vector-effect="non-scaling-stroke"/>
<path transform="matrix(-0.41717 -0.24420 0.00000 0.50000 633.05 442.35)" d="M0 -3l1 5 1-7 1 10 1 7 1-27 1 24 1-19 1 4 1 14 1-15 1 14 1-15 1 16 1-2 1-11 1 12 1-15 1-6 1 31 1-26 1 16 1 1 1-13 1-15 1 34 1-23 1 18 1-13 1 7 1 12 1-29 1 30 1-27 1 22 1-19 1 17 1-19 1 28 1-33 1 26 1-25 1 32 1-33 1 3 1 23 1-5 1-11 1-3 1 15 1-4 1-7 1-2 1 15 1-13 1 11 1 2 1-22 1-1 1 24 1 4 1-20 1 16 1-19 1 21 1-21 1 5 1 14 1-3 1-12 1-6 1 25 1-24 1 19 1-4 1-15 1 0 1 21 1-21 1 20 1-20 1 18 1-18 1 21 1-17 1 12 1 3 1-16 1 17 1-17 1 19 1-20 1 0 1 15 1-12 1 10 1-11 1 11 1 5 1-15 1-11 1 26 1-20 1 19 1-2 1-11 1-4 1 17 1-25 1 28 1-4 1-18 1 1 1 18 1 4 1-24 1 20 1-16 1 13 1-12 1-4 1 18 1-2 1-11 1 12 1-18 1 5 1 13 1-13 1 12 1-14 1 14 1 1 1-18 1 18 1-14 1-6 1 23 1-21 1 19 1-17 1 18 1-16 1 14 1-2 1-9 1 0 1 8 1-7 1 8 1 0 1-9 1-1 1 9 1 4 1-17 1 22 1-28 1 23 1-14 1-5 1 19 1-1 1-19 1 19 1-10 1 8 1-10 1-2 1 12 1 0 1-10 1 12 1-12 1 14 1-17 1 1 1 11 1-9 1 11 1 1 1-14 1 14 1-16 1 17 1-14 1 13 1-12 1 14 1-15 1 16 1-19 1 16 1-12 1-5 1 17 1-20 1 19 1-14 1 16 1 0 1-15 1 1 1 12 1-13 1 10 1-7 1 13 1-18 1 15 1-16 1 17 1-3 1-9 1 3 1 5 1-8 1 11" stroke="#7E2F8E" stroke-width="0.65" fill="none" vector-effect="non-scaling-stroke" opacity="0.8"/>
<path transform="matrix(-0.41717 -0.24420 0.00000 0.50000 633.05 442.35)" d="M0 -2l1 4 1 1 1-7 1-1 1 13 1-1 1-15 1 4 1 8 1 1 1-9 1-1 1 9 1-2 1-5 1-1 1 8 1 4 1-14 1 0 1 12 1-3 1-7 1-6 1 18 1-2 1-12 1 4 1 4 1 7 1-15 1-1 1 13 1 0 1-11 1 1 1 11 1 2 1-16 1 2 1 9 1 6 1-18 1 3 1 11 1-2 1-8 1 1 1 6 1-1 1-4 1-2 1 8 1 0 1-7 1-4 1 12 1 1 1-14 1 3 1 10 1 1 1-13 1 2 1 11 1 0 1-9 1-1 1 8 1 3 1-14 1 1 1 11 1-1 1-8 1 0 1 11 1-1 1-13 1 0 1 13 1-1 1-12 1 3 1 7 1 3 1-12 1 1 1 11 1 2 1-13 1 0 1 11 1-3 1-7 1 2 1 5 1 2 1-9 1-3 1 12 1-1 1-9 1 2 1 6 1 1 1-10 1-6 1 19 1-1 1-12 1 0 1 13 1 1 1-14 1 2 1 8 1 0 1-7 1-1 1 8 1 0 1-6 1-2 1 8 1-1 1-6 1-1 1 7 1 1 1-9 1 2 1 7 1 1 1-9 1-4 1 14 1-1 1-12 1 2 1 10 1 0 1-10 1 3 1 4 1 0 1-5 1 1 1 5 1 0 1-6 1 1 1 4 1 2 1-7 1-5 1 14 1-1 1-8 1-2 1 10 1 0 1-11 1 3 1 7 1-1 1-6 1 0 1 6 1 0 1-6 1-1 1 7 1 2 1-10 1 1 1 7 1 1 1-8 1 0 1 8 1 0 1-9 1 1 1 10 1-1 1-9 1 0 1 10 1 2 1-14 1 3 1 6 1 1 1-12 1 3 1 7 1 2 1-9 1 3 1 6 1-1 1-5 1-2 1 6 1 4 1-8 1-2 1 9 1-1 1-9 1 2 1 5 1 0 1-4 1-1 1 5" stroke="#7E2F8E" stroke-width="0.95" fill="none" vector-effect="non-scaling-stroke"/>
<path transform="matrix(-0.41717 -0.24420 0.00000 0.50000 616.71 449.06)" d="M0 -4l1 8 1-10 1 13 1-28 1 36 1-34 1 37 1-7 1-21 1-5 1 26 1-30 1 32 1-5 1-13 1 14 1-19 1-13 1 48 1-36 1 20 1 2 1-19 1-15 1 46 1-34 1 20 1-5 1-10 1 29 1-45 1 45 1-45 1 36 1-24 1-4 1 27 1 12 1-48 1 38 1-33 1 40 1-45 1 6 1 33 1-7 1-19 1-1 1 21 1-4 1-13 1-4 1 27 1-22 1 16 1-33 1 38 1-35 1 34 1 4 1-27 1 22 1-30 1 32 1-28 1 7 1 19 1-25 1 25 1 8 1-38 1 7 1 27 1-2 1-31 1 31 1-30 1 4 1 25 1-28 1 24 1-22 1 25 1-3 1-18 1 25 1-28 1 22 1-19 1 25 1-29 1-1 1 25 1-6 1-11 1-2 1 14 1 7 1-25 1-11 1 40 1-1 1-29 1 21 1-15 1-5 1 25 1-38 1 46 1-11 1-26 1 26 1-20 1 29 1-35 1 25 1-19 1 16 1-14 1-8 1 30 1-5 1-18 1-7 1 23 1-16 1 16 1-15 1 12 1 6 1-23 1 21 1-25 1 25 1-17 1-10 1 30 1-26 1 25 1-22 1 24 1-22 1 18 1-4 1-9 1-2 1 12 1 1 1-12 1 16 1-18 1-1 1 15 1 6 1-25 1 34 1-41 1 30 1-20 1-7 1 28 1-4 1-24 1 27 1-17 1 12 1-12 1-4 1 16 1-12 1 13 1 3 1-16 1 17 1-21 1 0 1 17 1 0 1-14 1 15 1-16 1 18 1-23 1 2 1 22 1-1 1-16 1 17 1-21 1 21 1-21 1 3 1 17 1-25 1 28 1-28 1 26 1 0 1-23 1 21 1-18 1 4 1 12 1-16 1 14 1-12 1 20 1-26 1 21 1-25 1 31 1-7 1-14 1 3 1 8 1-12 1 15" stroke="#EDB120" stroke-width="0.65" fill="none" vector-effect="non-scaling-stroke" opacity="0.8"/>
<path transform="matrix(-0.41717 -0.24420 0.00000 0.50000 616.71 449.06)" d="M0 -3l1 6 1 1 1-9 1-1 1 16 1-1 1-21 1 6 1 14 1 1 1-14 1-5 1 20 1-6 1-8 1-1 1 10 1 9 1-23 1 0 1 16 1-4 1-7 1-12 1 28 1-5 1-14 1 4 1 6 1 7 1-20 1-1 1 24 1-6 1-14 1-1 1 19 1 1 1-22 1 2 1 12 1 7 1-20 1 2 1 17 1-4 1-12 1 1 1 13 1-5 1-6 1-6 1 16 1-2 1-10 1-3 1 14 1 4 1-22 1 5 1 13 1 3 1-17 1 1 1 16 1-2 1-11 1-3 1 13 1 5 1-24 1 6 1 14 1-1 1-12 1 1 1 15 1-2 1-18 1 2 1 16 1 0 1-18 1 5 1 9 1 7 1-20 1 3 1 13 1 4 1-18 1 0 1 17 1-6 1-9 1 1 1 9 1 3 1-15 1-4 1 20 1-1 1-15 1 3 1 8 1 2 1-14 1-7 1 24 1-2 1-14 1 0 1 16 1 1 1-18 1 2 1 10 1 0 1-7 1-4 1 15 1-2 1-10 1-1 1 10 1 0 1-9 1-1 1 9 1 2 1-14 1 3 1 12 1-1 1-12 1-4 1 17 1 0 1-15 1 0 1 14 1 0 1-12 1 3 1 6 1 0 1-6 1-1 1 8 1 0 1-8 1 0 1 8 1 3 1-12 1-4 1 18 1-2 1-13 1 1 1 13 1-3 1-10 1 1 1 9 1-1 1-8 1 0 1 8 1 0 1-8 1-1 1 9 1 2 1-13 1 0 1 13 1-1 1-9 1 0 1 9 1-1 1-9 1 0 1 13 1-2 1-11 1 0 1 11 1 1 1-13 1 1 1 9 1 3 1-16 1 2 1 10 1 4 1-14 1 3 1 9 1-1 1-8 1-1 1 9 1 2 1-9 1-3 1 13 1-1 1-13 1 2 1 9 1 0 1-6 1-2 1 7" stroke="#EDB120" stroke-width="0.95" fill="none" vector-effect="non-scaling-stroke"/>
<path transform="matrix(-0.41717 -0.24420 0.00000 0.50000 600.38 455.77)" d="M0 -6l1 11 1-13 1 16 1-35 1 47 1-50 1 59 1-9 1-33 1-4 1 36 1-45 1 49 1-12 1-18 1 20 1-26 1-23 1 68 1-49 1 29 1-22 1 24 1-45 1 60 1-47 1 29 1-5 1-15 1 39 1-58 1 64 1-70 1 55 1-34 1 34 1-39 1 52 1-70 1 56 1-48 1 58 1-61 1 9 1 45 1-36 1 28 1-31 1 32 1-9 1-15 1 27 1-40 1 38 1-25 1-25 1 57 1-55 1 49 1 5 1-39 1 40 1-43 1 41 1-40 1 9 1 31 1-38 1 32 1-40 1 56 1-44 1 42 1-8 1-43 1 42 1-45 1 8 1 31 1-33 1 30 1 7 1-38 1 31 1-21 1 32 1-39 1 29 1-23 1 36 1-43 1 2 1 36 1-12 1-17 1-1 1 18 1 10 1-33 1-20 1 59 1-4 1-39 1 9 1 21 1-28 1 35 1-60 1 67 1-47 1 35 1-26 1 26 1 19 1-51 1 7 1 24 1-6 1-17 1-8 1 37 1-5 1-27 1-7 1 32 1-22 1 20 1-21 1 20 1-26 1 31 1 0 1-36 1 33 1-24 1-10 1 36 1-30 1 33 1-30 1 35 1-31 1 22 1-3 1-15 1-4 1 19 1-15 1 15 1 7 1-29 1 2 1 24 1 6 1-36 1 45 1-49 1 37 1-26 1-11 1 38 1-7 1-34 1 40 1-26 1 2 1 15 1-20 1 21 1-19 1 20 1 4 1-23 1 22 1-25 1 0 1 25 1-23 1 21 1-1 1-19 1 22 1-29 1 33 1-30 1 26 1-22 1 28 1-31 1 28 1-29 1 4 1 23 1-35 1 38 1-35 1 36 1 1 1-35 1 29 1-21 1-1 1 19 1-22 1 21 1-16 1 25 1-35 1 31 1-39 1 43 1-6 1-20 1 16 1-13 1-5 1 20" stroke="#D95319" stroke-width="0.65" fill="none" vector-effect="non-scaling-stroke" opacity="0.8"/>
<path transform="matrix(-0.41717 -0.24420 0.00000 0.50000 600.38 455.77)" d="M0 -3l1 7 1 1 1-10 1-5 1 21 1 4 1-32 1 8 1 20 1 1 1-24 1-2 1 27 1-7 1-11 1-1 1 12 1 9 1-29 1 4 1 21 1-5 1-14 1-12 1 40 1-12 1-18 1 6 1 8 1 12 1-29 1-2 1 33 1-8 1-19 1-2 1 22 1 7 1-32 1 5 1 14 1 12 1-29 1 0 1 22 1-1 1-16 1-4 1 19 1-3 1-9 1-7 1 28 1-10 1-13 1-3 1 17 1 5 1-26 1 3 1 21 1 0 1-23 1 4 1 17 1 1 1-14 1-7 1 19 1 6 1-33 1 10 1 15 1 5 1-22 1 3 1 23 1-4 1-22 1 1 1 19 1 1 1-23 1 6 1 13 1 9 1-27 1 6 1 14 1 8 1-27 1 1 1 20 1-4 1-11 1-2 1 13 1 6 1-21 1-7 1 28 1-3 1-20 1 5 1 11 1 2 1-15 1-10 1 29 1-2 1-17 1 0 1 17 1 4 1-26 1 6 1 13 1-2 1-9 1-4 1 21 1-2 1-18 1 0 1 14 1 1 1-12 1 0 1 11 1 3 1-21 1 4 1 17 1-1 1-15 1-4 1 20 1-1 1-17 1-1 1 19 1-1 1-16 1 4 1 7 1 1 1-9 1 0 1 10 1 0 1-12 1 0 1 12 1 6 1-19 1-4 1 20 1 1 1-17 1-3 1 22 1-6 1-11 1 2 1 11 1-2 1-9 1-1 1 10 1 1 1-11 1-1 1 11 1 2 1-14 1-1 1 14 1 0 1-12 1 2 1 11 1-2 1-11 1-2 1 19 1-3 1-14 1-1 1 15 1 0 1-16 1 1 1 12 1 5 1-23 1 4 1 13 1 5 1-18 1 5 1 10 1 1 1-12 1-2 1 13 1 1 1-10 1-4 1 14 1 2 1-19 1 4 1 12 1-2 1-7 1-1 1 10" stroke="#D95319" stroke-width="0.95" fill="none" vector-effect="non-scaling-stroke"/>
<path transform="matrix(-0.41717 -0.24420 0.00000 0.50000 584.04 462.49)" d="M0 -6l1 13 1-18 1 22 1-42 1 53 1-56 1 66 1-9 1-42 1-4 1 45 1-54 1 58 1-14 1-27 1 28 1-28 1-21 1 76 1-57 1 34 1-3 1-28 1 49 1-75 1 21 1 32 1-23 1 17 1 25 1-66 1 85 1-87 1 57 1-36 1 39 1-48 1 66 1-81 1 60 1-53 1 63 1-68 1 66 1-56 1 45 1-33 1-9 1 42 1-31 1 22 1 20 1-54 1 44 1-30 1-24 1 63 1-61 1 61 1-1 1-44 1 46 1-53 1 53 1-50 1 11 1 34 1-47 1 43 1-61 1 75 1-65 1 69 1-69 1 64 1-3 1-58 1 47 1-41 1-5 1 41 1 10 1-49 1 41 1-28 1 39 1-44 1 6 1 29 1 14 1-51 1-1 1 44 1-12 1-23 1-5 1 27 1 12 1-41 1-16 1 65 1-54 1 50 1-37 1 23 1-37 1 46 1-66 1 79 1-62 1 45 1-35 1 33 1 17 1-60 1 13 1 31 1-9 1-21 1-9 1 45 1-5 1-33 1-5 1 33 1-1 1-24 1-1 1 25 1-34 1 37 1 10 1-49 1 9 1 29 1 6 1-46 1 4 1 39 1 4 1-36 1 2 1 25 1-20 1 15 1-18 1 20 1-20 1 21 1-27 1 37 1-35 1 28 1-34 1 46 1 8 1-57 1 12 1 29 1 6 1-45 1 36 1-38 1 44 1-32 1 1 1 21 1-28 1 28 1-30 1 35 1 0 1-27 1 27 1-32 1-3 1 33 1-1 1-28 1 5 1 21 1 8 1-37 1 40 1-37 1 32 1-29 1 33 1-37 1 32 1-31 1 3 1 26 1-38 1 44 1-44 1 43 1 0 1-36 1 33 1-26 1 22 1-21 1-10 1 32 1-21 1 28 1-37 1 33 1-42 1 48 1-32 1 23 1-5 1-14 1 20 1-26" stroke="#0072BD" stroke-width="0.65" fill="none" vector-effect="non-scaling-stroke" opacity="0.8"/>
<path transform="matrix(-0.41717 -0.24420 0.00000 0.50000 584.04 462.49)" d="M0 -4l1 8 1 1 1-10 1-4 1 25 1 2 1-41 1 12 1 26 1 2 1-28 1-8 1 37 1-12 1-12 1 0 1 15 1 10 1-31 1-1 1 24 1-3 1-16 1-17 1 47 1-12 1-22 1 7 1 9 1 11 1-30 1-6 1 40 1-6 1-24 1-2 1 29 1 3 1-37 1 5 1 20 1 12 1-34 1 2 1 29 1-4 1-23 1 1 1 24 1-8 1-10 1-16 1 35 1-5 1-18 1-4 1 25 1-1 1-29 1 4 1 24 1 5 1-31 1 5 1 24 1-4 1-17 1-5 1 21 1 9 1-34 1 5 1 22 1-1 1-24 1 2 1 29 1-5 1-23 1-1 1 22 1 5 1-32 1 9 1 15 1 11 1-32 1 6 1 18 1 5 1-27 1 0 1 26 1-7 1-13 1-1 1 13 1 6 1-23 1-7 1 33 1-1 1-27 1 6 1 13 1 3 1-21 1-7 1 34 1-4 1-22 1 1 1 23 1 1 1-27 1 4 1 16 1-1 1-12 1-7 1 28 1-5 1-21 1 3 1 17 1 0 1-17 1 2 1 13 1 4 1-23 1 3 1 17 1 1 1-19 1-5 1 27 1-3 1-19 1-3 1 23 1 1 1-18 1 2 1 11 1-2 1-9 1 0 1 13 1 0 1-17 1 2 1 15 1 5 1-25 1-2 1 30 1-4 1-21 1-3 1 27 1-7 1-15 1-1 1 17 1-4 1-11 1 0 1 11 1 1 1-12 1-2 1 16 1 1 1-17 1 1 1 18 1-3 1-17 1 3 1 13 1-1 1-15 1 0 1 21 1-5 1-15 1-1 1 18 1-1 1-17 1 2 1 14 1 4 1-24 1 3 1 15 1 8 1-25 1 6 1 14 1-2 1-12 1-2 1 15 1 2 1-14 1-5 1 20 1 2 1-25 1 5 1 17 1-3 1-11 1-3 1 14" stroke="#0072BD" stroke-width="0.95" fill="none" vector-effect="non-scaling-stroke"/>
<text class="k3 e" x="455.30" y="445.20">-1</text>
<text class="k3 e" x="455.30" y="427.30">-0.5</text>
<text class="k3 e" x="455.30" y="409.40">0</text>
<text class="k3 e" x="455.30" y="391.50">0.5</text>
<text class="k3 e" x="455.30" y="373.60">1</text>
<text class="k3 e" x="563.40" y="515.80">0</text>
<text class="k3 e" x="536.05" y="500.20">0.1</text>
<text class="k3 e" x="508.70" y="484.60">0.2</text>
<text class="k3 e" x="481.35" y="469.00">0.3</text>
<text class="k3 e" x="454.00" y="453.40">0.4</text>
<text class="k3" x="591.74" y="510.29">Original signal</text>
<text class="k3" x="608.08" y="503.57">M=2</text>
<text class="k3" x="624.41" y="496.86">M=3</text>
<text class="k3" x="640.75" y="490.15">M=4</text>
<text class="k3" x="657.09" y="483.44">M=5</text>
<text class="k3" x="673.43" y="476.73">M=6</text>
<text class="k3" x="689.76" y="470.01">M=7</text>
<text class="k3 m" x="510.50" y="510.70">Time</text>
<text class="k3 m" transform="translate(437.89 406.80) rotate(-90)">Amplitude</text>
<path d="M892.80 505.00L1023.50 451.30M1023.50 451.30L1023.50 379.70M866.15 489.40L996.85 435.70M996.85 435.70L996.85 364.10M839.50 473.80L970.20 420.10M970.20 420.10L970.20 348.50M812.85 458.20L943.55 404.50M943.55 404.50L943.55 332.90M786.20 442.60L916.90 388.90M916.90 388.90L916.90 317.30M892.80 505.00L786.20 442.60M786.20 442.60L786.20 371.00M909.14 498.29L802.54 435.89M802.54 435.89L802.54 364.29M925.47 491.57L818.88 429.18M818.88 429.18L818.88 357.57M941.81 484.86L835.21 422.46M835.21 422.46L835.21 350.86M958.15 478.15L851.55 415.75M851.55 415.75L851.55 344.15M974.49 471.44L867.89 409.04M867.89 409.04L867.89 337.44M990.83 464.73L884.23 402.33M884.23 402.33L884.23 330.73M1007.16 458.01L900.56 395.61M900.56 395.61L900.56 324.01M1023.50 451.30L916.90 388.90M916.90 388.90L916.90 317.30M786.20 442.60L916.90 388.90M916.90 388.90L1023.50 451.30M786.20 406.80L916.90 353.10M916.90 353.10L1023.50 415.50M786.20 371.00L916.90 317.30M916.90 317.30L1023.50 379.70M786.20 371.00L916.90 317.30M916.90 317.30L1023.50 379.70" stroke="#e6e6e6" stroke-width="0.6" fill="none"/>
<path d="M786.20 442.60L786.20 371.00M786.20 442.60L892.80 505.00M892.80 505.00L1023.50 451.30M786.20 442.60L783.61 443.66M786.20 406.80L783.61 407.86M786.20 371.00L783.61 372.06M892.80 505.00L889.84 506.22M866.15 489.40L863.19 490.62M839.50 473.80L836.54 475.02M812.85 458.20L809.89 459.42M786.20 442.60L783.24 443.82M909.14 498.29L911.90 499.90M925.47 491.57L928.24 493.19M941.81 484.86L944.57 486.48M958.15 478.15L960.91 479.77M974.49 471.44L977.25 473.05M990.83 464.73L993.59 466.34M1007.16 458.01L1009.92 459.63" stroke="#333" stroke-width="0.75" fill="none"/>
<path transform="matrix(-0.41717 -0.24420 0.00000 0.50000 1007.16 422.21)" d="M0 -9l1 22 1-26 1 26 1-4 1-20 1-1 1 22 1-17 1 15 1 2 1-18 1 2 1 12 1 3 1-17 1 21 1-25 1 22 1-18 1 16 1-19 1 19 1-20 1 25 1-25 1 2 1 24 1-23 1 16 1 5 1-21 1 20 1-19 1 25 1-25 1 0 1 21 1-2 1-20 1 21 1-25 1 22 1-16 1 23 1-29 1 24 1-26 1 8 1 15 1-14 1 11 1-1 1-11 1 12 1-10 1 17 1-24 1 25 1-27 1 25 1-22 1-1 1 28 1-28 1 30 1-30 1 22 1 0 1-24 1 9 1 11 1-12 1 11 1-2 1-7 1 11 1-18 1 5 1 13 1-24 1 30 1-25 1 24 1 2 1-24 1 1 1 24 1-2 1-30 1-1 1 24 1 0 1-18 1 31 1-27 1-3 1 25 1-28 1 25 1 1 1-20 1-7 1 24 1 6 1-26 1 2 1 18 1 1 1-17 1 18 1-20 1 0 1 15 1 4 1-19 1 1 1 15 1-15 1 20 1-18 1 16 1-17 1 15 1-19 1 28 1-1 1-34 1 5 1 29 1-3 1-26 1 26 1-21 1 20 1-23 1 5 1 12 1 6 1-22 1 2 1 19 1 2 1-22 1 23 1-23 1 17 1-17 1 16 1-11 1 29 1-41 1 5 1 23 1-32 1 29 1-25 1 28 1-3 1-19 1-6 1 30 1-29 1 26 1-20 1 17 1 2 1-15 1-1 1 10 1-8 1 10 1-19 1 20 1 1 1-16 1 1 1 24 1-28 1 27 1-33 1 29 1-23 1 23 1-20 1 14 1 1 1-13 1 15 1-15 1-3 1 16 1-1 1-13 1 1 1 13 1-18 1 22 1 1 1-25 1 21 1-21 1 28 1-27 1 21 1-16 1 1 1 12 1-1 1-12 1 16 1-26 1 23 1-15 1 22 1-21 1-7 1 27" stroke="#A2142F" stroke-width="0.65" fill="none" vector-effect="non-scaling-stroke" opacity="0.8"/>
<path transform="matrix(-0.41717 -0.24420 0.00000 0.50000 1007.16 422.21)" d="M0 -2l1 10 1 0 1-15 1 0 1 12 1 2 1-14 1 2 1 10 1 1 1-13 1 2 1 9 1 2 1-12 1-1 1 15 1-1 1-12 1-3 1 14 1-1 1-14 1 2 1 15 1 0 1-15 1 2 1 11 1 0 1-10 1-1 1 12 1 1 1-13 1 0 1 12 1 0 1-14 1-1 1 16 1-3 1-9 1-6 1 19 1-2 1-14 1 3 1 9 1-1 1-8 1 2 1 5 1 1 1-7 1-5 1 16 1 1 1-15 1-3 1 16 1 5 1-19 1-1 1 16 1-1 1-14 1-1 1 15 1-2 1-7 1-1 1 6 1-1 1-5 1-2 1 9 1 1 1-8 1-9 1 15 1 3 1-14 1 2 1 10 1 2 1-12 1-4 1 19 1-4 1-10 1-4 1 14 1 3 1-12 1-5 1 21 1-6 1-14 1 4 1 13 1-3 1-12 1-1 1 13 1 1 1-14 1 2 1 12 1-1 1-11 1 0 1 10 1 1 1-13 1 4 1 8 1 2 1-13 1 1 1 9 1-1 1-8 1-2 1 15 1 0 1-19 1 2 1 17 1 1 1-19 1 5 1 10 1 3 1-16 1 4 1 7 1 3 1-12 1-1 1 13 1-1 1-11 1 1 1 13 1-3 1-13 1 4 1 9 1 5 1-20 1 4 1 17 1-4 1-21 1 3 1 21 1-4 1-11 1-3 1 19 1-4 1-14 1 3 1 8 1 1 1-8 1 0 1 6 1 1 1-7 1-1 1 8 1 1 1-10 1 1 1 13 1 0 1-18 1-3 1 22 1 0 1-18 1 2 1 11 1-2 1-6 1 1 1 7 1-1 1-10 1 3 1 7 1 0 1-7 1-4 1 13 1 0 1-10 1-5 1 15 1 2 1-16 1 4 1 9 1-1 1-8 1 0 1 7 1 5 1-15 1 0 1 12 1 4 1-15 1-5 1 19" stroke="#A2142F" stroke-width="0.95" fill="none" vector-effect="non-scaling-stroke"/>
<path transform="matrix(-0.41717 -0.24420 0.00000 0.50000 990.83 428.93)" d="M0 -7l1 24 1-29 1 25 1-3 1-19 1-1 1 21 1-18 1 15 1 1 1-18 1 2 1 13 1 4 1-19 1 21 1-23 1 23 1-18 1-6 1 21 1-1 1-19 1 26 1-27 1 2 1 24 1-23 1 16 1 5 1-19 1 21 1-20 1 22 1-26 1 0 1 24 1-2 1-26 1 28 1-28 1 25 1-21 1 28 1-32 1 27 1-29 1 8 1 17 1-2 1-15 1 13 1-11 1 11 1-9 1 18 1-26 1 29 1-31 1 27 1-25 1 2 1 24 1-25 1 26 1-28 1 24 1-2 1-22 1 5 1 15 1-14 1 12 1-1 1-8 1 13 1-18 1 4 1 11 1-24 1 30 1-26 1 25 1 5 1-27 1-1 1 26 1 4 1-35 1-5 1 29 1 1 1-22 1 34 1-27 1-3 1 25 1-28 1 22 1 2 1-20 1-10 1 28 1 6 1-26 1 2 1 19 1 4 1-22 1 19 1-20 1 16 1-16 1 18 1-18 1 0 1 17 1-19 1 22 1-17 1 16 1-19 1 17 1-19 1 30 1-4 1-34 1 1 1 34 1-2 1-29 1 29 1-23 1 21 1-25 1 5 1 14 1 8 1-24 1 0 1 19 1 5 1-26 1 24 1-22 1-2 1 22 1-3 1-14 1 32 1-39 1-1 1 31 1-34 1 27 1-24 1 29 1-23 1 18 1-26 1 33 1-30 1 23 1-16 1 15 1 0 1-13 1 9 1-10 1 1 1 11 1 1 1-19 1 21 1-18 1 1 1 25 1-29 1 28 1-34 1 30 1-24 1 26 1-22 1 14 1 3 1-14 1 16 1-16 1-6 1 17 1 1 1-14 1 1 1 14 1-17 1 20 1 0 1-26 1-2 1 25 1 8 1-29 1 23 1-16 1-1 1 12 1 0 1-10 1 16 1-29 1 26 1-17 1 23 1-22 1 19 1-29" stroke="#4DBEEE" stroke-width="0.65" fill="none" vector-effect="non-scaling-stroke" opacity="0.8"/>
<path transform="matrix(-0.41717 -0.24420 0.00000 0.50000 990.83 428.93)" d="M0 -4l1 13 1-1 1-15 1 0 1 13 1-1 1-12 1 3 1 9 1 2 1-13 1 1 1 10 1 2 1-13 1-2 1 17 1 0 1-15 1-3 1 15 1-2 1-12 1 1 1 16 1 1 1-18 1 3 1 10 1 0 1-10 1 0 1 12 1 1 1-13 1 0 1 12 1 1 1-15 1-2 1 19 1-6 1-9 1-5 1 19 1-2 1-15 1 4 1 10 1-2 1-7 1 0 1 6 1 1 1-8 1-4 1 15 1 1 1-15 1-2 1 18 1 3 1-19 1-3 1 19 1-2 1-15 1 0 1 15 1-2 1-7 1-1 1 6 1 0 1-5 1-3 1 9 1 1 1-8 1-9 1 16 1 4 1-16 1 1 1 11 1 3 1-14 1 0 1 17 1-5 1-13 1 0 1 13 1 4 1-14 1-3 1 19 1-5 1-15 1 5 1 14 1-5 1-10 1-2 1 16 1-1 1-14 1 2 1 10 1 1 1-12 1 1 1 8 1 2 1-13 1 3 1 9 1 2 1-14 1 2 1 11 1-2 1-12 1 3 1 14 1 0 1-19 1 0 1 18 1 1 1-19 1 4 1 12 1 2 1-17 1 5 1 7 1 3 1-13 1 0 1 14 1-1 1-13 1 2 1 15 1-3 1-16 1 4 1 10 1 7 1-23 1 4 1 19 1-4 1-24 1 4 1 23 1-5 1-11 1-3 1 19 1-4 1-15 1 3 1 11 1-1 1-8 1 0 1 7 1 0 1-7 1-3 1 10 1 2 1-11 1 0 1 14 1 3 1-22 1-3 1 24 1 0 1-19 1 2 1 11 1-2 1-6 1 1 1 7 1 0 1-11 1 3 1 7 1 0 1-9 1-2 1 12 1 2 1-11 1-6 1 15 1 3 1-18 1 5 1 10 1-2 1-7 1 0 1 8 1 4 1-16 1 1 1 12 1 3 1-13 1-7 1 20" stroke="#4DBEEE" stroke-width="0.95" fill="none" vector-effect="non-scaling-stroke"/>
<path transform="matrix(-0.41717 -0.24420 0.00000 0.50000 974.49 435.64)" d="M0 -9l1 28 1-5 1-29 1 25 1-24 1 0 1 27 1-4 1-19 1 21 1-21 1 4 1 13 1 3 1-22 1 23 1-26 1 28 1-23 1-3 1 23 1 1 1-23 1 27 1-27 1 25 1-24 1 1 1 18 1-18 1 23 1 5 1-26 1 23 1-24 1-5 1 27 1 2 1-33 1 33 1-33 1 30 1-25 1 32 1-36 1 29 1-28 1 10 1 16 1-1 1-20 1 6 1 12 1-1 1-12 1 21 1-33 1 32 1-24 1 25 1-31 1 32 1-26 1-5 1 31 1-29 1 26 1-26 1 24 1-16 1 13 1-2 1-12 1 10 1-8 1 14 1-17 1 3 1 10 1-23 1 30 1-29 1 31 1-3 1-23 1-5 1 27 1 8 1-41 1-3 1 35 1 0 1-24 1 30 1-25 1-1 1 25 1-5 1-21 1 23 1-27 1-4 1 27 1 10 1-30 1 0 1 24 1 7 1-27 1 22 1-22 1 17 1-16 1 18 1-21 1 4 1 14 1 2 1-23 1 5 1 20 1-24 1 20 1 9 1-27 1 29 1-38 1 0 1 37 1-3 1-31 1 29 1-23 1 25 1-31 1 7 1 15 1 12 1-29 1 0 1 20 1 3 1-22 1 23 1-25 1 26 1-29 1 23 1-20 1 35 1-39 1-2 1 36 1-43 1 37 1-28 1 34 1-28 1 26 1-34 1 35 1-28 1 21 1-19 1 18 1-12 1 8 1-11 1 12 1-12 1 12 1 3 1-20 1 21 1-22 1 1 1 27 1-32 1 33 1-34 1 30 1-26 1 29 1-27 1 19 1 2 1-16 1 19 1-23 1-2 1 18 1 3 1-15 1-2 1 16 1-20 1 25 1-27 1 24 1-2 1-26 1 37 1-36 1 27 1-16 1 0 1 10 1 1 1-10 1 18 1-29 1 27 1-21 1 2 1 23 1-3 1-34" stroke="#77AC30" stroke-width="0.65" fill="none" vector-effect="non-scaling-stroke" opacity="0.8"/>
<path transform="matrix(-0.41717 -0.24420 0.00000 0.50000 974.49 435.64)" d="M0 -5l1 18 1-3 1-18 1 1 1 16 1-1 1-16 1 3 1 10 1 2 1-14 1 2 1 10 1 2 1-15 1 0 1 18 1-1 1-15 1-3 1 16 1-1 1-15 1-1 1 20 1 2 1-21 1 4 1 11 1 0 1-11 1 0 1 10 1 5 1-15 1-1 1 14 1 0 1-14 1-5 1 21 1-4 1-12 1-4 1 21 1-4 1-20 1 9 1 11 1-2 1-10 1 2 1 8 1 0 1-9 1-5 1 18 1 1 1-17 1-4 1 21 1 2 1-18 1-4 1 20 1-3 1-17 1 0 1 17 1-2 1-7 1-1 1 7 1-1 1-6 1-2 1 10 1 0 1-8 1-10 1 18 1 5 1-19 1 1 1 13 1 2 1-13 1-3 1 20 1-4 1-13 1-4 1 15 1 6 1-17 1-1 1 19 1-6 1-15 1 4 1 14 1-5 1-10 1-3 1 19 1 0 1-16 1 0 1 11 1 2 1-13 1 1 1 8 1 3 1-14 1 3 1 10 1 4 1-18 1 3 1 13 1-2 1-13 1 1 1 17 1 2 1-22 1-1 1 20 1-1 1-19 1 4 1 14 1 1 1-16 1 4 1 7 1 4 1-13 1-2 1 15 1 2 1-18 1 1 1 18 1-3 1-19 1 6 1 13 1 8 1-26 1 2 1 23 1-5 1-22 1 1 1 22 1-6 1-9 1-4 1 22 1-6 1-14 1 2 1 12 1-4 1-5 1-2 1 8 1 1 1-9 1-2 1 11 1 1 1-13 1 1 1 16 1 2 1-21 1-4 1 24 1 1 1-22 1 4 1 12 1-3 1-7 1 1 1 8 1 0 1-11 1 3 1 7 1 2 1-11 1-3 1 16 1 0 1-13 1-8 1 19 1 3 1-19 1 5 1 11 1-3 1-8 1 0 1 8 1 6 1-20 1 5 1 12 1 5 1-17 1-6 1 21" stroke="#77AC30" stroke-width="0.95" fill="none" vector-effect="non-scaling-stroke"/>
<path transform="matrix(-0.41717 -0.24420 0.00000 0.50000 958.15 442.35)" d="M0 -13l1 37 1-47 1 44 1-6 1-34 1 2 1 32 1-4 1-29 1 32 1-26 1 4 1 17 1 3 1-27 1 30 1-34 1 34 1-28 1 25 1-28 1 27 1-28 1 31 1-32 1 37 1-34 1 6 1 21 1 0 1-27 1 39 1-33 1 28 1-30 1-6 1 33 1 1 1-40 1 35 1-35 1 35 1-29 1 35 1-37 1-3 1 36 1-22 1 19 1-1 1-22 1 1 1 23 1-6 1-14 1 24 1-35 1 1 1 36 1 0 1-36 1 38 1-30 1-10 1 39 1-38 1 33 1-2 1-27 1 27 1-22 1 20 1-15 1 9 1-9 1 19 1-22 1-2 1 19 1-27 1 41 1-8 1-33 1 30 1-26 1 27 1-28 1 33 1-36 1-8 1 39 1-1 1-28 1 38 1-34 1-2 1 30 1-32 1 31 1-29 1 29 1-35 1 31 1 13 1-39 1 1 1 29 1 5 1-30 1 28 1-33 1 24 1-21 1 28 1-29 1 21 1-17 1-6 1 27 1-23 1 22 1-26 1 24 1 8 1-29 1-6 1 43 1-52 1 46 1-1 1-40 1 37 1-26 1 30 1-40 1 12 1 16 1 15 1-31 1-3 1 26 1-27 1 31 1-30 1 30 1-1 1-33 1 31 1-32 1 43 1-44 1 40 1-42 1-12 1 49 1-38 1 41 1-29 1 31 1-44 1 39 1-35 1 34 1-27 1 23 1-17 1 16 1-19 1 15 1-1 1-14 1-8 1 29 1-1 1-26 1 3 1 29 1-34 1 35 1-39 1 35 1-30 1 32 1-30 1 23 1 2 1-21 1 24 1-32 1 24 1-21 1 25 1-17 1 19 1-22 1-7 1 29 1-2 1-26 1-5 1 35 1 6 1-39 1 28 1-18 1 14 1-16 1 17 1-16 1 24 1-32 1 29 1-26 1 31 1-33 1 32 1-41" stroke="#7E2F8E" stroke-width="0.65" fill="none" vector-effect="non-scaling-stroke" opacity="0.8"/>
<path transform="matrix(-0.41717 -0.24420 0.00000 0.50000 958.15 442.35)" d="M0 -6l1 21 1-1 1-28 1 5 1 18 1 1 1-22 1 6 1 12 1 1 1-16 1 3 1 12 1 2 1-19 1 2 1 18 1 2 1-19 1-2 1 20 1-4 1-18 1 1 1 23 1 0 1-22 1 3 1 15 1-1 1-13 1-1 1 15 1 3 1-16 1-2 1 16 1-2 1-14 1-1 1 18 1-2 1-17 1-1 1 23 1-4 1-22 1 8 1 14 1-2 1-14 1 0 1 16 1-5 1-9 1-5 1 19 1 2 1-20 1-3 1 24 1-2 1-16 1-3 1 21 1-2 1-23 1 4 1 18 1-1 1-11 1-1 1 8 1-1 1-6 1-4 1 13 1 0 1-12 1-8 1 23 1 2 1-22 1 2 1 17 1 1 1-17 1-1 1 21 1-3 1-19 1 0 1 17 1 5 1-20 1-3 1 24 1-7 1-16 1 5 1 16 1-4 1-18 1 0 1 21 1 2 1-18 1-1 1 13 1 0 1-12 1 0 1 11 1 4 1-19 1 4 1 13 1 1 1-20 1 6 1 12 1-1 1-12 1-1 1 19 1 2 1-23 1-3 1 22 1 0 1-22 1 6 1 15 1 1 1-17 1 3 1 8 1 8 1-17 1-2 1 17 1 1 1-20 1 0 1 22 1-2 1-19 1-1 1 17 1 10 1-32 1 0 1 31 1-5 1-21 1-2 1 23 1-3 1-14 1-5 1 25 1-4 1-20 1 4 1 14 1-3 1-9 1 0 1 9 1 0 1-10 1-4 1 16 1 0 1-15 1-1 1 22 1 0 1-28 1 4 1 20 1 3 1-22 1 2 1 14 1-2 1-9 1-1 1 13 1-1 1-14 1 4 1 7 1 4 1-15 1-1 1 19 1 0 1-19 1-8 1 25 1 2 1-23 1 7 1 14 1-4 1-9 1-1 1 10 1 7 1-23 1 5 1 13 1 8 1-22 1-5 1 24" stroke="#7E2F8E" stroke-width="0.95" fill="none" vector-effect="non-scaling-stroke"/>
<path transform="matrix(-0.41717 -0.24420 0.00000 0.50000 941.81 449.06)" d="M0 -14l1 50 1-67 1 64 1-14 1-42 1 43 1-41 1-3 1 42 1-1 1-32 1 29 1-29 1-3 1 33 1 7 1-40 1 42 1-41 1 35 1-37 1 31 1-33 1 40 1-45 1 11 1 40 1-7 1-31 1 30 1-34 1 46 1-44 1 38 1-38 1-9 1 44 1 0 1-45 1 46 1-48 1 47 1-42 1 43 1-40 1-7 1 48 1-7 1-30 1 29 1-27 1-6 1 36 1-11 1-18 1 31 1-37 1-17 1 60 1-4 1-41 1 47 1-36 1-15 1 44 1-43 1 43 1-5 1-36 1 38 1-30 1 21 1-17 1 2 1 12 1 16 1-42 1 5 1 28 1-35 1 56 1-12 1-40 1 41 1-40 1-5 1 51 1 1 1-51 1-4 1 43 1-5 1-32 1 48 1-44 1-3 1 36 1-42 1 43 1 2 1-46 1 4 1 39 1 10 1-45 1-1 1 39 1 3 1-36 1 34 1-39 1 31 1-29 1-5 1 41 1-33 1 25 1-34 1 39 1-32 1 25 1-30 1 30 1 9 1-38 1 3 1 39 1-61 1 59 1-5 1-45 1 16 1 38 1-6 1-44 1 15 1 20 1 16 1-43 1 1 1 40 1-45 1 46 1 3 1-46 1 37 1-35 1 36 1-45 1 60 1-67 1 6 1 56 1-65 1 55 1-48 1 50 1 2 1-41 1 41 1-52 1 4 1 45 1-33 1 30 1-35 1 35 1-10 1-20 1 1 1 21 1-37 1 44 1 0 1-34 1 2 1 39 1-53 1 50 1-49 1 46 1-39 1 44 1-37 1 28 1 1 1-29 1 33 1-44 1 34 1-25 1 29 1-23 1 25 1-31 1-4 1 34 1 6 1-40 1 48 1-58 1 56 1-45 1 34 1-26 1 20 1-24 1 25 1-24 1 34 1-41 1 35 1-34 1 45 1-45 1 42 1-48" stroke="#EDB120" stroke-width="0.65" fill="none" vector-effect="non-scaling-stroke" opacity="0.8"/>
<path transform="matrix(-0.41717 -0.24420 0.00000 0.50000 941.81 449.06)" d="M0 -7l1 22 1 5 1-40 1 9 1 24 1 0 1-27 1 7 1 17 1-2 1-18 1 3 1 16 1 1 1-24 1 4 1 23 1-1 1-25 1 0 1 26 1-3 1-26 1 3 1 26 1 1 1-27 1 2 1 21 1-2 1-16 1-2 1 20 1 4 1-22 1 1 1 17 1 1 1-21 1 0 1 22 1-3 1-19 1-3 1 28 1-3 1-27 1 6 1 20 1-1 1-18 1-2 1 21 1-6 1-11 1-6 1 22 1 7 1-32 1 0 1 31 1-5 1-19 1-9 1 31 1-2 1-27 1 2 1 24 1 2 1-18 1 0 1 10 1-2 1-8 1-6 1 21 1-1 1-16 1-9 1 30 1-2 1-25 1 0 1 24 1 3 1-30 1 2 1 26 1-1 1-24 1-1 1 21 1 9 1-25 1-5 1 29 1-7 1-20 1 3 1 21 1 0 1-26 1 0 1 27 1 0 1-23 1 1 1 16 1 3 1-20 1 2 1 17 1 5 1-25 1 4 1 15 1 3 1-24 1 5 1 17 1-1 1-18 1-2 1 28 1-2 1-26 1-4 1 27 1 1 1-23 1 0 1 22 1-2 1-20 1 5 1 11 1 10 1-23 1-2 1 22 1 1 1-27 1 3 1 27 1-6 1-21 1-4 1 27 1 7 1-36 1 1 1 36 1-4 1-30 1-1 1 28 1-1 1-22 1-5 1 31 1-1 1-29 1 7 1 15 1-1 1-13 1 0 1 11 1 1 1-12 1-4 1 22 1-5 1-15 1-3 1 25 1 2 1-31 1 3 1 25 1-1 1-25 1 4 1 15 1 0 1-13 1-1 1 20 1-4 1-17 1 4 1 12 1 3 1-19 1 0 1 20 1 2 1-24 1-10 1 31 1 3 1-27 1 6 1 17 1-3 1-12 1-3 1 16 1 7 1-28 1 4 1 20 1 6 1-31 1-2 1 30" stroke="#EDB120" stroke-width="0.95" fill="none" vector-effect="non-scaling-stroke"/>
<path transform="matrix(-0.41717 -0.24420 0.00000 0.50000 925.47 455.77)" d="M0 -20l1 64 1-91 1 88 1-17 1-54 1 62 1-66 1 0 1 61 1-9 1-40 1 44 1-40 1-5 1 41 1 7 1-46 1 52 1-56 1 0 1 48 1-52 1 48 1 10 1-58 1 64 1-64 1 55 1-47 1 45 1-48 1 59 1-63 1 66 1-60 1-3 1 49 1 1 1-50 1 56 1-65 1 65 1-61 1 55 1-48 1-7 1 56 1 1 1-49 1 45 1-38 1 37 1-46 1 10 1 25 1 11 1-47 1 60 1-77 1 74 1-66 1 66 1-46 1 44 1-63 1 54 1-46 1 1 1 45 1 5 1-46 1 31 1-24 1 2 1 19 1 28 1-67 1 50 1-37 1-26 1 83 1-13 1-49 1 50 1-56 1-14 1 85 1-76 1 70 1-67 1 56 1-2 1-49 1 63 1-64 1 47 1-50 1-3 1 58 1 9 1-69 1 59 1-50 1 54 1-51 1 0 1 49 1 0 1-52 1 50 1-46 1 46 1-44 1 46 1-54 1 10 1 36 1-46 1 47 1-38 1 37 1-41 1 40 1 14 1-58 1 53 1-53 1-23 1 78 1-1 1-69 1 18 1 56 1-8 1-56 1 19 1 25 1 21 1-57 1 4 1 49 1-62 1 65 1 9 1-64 1 1 1 55 1-5 1-57 1 71 1-83 1 11 1 75 1-82 1 74 1-74 1 62 1 5 1-59 1 0 1 72 1-80 1 67 1-47 1 47 1-54 1 52 1-44 1 28 1-26 1 30 1-50 1 53 1 5 1-48 1-6 1 61 1-73 1 69 1 2 1-66 1 9 1 58 1-12 1-37 1 39 1-35 1 44 1-62 1 50 1-35 1 37 1-33 1-13 1 43 1-37 1 46 1 4 1-56 1 61 1-78 1 75 1-58 1 44 1-31 1 26 1-34 1 36 1-30 1-12 1 52 1-5 1-49 1 67 1-70 1 66 1-65" stroke="#D95319" stroke-width="0.65" fill="none" vector-effect="non-scaling-stroke" opacity="0.8"/>
<path transform="matrix(-0.41717 -0.24420 0.00000 0.50000 925.47 455.77)" d="M0 -12l1 32 1 4 1-49 1 11 1 32 1-1 1-36 1 3 1 30 1-3 1-22 1 0 1 25 1-1 1-32 1 5 1 28 1 5 1-34 1-3 1 32 1-2 1-32 1 6 1 28 1 5 1-35 1 1 1 28 1-2 1-20 1-4 1 33 1-6 1-28 1 4 1 25 1 1 1-32 1 0 1 38 1-8 1-28 1-2 1 31 1 0 1-33 1 4 1 29 1-1 1-25 1-6 1 34 1-10 1-16 1-5 1 30 1 6 1-47 1 7 1 32 1-2 1-22 1-11 1 39 1-4 1-35 1 3 1 30 1 3 1-25 1 2 1 15 1-2 1-11 1-9 1 31 1-2 1-25 1-6 1 35 1-4 1-27 1 0 1 28 1 7 1-41 1-1 1 33 1 0 1-30 1-1 1 29 1 13 1-36 1-8 1 38 1-6 1-29 1 9 1 23 1 2 1-37 1 2 1 34 1-1 1-28 1 2 1 27 1 1 1-32 1-2 1 29 1 6 1-35 1 5 1 25 1 1 1-29 1 1 1 27 1-1 1-26 1-4 1 37 1 0 1-35 1-7 1 39 1 3 1-34 1 3 1 24 1 1 1-26 1 5 1 16 1 8 1-32 1 3 1 23 1 9 1-37 1 2 1 39 1-9 1-28 1-5 1 35 1 6 1-49 1 10 1 41 1-8 1-39 1 6 1 33 1 4 1-36 1 1 1 29 1 5 1-39 1 12 1 17 1 0 1-22 1 4 1 17 1 0 1-15 1-8 1 28 1-5 1-17 1-8 1 39 1-4 1-39 1 6 1 30 1-1 1-27 1 2 1 21 1 0 1-20 1-2 1 25 1-4 1-21 1 3 1 18 1 4 1-24 1-1 1 25 1 6 1-37 1-5 1 35 1 7 1-37 1 8 1 21 1-1 1-20 1-1 1 22 1 7 1-37 1 4 1 29 1 7 1-40 1-4 1 38" stroke="#D95319" stroke-width="0.95" fill="none" vector-effect="non-scaling-stroke"/>
<path transform="matrix(-0.41717 -0.24420 0.00000 0.50000 909.14 462.49)" d="M0 -28l1 74 1-106 1 107 1-6 1-79 1 79 1-83 1 5 1 67 1-8 1-45 1 52 1-61 1 4 1 52 1 10 1-58 1 73 1-82 1 3 1 59 1 1 1-66 1 66 1-66 1 73 1-66 1 71 1-73 1 57 1-56 1 76 1-77 1 70 1-70 1 2 1 61 1 1 1-62 1 83 1-98 1 79 1-69 1 62 1-57 1-3 1 65 1 5 1-64 1 3 1 58 1-11 1-55 1 45 1-31 1 44 1-56 1-35 1 108 1-11 1-68 1 14 1 61 1-6 1-72 1 62 1-54 1 55 1-54 1 57 1-50 1 6 1 27 1-23 1 22 1 34 1-81 1 61 1-46 1-30 1 106 1-84 1 65 1 6 1-77 1-12 1 103 1-103 1 97 1-88 1 67 1-1 1-59 1 77 1-76 1 62 1-62 1-3 1 64 1 5 1-81 1 12 1 70 1-4 1-61 1 2 1 61 1-2 1-65 1 60 1-55 1-7 1 62 1-64 1 65 1-49 1 43 1-53 1 52 1 5 1-55 1 50 1-47 1 59 1-66 1 0 1 67 1-91 1 87 1 23 1-107 1 20 1 68 1-7 1-63 1 53 1-37 1 56 1-72 1 9 1 71 1-4 1-80 1 84 1-79 1 5 1 71 1-8 1-67 1-23 1 118 1-95 1 79 1-87 1 83 1-81 1 75 1 1 1-69 1 83 1-82 1 75 1-87 1 25 1 51 1-68 1 71 1-20 1-31 1-4 1 40 1 15 1-86 1 86 1-70 1 72 1-76 1-4 1 74 1 6 1-84 1 7 1 85 1-25 1-45 1 5 1 44 1 10 1-79 1 17 1 51 1 1 1-42 1-9 1 49 1-46 1 53 1 23 1-95 1 87 1-97 1 90 1-75 1 60 1-42 1 36 1-39 1 42 1-39 1-22 1 72 1 1 1-67 1 77 1-76 1-12 1 90" stroke="#0072BD" stroke-width="0.65" fill="none" vector-effect="non-scaling-stroke" opacity="0.8"/>
<path transform="matrix(-0.41717 -0.24420 0.00000 0.50000 909.14 462.49)" d="M0 -15l1 36 1 5 1-56 1 9 1 40 1 4 1-46 1 5 1 36 1-5 1-27 1-2 1 31 1-1 1-33 1 0 1 36 1 7 1-44 1-4 1 41 1-1 1-39 1 3 1 44 1 0 1-49 1 7 1 37 1-7 1-23 1-9 1 43 1-3 1-39 1 5 1 32 1 5 1-45 1 2 1 46 1-4 1-39 1-3 1 40 1-1 1-38 1 1 1 35 1-5 1-24 1-5 1 35 1-9 1-19 1-11 1 42 1 12 1-55 1-2 1 44 1-3 1-30 1-14 1 51 1-7 1-41 1 4 1 36 1 4 1-34 1 6 1 16 1-1 1-16 1-13 1 43 1-4 1-31 1-8 1 45 1-6 1-34 1-5 1 41 1 7 1-59 1 12 1 41 1-1 1-41 1 1 1 35 1 13 1-45 1-10 1 50 1-6 1-33 1 5 1 33 1 3 1-49 1 4 1 40 1 0 1-32 1-4 1 33 1 4 1-39 1-2 1 40 1 1 1-42 1 8 1 28 1 4 1-33 1 0 1 31 1 0 1-35 1-7 1 50 1-3 1-41 1-10 1 52 1 4 1-46 1 5 1 33 1-1 1-32 1 5 1 19 1 9 1-33 1 0 1 32 1 6 1-48 1 9 1 44 1-12 1-37 1-2 1 38 1 11 1-51 1 2 1 56 1-9 1-52 1 3 1 43 1 6 1-49 1 5 1 40 1 6 1-58 1 18 1 29 1-3 1-26 1 2 1 22 1 0 1-18 1-10 1 35 1-5 1-25 1-9 1 50 1-5 1-49 1 8 1 37 1-2 1-31 1-1 1 31 1-5 1-24 1-1 1 34 1-7 1-26 1 2 1 23 1 1 1-27 1-3 1 39 1-1 1-44 1-9 1 53 1 2 1-48 1 14 1 24 1-2 1-23 1-3 1 27 1 8 1-36 1-3 1 36 1 9 1-52 1 3 1 42" stroke="#0072BD" stroke-width="0.95" fill="none" vector-effect="non-scaling-stroke"/>
<text class="k3 e" x="780.40" y="445.20">-0.5</text>
<text class="k3 e" x="780.40" y="409.40">0</text>
<text class="k3 e" x="780.40" y="373.60">0.5</text>
<text class="k3 e" x="888.50" y="515.80">0</text>
<text class="k3 e" x="861.15" y="500.20">0.1</text>
<text class="k3 e" x="833.80" y="484.60">0.2</text>
<text class="k3 e" x="806.45" y="469.00">0.3</text>
<text class="k3 e" x="779.10" y="453.40">0.4</text>
<text class="k3" x="916.84" y="510.29">Original signal</text>
<text class="k3" x="933.17" y="503.57">M=2</text>
<text class="k3" x="949.51" y="496.86">M=3</text>
<text class="k3" x="965.85" y="490.15">M=4</text>
<text class="k3" x="982.19" y="483.44">M=5</text>
<text class="k3" x="998.53" y="476.73">M=6</text>
<text class="k3" x="1014.86" y="470.01">M=7</text>
<text class="k3 m" x="835.60" y="510.70">Time</text>
<text class="k3 m" transform="translate(762.99 406.80) rotate(-90)">Amplitude</text>
<path d="M1217.90 505.00L1348.60 451.30M1348.60 451.30L1348.60 379.70M1191.25 489.40L1321.95 435.70M1321.95 435.70L1321.95 364.10M1164.60 473.80L1295.30 420.10M1295.30 420.10L1295.30 348.50M1137.95 458.20L1268.65 404.50M1268.65 404.50L1268.65 332.90M1111.30 442.60L1242.00 388.90M1242.00 388.90L1242.00 317.30M1217.90 505.00L1111.30 442.60M1111.30 442.60L1111.30 371.00M1234.24 498.29L1127.64 435.89M1127.64 435.89L1127.64 364.29M1250.58 491.57L1143.97 429.18M1143.97 429.18L1143.97 357.57M1266.91 484.86L1160.31 422.46M1160.31 422.46L1160.31 350.86M1283.25 478.15L1176.65 415.75M1176.65 415.75L1176.65 344.15M1299.59 471.44L1192.99 409.04M1192.99 409.04L1192.99 337.44M1315.92 464.73L1209.32 402.33M1209.32 402.33L1209.32 330.73M1332.26 458.01L1225.66 395.61M1225.66 395.61L1225.66 324.01M1348.60 451.30L1242.00 388.90M1242.00 388.90L1242.00 317.30M1111.30 435.50L1242.00 381.80M1242.00 381.80L1348.60 444.20M1111.30 414.00L1242.00 360.30M1242.00 360.30L1348.60 422.70M1111.30 392.50L1242.00 338.80M1242.00 338.80L1348.60 401.20M1111.30 371.00L1242.00 317.30M1242.00 317.30L1348.60 379.70M1111.30 371.00L1242.00 317.30M1242.00 317.30L1348.60 379.70" stroke="#e6e6e6" stroke-width="0.6" fill="none"/>
<path d="M1111.30 442.60L1111.30 371.00M1111.30 442.60L1217.90 505.00M1217.90 505.00L1348.60 451.30M1111.30 435.50L1108.71 436.57M1111.30 414.00L1108.71 415.07M1111.30 392.50L1108.71 393.57M1111.30 371.00L1108.71 372.06M1217.90 505.00L1214.94 506.22M1191.25 489.40L1188.29 490.62M1164.60 473.80L1161.64 475.02M1137.95 458.20L1134.99 459.42M1111.30 442.60L1108.34 443.82M1234.24 498.29L1237.00 499.90M1250.58 491.57L1253.34 493.19M1266.91 484.86L1269.67 486.48M1283.25 478.15L1286.01 479.77M1299.59 471.44L1302.35 473.05M1315.92 464.73L1318.69 466.34M1332.26 458.01L1335.02 459.63" stroke="#333" stroke-width="0.75" fill="none"/>
<path transform="matrix(-0.41717 -0.24420 0.00000 0.50000 1332.26 429.42)" d="M0 -1l1 3 1-4 1 4 1 0 1-3 1-2 1 4 1-4 1 8 1-4 1-3 1 6 1-8 1 3 1 3 1-6 1 5 1 3 1-6 1 3 1-2 1 2 1-3 1 5 1-4 1-2 1 8 1-1 1-7 1 0 1 6 1-5 1 4 1-3 1 3 1-11 1 14 1-10 1 8 1-4 1 3 1 2 1-9 1 2 1 5 1-6 1 7 1-5 1 3 1-2 1 3 1-3 1 2 1-3 1 4 1 0 1-3 1-2 1 5 1 2 1-7 1 5 1-4 1 4 1-3 1-1 1 4 1 0 1-4 1 0 1 4 1-4 1 3 1 1 1-3 1-1 1 3 1 3 1-6 1 3 1-3 1-1 1 7 1-1 1-6 1 5 1-3 1 2 1-2 1 3 1-4 1 4 1-3 1 0 1 2 1-3 1 3 1 2 1-4 1 2 1-3 1 0 1 4 1 0 1-3 1 2 1-3 1 1 1 4 1-2 1-3 1 0 1 4 1-1 1-2 1-1 1 5 1-2 1-2 1 2 1-3 1 4 1-4 1 1 1 2 1-3 1 3 1 0 1-2 1 2 1-2 1 2 1-2 1-1 1 4 1 0 1-4 1 4 1-4 1 0 1 3 1 0 1-2 1-1 1 3 1 1 1-3 1 0 1 2 1 0 1-2 1-1 1 3 1 0 1-3 1 4 1-3 1-1 1 4 1-4 1 4 1 0 1-3 1 0 1 2 1-3 1 5 1-2 1-3 1 4 1-3 1 0 1 3 1-1 1-4 1 5 1-4 1 5 1-5 1 5 1-5 1 1 1 2 1 2 1-5 1 1 1 3 1-3 1 2 1 2 1-5 1 4 1-4 1 3 1-3 1 5 1-5 1 4 1-3 1 3 1-4 1 1 1 2 1 1 1-4 1 0 1 5 1-4 1 2 1-2 1 2 1-3 1 3 1-2 1 3 1 0 1-4" stroke="#A2142F" stroke-width="0.65" fill="none" vector-effect="non-scaling-stroke" opacity="0.8"/>
<path transform="matrix(-0.41717 -0.24420 0.00000 0.50000 1332.26 429.42)" d="M0 -1l1 2 1 0 1-2 1 0 1 2 1 0 1-2 1-1 1 4 1-1 1-2 1-1 1 4 1-1 1-2 1 0 1 1 1 2 1-3 1 0 1 2 1 0 1-2 1 0 1 2 1 0 1-2 1-1 1 4 1-1 1-3 1 1 1 2 1 0 1-2 1-6 1 9 1 0 1-4 1 1 1 2 1 2 1-6 1 2 1 2 1 1 1-4 1 0 1 3 1 0 1-2 1 0 1 2 1 0 1-2 1 0 1 2 1-1 1-1 1-1 1 4 1-1 1-2 1 0 1 2 1 0 1-2 1 0 1 2 1 1 1-3 1 0 1 2 1 0 1-2 1-1 1 3 1 1 1-3 1 0 1 2 1 1 1-4 1 1 1 2 1 1 1-3 1 0 1 2 1 0 1-2 1 0 1 2 1 0 1-2 1 0 1 1 1 1 1-2 1 0 1 1 1 1 1-2 1 0 1 2 1 0 1-2 1 1 1 1 1 0 1-2 1 0 1 2 1 0 1-2 1 0 1 2 1-1 1-1 1 0 1 2 1 0 1-2 1 0 1 2 1 0 1-2 1 0 1 2 1 0 1-2 1 0 1 2 1 0 1-2 1 0 1 2 1 0 1-2 1-1 1 3 1 0 1-1 1-1 1 2 1 1 1-3 1 0 1 1 1 1 1-2 1 0 1 2 1 0 1-2 1 0 1 2 1 0 1-3 1 1 1 2 1 0 1-1 1-1 1 2 1 0 1-2 1-1 1 3 1 0 1-2 1 1 1 1 1 0 1-3 1 1 1 2 1 1 1-4 1 1 1 2 1 0 1-2 1 0 1 2 1 0 1-2 1 0 1 2 1 0 1-2 1 0 1 2 1 0 1-2 1 0 1 3 1-1 1-2 1 0 1 2 1 0 1-2 1 0 1 2 1 1 1-3 1 0 1 2 1 0 1-2 1 0 1 2 1 1 1-3 1 0 1 2" stroke="#A2142F" stroke-width="0.95" fill="none" vector-effect="non-scaling-stroke"/>
<path transform="matrix(-0.41717 -0.24420 0.00000 0.50000 1315.92 436.13)" d="M0 -2l1 4 1-4 1 4 1-3 1 3 1-5 1 4 1-4 1 6 1-2 1-2 1 5 1-6 1 1 1 2 1-5 1 5 1-3 1 5 1-2 1-2 1 2 1-4 1 6 1-4 1-4 1 7 1 0 1-4 1-2 1 6 1-3 1 3 1 0 1-3 1-9 1 12 1-3 1 3 1-4 1 4 1 2 1-9 1 2 1 5 1 1 1-5 1-1 1 5 1-3 1 3 1-3 1 2 1-3 1 4 1 0 1-3 1 2 1-5 1 0 1 7 1-6 1 4 1-3 1 4 1-4 1 5 1-1 1-4 1 4 1-3 1-1 1 3 1 0 1-2 1-1 1 3 1-3 1 5 1-2 1-3 1-3 1 7 1 0 1-5 1 5 1-4 1 3 1-2 1 3 1-4 1 4 1-4 1 4 1-4 1 0 1 3 1 2 1-4 1 2 1-3 1 1 1 3 1-4 1 3 1 1 1-4 1 0 1 4 1-1 1-3 1 0 1 5 1-1 1-4 1 0 1 5 1-4 1 2 1 1 1-3 1 3 1-4 1 3 1-2 1-1 1 3 1 1 1-3 1 0 1 3 1 0 1-4 1 0 1 5 1-1 1-4 1 4 1-4 1-1 1 4 1-3 1 3 1-3 1 3 1-3 1 4 1-3 1 2 1 1 1-3 1-1 1 4 1 0 1-4 1 1 1 4 1-5 1 4 1-4 1 4 1 0 1-3 1 2 1-2 1-2 1 5 1 0 1-5 1 5 1-4 1 4 1-3 1 3 1-4 1 4 1-4 1 5 1-6 1 7 1-6 1 0 1 4 1-4 1 5 1-5 1 4 1-4 1 4 1 1 1-5 1 4 1-4 1 4 1-4 1 6 1-7 1 5 1-4 1 4 1-4 1 1 1 3 1 0 1-3 1-1 1 5 1-4 1 2 1 1 1-3 1 2 1-3 1 0 1 4 1-4 1 5" stroke="#4DBEEE" stroke-width="0.65" fill="none" vector-effect="non-scaling-stroke" opacity="0.8"/>
<path transform="matrix(-0.41717 -0.24420 0.00000 0.50000 1315.92 436.13)" d="M0 -1l1 3 1-1 1-3 1 1 1 2 1 0 1-3 1 1 1 2 1 0 1-2 1 0 1 2 1 0 1-1 1-2 1 3 1 0 1-2 1 0 1 2 1 0 1-2 1 0 1 2 1 0 1-2 1 0 1 2 1 0 1-2 1 0 1 2 1 0 1-2 1-4 1 6 1 0 1-2 1 0 1 2 1 1 1-4 1 0 1 3 1 0 1-2 1-1 1 3 1 0 1-2 1 0 1 2 1 0 1-3 1 1 1 2 1 0 1-2 1 0 1 3 1-1 1-3 1 1 1 2 1 1 1-3 1-1 1 3 1 0 1-2 1 0 1 2 1 0 1-2 1 0 1 2 1 1 1-3 1-1 1 3 1 0 1-3 1 1 1 3 1 0 1-3 1 0 1 2 1 1 1-3 1 0 1 2 1 0 1-2 1 0 1 1 1 1 1-2 1 0 1 2 1 0 1-2 1 0 1 2 1 0 1-2 1 0 1 2 1 0 1-2 1 0 1 2 1 0 1-2 1 0 1 2 1-1 1-1 1 0 1 2 1 0 1-2 1 0 1 2 1 0 1-2 1 0 1 2 1 0 1-2 1 0 1 2 1 0 1-2 1 0 1 2 1 1 1-3 1-1 1 3 1 0 1-2 1 0 1 2 1 1 1-3 1 0 1 1 1 1 1-2 1 0 1 2 1 0 1-2 1 0 1 2 1 0 1-2 1 0 1 2 1 0 1-2 1 0 1 2 1 0 1-2 1-1 1 3 1 0 1-2 1 0 1 2 1 0 1-3 1 1 1 2 1 1 1-4 1 1 1 2 1 0 1-2 1 0 1 3 1-1 1-2 1 0 1 2 1 0 1-2 1 0 1 3 1-1 1-2 1 0 1 3 1-1 1-2 1 0 1 2 1 0 1-2 1 0 1 2 1 1 1-3 1 0 1 2 1 0 1-2 1 0 1 2 1 1 1-3 1 0 1 2" stroke="#4DBEEE" stroke-width="0.95" fill="none" vector-effect="non-scaling-stroke"/>
<path transform="matrix(-0.41717 -0.24420 0.00000 0.50000 1299.59 442.84)" d="M0 -2l1 4 1-5 1 5 1-3 1 3 1-5 1 5 1-6 1 8 1-6 1 4 1 3 1-9 1 2 1 4 1-7 1 7 1 5 1-11 1 3 1 3 1-1 1-3 1 5 1-4 1 6 1-11 1 2 1 7 1-6 1 7 1-3 1-3 1 4 1-3 1-10 1 22 1-15 1 9 1-7 1 4 1-12 1 16 1-8 1 6 1-7 1 7 1-2 1-5 1 2 1 3 1-4 1 3 1-3 1 4 1 0 1-3 1 3 1-7 1 0 1 13 1-7 1-4 1 5 1-4 1-1 1 5 1 0 1-5 1 1 1 5 1-1 1-4 1 4 1-3 1-2 1 5 1 3 1-9 1 2 1 4 1-7 1 10 1-1 1-7 1 5 1-4 1 4 1-3 1-1 1 4 1-1 1-3 1 4 1-4 1 0 1 3 1 1 1-4 1 3 1-3 1-1 1 6 1-1 1-5 1 5 1-4 1 0 1 5 1-1 1-4 1 0 1 4 1 0 1-4 1 0 1 5 1-5 1 3 1-3 1 4 1 1 1-5 1 1 1 2 1 1 1-3 1 3 1-3 1 3 1-4 1 4 1-4 1 0 1 5 1-1 1-4 1 5 1-5 1 4 1-5 1 2 1 3 1-1 1-3 1 0 1 4 1-4 1 3 1 1 1-3 1 0 1 3 1 0 1-4 1 0 1 5 1-5 1 4 1-5 1 5 1 1 1-4 1-1 1 3 1 2 1-5 1 4 1-6 1 6 1-4 1 0 1 4 1 1 1-6 1 5 1-5 1 6 1-5 1 5 1-5 1 0 1 3 1 4 1-8 1 6 1-5 1-1 1 4 1-3 1 4 1 1 1-5 1 4 1-5 1 7 1-6 1 4 1-4 1 4 1-4 1 0 1 4 1-4 1 5 1-5 1 5 1-4 1 2 1-2 1 3 1 0 1-4 1-1 1 5 1 0 1-4" stroke="#77AC30" stroke-width="0.65" fill="none" vector-effect="non-scaling-stroke" opacity="0.8"/>
<path transform="matrix(-0.41717 -0.24420 0.00000 0.50000 1299.59 442.84)" d="M0 -1l1 3 1-1 1-3 1 1 1 2 1 0 1-3 1-1 1 5 1-1 1-2 1-2 1 6 1-2 1-2 1-1 1 3 1 2 1-6 1 2 1 2 1 0 1-2 1 0 1 3 1 1 1-5 1-1 1 5 1-1 1-3 1 1 1 2 1 0 1-2 1-7 1 14 1-3 1-5 1 1 1 3 1 2 1-8 1 2 1 4 1 1 1-5 1 0 1 3 1 1 1-3 1 0 1 2 1 0 1-3 1 1 1 2 1 0 1-2 1-3 1 8 1-3 1-3 1 1 1 2 1 1 1-4 1 0 1 3 1 1 1-3 1 0 1 2 1 0 1-2 1-1 1 3 1 2 1-5 1 0 1 3 1 1 1-5 1 1 1 4 1 0 1-3 1 0 1 2 1 1 1-3 1 0 1 2 1 0 1-2 1 0 1 2 1 1 1-3 1 0 1 2 1 1 1-4 1 1 1 2 1 0 1-3 1 1 1 3 1-1 1-3 1 1 1 3 1-1 1-2 1-1 1 4 1-1 1-2 1 0 1 2 1 0 1-3 1 1 1 2 1 0 1-2 1 0 1 2 1 0 1-2 1 0 1 2 1 0 1-2 1-1 1 3 1 1 1-3 1-1 1 3 1 0 1-2 1 0 1 2 1 1 1-3 1 0 1 2 1 0 1-2 1 0 1 2 1 0 1-2 1 0 1 2 1 0 1-3 1 0 1 3 1 0 1-2 1 0 1 2 1 0 1-2 1-1 1 3 1 0 1-2 1 0 1 3 1 0 1-4 1 1 1 2 1 1 1-3 1-1 1 4 1-1 1-2 1 0 1 3 1 0 1-3 1 0 1 2 1 0 1-3 1 0 1 3 1 0 1-3 1 1 1 3 1-1 1-2 1 0 1 3 1-1 1-2 1 0 1 3 1 0 1-3 1 0 1 2 1 0 1-2 1 0 1 2 1 1 1-3 1-1 1 4" stroke="#77AC30" stroke-width="0.95" fill="none" vector-effect="non-scaling-stroke"/>
<path transform="matrix(-0.41717 -0.24420 0.00000 0.50000 1283.25 449.55)" d="M0 -2l1 5 1-6 1 5 1-4 1 5 1-6 1 5 1-7 1 13 1-11 1 5 1 5 1-14 1 5 1 5 1-8 1 7 1 6 1-12 1 6 1-4 1 4 1-4 1 5 1-5 1-4 1 15 1-4 1-10 1 1 1 9 1-2 1-6 1 1 1 4 1-16 1 27 1-21 1 12 1-6 1 4 1 7 1-16 1 11 1-9 1-1 1 11 1-3 1-5 1 1 1 5 1-5 1 3 1-3 1 5 1-1 1-4 1 0 1 4 1-7 1 13 1-6 1-4 1 0 1 5 1 0 1-7 1 6 1-4 1-1 1 6 1-1 1-5 1 1 1 5 1-6 1 6 1 5 1-13 1 7 1-5 1-2 1 10 1 0 1-10 1 8 1-6 1 0 1 6 1 0 1-5 1 4 1-4 1-1 1 5 1-4 1 3 1 2 1-5 1-1 1 5 1 2 1-8 1 7 1-5 1 0 1 4 1-4 1 5 1-2 1-4 1 1 1 5 1-1 1-4 1-1 1 6 1-5 1 3 1 2 1-6 1 7 1-6 1 1 1 2 1-3 1 4 1 0 1-4 1 5 1-5 1 4 1-4 1 6 1-7 1 5 1-5 1 1 1 5 1-1 1-5 1 5 1-4 1 0 1 4 1 1 1-5 1 0 1 3 1 1 1-4 1 0 1 5 1-1 1-5 1 1 1 5 1-1 1-5 1 0 1 6 1 0 1-5 1 0 1 4 1 1 1-6 1 5 1-6 1 6 1-4 1 0 1 4 1 0 1-5 1 1 1 4 1 1 1-6 1 5 1-4 1 0 1 4 1 4 1-11 1 7 1-4 1 0 1 4 1 1 1-6 1 5 1-5 1 5 1-4 1 5 1-6 1 5 1-4 1 5 1-6 1 1 1 4 1-4 1 5 1-5 1 5 1-2 1-2 1 2 1-3 1 5 1-5 1 0 1 5 1-1 1-4" stroke="#7E2F8E" stroke-width="0.65" fill="none" vector-effect="non-scaling-stroke" opacity="0.8"/>
<path transform="matrix(-0.41717 -0.24420 0.00000 0.50000 1283.25 449.55)" d="M0 -2l1 4 1-1 1-3 1 1 1 3 1-1 1-3 1-2 1 7 1-1 1-4 1-2 1 7 1-1 1-3 1-1 1 3 1 1 1-5 1 2 1 2 1 0 1-3 1 1 1 3 1 0 1-5 1 0 1 6 1-1 1-5 1 1 1 3 1 1 1-3 1-11 1 17 1-1 1-8 1 3 1 2 1 5 1-12 1 5 1 3 1 1 1-6 1 1 1 4 1 0 1-3 1 0 1 2 1 0 1-3 1 1 1 2 1 0 1-2 1-3 1 8 1-3 1-3 1 1 1 3 1 0 1-4 1 0 1 3 1 1 1-4 1 0 1 3 1 0 1-2 1-1 1 3 1 2 1-5 1 0 1 3 1 3 1-8 1 2 1 4 1 0 1-3 1 0 1 2 1 0 1-2 1-1 1 3 1 0 1-2 1 0 1 2 1 1 1-3 1 0 1 2 1 1 1-4 1 0 1 4 1-1 1-3 1 1 1 2 1 0 1-3 1 1 1 3 1 0 1-4 1 1 1 3 1-1 1-2 1-1 1 4 1-1 1-3 1 1 1 2 1 0 1-2 1 0 1 2 1 0 1-2 1 0 1 2 1 1 1-3 1-1 1 3 1 1 1-3 1-1 1 3 1 0 1-2 1 0 1 2 1 1 1-3 1 0 1 2 1 0 1-2 1 0 1 2 1 0 1-2 1 0 1 3 1-1 1-3 1 0 1 4 1-1 1-2 1 0 1 2 1 0 1-3 1 0 1 3 1 0 1-2 1 0 1 3 1 0 1-4 1 1 1 2 1 2 1-5 1 1 1 2 1 0 1-2 1-1 1 4 1 0 1-4 1 0 1 3 1 1 1-4 1 0 1 4 1-1 1-3 1 0 1 4 1-1 1-2 1 0 1 3 1-1 1-2 1-1 1 4 1 0 1-4 1 1 1 2 1 0 1-2 1-1 1 3 1 1 1-4 1 1 1 3" stroke="#7E2F8E" stroke-width="0.95" fill="none" vector-effect="non-scaling-stroke"/>
<path transform="matrix(-0.41717 -0.24420 0.00000 0.50000 1266.91 456.27)" d="M0 -3l1 6 1 0 1-7 1 8 1-6 1 5 1-6 1-3 1 9 1-5 1 5 1 6 1-12 1 1 1 4 1-10 1 9 1 2 1-6 1 5 1-4 1 4 1-6 1 9 1-7 1-6 1 12 1-6 1 5 1-9 1 8 1 0 1-4 1 5 1-5 1-18 1 23 1-1 1-4 1-1 1 6 1-10 1 16 1-13 1 9 1-1 1-8 1 7 1-7 1 7 1-6 1 1 1 3 1-3 1 5 1-1 1-4 1 4 1-5 1-5 1 12 1-1 1-7 1 8 1-6 1-2 1 9 1-3 1-5 1 6 1-5 1 4 1-5 1 6 1-6 1 0 1 5 1-4 1 8 1-4 1-6 1 8 1-13 1 5 1 7 1 1 1-8 1 1 1 5 1 2 1-6 1-1 1 6 1-7 1 7 1-6 1 4 1 2 1-5 1 3 1-4 1 1 1 4 1-5 1 5 1-5 1 6 1-6 1 8 1-9 1 6 1-5 1 6 1-6 1 5 1-5 1 6 1-1 1-4 1 5 1-5 1 4 1-6 1 2 1 3 1-3 1 4 1 0 1-4 1 0 1 6 1-1 1-5 1 7 1-8 1 8 1-8 1 1 1 5 1-7 1 6 1 0 1-4 1 4 1-4 1 5 1-5 1 0 1 3 1 1 1-4 1 0 1 5 1-1 1-5 1 0 1 6 1-6 1 5 1-5 1 6 1 0 1-5 1-1 1 5 1-5 1 6 1 0 1-8 1 7 1-5 1 6 1-5 1 5 1-6 1 5 1-6 1 7 1-7 1 8 1-7 1 0 1 5 1-5 1 8 1-2 1-5 1-1 1 5 1 2 1-7 1 0 1 6 1-6 1 5 1 2 1-8 1 6 1-5 1 6 1-5 1 0 1 4 1 2 1-5 1-1 1 5 1-2 1-2 1 3 1-4 1 4 1-5 1 7 1-7 1 7 1-8" stroke="#EDB120" stroke-width="0.65" fill="none" vector-effect="non-scaling-stroke" opacity="0.8"/>
<path transform="matrix(-0.41717 -0.24420 0.00000 0.50000 1266.91 456.27)" d="M0 -1l1 3 1 0 1-4 1 1 1 2 1 1 1-4 1 1 1 3 1-1 1-2 1-1 1 3 1 0 1-2 1-1 1 3 1 1 1-4 1 1 1 2 1 0 1-2 1 0 1 3 1-1 1-3 1 1 1 3 1 0 1-4 1 1 1 3 1 0 1-3 1-1 1 3 1 0 1-2 1 0 1 3 1 0 1-4 1 0 1 4 1 0 1-4 1-1 1 5 1 0 1-3 1 0 1 2 1 0 1-3 1 1 1 2 1 0 1-3 1 0 1 5 1-1 1-4 1 0 1 4 1 1 1-5 1 0 1 3 1 1 1-3 1 0 1 2 1 0 1-2 1-1 1 3 1 2 1-4 1-1 1 3 1 1 1-5 1 1 1 4 1 0 1-4 1 0 1 3 1 1 1-4 1 0 1 4 1 0 1-3 1 0 1 2 1 1 1-3 1-1 1 3 1 1 1-4 1 1 1 2 1 1 1-4 1 1 1 3 1-1 1-3 1 0 1 4 1 0 1-4 1 0 1 4 1-1 1-2 1 0 1 2 1 0 1-2 1 0 1 2 1 0 1-2 1 0 1 2 1 1 1-4 1 1 1 2 1 2 1-5 1 0 1 4 1 0 1-4 1 0 1 3 1 1 1-3 1 0 1 2 1 1 1-3 1-1 1 3 1 1 1-3 1 0 1 3 1 0 1-4 1 1 1 3 1-1 1-3 1 0 1 4 1 0 1-3 1-1 1 3 1 1 1-4 1 0 1 4 1-1 1-3 1 1 1 3 1 0 1-5 1 2 1 2 1 2 1-6 1 0 1 6 1-1 1-3 1 0 1 3 1-1 1-3 1 0 1 3 1 1 1-4 1 0 1 5 1-2 1-3 1-1 1 5 1-1 1-2 1 0 1 3 1-1 1-2 1 0 1 3 1 1 1-4 1 0 1 2 1 0 1-2 1-1 1 4 1 1 1-5 1 0 1 4" stroke="#EDB120" stroke-width="0.95" fill="none" vector-effect="non-scaling-stroke"/>
<path transform="matrix(-0.41717 -0.24420 0.00000 0.50000 1250.58 462.98)" d="M0 5l1-10 1 10 1-11 1 3 1 6 1-9 1 12 1 4 1-22 1 7 1 11 1 7 1-24 1 6 1 10 1-2 1-17 1 29 1-26 1 7 1 8 1 0 1-10 1 11 1-9 1-12 1 27 1-4 1-17 1 2 1 19 1-17 1 12 1-3 1-7 1-25 1 56 1-13 1-21 1 12 1-11 1-19 1 39 1-20 1 12 1-15 1 22 1-7 1-11 1 11 1-9 1 0 1 5 1-5 1 7 1-8 1 7 1-8 1 9 1-21 1 33 1-10 1-13 1 3 1 8 1-8 1 10 1-2 1-9 1-2 1 13 1-11 1 10 1-1 1-8 1-2 1 10 1 5 1-18 1 3 1 10 1 7 1-22 1 2 1 15 1-1 1-11 1 2 1 8 1-8 1 9 1-1 1-9 1 0 1 8 1-8 1 7 1-6 1 9 1-3 1-5 1-6 1 15 1-2 1-8 1 0 1 8 1-9 1 10 1-10 1 9 1 1 1-10 1 9 1-8 1 0 1 8 1-2 1-5 1 7 1-7 1 8 1-11 1 4 1 5 1 0 1-6 1 6 1-6 1 8 1-9 1 9 1-9 1 9 1-9 1 10 1-11 1 10 1-9 1 9 1-10 1 2 1 6 1 0 1-6 1 6 1-5 1 4 1-5 1 6 1-5 1 0 1 6 1-1 1-6 1 0 1 8 1-9 1 8 1 2 1-12 1 11 1-8 1-1 1 7 1 3 1-11 1-3 1 12 1 0 1-10 1 10 1-8 1 10 1-12 1 2 1 9 1 0 1-12 1 16 1-14 1 1 1 9 1 5 1-16 1 12 1-11 1-1 1 9 1-10 1 14 1-12 1 11 1-2 1-8 1-1 1 12 1-3 1-8 1 7 1-7 1 1 1 6 1-10 1 13 1-9 1 6 1-1 1-4 1-1 1 7 1 3 1-11 1-2 1 13 1-12 1 12" stroke="#D95319" stroke-width="0.65" fill="none" vector-effect="non-scaling-stroke" opacity="0.8"/>
<path transform="matrix(-0.41717 -0.24420 0.00000 0.50000 1250.58 462.98)" d="M0 -3l1 7 1 0 1-8 1 2 1 5 1-1 1-5 1-3 1 13 1-5 1-5 1-4 1 14 1-4 1-6 1 1 1 3 1 6 1-13 1 4 1 5 1-1 1-4 1-1 1 6 1 4 1-13 1 1 1 10 1-2 1-7 1 1 1 6 1 0 1-5 1-14 1 34 1-10 1-14 1 3 1 6 1 8 1-22 1 7 1 8 1 4 1-14 1 3 1 6 1-1 1-3 1 0 1 2 1 1 1-4 1 1 1 4 1-1 1-5 1-5 1 18 1-6 1-8 1 1 1 6 1 1 1-7 1 0 1 5 1 2 1-7 1 1 1 4 1 0 1-4 1-2 1 7 1 4 1-13 1 3 1 5 1 6 1-15 1 3 1 8 1-2 1-4 1-1 1 6 1 0 1-6 1 0 1 6 1 0 1-5 1 0 1 3 1 2 1-6 1 1 1 3 1 3 1-8 1 1 1 5 1 0 1-5 1 1 1 6 1-2 1-4 1-2 1 8 1-1 1-6 1 1 1 5 1-1 1-4 1 0 1 5 1 0 1-7 1 3 1 3 1 0 1-4 1 0 1 4 1 1 1-6 1 0 1 5 1 1 1-6 1 0 1 6 1 0 1-6 1 1 1 3 1 1 1-3 1-1 1 4 1 0 1-3 1-1 1 3 1 1 1-4 1 0 1 5 1-1 1-4 1 0 1 5 1-1 1-4 1-2 1 7 1-1 1-4 1 0 1 4 1 1 1-6 1-1 1 7 1 0 1-6 1 1 1 5 1 0 1-6 1 1 1 5 1 1 1-8 1 0 1 8 1-1 1-6 1 0 1 9 1-3 1-7 1 1 1 5 1 2 1-7 1 0 1 6 1 0 1-6 1 0 1 7 1-2 1-4 1 1 1 3 1 0 1-3 1-2 1 7 1-2 1-4 1 1 1 2 1 1 1-5 1 0 1 5 1 2 1-7 1 0 1 6" stroke="#D95319" stroke-width="0.95" fill="none" vector-effect="non-scaling-stroke"/>
<path transform="matrix(-0.41717 -0.24420 0.00000 0.50000 1234.24 469.69)" d="M0 -9l1 22 1-2 1-21 1 3 1 15 1-19 1 20 1-28 1 48 1-38 1 18 1 16 1-53 1 20 1 18 1-5 1-27 1 54 1-53 1 29 1-14 1 12 1-17 1 5 1 16 1-33 1 59 1-15 1-37 1-7 1 43 1-9 1-20 1 1 1 16 1-59 1 100 1-77 1 46 1-6 1-20 1 50 1-68 1 38 1-22 1-14 1 44 1-28 1 18 1-14 1 11 1-11 1 8 1-10 1 12 1-1 1-10 1-4 1 15 1 29 1-63 1 40 1-25 1 2 1 24 1-23 1 20 1-3 1-14 1-6 1 27 1-23 1 19 1-3 1-13 1 16 1-23 1-4 1 35 1-8 1-21 1-13 1 47 1-43 1 37 1-7 1-20 1 17 1-16 1 1 1 18 1-18 1 15 1-15 1 13 1-12 1 12 1-17 1 19 1-3 1-8 1-9 1 27 1-6 1-16 1 14 1-14 1-3 1 22 1-4 1-17 1 19 1-19 1 1 1 16 1-14 1 16 1-5 1-10 1 12 1-16 1 20 1-19 1 6 1 8 1-12 1 13 1 0 1-12 1 17 1-19 1-2 1 15 1-14 1 17 1-17 1 17 1 0 1-14 1 15 1-14 1 11 1-10 1-1 1 11 1 0 1-11 1 7 1-5 1 7 1-7 1 10 1-13 1-1 1 13 1-12 1 13 1 0 1-17 1-5 1 27 1-7 1-10 1 1 1 10 1-16 1 18 1-20 1 21 1-1 1-14 1-3 1 17 1 1 1-20 1 3 1 16 1-1 1-18 1 3 1 21 1-5 1-19 1-6 1 29 1-2 1-20 1 16 1-14 1 19 1-20 1-1 1 22 1-4 1-17 1 20 1-21 1 4 1 11 1 0 1-10 1 1 1 7 1-15 1 22 1-15 1 10 1-2 1-7 1 10 1-12 1 18 1-23 1-2 1 23 1-19 1 17" stroke="#0072BD" stroke-width="0.65" fill="none" vector-effect="non-scaling-stroke" opacity="0.8"/>
<path transform="matrix(-0.41717 -0.24420 0.00000 0.50000 1234.24 469.69)" d="M0 -7l1 15 1-3 1-11 1 2 1 9 1-1 1-9 1-9 1 25 1-7 1-10 1-7 1 26 1-7 1-10 1 0 1 7 1 7 1-23 1 10 1 8 1-1 1-9 1 1 1 9 1 1 1-20 1 4 1 22 1-3 1-17 1 1 1 12 1-1 1-8 1-34 1 61 1-9 1-28 1 9 1 11 1 22 1-51 1 17 1 14 1 4 1-27 1 8 1 12 1-3 1-5 1 0 1 7 1-2 1-5 1 0 1 6 1 1 1-9 1-12 1 31 1-8 1-12 1 1 1 11 1 0 1-12 1 2 1 8 1 4 1-14 1 1 1 9 1 0 1-8 1-2 1 11 1 10 1-28 1 7 1 11 1 14 1-34 1 8 1 13 1-2 1-8 1 0 1 8 1 0 1-9 1 0 1 9 1 0 1-6 1-2 1 7 1 2 1-9 1 1 1 6 1 6 1-17 1 2 1 11 1 0 1-10 1 0 1 11 1-3 1-9 1 0 1 11 1 1 1-12 1 1 1 10 1-2 1-7 1-1 1 9 1 2 1-13 1 5 1 4 1 1 1-7 1 1 1 6 1 1 1-9 1 0 1 9 1 0 1-8 1-2 1 11 1-1 1-8 1 0 1 7 1 0 1-6 1 1 1 6 1-2 1-4 1 0 1 3 1 2 1-5 1-1 1 7 1-1 1-6 1-1 1 8 1 0 1-8 1-2 1 12 1-2 1-7 1-1 1 7 1 3 1-11 1-1 1 10 1 2 1-11 1 1 1 9 1 1 1-12 1 0 1 11 1 0 1-11 1 0 1 14 1-2 1-14 1-2 1 20 1-3 1-14 1 2 1 9 1 3 1-13 1 1 1 11 1 0 1-12 1-1 1 14 1-3 1-8 1 1 1 6 1-1 1-4 1-3 1 12 1-4 1-7 1 2 1 4 1 1 1-7 1-1 1 10 1 2 1-13 1-2 1 14" stroke="#0072BD" stroke-width="0.95" fill="none" vector-effect="non-scaling-stroke"/>
<text class="k3 e" x="1105.50" y="438.10">-1</text>
<text class="k3 e" x="1105.50" y="416.60">0</text>
<text class="k3 e" x="1105.50" y="395.10">1</text>
<text class="k3 e" x="1105.50" y="373.60">2</text>
<text class="k3 e" x="1213.60" y="515.80">0</text>
<text class="k3 e" x="1186.25" y="500.20">0.1</text>
<text class="k3 e" x="1158.90" y="484.60">0.2</text>
<text class="k3 e" x="1131.55" y="469.00">0.3</text>
<text class="k3 e" x="1104.20" y="453.40">0.4</text>
<text class="k3" x="1241.94" y="510.29">Original signal</text>
<text class="k3" x="1258.28" y="503.57">M=2</text>
<text class="k3" x="1274.61" y="496.86">M=3</text>
<text class="k3" x="1290.95" y="490.15">M=4</text>
<text class="k3" x="1307.29" y="483.44">M=5</text>
<text class="k3" x="1323.62" y="476.73">M=6</text>
<text class="k3" x="1339.96" y="470.01">M=7</text>
<text class="k3 m" x="1160.70" y="510.70">Time</text>
<text class="k3 m" transform="translate(1094.10 406.80) rotate(-90)">Amplitude</text>
<path d="M1542.10 505.00L1672.80 451.30M1672.80 451.30L1672.80 379.70M1515.45 489.40L1646.15 435.70M1646.15 435.70L1646.15 364.10M1488.80 473.80L1619.50 420.10M1619.50 420.10L1619.50 348.50M1462.15 458.20L1592.85 404.50M1592.85 404.50L1592.85 332.90M1435.50 442.60L1566.20 388.90M1566.20 388.90L1566.20 317.30M1542.10 505.00L1435.50 442.60M1435.50 442.60L1435.50 371.00M1558.44 498.29L1451.84 435.89M1451.84 435.89L1451.84 364.29M1574.77 491.57L1468.17 429.18M1468.17 429.18L1468.17 357.57M1591.11 484.86L1484.51 422.46M1484.51 422.46L1484.51 350.86M1607.45 478.15L1500.85 415.75M1500.85 415.75L1500.85 344.15M1623.79 471.44L1517.19 409.04M1517.19 409.04L1517.19 337.44M1640.12 464.73L1533.53 402.33M1533.53 402.33L1533.53 330.73M1656.46 458.01L1549.86 395.61M1549.86 395.61L1549.86 324.01M1672.80 451.30L1566.20 388.90M1566.20 388.90L1566.20 317.30M1435.50 442.60L1566.20 388.90M1566.20 388.90L1672.80 451.30M1435.50 424.70L1566.20 371.00M1566.20 371.00L1672.80 433.40M1435.50 406.80L1566.20 353.10M1566.20 353.10L1672.80 415.50M1435.50 388.90L1566.20 335.20M1566.20 335.20L1672.80 397.60M1435.50 371.00L1566.20 317.30M1566.20 317.30L1672.80 379.70M1435.50 371.00L1566.20 317.30M1566.20 317.30L1672.80 379.70" stroke="#e6e6e6" stroke-width="0.6" fill="none"/>
<path d="M1435.50 442.60L1435.50 371.00M1435.50 442.60L1542.10 505.00M1542.10 505.00L1672.80 451.30M1435.50 442.60L1432.91 443.66M1435.50 424.70L1432.91 425.76M1435.50 406.80L1432.91 407.86M1435.50 388.90L1432.91 389.96M1435.50 371.00L1432.91 372.06M1542.10 505.00L1539.14 506.22M1515.45 489.40L1512.49 490.62M1488.80 473.80L1485.84 475.02M1462.15 458.20L1459.19 459.42M1435.50 442.60L1432.54 443.82M1558.44 498.29L1561.20 499.90M1574.77 491.57L1577.54 493.19M1591.11 484.86L1593.87 486.48M1607.45 478.15L1610.21 479.77M1623.79 471.44L1626.55 473.05M1640.12 464.73L1642.89 466.34M1656.46 458.01L1659.22 459.63" stroke="#333" stroke-width="0.75" fill="none"/>
<path transform="matrix(-0.41717 -0.24420 0.00000 0.50000 1656.46 422.21)" d="M0 -1l1 2 1-4 1 6 1-6 1 5 1 0 1-4 1 1 1 2 1-3 1 3 1 2 1-6 1-1 1 7 1-10 1 13 1-10 1 8 1-6 1 3 1 2 1-5 1 4 1-3 1-2 1 6 1-1 1-4 1 4 1-5 1 6 1-5 1 4 1-4 1-5 1 10 1 0 1-6 1 0 1 5 1-3 1 3 1-4 1 4 1 0 1-3 1-1 1 4 1-4 1 4 1 1 1-5 1 0 1 3 1-3 1 5 1-15 1 20 1-13 1 10 1-1 1-7 1 0 1 5 1-3 1 2 1 1 1-4 1 3 1-3 1 0 1 5 1-6 1 5 1 0 1-4 1 4 1-11 1 1 1 15 1-12 1 7 1 0 1-4 1 0 1 4 1-4 1 5 1-5 1 3 1-3 1 4 1-4 1 4 1-4 1 4 1 0 1-4 1-4 1 10 1-6 1 5 1-5 1 3 1 4 1-7 1 4 1-5 1 4 1-3 1 3 1-3 1 0 1 3 1 1 1-6 1 2 1 4 1 0 1-4 1-8 1 16 1-3 1-6 1 4 1-2 1 4 1-7 1 2 1 4 1-4 1 3 1-2 1 3 1-6 1 6 1-4 1 3 1 1 1-4 1 7 1-10 1 2 1 6 1-1 1-4 1-2 1 7 1-6 1 5 1-5 1 8 1-7 1 3 1 1 1-4 1 4 1-3 1-1 1 3 1 2 1-7 1-4 1 10 1-5 1 5 1-6 1 6 1-4 1 4 1-1 1-3 1 0 1 4 1-1 1-3 1-1 1 5 1 0 1-4 1 0 1 5 1-5 1 6 1 5 1-13 1 7 1-5 1 5 1-5 1 4 1-4 1 4 1-5 1 1 1 4 1-5 1 5 1 0 1-3 1 2 1-2 1-1 1 4 1-9 1 10 1-5 1 6 1-6 1 6 1-3 1-4 1 2 1 4 1-2 1-3" stroke="#A2142F" stroke-width="0.65" fill="none" vector-effect="non-scaling-stroke" opacity="0.8"/>
<path transform="matrix(-0.41717 -0.24420 0.00000 0.50000 1656.46 422.21)" d="M0 0l1 1 1 1 1-3 1-1 1 3 1 0 1-2 1 0 1 2 1 0 1-2 1 0 1 2 1 1 1-5 1 0 1 8 1-3 1-4 1 1 1 2 1 1 1-3 1 1 1 2 1 0 1-4 1 1 1 3 1-1 1-2 1-1 1 4 1-1 1-1 1-3 1 4 1 1 1-3 1-2 1 4 1 1 1-3 1-1 1 3 1 0 1-2 1 0 1 2 1 1 1-4 1 1 1 3 1-1 1-2 1 0 1 2 1 2 1-11 1 4 1 7 1-1 1-3 1 0 1 2 1 0 1-2 1 0 1 2 1 0 1-3 1 1 1 2 1 0 1-3 1 1 1 2 1 0 1-2 1-4 1 8 1-1 1-4 1 0 1 4 1-1 1-3 1 1 1 3 1-1 1-3 1 1 1 1 1 2 1-3 1 0 1 2 1 0 1-2 1-2 1 5 1-1 1-2 1-1 1 3 1 2 1-4 1-1 1 4 1-1 1-2 1 0 1 2 1 0 1-2 1-1 1 3 1 1 1-3 1 0 1 2 1 1 1-7 1 3 1 5 1-2 1-1 1-2 1 4 1 0 1-3 1 0 1 2 1 0 1-2 1-1 1 3 1 0 1-2 1 0 1 3 1-1 1-3 1 1 1 4 1-1 1-3 1-1 1 4 1 0 1-4 1-1 1 5 1-1 1-2 1-1 1 4 1-1 1-2 1-1 1 3 1 1 1-4 1-1 1 4 1 0 1-3 1-1 1 4 1 0 1-2 1 0 1 2 1 0 1-2 1-1 1 3 1 0 1-2 1 0 1 2 1 0 1-2 1 0 1 3 1 3 1-7 1 1 1 3 1 0 1-4 1 1 1 2 1 0 1-3 1 1 1 2 1 0 1-3 1 1 1 3 1-1 1-1 1-2 1 3 1 1 1-5 1 2 1 3 1 0 1-3 1 0 1 1 1 2 1-3 1-1 1 3" stroke="#A2142F" stroke-width="0.95" fill="none" vector-effect="non-scaling-stroke"/>
<path transform="matrix(-0.41717 -0.24420 0.00000 0.50000 1640.12 428.93)" d="M0 2l1-3 1-2 1 7 1-7 1 5 1 0 1-4 1 0 1 4 1-4 1 3 1 2 1-7 1-1 1 9 1-13 1 22 1-20 1 13 1-3 1-6 1 0 1 7 1-1 1-5 1-2 1 8 1-7 1 6 1-1 1-5 1 0 1 7 1-6 1 4 1-10 1 14 1-3 1-6 1-2 1 8 1-5 1 5 1-1 1-6 1 6 1-3 1-1 1 4 1 0 1-5 1 6 1-5 1 0 1 4 1-5 1 7 1-18 1 24 1-4 1-12 1 10 1-8 1 1 1 6 1-1 1-4 1 4 1-4 1 0 1 4 1-4 1 5 1-6 1 6 1-5 1 5 1-1 1-13 1 1 1 20 1-16 1 10 1 0 1-7 1 5 1-5 1 1 1 6 1-7 1 5 1 0 1-4 1 0 1 5 1-5 1 3 1 1 1-5 1-4 1 14 1-9 1 5 1-6 1 5 1 3 1-8 1 5 1-5 1 5 1-4 1 3 1-3 1-1 1 5 1 1 1-7 1 2 1 4 1 0 1-4 1-9 1 20 1-5 1-8 1 2 1 4 1 1 1-7 1 2 1 5 1-1 1-5 1 2 1 3 1-6 1 6 1-4 1 4 1 0 1-4 1 7 1-15 1 17 1-14 1 10 1-5 1-3 1 9 1-1 1-7 1 0 1 9 1-7 1 4 1 1 1-6 1 1 1 4 1-5 1 5 1 2 1-7 1-7 1 18 1-12 1 7 1-8 1 8 1-5 1 6 1-2 1-4 1 5 1-6 1 0 1 5 1-5 1 5 1 0 1-4 1 0 1 5 1 1 1-7 1 13 1-14 1 7 1-6 1 7 1-7 1 6 1-5 1 4 1-5 1 5 1-5 1 0 1 5 1-4 1 5 1-1 1-3 1-2 1 5 1-10 1 16 1-13 1 9 1 0 1-6 1-1 1 5 1-4 1 6 1-2 1-5" stroke="#4DBEEE" stroke-width="0.65" fill="none" vector-effect="non-scaling-stroke" opacity="0.8"/>
<path transform="matrix(-0.41717 -0.24420 0.00000 0.50000 1640.12 428.93)" d="M0 0l1 1 1 2 1-5 1 0 1 3 1 0 1-2 1 0 1 2 1 0 1-2 1 0 1 3 1 0 1-4 1-3 1 12 1-4 1-6 1 1 1 3 1 1 1-4 1 1 1 3 1 0 1-4 1 0 1 4 1-1 1-3 1 0 1 4 1-1 1-2 1-3 1 6 1 0 1-4 1-1 1 5 1 0 1-4 1 0 1 3 1 0 1-2 1 0 1 3 1 0 1-4 1 1 1 3 1-1 1-2 1 0 1 3 1 1 1-10 1 3 1 7 1 0 1-4 1-1 1 3 1 0 1-2 1 0 1 2 1 0 1-3 1 1 1 3 1-1 1-3 1 1 1 3 1-1 1-2 1-5 1 10 1-2 1-4 1 1 1 3 1 0 1-4 1 0 1 4 1-1 1-3 1 0 1 3 1 1 1-3 1-1 1 3 1 0 1-2 1-3 1 7 1-1 1-3 1-1 1 3 1 2 1-5 1 0 1 4 1-1 1-3 1 1 1 2 1 0 1-2 1-2 1 4 1 1 1-3 1-1 1 3 1 3 1-11 1 5 1 5 1-2 1-2 1-1 1 4 1 0 1-3 1 0 1 2 1 0 1-2 1-1 1 3 1 0 1-2 1-1 1 4 1 0 1-4 1 0 1 5 1-1 1-3 1-1 1 4 1 0 1-4 1-1 1 6 1-2 1-2 1-1 1 4 1 0 1-3 1-1 1 3 1 1 1-5 1-2 1 7 1 0 1-5 1 0 1 5 1 0 1-3 1 0 1 2 1 1 1-3 1-1 1 3 1 0 1-3 1 1 1 2 1 1 1-3 1 0 1 3 1 4 1-9 1 1 1 4 1 0 1-4 1 1 1 3 1-1 1-3 1 1 1 3 1-1 1-3 1 1 1 3 1-1 1-2 1-1 1 3 1 1 1-6 1 1 1 6 1 0 1-4 1-1 1 3 1 1 1-3 1-1 1 3" stroke="#4DBEEE" stroke-width="0.95" fill="none" vector-effect="non-scaling-stroke"/>
<path transform="matrix(-0.41717 -0.24420 0.00000 0.50000 1623.79 435.64)" d="M0 2l1-3 1-4 1 10 1-3 1-6 1 1 1 5 1 0 1-4 1 3 1-3 1 6 1-9 1 1 1 9 1-15 1 23 1-20 1 12 1-1 1-8 1-1 1 10 1-2 1-6 1-1 1 8 1-7 1 7 1-2 1-6 1 7 1-5 1 0 1 5 1-12 1 20 1-15 1 8 1-9 1 9 1 0 1-6 1-1 1 6 1-1 1-3 1 4 1-5 1-2 1 6 1-4 1 5 1-6 1 5 1-5 1 6 1-19 1 21 1-12 1 11 1 1 1-8 1-1 1 8 1-1 1-5 1 4 1-4 1-1 1 4 1-3 1 4 1-6 1 6 1-5 1 7 1-2 1-14 1 4 1 15 1-15 1 15 1-3 1-7 1 5 1-5 1 1 1 6 1-7 1 5 1 0 1-5 1 1 1 5 1-5 1 4 1 0 1-5 1-5 1 15 1-4 1-6 1 5 1-5 1 9 1-8 1 5 1-6 1 1 1 4 1 0 1-5 1 1 1 4 1-7 1 7 1-5 1 7 1-1 1-7 1-9 1 24 1-7 1-7 1 1 1 4 1 1 1-7 1 1 1 6 1-6 1 5 1-4 1 4 1-5 1 5 1-4 1 4 1 0 1-5 1 9 1-14 1 1 1 13 1-3 1-6 1-1 1 8 1-1 1-7 1 0 1 9 1-8 1 6 1 0 1-7 1 2 1 5 1-6 1 4 1 4 1-8 1-9 1 21 1-15 1 10 1-8 1 5 1-4 1 7 1-2 1-5 1 7 1-6 1-1 1 6 1-7 1 6 1 0 1-4 1-1 1 6 1 1 1-7 1 14 1-15 1 7 1-6 1 6 1-6 1 5 1-4 1 4 1-5 1 6 1-5 1-2 1 7 1-5 1 5 1-1 1-4 1-2 1 7 1-12 1 19 1-17 1 12 1 0 1-8 1-1 1 6 1-4 1 8 1-4 1-5" stroke="#77AC30" stroke-width="0.65" fill="none" vector-effect="non-scaling-stroke" opacity="0.8"/>
<path transform="matrix(-0.41717 -0.24420 0.00000 0.50000 1623.79 435.64)" d="M0 0l1 1 1 2 1-5 1 0 1 3 1 0 1-3 1 1 1 2 1 0 1-2 1 0 1 2 1 2 1-6 1-2 1 10 1-2 1-5 1 0 1 4 1 1 1-5 1 1 1 3 1 2 1-6 1 0 1 4 1-1 1-3 1 0 1 4 1-1 1-2 1-4 1 9 1-1 1-5 1-1 1 5 1 0 1-4 1 0 1 4 1-1 1-2 1 0 1 3 1 0 1-4 1 1 1 3 1-1 1-3 1 0 1 4 1 0 1-7 1 2 1 5 1 0 1-3 1-2 1 5 1 0 1-3 1 0 1 3 1-1 1-3 1 0 1 4 1-1 1-3 1 1 1 3 1-1 1-2 1-3 1 6 1 1 1-6 1 2 1 3 1-1 1-3 1 1 1 3 1 0 1-4 1 0 1 3 1 1 1-3 1 0 1 2 1 0 1-2 1-3 1 8 1-2 1-4 1 0 1 3 1 2 1-5 1 0 1 4 1-1 1-3 1 1 1 2 1 1 1-3 1-2 1 4 1 1 1-4 1 0 1 3 1 2 1-10 1 5 1 5 1-1 1-3 1-1 1 4 1 0 1-3 1-1 1 3 1 1 1-3 1-1 1 3 1 1 1-3 1-1 1 4 1 0 1-4 1-1 1 7 1-2 1-3 1-2 1 5 1 0 1-4 1-1 1 7 1-3 1-2 1-1 1 4 1 0 1-3 1 0 1 2 1 1 1-4 1-6 1 12 1-1 1-6 1 1 1 3 1 1 1-3 1-1 1 3 1 1 1-3 1-2 1 5 1 0 1-4 1 1 1 2 1 1 1-3 1 0 1 3 1 3 1-7 1 0 1 4 1 0 1-4 1 1 1 2 1 0 1-3 1 1 1 3 1-1 1-4 1 2 1 3 1-1 1-2 1-1 1 3 1 1 1-6 1 0 1 8 1-2 1-4 1 0 1 3 1 1 1-4 1 0 1 3" stroke="#77AC30" stroke-width="0.95" fill="none" vector-effect="non-scaling-stroke"/>
<path transform="matrix(-0.41717 -0.24420 0.00000 0.50000 1607.45 442.35)" d="M0 2l1-3 1-4 1 10 1-9 1 6 1 0 1-5 1 1 1 4 1-1 1-3 1 6 1-10 1 2 1 7 1-14 1 20 1-13 1 9 1-2 1-6 1 8 1-8 1 6 1-5 1-1 1 8 1-1 1-6 1-3 1 8 1 0 1-5 1 4 1-4 1-10 1 18 1-1 1-9 1 0 1 8 1-1 1-5 1 5 1-6 1 5 1-4 1 4 1-4 1 4 1-5 1 6 1-5 1-1 1 5 1-5 1 6 1-23 1 26 1-2 1-11 1 14 1-10 1-3 1 9 1 0 1-4 1 3 1-5 1-1 1 5 1-3 1 5 1-8 1 7 1-4 1 5 1-1 1-17 1 20 1-9 1-4 1 14 1-3 1-6 1 5 1-5 1 1 1 5 1-6 1 5 1-5 1 6 1-6 1 7 1-6 1 4 1 0 1-5 1-7 1 14 1-1 1-6 1 5 1-5 1 1 1 9 1-5 1-5 1 1 1 4 1 0 1-5 1 1 1 4 1-7 1 7 1-5 1 5 1 2 1-7 1-14 1 23 1 1 1-10 1 1 1 4 1 2 1-9 1 2 1 7 1-7 1 5 1-4 1 4 1-5 1 5 1-4 1 4 1 1 1-6 1 11 1-16 1 5 1 6 1 0 1-6 1 0 1 8 1-2 1-8 1 1 1 9 1-2 1-6 1 6 1-6 1 2 1 4 1-7 1 5 1 5 1-10 1-9 1 20 1-13 1 10 1-3 1-6 1 2 1 6 1-1 1-5 1 1 1 6 1-7 1 5 1-5 1 6 1-1 1-4 1-2 1 6 1 3 1-7 1 0 1 17 1-11 1-6 1-1 1 7 1-1 1-5 1 4 1-5 1 7 1-6 1-3 1 8 1-5 1 5 1-1 1-3 1-2 1 6 1-16 1 19 1-11 1 11 1-8 1 8 1-9 1 5 1-4 1 6 1-2 1-5" stroke="#7E2F8E" stroke-width="0.65" fill="none" vector-effect="non-scaling-stroke" opacity="0.8"/>
<path transform="matrix(-0.41717 -0.24420 0.00000 0.50000 1607.45 442.35)" d="M0 -1l1 2 1 2 1-5 1 0 1 4 1-1 1-3 1 1 1 3 1-1 1-3 1 1 1 2 1 1 1-4 1 0 1 5 1-1 1-5 1 1 1 3 1 2 1-5 1 1 1 3 1 1 1-5 1 0 1 4 1-1 1-3 1 0 1 4 1 0 1-3 1-4 1 7 1 0 1-4 1-1 1 5 1 0 1-3 1-1 1 4 1 0 1-3 1-1 1 4 1 0 1-4 1 1 1 3 1-1 1-3 1 0 1 4 1 1 1-8 1 3 1 4 1 0 1-3 1-1 1 3 1 0 1-2 1 0 1 3 1-1 1-3 1 1 1 3 1-1 1-2 1 0 1 3 1 0 1-4 1-1 1 4 1 2 1-6 1 1 1 4 1-1 1-3 1 1 1 3 1-1 1-3 1 0 1 3 1 1 1-3 1 0 1 2 1 1 1-4 1 0 1 5 1-1 1-4 1 0 1 3 1 2 1-4 1-1 1 4 1-1 1-3 1 1 1 2 1 1 1-3 1-2 1 5 1 0 1-3 1-1 1 3 1 1 1-4 1 0 1 4 1 0 1-3 1-1 1 4 1 0 1-3 1-1 1 3 1 0 1-2 1-1 1 4 1-1 1-3 1 0 1 4 1-1 1-3 1 1 1 3 1 0 1-4 1 1 1 3 1 0 1-4 1-1 1 6 1-1 1-3 1-1 1 4 1 0 1-3 1-1 1 3 1 1 1-4 1-2 1 7 1-1 1-4 1 0 1 3 1 1 1-3 1-1 1 3 1 1 1-3 1-1 1 4 1-1 1-2 1-1 1 3 1 1 1-3 1 0 1 3 1 2 1-6 1 1 1 3 1 1 1-5 1 1 1 3 1 0 1-4 1 1 1 3 1-1 1-3 1 1 1 3 1-1 1-2 1-2 1 4 1 1 1-4 1-1 1 6 1-1 1-3 1-1 1 3 1 1 1-3 1-1 1 3" stroke="#7E2F8E" stroke-width="0.95" fill="none" vector-effect="non-scaling-stroke"/>
<path transform="matrix(-0.41717 -0.24420 0.00000 0.50000 1591.11 449.06)" d="M0 2l1-4 1-5 1 14 1-11 1 7 1-1 1-5 1 1 1 4 1-6 1 6 1 3 1-12 1 0 1 12 1-22 1 31 1-23 1 16 1-2 1-8 1 9 1-10 1 8 1-7 1-1 1 12 1-12 1 9 1-11 1 14 1-13 1 11 1-3 1-7 1-12 1 23 1-1 1-11 1-1 1 11 1-9 1 8 1 0 1-11 1 10 1-6 1 6 1-6 1-2 1 8 1-6 1 8 1-8 1 6 1-7 1 8 1-31 1 45 1-6 1-21 1 18 1-17 1 1 1 10 1 0 1-6 1 6 1-6 1-1 1 6 1-5 1 7 1-11 1 12 1-1 1-7 1 6 1-23 1 40 1-36 1 7 1 14 1-8 1 7 1 0 1-9 1 10 1-9 1 0 1 6 1-7 1 10 1-10 1 11 1-9 1 6 1 0 1-7 1-11 1 23 1-13 1 12 1-11 1 8 1 4 1-11 1 7 1-8 1 7 1-6 1 5 1-6 1 6 1-5 1 7 1-10 1 2 1 7 1 1 1-6 1-22 1 39 1-6 1-14 1 2 1 6 1 2 1-12 1 5 1 6 1-8 1 8 1-7 1 7 1-10 1 9 1-6 1 5 1 1 1-7 1 14 1-21 1 2 1 17 1-4 1-6 1-6 1 16 1-4 1-10 1 0 1 14 1-11 1 6 1 1 1-7 1 6 1-5 1-2 1 6 1 6 1-14 1-12 1 28 1-16 1 10 1-13 1 14 1-8 1 9 1-4 1-5 1 7 1-8 1 0 1 7 1-6 1 7 1-1 1-6 1-1 1 8 1 2 1-9 1 23 1-28 1 15 1-12 1 1 1 10 1-10 1 7 1 0 1-6 1 8 1-8 1-3 1 9 1-5 1 6 1-6 1 5 1-7 1 7 1-20 1 26 1-14 1 10 1-10 1 13 1-14 1 9 1-5 1 7 1-3 1-5" stroke="#EDB120" stroke-width="0.65" fill="none" vector-effect="non-scaling-stroke" opacity="0.8"/>
<path transform="matrix(-0.41717 -0.24420 0.00000 0.50000 1591.11 449.06)" d="M0 -1l1 3 1 1 1-6 1 0 1 5 1 0 1-4 1 1 1 3 1-1 1-3 1 0 1 4 1 2 1-7 1-4 1 16 1-4 1-10 1 2 1 5 1 2 1-6 1 1 1 3 1 1 1-6 1 0 1 5 1 0 1-5 1 0 1 6 1-1 1-4 1-1 1 5 1 1 1-5 1-2 1 7 1 0 1-5 1 0 1 4 1 0 1-3 1-1 1 4 1 1 1-6 1 1 1 5 1-1 1-4 1 0 1 5 1 2 1-18 1 5 1 15 1-3 1-7 1 1 1 4 1 0 1-3 1-1 1 4 1 0 1-5 1 1 1 4 1 0 1-5 1 1 1 4 1 0 1-4 1-8 1 18 1-5 1-6 1 1 1 5 1-1 1-6 1 2 1 5 1-1 1-5 1 0 1 5 1 0 1-4 1 0 1 4 1 0 1-5 1 0 1 7 1-2 1-5 1 0 1 5 1 1 1-5 1 0 1 4 1-1 1-3 1 1 1 2 1 1 1-3 1-3 1 7 1 0 1-5 1 0 1 4 1 4 1-15 1 5 1 8 1-2 1-3 1-1 1 4 1 0 1-4 1 0 1 4 1 0 1-4 1-2 1 6 1-1 1-3 1 0 1 4 1 2 1-6 1-3 1 10 1-2 1-5 1-2 1 8 1-1 1-6 1 0 1 7 1-2 1-4 1 0 1 4 1 0 1-3 1-2 1 4 1 3 1-8 1-1 1 9 1-2 1-5 1-1 1 7 1-1 1-4 1 0 1 3 1 2 1-5 1 0 1 4 1 0 1-4 1 0 1 3 1 1 1-3 1-1 1 4 1 6 1-12 1 1 1 5 1 2 1-6 1 0 1 4 1 0 1-4 1 1 1 3 1 0 1-5 1 1 1 4 1-1 1-3 1 0 1 4 1 1 1-6 1 0 1 6 1 0 1-6 1 0 1 5 1 0 1-3 1-1 1 4" stroke="#EDB120" stroke-width="0.95" fill="none" vector-effect="non-scaling-stroke"/>
<path transform="matrix(-0.41717 -0.24420 0.00000 0.50000 1574.77 455.77)" d="M0 3l1-5 1-10 1 21 1-14 1 9 1-1 1-6 1-2 1 10 1-10 1 9 1 3 1-20 1 25 1-26 1 58 1-80 1 13 1 41 1-28 1 19 1-24 1 26 1-4 1-13 1 0 1 18 1-23 1 20 1-18 1 18 1 2 1-21 1 19 1-17 1-15 1 51 1-36 1 19 1-21 1 20 1-20 1 20 1-4 1-15 1 14 1-9 1 11 1-12 1 11 1-16 1 5 1 13 1-13 1 10 1 5 1-17 1-33 1 77 1-17 1-38 1 30 1-23 1 1 1 18 1-1 1-14 1 12 1-11 1 10 1-11 1 14 1-13 1-5 1 19 1-13 1 13 1-3 1-38 1 67 1-66 1 18 1 29 1-21 1 14 1-17 1 17 1 0 1-15 1 13 1-13 1 14 1-16 1 2 1 18 1-16 1 9 1 1 1-12 1-14 1 40 1-28 1 19 1-3 1-14 1 18 1-17 1 12 1-11 1 9 1-8 1 7 1-8 1-1 1 10 1-12 1 15 1-15 1 15 1-16 1 15 1-40 1 64 1-19 1-21 1 4 1 11 1-16 1 19 1-14 1 13 1-13 1 13 1-13 1 11 1 2 1-15 1 4 1 9 1-1 1-9 1-26 1 57 1-51 1 44 1-24 1 11 1-18 1 24 1-6 1-15 1 0 1 22 1-19 1 11 1 1 1-12 1 0 1 12 1-12 1 10 1 8 1-21 1 36 1-55 1 16 1 21 1 2 1-24 1 7 1 14 1-3 1-12 1 16 1-18 1 0 1 16 1-14 1 15 1-4 1-7 1-4 1 12 1 2 1-14 1 36 1-50 1 32 1-18 1 1 1 15 1-15 1 11 1-1 1-8 1 12 1-16 1 1 1 12 1-9 1 11 1-3 1-9 1 12 1-15 1-15 1 52 1-14 1-32 1 26 1-17 1-1 1 17 1-15 1 16 1-4 1-10" stroke="#D95319" stroke-width="0.65" fill="none" vector-effect="non-scaling-stroke" opacity="0.8"/>
<path transform="matrix(-0.41717 -0.24420 0.00000 0.50000 1574.77 455.77)" d="M0 -1l1 3 1 4 1-12 1 3 1 5 1 0 1-4 1 0 1 4 1 0 1-5 1-1 1 8 1 3 1-13 1-8 1 32 1-9 1-18 1 4 1 10 1 3 1-14 1 2 1 8 1 1 1-9 1-1 1 10 1-2 1-7 1 0 1 9 1-2 1-5 1-9 1 20 1-4 1-11 1 0 1 12 1-1 1-10 1 1 1 8 1-1 1-5 1-2 1 9 1-1 1-9 1 2 1 8 1-2 1-6 1-2 1 9 1 6 1-27 1 5 1 24 1-6 1-11 1 0 1 9 1-1 1-6 1 0 1 5 1 1 1-7 1 1 1 7 1 2 1-13 1 4 1 6 1 0 1-7 1-9 1 27 1-8 1-12 1 3 1 6 1 1 1-9 1 2 1 8 1-2 1-8 1 1 1 9 1-2 1-6 1 0 1 5 1 1 1-6 1-6 1 16 1-1 1-12 1 2 1 8 1 0 1-8 1 1 1 7 1-2 1-4 1-1 1 5 1 1 1-6 1-2 1 9 1 1 1-9 1 0 1 7 1 12 1-31 1 9 1 16 1-6 1-6 1-1 1 8 1 0 1-7 1-1 1 7 1 0 1-6 1-2 1 8 1-1 1-5 1 0 1 6 1 2 1-8 1-5 1 17 1-5 1-7 1-4 1 15 1-4 1-7 1-2 1 10 1-2 1-7 1 1 1 6 1 1 1-7 1 0 1 6 1 2 1-11 1-10 1 30 1-8 1-13 1 2 1 9 1 0 1-7 1-1 1 7 1 1 1-7 1-3 1 11 1-2 1-7 1 2 1 4 1 2 1-6 1-2 1 9 1 6 1-20 1 3 1 12 1-1 1-10 1 2 1 6 1-1 1-5 1 1 1 5 1 0 1-7 1 1 1 6 1 0 1-6 1 0 1 6 1 4 1-15 1-1 1 18 1-2 1-12 1 0 1 8 1 0 1-6 1-1 1 7" stroke="#D95319" stroke-width="0.95" fill="none" vector-effect="non-scaling-stroke"/>
<path transform="matrix(-0.41717 -0.24420 0.00000 0.50000 1558.44 462.49)" d="M0 4l1-7 1-17 1 37 1-24 1 11 1-10 1 10 1-9 1 10 1-12 1 13 1 8 1-28 1-1 1 30 1 44 1-112 1 22 1 55 1-41 1 36 1 6 1-43 1 29 1-23 1 33 1-31 1-3 1 28 1-28 1 28 1-26 1 21 1-23 1 22 1-55 1 80 1-47 1 25 1-26 1 27 1 4 1-32 1 29 1-25 1 18 1-12 1 18 1-23 1 22 1-23 1 25 1-25 1 18 1-16 1-4 1 23 1-70 1 105 1-18 1-58 1 49 1-37 1 0 1 32 1 0 1-23 1 16 1-13 1 12 1-13 1 20 1-22 1-7 1 32 1-6 1-15 1 15 1-69 1 113 1-96 1 15 1 48 1-27 1 18 1-2 1-20 1 28 1-28 1 0 1 18 1-17 1 20 1-21 1 24 1-20 1 12 1 3 1-16 1-29 1 67 1-47 1 33 1-26 1 18 1 4 1-19 1 0 1 15 1-2 1-12 1 10 1-9 1 15 1-19 1-3 1 20 1-19 1 21 1 2 1-24 1-41 1 100 1-30 1-29 1 20 1-16 1 20 1-28 1 9 1 16 1-21 1 25 1-23 1 20 1-1 1-19 1 4 1 13 1-13 1 12 1 26 1-66 1 5 1 53 1-33 1 18 1 8 1-33 1 24 1-17 1-6 1 28 1-6 1-15 1 14 1-16 1 23 1-22 1 3 1 11 1 10 1-26 1-48 1 109 1-65 1 30 1-34 1 34 1-25 1 22 1-25 1 21 1 5 1-25 1-4 1 30 1-23 1 18 1-13 1 9 1-14 1 16 1-18 1 22 1 19 1-54 1 43 1-33 1 24 1-19 1 2 1 14 1-1 1-11 1 18 1-24 1 20 1-19 1 3 1 16 1-16 1 12 1 5 1-21 1-35 1 81 1-57 1 43 1-5 1-30 1 25 1-25 1 6 1 20 1-21 1 18" stroke="#0072BD" stroke-width="0.65" fill="none" vector-effect="non-scaling-stroke" opacity="0.8"/>
<path transform="matrix(-0.41717 -0.24420 0.00000 0.50000 1558.44 462.49)" d="M0 -2l1 4 1 6 1-15 1 4 1 6 1 0 1-5 1-2 1 7 1-1 1-6 1 0 1 8 1 6 1-21 1-14 1 51 1-12 1-29 1 7 1 15 1 5 1-24 1 6 1 11 1 2 1-12 1-3 1 14 1 0 1-11 1-1 1 13 1-1 1-12 1-13 1 38 1-9 1-17 1-3 1 17 1 0 1-13 1-3 1 15 1-1 1-8 1-2 1 10 1 1 1-12 1 2 1 9 1-1 1-7 1-3 1 14 1 5 1-36 1 7 1 31 1-8 1-13 1-1 1 14 1-3 1-8 1-1 1 9 1-1 1-8 1 0 1 11 1 0 1-13 1 3 1 10 1-1 1-11 1-16 1 42 1-7 1-23 1 5 1 10 1 1 1-14 1 4 1 9 1 1 1-13 1 0 1 13 1-2 1-8 1 1 1 6 1 1 1-9 1-9 1 29 1-5 1-18 1 2 1 12 1 0 1-12 1 2 1 8 1-1 1-6 1 1 1 5 1 1 1-7 1-2 1 10 1 2 1-13 1 0 1 11 1 11 1-36 1 11 1 17 1-2 1-10 1-2 1 12 1 1 1-12 1-1 1 10 1 0 1-7 1-4 1 11 1-1 1-7 1 1 1 6 1 4 1-13 1-10 1 29 1-8 1-9 1-6 1 19 1-4 1-9 1-2 1 15 1-4 1-11 1 2 1 9 1 1 1-10 1-1 1 9 1 4 1-17 1-14 1 41 1-8 1-20 1 2 1 16 1-2 1-11 1-1 1 11 1 1 1-12 1-1 1 15 1-2 1-11 1 3 1 4 1 1 1-6 1-3 1 12 1 12 1-32 1 6 1 16 1-1 1-12 1 1 1 8 1-2 1-6 1 0 1 9 1 0 1-10 1 1 1 9 1-2 1-7 1-3 1 12 1 3 1-17 1-3 1 25 1-5 1-15 1-2 1 16 1-2 1-10 1 1 1 8" stroke="#0072BD" stroke-width="0.95" fill="none" vector-effect="non-scaling-stroke"/>
<text class="k3 e" x="1429.70" y="445.20">-4</text>
<text class="k3 e" x="1429.70" y="427.30">-2</text>
<text class="k3 e" x="1429.70" y="409.40">0</text>
<text class="k3 e" x="1429.70" y="391.50">2</text>
<text class="k3 e" x="1429.70" y="373.60">4</text>
<text class="k3 e" x="1537.80" y="515.80">0</text>
<text class="k3 e" x="1510.45" y="500.20">0.1</text>
<text class="k3 e" x="1483.10" y="484.60">0.2</text>
<text class="k3 e" x="1455.75" y="469.00">0.3</text>
<text class="k3 e" x="1428.40" y="453.40">0.4</text>
<text class="k3" x="1566.14" y="510.29">Original signal</text>
<text class="k3" x="1582.47" y="503.57">M=2</text>
<text class="k3" x="1598.81" y="496.86">M=3</text>
<text class="k3" x="1615.15" y="490.15">M=4</text>
<text class="k3" x="1631.49" y="483.44">M=5</text>
<text class="k3" x="1647.83" y="476.73">M=6</text>
<text class="k3" x="1664.16" y="470.01">M=7</text>
<text class="k3 m" x="1484.90" y="510.70">Time</text>
<text class="k3 m" transform="translate(1418.30 406.80) rotate(-90)">Amplitude</text>
<path d="M246.30 1031.30L376.80 977.60M376.80 977.60L376.80 906.10M219.55 1015.45L350.05 961.75M350.05 961.75L350.05 890.25M192.80 999.60L323.30 945.90M323.30 945.90L323.30 874.40M166.05 983.75L296.55 930.05M296.55 930.05L296.55 858.55M139.30 967.90L269.80 914.20M269.80 914.20L269.80 842.70M246.30 1031.30L139.30 967.90M139.30 967.90L139.30 896.40M262.61 1024.59L155.61 961.19M155.61 961.19L155.61 889.69M278.93 1017.88L171.93 954.48M171.93 954.48L171.93 882.98M295.24 1011.16L188.24 947.76M188.24 947.76L188.24 876.26M311.55 1004.45L204.55 941.05M204.55 941.05L204.55 869.55M327.86 997.74L220.86 934.34M220.86 934.34L220.86 862.84M344.18 991.02L237.18 927.62M237.18 927.62L237.18 856.12M360.49 984.31L253.49 920.91M253.49 920.91L253.49 849.41M376.80 977.60L269.80 914.20M269.80 914.20L269.80 842.70M139.30 963.64L269.80 909.94M269.80 909.94L376.80 973.34M139.30 941.23L269.80 887.53M269.80 887.53L376.80 950.93M139.30 918.81L269.80 865.11M269.80 865.11L376.80 928.51M139.30 896.40L269.80 842.70M269.80 842.70L376.80 906.10M139.30 896.40L269.80 842.70M269.80 842.70L376.80 906.10" stroke="#e6e6e6" stroke-width="0.6" fill="none"/>
<path d="M139.30 967.90L139.30 896.40M139.30 967.90L246.30 1031.30M246.30 1031.30L376.80 977.60M139.30 963.64L136.71 964.71M139.30 941.23L136.71 942.29M139.30 918.81L136.71 919.88M139.30 896.40L136.71 897.47M246.30 1031.30L243.34 1032.52M219.55 1015.45L216.59 1016.67M192.80 999.60L189.84 1000.82M166.05 983.75L163.09 984.97M139.30 967.90L136.34 969.12M262.61 1024.59L265.37 1026.22M278.93 1017.88L281.68 1019.51M295.24 1011.16L297.99 1012.79M311.55 1004.45L314.30 1006.08M327.86 997.74L330.62 999.37M344.18 991.02L346.93 992.66M360.49 984.31L363.24 985.94" stroke="#333" stroke-width="0.75" fill="none"/>
<path transform="matrix(-0.41493 -0.24586 0.00000 0.50000 360.49 957.64)" d="M0 -2l1 4 1-17 1 19 1-1 1-8 1 9 1-17 1 15 1-9 1 17 1-22 1 5 1 10 1 1 1-19 1 19 1-12 1 1 1 11 1-10 1 9 1-7 1 11 1-1 1-14 1 10 1-12 1 1 1 12 1-7 1 6 1-11 1 12 1-8 1 8 1-11 1 11 1-7 1 6 1-16 1 18 1 0 1-11 1-1 1 12 1-11 1 10 1 1 1-13 1 4 1 9 1-8 1 8 1-13 1 12 1-8 1 8 1-1 1-17 1 17 1-8 1 10 1-15 1 7 1 6 1 6 1-22 1 8 1 8 1-14 1 17 1-11 1 9 1-17 1 17 1-12 1 15 1-2 1-11 1-1 1 10 1-6 1 13 1-3 1-16 1 6 1 9 1-18 1 18 1-10 1 8 1-22 1 23 1-2 1-8 1 13 1-15 1 3 1 7 1-1 1-9 1 11 1-6 1 9 1-14 1 1 1 12 1-21 1 18 1-15 1 19 1-1 1-10 1 8 1-9 1 1 1 9 1 1 1-13 1 4 1 6 1 2 1-12 1 3 1 8 1-17 1 17 1 1 1-10 1 11 1-14 1 3 1 8 1 6 1-20 1 17 1-10 1 9 1-15 1 14 1-12 1 13 1-10 1-2 1 11 1-1 1-5 1-7 1 17 1-13 1 8 1 3 1-16 1 6 1 8 1-12 1 12 1-9 1 10 1-15 1 16 1-2 1-11 1 10 1-11 1 3 1 9 1 2 1-13 1 10 1-6 1 5 1-6 1-1 1 10 1-1 1-7 1-11 1 19 1-2 1-8 1 16 1-24 1 16 1-6 1 9 1-18 1 16 1-7 1 9 1-15 1 5 1 6 1 7 1-22 1 17 1-11 1 13 1-15 1 13 1-8 1 8 1-13 1 15 1-18 1 17 1-12 1-3 1 14 1-7 1 8 1-14 1 17 1-12 1 7 1 5 1-18 1 13 1-6" stroke="#A2142F" stroke-width="0.65" fill="none" vector-effect="non-scaling-stroke" opacity="0.8"/>
<path transform="matrix(-0.41493 -0.24586 0.00000 0.50000 360.49 957.64)" d="M0 -2l1 3 1 0 1-12 1 8 1 5 1-1 1-12 1 7 1 5 1 3 1-12 1 4 1 6 1-2 1-10 1 5 1 7 1 0 1-6 1 1 1 5 1 0 1-5 1-4 1 10 1-2 1-7 1-1 1 9 1-1 1-4 1-3 1 8 1 0 1-5 1-2 1 7 1-1 1-4 1-7 1 11 1 1 1-6 1-2 1 8 1 0 1-6 1 0 1 5 1 0 1-5 1 2 1 5 1-1 1-8 1 2 1 5 1 0 1-11 1 7 1 4 1 1 1-9 1 4 1 4 1 4 1-12 1 3 1 5 1 0 1-10 1 6 1 5 1-1 1-12 1 5 1 8 1-1 1-5 1-1 1 7 1 0 1-6 1-3 1 9 1 0 1-4 1-6 1 9 1 1 1-5 1-10 1 15 1-1 1-5 1-2 1 9 1-2 1-5 1-1 1 6 1 1 1-4 1-1 1 7 1-2 1-6 1-6 1 11 1 0 1-6 1 2 1 4 1 1 1-7 1 2 1 5 1 1 1-9 1 3 1 4 1 1 1-8 1 3 1 5 1-1 1-11 1 5 1 7 1 0 1-8 1 1 1 7 1 2 1-11 1 3 1 6 1-1 1-8 1 1 1 7 1 1 1-5 1-1 1 6 1-1 1-4 1-4 1 11 1-2 1-5 1-4 1 10 1-2 1-4 1-4 1 9 1-1 1-5 1-5 1 10 1 1 1-7 1 1 1 5 1 2 1-6 1-2 1 7 1-1 1-4 1 1 1 2 1 1 1-6 1 2 1 4 1 1 1-12 1 7 1 4 1 4 1-12 1 4 1 5 1 0 1-9 1 4 1 4 1 2 1-10 1 3 1 5 1 3 1-11 1 2 1 7 1 0 1-9 1 4 1 4 1 0 1-4 1-6 1 12 1 0 1-6 1-5 1 10 1-1 1-3 1-6 1 10 1-1 1-4 1-3 1 9 1-2 1-4" stroke="#A2142F" stroke-width="0.95" fill="none" vector-effect="non-scaling-stroke"/>
<path transform="matrix(-0.41493 -0.24586 0.00000 0.50000 344.18 964.35)" d="M0 -3l1 4 1-19 1 24 1-3 1-10 1-13 1 27 1-5 1-8 1 18 1-21 1 5 1 7 1-17 1 17 1-12 1 12 1-9 1 9 1-7 1 7 1-7 1 13 1-15 1 8 1-10 1 10 1-14 1 16 1-8 1 6 1 0 1-11 1 5 1 7 1-11 1 13 1-9 1 6 1-17 1 19 1 0 1-11 1 10 1-12 1 2 1 11 1 1 1-12 1 10 1-8 1 1 1 10 1-14 1 10 1-7 1 8 1-20 1 21 1-1 1-9 1 8 1-14 1 14 1-6 1 15 1-26 1 9 1 8 1-15 1 17 1-1 1-8 1 7 1-16 1 5 1 16 1-15 1 12 1-13 1 13 1-9 1 14 1-4 1-13 1 3 1 10 1-14 1 14 1-9 1 7 1-20 1 20 1-8 1 6 1 7 1-19 1 5 1 9 1-1 1-11 1 5 1 7 1 4 1-13 1-2 1 13 1-3 1-17 1 4 1 15 1-9 1 9 1-10 1 8 1-6 1 10 1-2 1-11 1 3 1 6 1-13 1 18 1-12 1 8 1-20 1 23 1-12 1 11 1 0 1-17 1 5 1 11 1 7 1-22 1 3 1 13 1 1 1-20 1 18 1-14 1 14 1-9 1-4 1 12 1-1 1-6 1 10 1-17 1 5 1 9 1-16 1 16 1-8 1 8 1-14 1 15 1-11 1 11 1-17 1 19 1-3 1-12 1 12 1-13 1 2 1 12 1 2 1-13 1 3 1 6 1-1 1-6 1-3 1 12 1 0 1-8 1-11 1 20 1-3 1-8 1 19 1-23 1 14 1-9 1 11 1-19 1 15 1-6 1 12 1-17 1 3 1 7 1 9 1-24 1 18 1-12 1 13 1-16 1 5 1 10 1-1 1-13 1-1 1 14 1 0 1-8 1-9 1 19 1-11 1 11 1-15 1 13 1-8 1 7 1 5 1-17 1 12 1-6" stroke="#4DBEEE" stroke-width="0.65" fill="none" vector-effect="non-scaling-stroke" opacity="0.8"/>
<path transform="matrix(-0.41493 -0.24586 0.00000 0.50000 344.18 964.35)" d="M0 -2l1 3 1 1 1-15 1 10 1 6 1 0 1-13 1 5 1 6 1 2 1-10 1 3 1 6 1-2 1-10 1 5 1 7 1 0 1-6 1 1 1 4 1 1 1-5 1-2 1 6 1 0 1-7 1-1 1 9 1-1 1-3 1-3 1 6 1 0 1-4 1-3 1 9 1-1 1-4 1-8 1 12 1-1 1-5 1-1 1 7 1 0 1-6 1 0 1 5 1 0 1-5 1 1 1 6 1-1 1-6 1 0 1 5 1 2 1-13 1 6 1 6 1 0 1-9 1 5 1 3 1 3 1-11 1 3 1 5 1 1 1-11 1 6 1 5 1-1 1-10 1 4 1 6 1 0 1-5 1-1 1 7 1 0 1-6 1-2 1 7 1 1 1-4 1-5 1 9 1 0 1-5 1-9 1 13 1 0 1-4 1-4 1 11 1-2 1-7 1-2 1 8 1 0 1-3 1-1 1 6 1-1 1-6 1-6 1 10 1 1 1-6 1 2 1 5 1-2 1-4 1 1 1 5 1 0 1-8 1 3 1 4 1 2 1-11 1 4 1 6 1 0 1-12 1 5 1 7 1 1 1-11 1 3 1 7 1 1 1-9 1 1 1 7 1-1 1-8 1-1 1 10 1 1 1-7 1-1 1 7 1-1 1-4 1-4 1 11 1-2 1-5 1-4 1 10 1-2 1-4 1-3 1 8 1-1 1-5 1-7 1 14 1-1 1-8 1 2 1 6 1 1 1-6 1-2 1 6 1 0 1-4 1 0 1 3 1 2 1-8 1 4 1 3 1 1 1-14 1 9 1 4 1 3 1-9 1 2 1 5 1 1 1-11 1 5 1 4 1 2 1-8 1 2 1 4 1 2 1-9 1 1 1 7 1 1 1-11 1 4 1 6 1 0 1-5 1-7 1 12 1 1 1-7 1-6 1 13 1-1 1-5 1-4 1 8 1 0 1-4 1-4 1 10 1-2 1-4" stroke="#4DBEEE" stroke-width="0.95" fill="none" vector-effect="non-scaling-stroke"/>
<path transform="matrix(-0.41493 -0.24586 0.00000 0.50000 327.86 971.07)" d="M0 -3l1 5 1-19 1 20 1-9 1 9 1-20 1 21 1-1 1-9 1 20 1-22 1 1 1 11 1-2 1-17 1 8 1 9 1 3 1-11 1 9 1-8 1 2 1 14 1-17 1 9 1-1 1-11 1 0 1 12 1-7 1 7 1-12 1 11 1-6 1 8 1 2 1-14 1 10 1-5 1 4 1-16 1 18 1-9 1 9 1-9 1 0 1 10 1 2 1-13 1 10 1-8 1 1 1 12 1-14 1 8 1-7 1 8 1 0 1-18 1 10 1 9 1-1 1-12 1 6 1 6 1 10 1-22 1 4 1 7 1 0 1-18 1 19 1-6 1 6 1-20 1 12 1 12 1-2 1-12 1 0 1 12 1-9 1 15 1-5 1-12 1 2 1 9 1-16 1 13 1-6 1 7 1-23 1 23 1 0 1-10 1 17 1-19 1 3 1 9 1 0 1-13 1 14 1-7 1 12 1-14 1-3 1 12 1-3 1-19 1 11 1 11 1 1 1-10 1 1 1 6 1-6 1 12 1-5 1-8 1-1 1 8 1 4 1-16 1 4 1 9 1-18 1 19 1 1 1-10 1 12 1-17 1 3 1 10 1 9 1-20 1 11 1-10 1 9 1-14 1 2 1 12 1 5 1-13 1 0 1 9 1-1 1-6 1 10 1-14 1 3 1 8 1-1 1-11 1 4 1 7 1-12 1 14 1-11 1 11 1-19 1 20 1-2 1-13 1 14 1-14 1 4 1 10 1-10 1 13 1-11 1 6 1-1 1-7 1-1 1 11 1 0 1-7 1-15 1 20 1 0 1-7 1 22 1-24 1 11 1-9 1 12 1-18 1 13 1-6 1 14 1-17 1 2 1 8 1 10 1-22 1 12 1-10 1 12 1-17 1 7 1 9 1-1 1-15 1 5 1 10 1 1 1-10 1-10 1 21 1-10 1 9 1-3 1-13 1 15 1-9 1 14 1-16 1 11 1-7" stroke="#77AC30" stroke-width="0.65" fill="none" vector-effect="non-scaling-stroke" opacity="0.8"/>
<path transform="matrix(-0.41493 -0.24586 0.00000 0.50000 327.86 971.07)" d="M0 -2l1 3 1 1 1-14 1 9 1 5 1 0 1-14 1 8 1 4 1 3 1-9 1 3 1 4 1-1 1-8 1 4 1 5 1 1 1-6 1 1 1 5 1 0 1-5 1-2 1 7 1-1 1-7 1 1 1 6 1 0 1-4 1-3 1 7 1 0 1-4 1-2 1 7 1-1 1-3 1-7 1 10 1 0 1-5 1 0 1 5 1 0 1-5 1 0 1 5 1 0 1-5 1 2 1 5 1-2 1-5 1 0 1 6 1 0 1-11 1 6 1 5 1-1 1-8 1 5 1 4 1 0 1-7 1 2 1 4 1-1 1-7 1 4 1 4 1 0 1-9 1 4 1 5 1 0 1-5 1 0 1 6 1 0 1-6 1 0 1 4 1 2 1-5 1-4 1 8 1 1 1-5 1-6 1 10 1 0 1-4 1-2 1 7 1 0 1-6 1-2 1 7 1 1 1-4 1-1 1 5 1 0 1-6 1-4 1 9 1-1 1-4 1 1 1 5 1-1 1-5 1 1 1 6 1-2 1-5 1 1 1 5 1 0 1-9 1 3 1 6 1 0 1-12 1 6 1 6 1 1 1-11 1 3 1 8 1-1 1-8 1 2 1 6 1 0 1-9 1 0 1 8 1 1 1-6 1 0 1 5 1 0 1-4 1-3 1 8 1 0 1-5 1-3 1 7 1 0 1-4 1-4 1 9 1-1 1-5 1-6 1 11 1 1 1-9 1 3 1 6 1 1 1-6 1-1 1 6 1-2 1-2 1-1 1 3 1 1 1-7 1 4 1 4 1-2 1-9 1 5 1 5 1 0 1-6 1 2 1 5 1 0 1-8 1 3 1 4 1 2 1-7 1 1 1 4 1 1 1-7 1 1 1 5 1 1 1-10 1 4 1 6 1 0 1-6 1-2 1 7 1 3 1-8 1-6 1 12 1 0 1-5 1-3 1 6 1 1 1-4 1-2 1 7 1-1 1-4" stroke="#77AC30" stroke-width="0.95" fill="none" vector-effect="non-scaling-stroke"/>
<path transform="matrix(-0.41493 -0.24586 0.00000 0.50000 311.55 977.78)" d="M0 2l1-6 1-14 1 20 1 2 1-10 1 12 1-23 1 19 1-9 1 23 1-32 1 5 1 15 1-23 1 23 1-12 1 12 1-17 1 20 1-3 1-10 1 1 1 17 1-2 1-24 1 19 1-17 1 4 1 11 1-7 1 7 1-17 1 23 1-15 1 11 1 1 1-11 1 1 1 7 1-1 1-21 1 23 1-11 1 13 1-12 1-1 1 11 1 2 1-18 1 19 1-13 1 15 1-15 1-5 1 15 1 2 1-13 1 11 1-20 1 9 1 12 1-2 1-11 1 5 1 8 1 11 1-30 1 9 1 8 1-21 1 23 1-1 1-8 1-18 1 30 1-18 1 17 1 0 1-16 1 3 1 11 1-10 1 13 1 7 1-27 1 7 1 10 1 2 1-23 1 11 1 9 1-28 1 34 1-18 1 11 1 9 1-20 1 2 1 9 1 1 1-13 1 12 1-6 1 14 1-22 1 1 1 16 1-29 1 30 1-19 1 20 1-12 1 11 1-19 1 21 1-15 1 14 1 4 1-21 1 2 1 11 1-11 1 15 1-4 1-11 1 11 1-24 1 24 1-9 1 14 1-18 1 14 1-13 1 22 1-24 1 15 1-12 1 10 1-17 1 18 1-12 1 16 1-15 1 9 1-7 1 8 1-7 1-10 1 22 1-14 1 10 1-14 1 13 1-8 1 8 1 0 1-15 1 5 1 12 1-23 1 20 1 1 1-14 1 18 1-13 1 0 1 11 1 3 1-18 1 6 1 8 1-3 1-9 1 9 1-9 1 14 1-9 1-19 1 26 1-9 1 7 1 19 1-38 1 20 1-9 1 16 1-21 1 15 1-10 1 17 1-24 1 8 1 10 1 12 1-31 1 20 1-14 1 14 1-21 1 18 1-9 1 12 1-21 1 26 1-26 1 20 1-12 1-8 1 18 1-7 1 8 1-19 1 24 1-5 1-10 1 16 1-21 1 15 1-8" stroke="#7E2F8E" stroke-width="0.65" fill="none" vector-effect="non-scaling-stroke" opacity="0.8"/>
<path transform="matrix(-0.41493 -0.24586 0.00000 0.50000 311.55 977.78)" d="M0 -2l1 3 1 0 1-10 1 6 1 6 1-2 1-8 1 2 1 6 1 5 1-17 1 6 1 8 1 0 1-13 1 5 1 6 1 1 1-6 1-1 1 7 1 0 1-5 1-5 1 14 1-4 1-8 1 0 1 8 1 0 1-5 1-5 1 11 1-1 1-6 1 0 1 5 1 1 1-5 1-5 1 9 1 1 1-6 1-1 1 7 1 0 1-7 1-1 1 8 1 1 1-8 1 1 1 7 1-1 1-8 1 2 1 6 1-2 1-9 1 6 1 5 1 0 1-9 1 4 1 5 1 3 1-13 1 4 1 5 1 1 1-10 1 5 1 5 1 0 1-15 1 8 1 9 1-2 1-8 1 1 1 7 1 1 1-7 1-5 1 13 1-2 1-5 1-8 1 14 1 0 1-6 1-12 1 20 1-3 1-7 1 0 1 6 1 0 1-6 1 0 1 7 1 0 1-4 1-2 1 8 1-2 1-8 1-8 1 16 1 1 1-9 1 3 1 6 1 0 1-10 1 3 1 7 1 0 1-10 1 2 1 7 1 0 1-7 1 0 1 8 1-1 1-10 1 4 1 7 1-1 1-7 1 0 1 7 1 0 1-10 1 3 1 8 1-2 1-6 1-1 1 6 1 2 1-6 1 1 1 4 1 1 1-6 1-4 1 12 1-1 1-6 1-5 1 10 1-1 1-5 1-1 1 7 1 0 1-6 1-1 1 5 1 1 1-8 1 2 1 7 1 1 1-7 1-1 1 7 1 0 1-5 1 0 1 4 1-1 1-5 1 3 1 5 1-2 1-9 1 4 1 5 1 6 1-15 1 5 1 4 1 1 1-9 1 3 1 5 1 3 1-12 1 4 1 6 1 2 1-12 1 3 1 7 1 0 1-7 1 1 1 6 1 0 1-6 1-5 1 12 1 1 1-7 1-3 1 6 1 2 1-6 1-6 1 13 1-1 1-6 1-3 1 11 1-2 1-5" stroke="#7E2F8E" stroke-width="0.95" fill="none" vector-effect="non-scaling-stroke"/>
<path transform="matrix(-0.41493 -0.24586 0.00000 0.50000 295.24 984.49)" d="M0 4l1-9 1-20 1 36 1-4 1-16 1 19 1-34 1 30 1-18 1 32 1-44 1 10 1 22 1-35 1 43 1-32 1 26 1-29 1 32 1-23 1 17 1-12 1 24 1-45 1 45 1-37 1 33 1-31 1 24 1-14 1 11 1 10 1-38 1 31 1-16 1-7 1 24 1-5 1-11 1-18 1 37 1-22 1 19 1 4 1-27 1 3 1 18 1-28 1 35 1-1 1-23 1 23 1-25 1 21 1-27 1 25 1-15 1 18 1-34 1 14 1 16 1 8 1-33 1 13 1 13 1 16 1-52 1 20 1 16 1-32 1 39 1-22 1 15 1-39 1 50 1-7 1-29 1 31 1-26 1 1 1 18 1-14 1 20 1 9 1-43 1 15 1 13 1-34 1 43 1-23 1 13 1-38 1 51 1-10 1-20 1 27 1-32 1 6 1 16 1 3 1-25 1 12 1 9 1 11 1-32 1 2 1 24 1-41 1 50 1-39 1 35 1-21 1 17 1-27 1 32 1-21 1 18 1-29 1 36 1-27 1 14 1-23 1 28 1-5 1-16 1-13 1 36 1-5 1-15 1-11 1 32 1-5 1-19 1 28 1-37 1 9 1 19 1-29 1 33 1-30 1 26 1 1 1-24 1 22 1-17 1 3 1 11 1 9 1-40 1 35 1-20 1 29 1-41 1 17 1 11 1-22 1 24 1-18 1 20 1-34 1 41 1-10 1-19 1-1 1 24 1-21 1 17 1 5 1-27 1 9 1 13 1-4 1-12 1 17 1-19 1 22 1-15 1-24 1 42 1-21 1 14 1 21 1-54 1 32 1-14 1 24 1-39 1 16 1 14 1 8 1-38 1 16 1 16 1 14 1-47 1 13 1 21 1 1 1-29 1 8 1 17 1 0 1-26 1 43 1-50 1 33 1-16 1-10 1 33 1-4 1-20 1-9 1 35 1-22 1 14 1 7 1-34 1 13 1 12" stroke="#EDB120" stroke-width="0.65" fill="none" vector-effect="non-scaling-stroke" opacity="0.8"/>
<path transform="matrix(-0.41493 -0.24586 0.00000 0.50000 295.24 984.49)" d="M0 -3l1 5 1 5 1-23 1 12 1 8 1 1 1-22 1 11 1 9 1 7 1-26 1 9 1 11 1 2 1-23 1 8 1 14 1 2 1-15 1 2 1 10 1-1 1-7 1-9 1 22 1-4 1-15 1-1 1 16 1-2 1-8 1-6 1 20 1-5 1-10 1-3 1 15 1-3 1-7 1-13 1 23 1-2 1-10 1-3 1 15 1-2 1-12 1-3 1 15 1 2 1-13 1 2 1 9 1 1 1-13 1 2 1 9 1 1 1-17 1 9 1 8 1 2 1-17 1 7 1 8 1 9 1-27 1 9 1 8 1 4 1-20 1 7 1 10 1 1 1-23 1 8 1 18 1-3 1-15 1 3 1 11 1-1 1-8 1-8 1 24 1-8 1-7 1-14 1 28 1-7 1-7 1-18 1 32 1-6 1-10 1-3 1 17 1-5 1-10 1-1 1 11 1-1 1-5 1-4 1 17 1-6 1-12 1-4 1 15 1 5 1-18 1 6 1 8 1 1 1-16 1 6 1 9 1 4 1-20 1 7 1 7 1 4 1-17 1 5 1 10 1 2 1-22 1 9 1 12 1 2 1-19 1 7 1 7 1 5 1-21 1 7 1 12 1-2 1-11 1-2 1 14 1 1 1-12 1 1 1 11 1-3 1-6 1-10 1 25 1-7 1-9 1-8 1 21 1-5 1-8 1-6 1 16 1-1 1-11 1-5 1 17 1-1 1-11 1 0 1 11 1 1 1-12 1-2 1 13 1 0 1-9 1 1 1 6 1 2 1-12 1 5 1 7 1 3 1-23 1 12 1 7 1 12 1-30 1 10 1 8 1 4 1-19 1 7 1 8 1 5 1-19 1 5 1 10 1 7 1-23 1 3 1 15 1-1 1-12 1 0 1 11 1-2 1-7 1-13 1 30 1-8 1-9 1-9 1 21 1-3 1-8 1-13 1 30 1-10 1-8 1-6 1 18 1-3 1-8" stroke="#EDB120" stroke-width="0.95" fill="none" vector-effect="non-scaling-stroke"/>
<path transform="matrix(-0.41493 -0.24586 0.00000 0.50000 278.93 991.20)" d="M0 -7l1 12 1 19 1-63 1 49 1-26 1-35 1 80 1-46 1 27 1-47 1 65 1-44 1 27 1-53 1 75 1-58 1 41 1-47 1 49 1-37 1 28 1-17 1 24 1 16 1-62 1 2 1 42 1 10 1-56 1 40 1-18 1 31 1-52 1 41 1-23 1-8 1 36 1-8 1-18 1 36 1-61 1 20 1 29 1-37 1 42 1-34 1 28 1-41 1 48 1-2 1-30 1 32 1-38 1-3 1 35 1-1 1-23 1 33 1-62 1 26 1 23 1 14 1-51 1 36 1-18 1 46 1-75 1 50 1-27 1-23 1 64 1-37 1 23 1-55 1 77 1-14 1-43 1-3 1 49 1-11 1-29 1 7 1 17 1 26 1-66 1 21 1 22 1-43 1 60 1-19 1-18 1-39 1 77 1-17 1-29 1 44 1-58 1 17 1 24 1 9 1-42 1 18 1 14 1 15 1-49 1 9 1 30 1-58 1 74 1-53 1 50 1-37 1 27 1-43 1 48 1-14 1-16 1-20 1 52 1-30 1 14 1 21 1-60 1 42 1-21 1 41 1-72 1 57 1-26 1-22 1 55 1-39 1 31 1 14 1-62 1 20 1 29 1 20 1-73 1 13 1 41 1 5 1-44 1 36 1-28 1 7 1 15 1 20 1-60 1 50 1-30 1 42 1-61 1 20 1 20 1-32 1 43 1-34 1 28 1-49 1 62 1-14 1-27 1 36 1-43 1 5 1 27 1 7 1-41 1 15 1 20 1-6 1-17 1 26 1-32 1 31 1-21 1-31 1 62 1-34 1 21 1 26 1-80 1 54 1-22 1-21 1 55 1-34 1 22 1 17 1-55 1 41 1-24 1 41 1-70 1 22 1 31 1-41 1 45 1-33 1 27 1-3 1-39 1 63 1-67 1 46 1-23 1 39 1-64 1 52 1-29 1-16 1 57 1-40 1 25 1 10 1-49 1 36 1-17" stroke="#D95319" stroke-width="0.65" fill="none" vector-effect="non-scaling-stroke" opacity="0.8"/>
<path transform="matrix(-0.41493 -0.24586 0.00000 0.50000 278.93 991.20)" d="M0 -5l1 8 1 13 1-45 1 22 1 14 1 9 1-36 1 11 1 16 1 10 1-39 1 12 1 19 1 3 1-38 1 13 1 21 1 4 1-23 1 2 1 16 1-4 1-7 1-14 1 34 1-9 1-20 1-3 1 26 1-6 1-11 1-10 1 30 1-7 1-14 1-8 1 28 1-7 1-11 1-18 1 35 1-4 1-16 1-4 1 25 1-5 1-17 1-2 1 19 1 1 1-19 1 3 1 13 1 3 1-19 1 3 1 12 1 8 1-34 1 14 1 14 1 6 1-28 1 10 1 12 1 13 1-44 1 17 1 15 1 6 1-34 1 12 1 17 1-3 1-32 1 13 1 25 1-3 1-20 1 2 1 17 1-2 1-11 1-14 1 36 1-11 1-11 1-20 1 40 1-9 1-11 1-20 1 40 1-10 1-12 1-8 1 31 1-9 1-17 1-1 1 19 1-2 1-10 1-4 1 21 1-7 1-15 1-7 1 22 1 5 1-25 1 9 1 13 1 3 1-24 1 8 1 10 1 10 1-30 1 9 1 12 1 8 1-32 1 10 1 15 1 4 1-31 1 11 1 20 1 5 1-34 1 11 1 13 1 10 1-31 1 6 1 18 1-3 1-12 1-13 1 31 1-3 1-17 1-3 1 22 1-5 1-12 1-14 1 36 1-8 1-17 1-11 1 37 1-10 1-14 1-6 1 23 1-1 1-18 1-13 1 37 1-7 1-18 1 1 1 17 1 0 1-16 1-1 1 19 1-3 1-15 1 4 1 7 1 7 1-23 1 10 1 9 1 8 1-34 1 14 1 12 1 18 1-42 1 11 1 13 1 8 1-33 1 13 1 12 1 7 1-31 1 11 1 14 1 10 1-34 1 5 1 22 1 0 1-23 1 4 1 17 1-4 1-10 1-16 1 39 1-12 1-9 1-18 1 36 1-7 1-13 1-17 1 37 1-7 1-12 1-13 1 31 1-6 1-13" stroke="#D95319" stroke-width="0.95" fill="none" vector-effect="non-scaling-stroke"/>
<path transform="matrix(-0.41493 -0.24586 0.00000 0.50000 262.61 997.92)" d="M0 8l1-16 1-54 1 100 1-25 1-30 1-43 1 93 1-19 1-36 1 67 1-83 1 18 1 34 1-68 1 89 1-69 1 51 1 13 1-63 1 12 1 33 1-21 1 48 1-81 1 73 1-83 1 84 1-66 1 53 1-34 1 25 1-48 1 69 1-49 1 29 1 16 1-65 1 24 1 24 1-62 1 81 1-47 1 37 1-53 1 61 1-47 1 36 1 11 1-63 1 59 1-41 1 43 1-47 1 38 1-45 1 41 1-27 1-38 1 87 1-53 1 33 1 15 1-70 1 53 1-29 1 63 1-107 1 77 1-37 1 53 1-75 1 26 1 34 1-82 1 100 1-11 1-56 1 60 1-60 1 8 1 37 1-27 1 22 1 33 1-82 1 27 1 24 1 19 1-77 1 56 1-21 1-41 1 88 1-19 1-36 1 57 1-80 1 14 1 44 1 13 1-67 1 49 1-20 1 37 1-59 1 9 1 36 1-73 1 97 1-69 1 59 1-42 1 40 1-54 1 55 1-16 1-20 1-20 1 61 1-39 1 18 1 30 1-89 1 33 1 27 1-63 1 91 1-22 1-36 1 54 1-79 1 28 1 35 1 17 1-72 1 16 1 36 1-65 1 86 1-78 1 70 1-1 1-53 1 1 1 45 1-33 1 24 1 17 1-75 1 67 1-42 1 58 1-83 1 29 1 29 1-46 1 54 1-43 1 40 1-86 1 111 1-61 1 35 1-47 1 54 1-44 1 32 1 14 1-49 1 10 1 27 1-6 1-37 1 51 1-46 1 43 1-29 1-47 1 91 1-48 1 29 1 33 1-93 1 59 1-30 1 54 1-89 1 39 1 25 1 17 1-71 1 30 1 26 1 27 1-85 1 19 1 42 1-56 1 65 1-53 1 43 1-6 1-72 1 106 1-89 1 58 1-28 1-43 1 94 1-17 1-44 1-30 1 85 1-44 1 27 1 12 1-57 1 20 1 23" stroke="#0072BD" stroke-width="0.65" fill="none" vector-effect="non-scaling-stroke" opacity="0.8"/>
<path transform="matrix(-0.41493 -0.24586 0.00000 0.50000 262.61 997.92)" d="M0 -6l1 10 1 17 1-48 1 18 1 17 1 16 1-61 1 24 1 23 1 8 1-47 1 17 1 22 1 8 1-48 1 14 1 27 1 0 1-26 1 8 1 15 1-3 1-11 1-15 1 37 1-7 1-25 1-7 1 39 1-11 1-12 1-12 1 32 1-6 1-16 1-9 1 33 1-9 1-14 1-20 1 45 1-8 1-22 1-2 1 31 1-8 1-22 1-3 1 22 1 6 1-24 1 4 1 16 1 4 1-24 1 5 1 13 1 10 1-40 1 15 1 17 1 9 1-42 1 17 1 16 1 20 1-54 1 16 1 19 1 11 1-44 1 14 1 19 1 4 1-30 1 0 1 32 1-3 1-28 1 4 1 22 1-3 1-14 1-13 1 41 1-12 1-17 1-16 1 46 1-15 1-14 1-29 1 57 1-15 1-15 1-12 1 39 1-9 1-21 1-6 1 29 1-3 1-13 1-8 1 30 1-10 1-16 1-6 1 22 1 10 1-33 1 11 1 12 1 5 1-31 1 12 1 13 1 11 1-38 1 14 1 12 1 13 1-40 1 13 1 17 1 12 1-47 1 15 1 25 1 12 1-55 1 21 1 17 1 12 1-44 1 13 1 22 1 1 1-22 1-15 1 39 1-1 1-24 1-2 1 26 1-7 1-14 1-16 1 48 1-13 1-21 1-13 1 44 1-14 1-15 1-10 1 31 1-4 1-20 1-10 1 37 1-5 1-25 1 5 1 22 1-3 1-21 1-3 1 22 1 1 1-18 1 4 1 10 1 8 1-27 1 9 1 12 1 10 1-41 1 15 1 17 1 14 1-49 1 18 1 19 1 9 1-40 1 12 1 17 1 10 1-35 1 7 1 19 1 11 1-36 1-1 1 29 1 4 1-32 1 5 1 22 1-5 1-13 1-22 1 51 1-15 1-13 1-25 1 53 1-12 1-17 1-17 1 48 1-16 1-16 1-13 1 37 1-8 1-17" stroke="#0072BD" stroke-width="0.95" fill="none" vector-effect="non-scaling-stroke"/>
<text class="k3 e" x="133.50" y="966.24">-1</text>
<text class="k3 e" x="133.50" y="943.83">0</text>
<text class="k3 e" x="133.50" y="921.41">1</text>
<text class="k3 e" x="133.50" y="899.00">2</text>
<text class="k3 e" x="242.00" y="1042.10">0</text>
<text class="k3 e" x="214.55" y="1026.25">0.1</text>
<text class="k3 e" x="187.10" y="1010.40">0.2</text>
<text class="k3 e" x="159.65" y="994.55">0.3</text>
<text class="k3 e" x="132.20" y="978.70">0.4</text>
<text class="k3" x="270.31" y="1036.59">Original signal</text>
<text class="k3" x="286.62" y="1029.88">M=2</text>
<text class="k3" x="302.94" y="1023.16">M=3</text>
<text class="k3" x="319.25" y="1016.45">M=4</text>
<text class="k3" x="335.56" y="1009.74">M=5</text>
<text class="k3" x="351.88" y="1003.02">M=6</text>
<text class="k3" x="368.19" y="996.31">M=7</text>
<text class="k3 m" x="189.10" y="1037.00">Time</text>
<text class="k3 m" transform="translate(122.10 932.15) rotate(-90)">Amplitude</text>
<path d="M567.90 1031.30L698.40 977.60M698.40 977.60L698.40 906.10M541.20 1015.45L671.70 961.75M671.70 961.75L671.70 890.25M514.50 999.60L645.00 945.90M645.00 945.90L645.00 874.40M487.80 983.75L618.30 930.05M618.30 930.05L618.30 858.55M461.10 967.90L591.60 914.20M591.60 914.20L591.60 842.70M567.90 1031.30L461.10 967.90M461.10 967.90L461.10 896.40M584.21 1024.59L477.41 961.19M477.41 961.19L477.41 889.69M600.52 1017.88L493.73 954.48M493.73 954.48L493.73 882.98M616.84 1011.16L510.04 947.76M510.04 947.76L510.04 876.26M633.15 1004.45L526.35 941.05M526.35 941.05L526.35 869.55M649.46 997.74L542.66 934.34M542.66 934.34L542.66 862.84M665.77 991.02L558.98 927.62M558.98 927.62L558.98 856.12M682.09 984.31L575.29 920.91M575.29 920.91L575.29 849.41M698.40 977.60L591.60 914.20M591.60 914.20L591.60 842.70M461.10 967.90L591.60 914.20M591.60 914.20L698.40 977.60M461.10 950.02L591.60 896.33M591.60 896.33L698.40 959.73M461.10 932.15L591.60 878.45M591.60 878.45L698.40 941.85M461.10 914.27L591.60 860.58M591.60 860.58L698.40 923.98M461.10 896.40L591.60 842.70M591.60 842.70L698.40 906.10M461.10 896.40L591.60 842.70M591.60 842.70L698.40 906.10" stroke="#e6e6e6" stroke-width="0.6" fill="none"/>
<path d="M461.10 967.90L461.10 896.40M461.10 967.90L567.90 1031.30M567.90 1031.30L698.40 977.60M461.10 967.90L458.51 968.97M461.10 950.02L458.51 951.09M461.10 932.15L458.51 933.22M461.10 914.27L458.51 915.34M461.10 896.40L458.51 897.47M567.90 1031.30L564.94 1032.52M541.20 1015.45L538.24 1016.67M514.50 999.60L511.54 1000.82M487.80 983.75L484.84 984.97M461.10 967.90L458.14 969.12M584.21 1024.59L586.96 1026.22M600.52 1017.88L603.28 1019.51M616.84 1011.16L619.59 1012.80M633.15 1004.45L635.90 1006.08M649.46 997.74L652.21 999.37M665.77 991.02L668.53 992.66M682.09 984.31L684.84 985.95" stroke="#333" stroke-width="0.75" fill="none"/>
<path transform="matrix(-0.41795 -0.24811 0.00000 0.50000 682.09 948.56)" d="M0 6l1-10 1 1 1 6 1-8 1 12 1-3 1-10 1 17 1-18 1 11 1-8 1 13 1-16 1 2 1 9 1-9 1 13 1-1 1-14 1-2 1 17 1-13 1 11 1-15 1 16 1 0 1-14 1 11 1-11 1 19 1-19 1 9 1-6 1 8 1-8 1 6 1-10 1 14 1-13 1 2 1 13 1 1 1-15 1 10 1-8 1 11 1-15 1 12 1-7 1-5 1 15 1-10 1 6 1 7 1-18 1 5 1 7 1-12 1 18 1-6 1-9 1 10 1-9 1 7 1-6 1-4 1 15 1-14 1 10 1-13 1 15 1-10 1 7 1-5 1 8 1-11 1 10 1-8 1 7 1 1 1-9 1 2 1 11 1-3 1-13 1 2 1 12 1 2 1-16 1 10 1-6 1 10 1-14 1 12 1-9 1 11 1-15 1 11 1-7 1-4 1 15 1-2 1-8 1 8 1-10 1 9 1-9 1 10 1-11 1 1 1 10 1-9 1 11 1-3 1-8 1-3 1 15 1-4 1-10 1 3 1 9 1-2 1-9 1 3 1 8 1-12 1 11 1-10 1 9 1 0 1-9 1 9 1-10 1 0 1 10 1-1 1-6 1 12 1-15 1 10 1-8 1 12 1-13 1 10 1-7 1 11 1-19 1 16 1-11 1 11 1-9 1-1 1 7 1 3 1-10 1 7 1-7 1-2 1 14 1-3 1-9 1 11 1-10 1-2 1 10 1 2 1-13 1-1 1 11 1-7 1 14 1-5 1-14 1 12 1-7 1-6 1 18 1-13 1 8 1-10 1 11 1-7 1 5 1-15 1 19 1-11 1 8 1 6 1-15 1 0 1 11 1 0 1-12 1 10 1-7 1-2 1 10 1-2 1-8 1 16 1-20 1 4 1 9 1 6 1-17 1 11 1-9 1 2 1 8 1-2 1-7 1 7 1-10 1 12 1-11 1 9 1-6" stroke="#A2142F" stroke-width="0.65" fill="none" vector-effect="non-scaling-stroke" opacity="0.8"/>
<path transform="matrix(-0.41795 -0.24811 0.00000 0.50000 682.09 948.56)" d="M0 -3l1 7 1-2 1-4 1-3 1 8 1 0 1-5 1-2 1 10 1-4 1-4 1-3 1 11 1-2 1-7 1 0 1 9 1-4 1-5 1-2 1 7 1 1 1-6 1-3 1 8 1 1 1-7 1 1 1 5 1 2 1-9 1 2 1 5 1 0 1-5 1 1 1 4 1 2 1-8 1 2 1 5 1 2 1-9 1 2 1 5 1 3 1-10 1 2 1 4 1 2 1-10 1 3 1 5 1 5 1-12 1 3 1 4 1 4 1-11 1 2 1 5 1 1 1-6 1 1 1 4 1 4 1-8 1-2 1 6 1 1 1-9 1 4 1 5 1 0 1-4 1-3 1 7 1 0 1-5 1 0 1 5 1 0 1-5 1-1 1 7 1-1 1-5 1-1 1 7 1-2 1-4 1-3 1 9 1-2 1-4 1-3 1 7 1 0 1-4 1-4 1 9 1 0 1-5 1 0 1 6 1-1 1-6 1-2 1 7 1 1 1-5 1 0 1 6 1-1 1-5 1-3 1 7 1 1 1-6 1 1 1 5 1 0 1-6 1 1 1 4 1 2 1-8 1 1 1 5 1 1 1-6 1 0 1 5 1 0 1-7 1 3 1 4 1 5 1-10 1 1 1 5 1 2 1-8 1 1 1 5 1 1 1-10 1 4 1 5 1 1 1-7 1 1 1 4 1 0 1-4 1-1 1 5 1 3 1-7 1-1 1 5 1 2 1-6 1-1 1 7 1 0 1-6 1-1 1 6 1 4 1-9 1-5 1 11 1-1 1-5 1-3 1 9 1-2 1-4 1 0 1 5 1-1 1-3 1-5 1 10 1-2 1-5 1 0 1 8 1-1 1-7 1 0 1 7 1-1 1-6 1 1 1 4 1-1 1-3 1 0 1 8 1-3 1-6 1 1 1 8 1-3 1-6 1 2 1 4 1-1 1-5 1 0 1 5 1 1 1-6 1 2 1 2" stroke="#A2142F" stroke-width="0.95" fill="none" vector-effect="non-scaling-stroke"/>
<path transform="matrix(-0.41795 -0.24811 0.00000 0.50000 665.77 955.27)" d="M0 7l1-10 1-1 1 7 1-10 1 15 1-4 1-10 1 19 1-19 1 10 1-8 1 14 1-16 1 10 1-9 1 13 1-14 1 13 1-15 1-4 1 17 1-9 1 10 1-16 1 16 1-1 1-12 1-1 1 12 1 10 1-23 1 12 1-8 1 9 1-9 1 8 1-11 1 13 1-11 1 1 1 8 1 7 1-14 1 9 1-8 1 11 1-18 1 7 1 7 1-14 1 18 1-5 1-7 1 14 1-16 1 4 1 5 1-12 1 19 1-6 1-7 1-2 1 11 1-9 1 7 1 4 1-16 1 2 1 10 1-14 1 16 1-9 1 7 1 2 1-8 1 7 1-11 1 11 1-9 1 11 1-12 1 2 1 13 1-14 1 9 1-10 1 9 1 6 1-16 1 9 1-6 1 11 1-14 1 10 1-7 1-7 1 15 1-2 1-7 1-7 1 17 1-9 1 7 1 1 1-8 1 7 1-8 1 11 1-14 1 1 1 11 1 3 1-13 1 10 1-10 1-2 1 13 1-1 1-10 1 1 1 11 1-1 1-11 1 3 1 9 1-16 1 16 1-12 1 8 1-8 1 9 1 0 1-9 1-3 1 11 1 0 1-7 1 14 1-16 1 11 1-9 1 14 1-16 1 11 1-8 1-7 1 18 1-2 1-10 1 0 1 10 1-9 1 8 1 1 1-11 1 9 1-8 1 12 1-16 1 14 1-11 1 13 1-14 1 1 1 10 1 3 1-12 1-2 1 10 1-7 1 15 1-19 1 10 1 0 1-6 1-6 1 17 1-12 1 7 1-10 1 12 1-7 1 4 1-14 1 19 1-11 1 8 1 4 1-13 1 0 1 11 1 1 1-13 1 11 1-8 1-3 1 11 1 0 1-10 1 18 1-21 1 2 1 10 1 6 1-16 1 11 1-10 1 1 1 10 1-1 1-9 1 7 1-12 1 14 1-11 1 11 1-8" stroke="#4DBEEE" stroke-width="0.65" fill="none" vector-effect="non-scaling-stroke" opacity="0.8"/>
<path transform="matrix(-0.41795 -0.24811 0.00000 0.50000 665.77 955.27)" d="M0 -2l1 6 1-2 1-4 1-2 1 6 1 1 1-6 1 0 1 9 1-3 1-5 1-1 1 9 1-3 1-6 1 0 1 9 1-4 1-4 1-1 1 5 1 0 1-5 1-2 1 7 1 0 1-6 1 1 1 5 1 3 1-10 1 2 1 4 1 2 1-7 1 1 1 5 1 1 1-7 1 2 1 5 1 1 1-7 1 2 1 3 1 4 1-10 1 1 1 5 1 2 1-9 1 2 1 5 1 4 1-10 1 2 1 5 1 2 1-10 1 2 1 5 1 1 1-5 1 0 1 4 1 5 1-10 1 0 1 5 1 2 1-9 1 2 1 6 1-1 1-3 1-2 1 6 1 0 1-6 1 0 1 7 1 0 1-6 1 1 1 4 1 0 1-5 1-2 1 10 1-4 1-5 1-2 1 9 1-2 1-5 1-2 1 7 1 0 1-4 1-4 1 9 1 0 1-5 1-1 1 6 1-1 1-5 1-3 1 9 1 1 1-6 1-1 1 8 1-2 1-6 1-2 1 7 1 1 1-6 1 1 1 5 1 0 1-7 1 2 1 4 1 3 1-10 1 2 1 5 1 1 1-7 1 1 1 5 1 0 1-7 1 3 1 4 1 5 1-12 1 2 1 6 1 3 1-10 1 2 1 5 1 2 1-12 1 5 1 6 1-1 1-4 1-1 1 4 1 1 1-5 1-1 1 5 1 4 1-9 1 0 1 6 1 2 1-7 1-1 1 7 1 0 1-6 1-1 1 5 1 3 1-7 1-2 1 7 1 0 1-5 1-4 1 11 1-3 1-5 1 0 1 7 1-2 1-3 1-7 1 14 1-4 1-5 1-1 1 9 1-1 1-7 1-1 1 8 1-1 1-6 1 0 1 5 1 0 1-5 1 2 1 6 1-2 1-6 1 0 1 10 1-5 1-6 1 2 1 5 1 0 1-6 1 0 1 5 1 1 1-6 1 2 1 2" stroke="#4DBEEE" stroke-width="0.95" fill="none" vector-effect="non-scaling-stroke"/>
<path transform="matrix(-0.41795 -0.24811 0.00000 0.50000 649.46 961.99)" d="M0 9l1-12 1-1 1 7 1-13 1 15 1-2 1-8 1 20 1-19 1 8 1-7 1 14 1-15 1 7 1-8 1 2 1 13 1-4 1-13 1-7 1 20 1-1 1-9 1-8 1 14 1 2 1-9 1-5 1 15 1 6 1-18 1 10 1-7 1 9 1-10 1 8 1-13 1 13 1-7 1 0 1 9 1 6 1-15 1 10 1-9 1 14 1-17 1 3 1 7 1-16 1 16 1-1 1-6 1 15 1-20 1 13 1-8 1-8 1 16 1-2 1-7 1 11 1-11 1 7 1-6 1 0 1 13 1-7 1-6 1-7 1 16 1-2 1-7 1 1 1 9 1-3 1-10 1 11 1-10 1 13 1-13 1 2 1 14 1-5 1-11 1 1 1 9 1 6 1-15 1 7 1-7 1 13 1-15 1 10 1-7 1-8 1 16 1-1 1-8 1-10 1 17 1-6 1 6 1-6 1 10 1-4 1-8 1-4 1 15 1-12 1 11 1 4 1-13 1-1 1 9 1-13 1 14 1-9 1 7 1-8 1 13 1-4 1-9 1 2 1 12 1-16 1 13 1-12 1 9 1-9 1 9 1-7 1 7 1-13 1 13 1 1 1-8 1 16 1-16 1 1 1 8 1 6 1-15 1 9 1-7 1-8 1 18 1-3 1-8 1-2 1 13 1-13 1 9 1 3 1-11 1 7 1-7 1 15 1-17 1 10 1-8 1 14 1-14 1-1 1 11 1-9 1 13 1-8 1-6 1 2 1 17 1-12 1-9 1 9 1-6 1-9 1 16 1-9 1 8 1-9 1 12 1-9 1 5 1-13 1 17 1-10 1 7 1-8 1 11 1-10 1 10 1 3 1-14 1 9 1-7 1-4 1 11 1 1 1-9 1 18 1-20 1 2 1 7 1 10 1-17 1 6 1-6 1 1 1 10 1-2 1-9 1 7 1-14 1 15 1-8 1 8 1-6" stroke="#77AC30" stroke-width="0.65" fill="none" vector-effect="non-scaling-stroke" opacity="0.8"/>
<path transform="matrix(-0.41795 -0.24811 0.00000 0.50000 649.46 961.99)" d="M0 -2l1 6 1-3 1-3 1-2 1 7 1-1 1-6 1 2 1 6 1-2 1-4 1-1 1 7 1-1 1-5 1 0 1 6 1-2 1-5 1-1 1 6 1 1 1-5 1-1 1 5 1 0 1-6 1 1 1 5 1 2 1-8 1 2 1 4 1 0 1-5 1 0 1 5 1 0 1-5 1 1 1 4 1 1 1-5 1 0 1 5 1 1 1-6 1 0 1 4 1 1 1-7 1 2 1 4 1 3 1-9 1 2 1 5 1 1 1-7 1 0 1 5 1 1 1-5 1 0 1 4 1 2 1-6 1-1 1 5 1 0 1-7 1 3 1 5 1-1 1-3 1-1 1 4 1 1 1-5 1-1 1 6 1 1 1-7 1 1 1 5 1-1 1-5 1 0 1 8 1-3 1-5 1 0 1 6 1-1 1-4 1-2 1 7 1-1 1-4 1-2 1 6 1 1 1-5 1 0 1 4 1 1 1-6 1-3 1 8 1 1 1-5 1 0 1 6 1-1 1-5 1-3 1 7 1 0 1-5 1 1 1 4 1 0 1-5 1 1 1 4 1 2 1-8 1 1 1 4 1 1 1-4 1-1 1 5 1-1 1-5 1 2 1 4 1 3 1-8 1 1 1 5 1 1 1-6 1 1 1 4 1 0 1-8 1 3 1 5 1 1 1-6 1 0 1 4 1 0 1-4 1-1 1 5 1 3 1-8 1 1 1 5 1 2 1-7 1-1 1 8 1-2 1-5 1-1 1 5 1 0 1-4 1-2 1 6 1 0 1-5 1-1 1 8 1-2 1-5 1 0 1 7 1-2 1-4 1-4 1 10 1-2 1-4 1-2 1 7 1 1 1-7 1 0 1 7 1-1 1-6 1 0 1 5 1 0 1-5 1 1 1 6 1-1 1-6 1 1 1 6 1-2 1-5 1 1 1 5 1-1 1-5 1 0 1 6 1 0 1-5 1 1 1 3" stroke="#77AC30" stroke-width="0.95" fill="none" vector-effect="non-scaling-stroke"/>
<path transform="matrix(-0.41795 -0.24811 0.00000 0.50000 633.15 968.70)" d="M0 10l1-17 1 2 1 10 1-1 1-17 1 18 1-11 1 25 1-28 1 13 1-10 1 21 1-23 1 14 1-11 1 0 1 17 1-7 1-11 1-10 1 30 1-19 1 11 1-21 1 23 1 0 1-15 1-6 1 20 1 1 1-13 1 0 1 8 1-10 1 10 1 1 1-16 1 21 1-17 1 3 1 10 1 10 1-25 1 17 1-12 1 18 1-20 1 11 1-8 1-12 1 21 1 0 1-9 1 19 1-28 1 20 1-11 1-8 1 23 1-7 1-10 1 2 1 14 1-6 1-8 1 16 1-20 1 3 1 8 1-16 1 19 1-3 1-6 1 11 1-14 1 12 1-13 1 3 1 12 1-3 1-9 1 0 1 16 1 2 1-24 1 4 1 13 1 7 1-18 1 8 1-8 1 15 1-21 1 14 1-9 1-10 1 28 1-8 1-10 1-11 1 23 1-2 1-9 1 13 1-16 1 11 1-10 1 9 1-14 1 17 1-10 1 1 1 15 1-16 1 9 1-19 1 20 1-13 1 11 1-9 1 15 1-5 1-8 1-1 1 10 1 4 1-14 1-1 1 9 1-11 1 11 1 1 1-10 1-7 1 16 1-1 1-7 1 19 1-18 1 9 1-10 1 0 1 15 1-5 1-9 1-11 1 21 1-1 1-12 1 17 1-19 1 0 1 12 1 4 1-12 1 7 1-7 1 0 1 19 1-8 1-11 1 0 1 16 1-17 1 13 1-12 1 16 1-19 1 13 1 12 1-27 1 21 1-23 1 17 1-10 1-13 1 25 1-14 1 10 1 4 1-14 1 2 1 7 1-14 1 17 1-10 1 8 1-10 1 15 1-15 1 12 1 4 1-14 1 8 1-9 1 0 1 9 1 0 1-10 1 24 1-24 1 1 1 10 1 12 1-23 1 0 1 12 1-9 1 11 1-13 1 9 1-17 1 21 1-13 1 9 1-7 1 5" stroke="#7E2F8E" stroke-width="0.65" fill="none" vector-effect="non-scaling-stroke" opacity="0.8"/>
<path transform="matrix(-0.41795 -0.24811 0.00000 0.50000 633.15 968.70)" d="M0 -4l1 9 1-3 1-5 1-2 1 8 1 0 1-7 1-2 1 13 1-4 1-6 1-2 1 12 1-2 1-8 1 0 1 8 1-1 1-9 1-3 1 12 1 0 1-9 1 0 1 7 1 3 1-9 1 1 1 6 1 1 1-8 1 2 1 4 1 1 1-8 1 2 1 6 1 2 1-10 1 2 1 6 1 5 1-14 1 3 1 7 1 0 1-6 1 0 1 4 1 2 1-9 1 3 1 4 1 7 1-16 1 3 1 8 1 1 1-10 1 2 1 6 1 0 1-6 1 1 1 3 1 4 1-7 1-1 1 5 1 1 1-8 1 2 1 5 1 1 1-5 1-3 1 10 1-2 1-6 1 1 1 5 1 0 1-5 1-2 1 10 1-3 1-6 1 0 1 7 1-2 1-5 1-4 1 13 1-4 1-5 1-5 1 11 1 0 1-5 1-5 1 11 1 0 1-6 1-1 1 8 1-2 1-7 1 1 1 5 1 2 1-7 1 1 1 5 1 0 1-5 1-3 1 9 1-1 1-7 1 1 1 6 1 0 1-6 1 1 1 4 1 1 1-5 1-1 1 5 1 0 1-4 1-1 1 5 1 1 1-8 1 2 1 6 1 0 1-5 1-1 1 6 1 1 1-6 1 0 1 4 1 3 1-11 1 2 1 8 1 3 1-12 1 2 1 5 1 0 1-4 1 0 1 4 1 2 1-7 1 0 1 5 1 2 1-7 1 0 1 6 1 2 1-7 1-2 1 7 1 0 1-5 1-7 1 14 1-2 1-6 1-2 1 10 1-2 1-6 1 1 1 5 1-1 1-4 1-5 1 11 1-2 1-5 1-1 1 10 1-1 1-9 1 1 1 6 1 0 1-6 1 0 1 5 1 0 1-5 1 0 1 7 1-1 1-6 1 0 1 8 1-2 1-7 1 1 1 7 1-2 1-4 1-2 1 7 1 0 1-6 1 1 1 4" stroke="#7E2F8E" stroke-width="0.95" fill="none" vector-effect="non-scaling-stroke"/>
<path transform="matrix(-0.41795 -0.24811 0.00000 0.50000 616.84 975.41)" d="M0 -13l1 27 1-22 1 16 1-25 1 29 1-6 1-15 1 33 1-43 1 25 1-16 1 30 1-37 1 27 1-19 1 23 1-26 1 23 1-21 1-12 1 40 1-27 1 18 1-28 1 38 1-5 1-24 1-7 1 40 1-5 1-32 1 6 1 16 1-1 1-17 1 15 1-21 1 32 1-32 1 9 1 15 1 13 1-41 1 28 1-16 1 25 1-35 1 12 1 15 1-30 1 35 1-8 1-12 1 35 1-48 1 28 1-16 1-9 1 37 1-15 1-14 1 21 1-22 1 16 1-14 1-12 1 36 1-30 1 22 1-27 1 31 1-6 1-14 1 20 1-25 1 26 1-24 1 22 1-24 1 21 1-18 1 3 1 24 1 1 1-36 1 8 1 17 1 12 1-31 1 17 1-11 1-19 1 41 1-10 1-15 1-13 1 42 1-14 1-13 1-15 1 40 1-11 1-13 1 19 1-27 1 19 1-13 1-10 1 30 1-22 1 19 1 6 1-24 1 1 1 15 1-28 1 36 1-28 1 23 1 1 1-23 1 19 1-16 1 2 1 13 1 6 1-27 1 6 1 16 1-18 1 19 1-2 1-15 1-7 1 24 1-4 1-9 1 23 1-34 1 25 1-19 1 24 1-27 1 20 1-14 1-13 1 38 1-7 1-22 1 28 1-32 1 5 1 15 1 4 1-22 1 17 1-13 1 27 1-31 1 26 1-20 1 19 1-23 1 3 1 18 1 5 1-27 1-4 1 25 1 12 1-41 1 41 1-40 1 11 1 14 1-30 1 41 1-12 1-12 1 18 1-27 1 11 1 11 1 10 1-42 1 18 1 15 1 9 1-30 1 4 1 18 1 2 1-21 1 17 1-14 1-4 1 20 1-20 1 15 1 19 1-40 1 6 1 21 1 14 1-43 1 29 1-20 1 21 1-16 1 12 1-15 1-8 1 31 1-25 1 17 1-13 1 10" stroke="#EDB120" stroke-width="0.65" fill="none" vector-effect="non-scaling-stroke" opacity="0.8"/>
<path transform="matrix(-0.41795 -0.24811 0.00000 0.50000 616.84 975.41)" d="M0 -6l1 15 1-5 1-8 1-6 1 16 1-2 1-10 1-5 1 23 1-7 1-9 1-8 1 23 1-4 1-13 1-2 1 19 1-6 1-11 1-6 1 18 1 1 1-13 1-6 1 18 1 1 1-14 1 4 1 8 1 1 1-16 1 5 1 10 1-1 1-10 1 3 1 7 1 4 1-15 1 2 1 10 1 10 1-26 1 7 1 10 1 4 1-20 1 6 1 8 1 5 1-20 1 6 1 8 1 9 1-24 1 7 1 11 1 6 1-24 1 6 1 10 1 2 1-10 1 0 1 8 1 10 1-21 1 1 1 12 1-1 1-11 1 2 1 8 1 0 1-7 1-5 1 15 1-2 1-9 1 0 1 9 1 0 1-8 1-6 1 20 1-7 1-9 1-2 1 16 1-5 1-9 1-5 1 21 1-8 1-8 1-8 1 20 1-3 1-8 1-8 1 20 1-3 1-9 1-5 1 18 1-5 1-10 1-4 1 14 1 2 1-11 1 0 1 11 1 0 1-10 1-5 1 15 1-1 1-13 1 3 1 9 1 2 1-10 1 0 1 7 1 5 1-16 1 2 1 10 1 1 1-12 1 3 1 7 1 2 1-13 1 5 1 6 1 7 1-16 1 2 1 9 1 2 1-14 1 3 1 9 1 4 1-22 1 7 1 12 1 4 1-18 1 5 1 7 1 1 1-8 1-1 1 7 1 4 1-12 1 0 1 9 1 4 1-13 1 1 1 8 1 3 1-11 1-2 1 12 1-3 1-7 1-6 1 20 1-6 1-7 1-9 1 24 1-8 1-8 1 0 1 10 1-4 1-5 1-8 1 20 1-5 1-8 1-4 1 19 1-6 1-11 1 0 1 13 1-2 1-9 1 0 1 9 1-2 1-7 1-3 1 17 1-4 1-11 1-1 1 17 1-4 1-13 1 3 1 7 1 0 1-8 1-2 1 10 1 1 1-11 1 3 1 6" stroke="#EDB120" stroke-width="0.95" fill="none" vector-effect="non-scaling-stroke"/>
<path transform="matrix(-0.41795 -0.24811 0.00000 0.50000 600.52 982.12)" d="M0 22l1-42 1 8 1 22 1-36 1 48 1-14 1-19 1 46 1-64 1 40 1-23 1-18 1 58 1-15 1-28 1 40 1-51 1 40 1-30 1-16 1 58 1-38 1 26 1-43 1 55 1-5 1-34 1-13 1 63 1-59 1 48 1-42 1 32 1-6 1-25 1 23 1-30 1 49 1-51 1 11 1 23 1 23 1-60 1 37 1-21 1 38 1-58 1 20 1 24 1-43 1 56 1-16 1-20 1 49 1-69 1 41 1-20 1 41 1-58 1 35 1-21 1 32 1-41 1 32 1-20 1-19 1 56 1-45 1 34 1-45 1 46 1-4 1-24 1 32 1-44 1 39 1-35 1 36 1-38 1 5 1 28 1-22 1 20 1 15 1-50 1 12 1 21 1 20 1-50 1 10 1 21 1-40 1 61 1-44 1 26 1-40 1 57 1-20 1-18 1-23 1 59 1-16 1-19 1 25 1-40 1 30 1-18 1-15 1 47 1-6 1-30 1 37 1-40 1 5 1 23 1-41 1 54 1-43 1 34 1 3 1-33 1 3 1 27 1-9 1-16 1 40 1-62 1 19 1 26 1-28 1 33 1-9 1-22 1-8 1 34 1-5 1-14 1 30 1-47 1 36 1-25 1 38 1-44 1 30 1-22 1-26 1 68 1-17 1-33 1 45 1-47 1 6 1 25 1 4 1-32 1 6 1 19 1 18 1-47 1 38 1-30 1 35 1-41 1 9 1 25 1 10 1-42 1-2 1 34 1 19 1-66 1 61 1-53 1 36 1-25 1-21 1 64 1-39 1 18 1 7 1-37 1 32 1-18 1 37 1-63 1 23 1 20 1 18 1-45 1 6 1 23 1-30 1 39 1-12 1-17 1-7 1 28 1-3 1-23 1 44 1-55 1 40 1-35 1 55 1-62 1 46 1-37 1 35 1-31 1 27 1-28 1-9 1 43 1-36 1 28 1-5 1-14" stroke="#D95319" stroke-width="0.65" fill="none" vector-effect="non-scaling-stroke" opacity="0.8"/>
<path transform="matrix(-0.41795 -0.24811 0.00000 0.50000 600.52 982.12)" d="M0 -11l1 22 1-5 1-11 1-8 1 23 1-3 1-14 1-10 1 35 1-10 1-14 1-9 1 35 1-11 1-16 1-2 1 23 1-6 1-17 1-5 1 27 1-4 1-19 1-3 1 20 1 5 1-23 1 6 1 11 1 8 1-31 1 9 1 15 1 0 1-14 1 2 1 10 1 7 1-27 1 8 1 15 1 8 1-32 1 10 1 13 1 12 1-34 1 8 1 13 1 8 1-32 1 9 1 16 1 12 1-37 1 11 1 13 1 14 1-40 1 11 1 15 1 3 1-16 1-1 1 14 1 15 1-37 1 8 1 17 1-1 1-20 1 5 1 14 1-3 1-7 1-6 1 22 1-5 1-15 1-3 1 21 1-5 1-11 1-6 1 28 1-11 1-13 1-5 1 25 1-7 1-12 1-12 1 31 1-8 1-12 1-10 1 30 1-6 1-13 1-11 1 32 1-8 1-13 1-2 1 21 1-7 1-13 1-8 1 28 1-4 1-19 1 3 1 17 1-3 1-14 1-3 1 17 1 4 1-21 1 3 1 14 1 1 1-17 1 5 1 8 1 10 1-26 1 5 1 13 1 3 1-20 1 5 1 11 1 4 1-20 1 7 1 7 1 14 1-34 1 10 1 16 1 6 1-27 1 6 1 14 1 6 1-30 1 7 1 19 1 5 1-26 1 4 1 14 1 0 1-13 1-2 1 14 1 4 1-18 1 0 1 16 1 1 1-17 1 1 1 15 1-1 1-13 1-3 1 17 1-3 1-11 1-12 1 32 1-6 1-12 1-15 1 33 1-8 1-13 1 0 1 17 1-6 1-8 1-16 1 38 1-11 1-15 1-7 1 27 1-4 1-16 1-4 1 24 1-5 1-13 1-4 1 19 1-4 1-11 1-5 1 24 1-3 1-18 1-6 1 29 1-6 1-18 1 5 1 7 1 5 1-16 1 1 1 14 1 2 1-19 1 6 1 8" stroke="#D95319" stroke-width="0.95" fill="none" vector-effect="non-scaling-stroke"/>
<path transform="matrix(-0.41795 -0.24811 0.00000 0.50000 584.21 988.84)" d="M0 -26l1 50 1-38 1 25 1-44 1 57 1-37 1 24 1 33 1-79 1 49 1-29 1-16 1 68 1-21 1-32 1 51 1-66 1 11 1 41 1-60 1 66 1-45 1 37 1-50 1 66 1-11 1-40 1-27 1 92 1-87 1 82 1-70 1 47 1-5 1-32 1 26 1-41 1 58 1-61 1 18 1 30 1 21 1-72 1 24 1 26 1 32 1-86 1 26 1 35 1-66 1 77 1-15 1-31 1 63 1-81 1 45 1-26 1-33 1 88 1-55 1 26 1 14 1-50 1 10 1 27 1 35 1-89 1 15 1 47 1-51 1 60 1-16 1-26 1 43 1-54 1 48 1-43 1 51 1-66 1 55 1-47 1 10 1 37 1 8 1-57 1 43 1-31 1 48 1-57 1 38 1-27 1 49 1-78 1 27 1 30 1-53 1 71 1-19 1-25 1 48 1-72 1 49 1-24 1 36 1-51 1 13 1 21 1-44 1 66 1-50 1 39 1 17 1-60 1 8 1 28 1-44 1 63 1-54 1 45 1 5 1-49 1 36 1-34 1 26 1-26 1 59 1-79 1 24 1 29 1-36 1 41 1-6 1-28 1-7 1 40 1-9 1-15 1-30 1 72 1-16 1-35 1 50 1-64 1 46 1-35 1-24 1 79 1-13 1-44 1 48 1-52 1 8 1 29 1 14 1-53 1 36 1-25 1 56 1-74 1 57 1-42 1 42 1-48 1 10 1 32 1 10 1-48 1-6 1 43 1 29 1-81 1 71 1-67 1 18 1 27 1-54 1 76 1-24 1-24 1 39 1-60 1 48 1-26 1 57 1-96 1 36 1 28 1 17 1-59 1 13 1 33 1 8 1-52 1 17 1 21 1 9 1-48 1 40 1-30 1 50 1-66 1 12 1 41 1 23 1-84 1 63 1-42 1 44 1-41 1 36 1-37 1-9 1 54 1-13 1-32 1 27 1-18" stroke="#0072BD" stroke-width="0.65" fill="none" vector-effect="non-scaling-stroke" opacity="0.8"/>
<path transform="matrix(-0.41795 -0.24811 0.00000 0.50000 584.21 988.84)" d="M0 -15l1 31 1-8 1-15 1-11 1 33 1-7 1-17 1-13 1 44 1-13 1-17 1-13 1 41 1-9 1-23 1-4 1 39 1-14 1-22 1-5 1 29 1-1 1-22 1-11 1 36 1-1 1-24 1 5 1 16 1 7 1-36 1 10 1 19 1-1 1-20 1 6 1 12 1 10 1-28 1 4 1 14 1 20 1-45 1 11 1 16 1 14 1-42 1 11 1 17 1 11 1-39 1 10 1 19 1 12 1-45 1 16 1 18 1 10 1-44 1 13 1 18 1 7 1-23 1 0 1 18 1 8 1-31 1 2 1 23 1-3 1-21 1 4 1 18 1-4 1-11 1-7 1 26 1-6 1-14 1-8 1 31 1-8 1-15 1-9 1 34 1-11 1-15 1-10 1 37 1-11 1-17 1-10 1 41 1-15 1-16 1-11 1 35 1-6 1-16 1-15 1 41 1-9 1-17 1-7 1 26 1-5 1-15 1-12 1 33 1 1 1-27 1 5 1 17 1 2 1-22 1 1 1 21 1-2 1-24 1 8 1 15 1 5 1-23 1 4 1 11 1 16 1-41 1 9 1 20 1 4 1-26 1 5 1 14 1 5 1-24 1 9 1 10 1 11 1-34 1 8 1 20 1 5 1-31 1 8 1 14 1 12 1-46 1 15 1 22 1 9 1-33 1 6 1 16 1 2 1-17 1-2 1 17 1 5 1-25 1 3 1 18 1 9 1-31 1 6 1 18 1-1 1-16 1-5 1 22 1-4 1-15 1-9 1 35 1-12 1-13 1-17 1 46 1-15 1-14 1-4 1 24 1-8 1-10 1-13 1 39 1-12 1-19 1-4 1 35 1-14 1-15 1-5 1 27 1-7 1-14 1-2 1 21 1-6 1-14 1-7 1 31 1-3 1-25 1-1 1 34 1-7 1-28 1 9 1 9 1 7 1-23 1 4 1 16 1 2 1-23 1 8 1 11" stroke="#0072BD" stroke-width="0.95" fill="none" vector-effect="non-scaling-stroke"/>
<text class="k3 e" x="455.30" y="970.50">-2</text>
<text class="k3 e" x="455.30" y="952.62">-1</text>
<text class="k3 e" x="455.30" y="934.75">0</text>
<text class="k3 e" x="455.30" y="916.88">1</text>
<text class="k3 e" x="455.30" y="899.00">2</text>
<text class="k3 e" x="563.60" y="1042.10">0</text>
<text class="k3 e" x="536.20" y="1026.25">0.1</text>
<text class="k3 e" x="508.80" y="1010.40">0.2</text>
<text class="k3 e" x="481.40" y="994.55">0.3</text>
<text class="k3 e" x="454.00" y="978.70">0.4</text>
<text class="k3" x="591.91" y="1036.59">Original signal</text>
<text class="k3" x="608.23" y="1029.88">M=2</text>
<text class="k3" x="624.54" y="1023.16">M=3</text>
<text class="k3" x="640.85" y="1016.45">M=4</text>
<text class="k3" x="657.16" y="1009.74">M=5</text>
<text class="k3" x="673.48" y="1003.02">M=6</text>
<text class="k3" x="689.79" y="996.31">M=7</text>
<text class="k3 m" x="510.70" y="1037.00">Time</text>
<text class="k3 m" transform="translate(443.90 932.15) rotate(-90)">Amplitude</text>
<path d="M893.00 1031.30L1023.50 977.60M1023.50 977.60L1023.50 906.10M866.30 1015.45L996.80 961.75M996.80 961.75L996.80 890.25M839.60 999.60L970.10 945.90M970.10 945.90L970.10 874.40M812.90 983.75L943.40 930.05M943.40 930.05L943.40 858.55M786.20 967.90L916.70 914.20M916.70 914.20L916.70 842.70M893.00 1031.30L786.20 967.90M786.20 967.90L786.20 896.40M909.31 1024.59L802.51 961.19M802.51 961.19L802.51 889.69M925.62 1017.88L818.83 954.48M818.83 954.48L818.83 882.98M941.94 1011.16L835.14 947.76M835.14 947.76L835.14 876.26M958.25 1004.45L851.45 941.05M851.45 941.05L851.45 869.55M974.56 997.74L867.76 934.34M867.76 934.34L867.76 862.84M990.88 991.02L884.08 927.62M884.08 927.62L884.08 856.12M1007.19 984.31L900.39 920.91M900.39 920.91L900.39 849.41M1023.50 977.60L916.70 914.20M916.70 914.20L916.70 842.70M786.20 967.90L916.70 914.20M916.70 914.20L1023.50 977.60M786.20 950.02L916.70 896.33M916.70 896.33L1023.50 959.73M786.20 932.15L916.70 878.45M916.70 878.45L1023.50 941.85M786.20 914.27L916.70 860.58M916.70 860.58L1023.50 923.98M786.20 896.40L916.70 842.70M916.70 842.70L1023.50 906.10M786.20 896.40L916.70 842.70M916.70 842.70L1023.50 906.10" stroke="#e6e6e6" stroke-width="0.6" fill="none"/>
<path d="M786.20 967.90L786.20 896.40M786.20 967.90L893.00 1031.30M893.00 1031.30L1023.50 977.60M786.20 967.90L783.61 968.97M786.20 950.02L783.61 951.09M786.20 932.15L783.61 933.22M786.20 914.27L783.61 915.34M786.20 896.40L783.61 897.47M893.00 1031.30L890.04 1032.52M866.30 1015.45L863.34 1016.67M839.60 999.60L836.64 1000.82M812.90 983.75L809.94 984.97M786.20 967.90L783.24 969.12M909.31 1024.59L912.06 1026.22M925.62 1017.88L928.38 1019.51M941.94 1011.16L944.69 1012.80M958.25 1004.45L961.00 1006.08M974.56 997.74L977.31 999.37M990.88 991.02L993.63 992.66M1007.19 984.31L1009.94 985.95" stroke="#333" stroke-width="0.75" fill="none"/>
<path transform="matrix(-0.41795 -0.24811 0.00000 0.50000 1007.19 948.56)" d="M0 -2l1 10 1-2 1-9 1 5 1-4 1-3 1 11 1-1 1-8 1 5 1-5 1 6 1-8 1 0 1 8 1 0 1-6 1 7 1-9 1 0 1 8 1-5 1 4 1-5 1 5 1-10 1 12 1-2 1-5 1 8 1-8 1-3 1 8 1 0 1-5 1 5 1-4 1-9 1 18 1-10 1 6 1-1 1-5 1-3 1 9 1-6 1 5 1 0 1-4 1-6 1 13 1-7 1 4 1 1 1-7 1-5 1 13 1-8 1 8 1-1 1-5 1 14 1-21 1 11 1-4 1 0 1 5 1-7 1 7 1-6 1 6 1-1 1-4 1-7 1 12 1 0 1-6 1 5 1-5 1 9 1-11 1 9 1-6 1 0 1 4 1-9 1 10 1-1 1-5 1 5 1-5 1-4 1 14 1 0 1-9 1 5 1-6 1 5 1-9 1 10 1-6 1 1 1 5 1 4 1-10 1 7 1-7 1 6 1-7 1 7 1-12 1 3 1 9 1-6 1 7 1-9 1 14 1-13 1 7 1 0 1-7 1 1 1 8 1 2 1-12 1 3 1 5 1-1 1-7 1 3 1 5 1-1 1-6 1 2 1 4 1-10 1 15 1-4 1-4 1 3 1-4 1-5 1 13 1-4 1-4 1-3 1 9 1-8 1 8 1-6 1 4 1-5 1 5 1-7 1 7 1 0 1-4 1-1 1 7 1 0 1-12 1 11 1-4 1-3 1 8 1 5 1-15 1 2 1 6 1-4 1 5 1-8 1 8 1-1 1-5 1 6 1-6 1-3 1 10 1-7 1 6 1-4 1 4 1-14 1 20 1-12 1 5 1 1 1-7 1-2 1 12 1-10 1 6 1 1 1-6 1 8 1-8 1 5 1-5 1 6 1-6 1 8 1-10 1 2 1 5 1 0 1-5 1-4 1 10 1-6 1 5 1-4 1 4 1 4 1-11 1 7 1-4" stroke="#A2142F" stroke-width="0.65" fill="none" vector-effect="non-scaling-stroke" opacity="0.8"/>
<path transform="matrix(-0.41795 -0.24811 0.00000 0.50000 1007.19 948.56)" d="M0 -1l1 4 1-1 1-4 1 1 1 2 1 1 1-4 1 1 1 3 1 0 1-4 1 0 1 4 1 0 1-4 1 0 1 4 1-1 1-4 1 0 1 5 1-1 1-2 1 0 1 2 1 1 1-6 1 2 1 3 1 2 1-6 1 0 1 4 1 1 1-4 1 1 1 2 1 2 1-9 1 4 1 4 1-1 1-3 1-2 1 6 1-1 1-3 1 1 1 2 1 2 1-7 1 2 1 4 1 0 1-6 1-1 1 8 1 0 1-6 1 1 1 4 1 3 1-7 1 1 1 2 1 1 1-3 1-1 1 4 1 0 1-4 1 0 1 4 1-1 1-5 1 2 1 4 1-1 1-3 1 0 1 5 1-1 1-4 1 1 1 3 1-1 1-5 1 3 1 2 1 0 1-3 1-2 1 7 1-1 1-4 1 0 1 5 1-1 1-5 1 1 1 3 1 1 1-4 1 0 1 5 1 0 1-5 1 0 1 4 1 0 1-6 1 2 1 4 1 0 1-4 1-2 1 9 1-3 1-4 1 1 1 3 1 0 1-4 1 0 1 5 1-1 1-3 1 0 1 2 1 1 1-4 1 0 1 4 1-1 1-3 1-3 1 7 1-1 1-2 1 0 1 2 1 1 1-7 1 4 1 2 1 2 1-6 1 1 1 4 1-1 1-2 1-2 1 4 1 0 1-3 1 0 1 4 1-1 1-3 1-3 1 7 1-1 1-2 1-1 1 5 1 3 1-9 1 1 1 4 1 0 1-3 1-2 1 5 1 0 1-4 1 0 1 4 1 0 1-5 1 1 1 4 1-1 1-2 1-4 1 10 1-4 1-3 1-1 1 6 1 1 1-9 1 2 1 5 1 0 1-4 1 1 1 4 1-2 1-3 1 0 1 3 1 2 1-5 1 0 1 3 1 0 1-2 1-2 1 5 1-1 1-3 1 1 1 2 1 2 1-5 1 1 1 2" stroke="#A2142F" stroke-width="0.95" fill="none" vector-effect="non-scaling-stroke"/>
<path transform="matrix(-0.41795 -0.24811 0.00000 0.50000 990.88 955.27)" d="M0 -2l1 11 1-3 1-13 1 9 1-4 1 5 1-8 1 13 1-12 1 7 1-6 1 6 1-6 1-3 1 11 1-2 1-6 1 7 1-9 1-1 1 11 1-3 1-4 1 4 1-5 1-7 1 16 1-4 1-5 1 9 1-10 1-2 1 10 1-1 1-6 1 5 1-4 1-11 1 20 1-11 1 7 1 0 1-6 1 8 1-13 1 10 1-5 1 1 1 4 1-12 1 18 1-5 1-6 1 6 1-8 1-6 1 18 1-12 1 9 1 0 1-7 1 16 1-23 1 7 1 5 1-4 1 5 1 2 1-10 1 8 1-7 1 6 1-4 1-9 1 16 1-2 1-7 1 6 1-5 1 10 1-14 1 11 1-7 1 1 1 5 1-12 1 14 1-1 1-7 1 5 1-5 1-5 1 15 1 0 1-10 1 7 1-7 1-4 1 11 1-9 1 9 1-6 1 5 1 6 1-15 1 11 1-8 1 6 1-7 1 7 1-11 1-3 1 15 1-7 1 7 1-9 1 16 1-18 1 12 1-2 1-7 1 2 1 9 1 2 1-15 1 3 1 7 1-2 1-8 1 2 1 10 1-10 1 6 1-5 1 5 1-10 1 14 1-4 1-3 1-1 1 4 1-11 1 16 1-5 1-4 1-3 1 9 1 2 1-12 1 4 1 5 1-7 1 6 1-7 1 9 1-1 1-6 1 0 1 7 1-13 1 14 1-3 1-4 1-2 1 8 1 6 1-17 1 2 1 7 1-5 1 6 1-8 1 11 1-3 1-6 1 7 1-7 1 9 1-16 1 6 1 7 1-5 1 4 1-13 1 21 1-13 1 6 1 0 1-7 1-5 1 17 1-14 1 9 1 0 1-6 1 9 1-12 1 10 1-8 1 7 1-6 1-7 1 19 1-13 1 8 1-2 1-5 1-6 1 14 1-8 1 6 1-1 1-4 1 9 1-14 1 10 1-6" stroke="#4DBEEE" stroke-width="0.65" fill="none" vector-effect="non-scaling-stroke" opacity="0.8"/>
<path transform="matrix(-0.41795 -0.24811 0.00000 0.50000 990.88 955.27)" d="M0 -2l1 5 1 1 1-7 1 1 1 4 1 0 1-5 1 1 1 6 1-2 1-4 1 0 1 4 1 0 1-5 1 1 1 5 1-2 1-4 1-1 1 6 1 0 1-3 1-1 1 3 1 2 1-8 1 3 1 4 1 1 1-6 1 0 1 6 1-1 1-5 1 2 1 2 1 3 1-10 1 4 1 4 1-1 1-3 1-3 1 9 1-2 1-4 1 1 1 3 1 1 1-8 1 3 1 4 1 0 1-6 1-2 1 10 1 0 1-7 1 1 1 4 1 3 1-10 1 3 1 4 1 0 1-4 1-1 1 6 1-1 1-4 1 0 1 4 1 0 1-7 1 2 1 6 1-1 1-4 1 0 1 6 1-2 1-4 1 1 1 3 1 1 1-8 1 3 1 4 1-1 1-3 1-1 1 5 1 0 1-4 1 0 1 5 1 0 1-6 1 1 1 3 1 1 1-4 1-1 1 7 1-1 1-6 1 2 1 3 1 0 1-5 1 0 1 6 1-1 1-4 1-2 1 9 1-3 1-5 1 1 1 4 1 0 1-4 1-2 1 7 1-1 1-4 1 0 1 3 1 1 1-5 1 1 1 4 1-1 1-3 1-4 1 8 1 0 1-3 1 0 1 3 1 1 1-9 1 4 1 3 1 2 1-6 1 0 1 6 1-1 1-3 1-2 1 4 1 1 1-5 1 1 1 4 1 0 1-4 1-4 1 10 1-2 1-3 1-1 1 5 1 3 1-9 1 1 1 4 1 0 1-4 1-2 1 8 1-2 1-4 1 0 1 4 1 1 1-7 1 2 1 4 1-1 1-2 1-4 1 11 1-4 1-4 1 0 1 4 1 3 1-10 1 2 1 5 1 0 1-4 1 0 1 6 1-2 1-4 1 0 1 4 1 2 1-7 1 1 1 4 1-1 1-2 1-3 1 7 1-2 1-4 1 1 1 4 1 3 1-7 1 0 1 3" stroke="#4DBEEE" stroke-width="0.95" fill="none" vector-effect="non-scaling-stroke"/>
<path transform="matrix(-0.41795 -0.24811 0.00000 0.50000 974.56 961.99)" d="M0 -3l1 13 1-4 1-12 1 9 1-6 1-1 1 8 1 6 1-18 1 11 1-6 1 7 1-8 1-2 1 12 1-9 1 7 1 1 1-11 1-1 1 14 1-10 1 6 1-7 1 7 1-15 1 18 1-9 1 6 1 3 1-11 1-2 1 12 1-2 1-8 1 9 1-7 1-10 1 18 1-10 1 9 1-8 1 7 1-12 1 13 1-2 1-5 1 1 1 4 1-14 1 19 1-3 1-7 1 6 1-9 1-8 1 22 1-13 1 10 1-1 1-7 1 18 1-23 1 10 1-5 1 0 1 7 1-14 1 18 1-4 1-8 1 7 1-6 1-10 1 23 1-6 1-9 1 1 1 7 1 6 1-14 1 10 1-9 1 1 1 7 1-14 1 17 1-2 1-8 1 6 1-6 1-6 1 14 1 1 1-9 1 7 1-8 1 14 1-20 1 2 1 15 1-9 1 5 1 7 1-15 1 10 1-8 1 6 1-7 1 7 1-13 1 2 1 13 1-9 1 9 1 8 1-20 1 12 1-11 1 9 1-8 1 2 1 13 1-1 1-14 1 2 1 8 1-2 1-9 1-1 1 14 1-10 1 5 1-5 1 6 1-12 1 13 1-1 1-5 1-1 1 6 1-15 1 17 1-2 1-6 1-3 1 12 1 4 1-18 1 12 1-7 1-2 1 8 1-9 1 10 1-1 1-6 1 0 1 7 1 1 1-16 1 14 1-6 1-2 1 9 1 9 1-18 1 2 1 5 1-5 1 6 1-11 1 18 1-7 1-6 1-1 1 9 1-13 1 14 1-11 1 8 1-5 1 4 1-13 1 19 1-11 1 6 1 1 1-9 1-5 1 17 1-12 1 8 1 1 1-7 1 11 1-15 1 12 1-10 1 8 1-7 1-5 1 18 1-13 1 8 1-2 1-5 1-8 1 18 1-3 1-8 1 1 1 6 1 5 1-13 1 7 1-5" stroke="#77AC30" stroke-width="0.65" fill="none" vector-effect="non-scaling-stroke" opacity="0.8"/>
<path transform="matrix(-0.41795 -0.24811 0.00000 0.50000 974.56 961.99)" d="M0 -2l1 6 1-1 1-5 1 0 1 4 1 0 1-5 1 0 1 7 1-2 1-4 1-1 1 6 1 0 1-8 1 3 1 4 1-1 1-5 1-1 1 8 1-1 1-4 1 1 1 2 1 2 1-8 1 2 1 5 1 1 1-6 1 0 1 6 1-1 1-5 1 1 1 4 1 2 1-9 1 3 1 4 1 0 1-4 1-4 1 9 1-1 1-4 1 0 1 4 1 1 1-7 1 2 1 4 1 1 1-6 1-3 1 10 1-1 1-6 1 1 1 4 1 3 1-9 1 2 1 4 1 0 1-4 1-2 1 9 1-2 1-6 1 1 1 4 1 1 1-9 1 3 1 6 1-1 1-5 1 0 1 7 1-2 1-4 1 0 1 4 1 0 1-7 1 3 1 4 1 0 1-5 1 0 1 6 1-1 1-4 1-1 1 6 1 0 1-9 1 3 1 5 1 1 1-5 1-1 1 7 1-1 1-6 1 1 1 4 1 0 1-5 1 0 1 7 1-1 1-5 1-3 1 9 1-2 1-5 1 1 1 5 1-1 1-5 1-1 1 8 1-2 1-4 1 0 1 4 1 1 1-6 1 0 1 5 1-1 1-3 1-2 1 6 1 0 1-3 1-1 1 4 1 0 1-6 1 3 1 2 1 2 1-6 1-2 1 9 1-2 1-4 1-1 1 4 1 1 1-6 1 1 1 5 1 1 1-5 1-4 1 10 1-2 1-4 1 0 1 5 1 3 1-9 1 1 1 4 1 0 1-4 1-3 1 9 1-2 1-5 1 1 1 4 1 2 1-10 1 4 1 4 1-1 1-2 1-5 1 10 1-2 1-4 1-1 1 5 1 3 1-11 1 3 1 5 1 0 1-4 1-1 1 8 1-3 1-5 1 1 1 4 1 3 1-9 1 2 1 4 1-1 1-3 1-2 1 7 1-1 1-5 1 1 1 4 1 2 1-6 1 0 1 4" stroke="#77AC30" stroke-width="0.95" fill="none" vector-effect="non-scaling-stroke"/>
<path transform="matrix(-0.41795 -0.24811 0.00000 0.50000 958.25 968.70)" d="M0 -3l1 10 1 5 1-16 1 8 1-8 1 8 1-10 1 18 1-18 1 3 1 6 1 1 1-9 1-2 1 13 1-3 1-8 1 9 1-11 1-2 1 14 1-2 1-7 1 0 1 7 1-12 1 14 1-9 1 8 1 1 1-9 1-5 1 12 1 1 1-10 1 10 1-7 1-13 1 21 1-9 1 8 1-8 1 7 1-14 1 14 1-6 1 6 1 0 1-6 1-11 1 18 1 0 1-7 1 7 1-11 1 12 1-21 1 12 1 9 1-2 1-7 1 22 1-24 1 9 1-6 1 0 1 7 1-10 1 12 1-2 1-8 1 7 1-6 1-12 1 21 1-3 1-10 1 11 1-8 1 14 1-14 1 9 1-9 1 0 1 8 1 1 1-19 1 18 1-8 1 7 1-7 1-6 1 16 1-2 1-9 1 9 1-9 1-7 1 19 1-12 1 10 1-8 1 7 1-8 1 16 1-8 1-8 1 7 1-7 1 8 1-18 1 9 1 10 1-9 1 9 1-12 1 23 1-20 1 7 1-8 1 8 1-7 1 16 1-8 1-8 1 1 1 8 1-2 1-10 1 3 1 9 1-9 1 7 1-6 1 6 1-16 1 19 1-3 1-5 1 6 1-7 1 7 1-18 1 17 1-5 1-4 1 13 1-14 1 14 1-11 1 8 1-10 1 9 1-10 1 10 1 0 1-7 1 0 1 8 1 3 1-19 1 16 1-8 1 0 1 9 1 12 1-21 1 1 1 5 1-4 1 5 1-8 1 12 1-4 1-6 1-1 1 10 1-16 1 14 1-9 1 8 1-5 1 5 1-16 1 19 1-9 1 6 1-8 1 9 1-17 1 18 1-9 1 7 1 1 1-8 1 14 1-14 1 8 1-10 1 9 1-7 1 12 1-17 1 6 1 8 1-2 1-5 1 6 1-14 1 6 1 7 1 1 1-9 1 1 1 15 1-8 1-6" stroke="#7E2F8E" stroke-width="0.65" fill="none" vector-effect="non-scaling-stroke" opacity="0.8"/>
<path transform="matrix(-0.41795 -0.24811 0.00000 0.50000 958.25 968.70)" d="M0 -2l1 5 1 0 1-5 1-1 1 6 1-1 1-5 1 1 1 7 1-3 1-5 1 0 1 6 1 0 1-7 1 2 1 5 1-1 1-6 1 1 1 5 1 0 1-4 1 0 1 4 1 1 1-8 1 3 1 4 1 2 1-7 1 0 1 5 1 1 1-7 1 2 1 5 1 0 1-6 1 1 1 5 1-1 1-5 1 0 1 5 1 0 1-4 1 0 1 4 1 0 1-5 1 1 1 4 1 1 1-6 1 0 1 7 1-1 1-6 1 1 1 4 1 1 1-5 1 0 1 4 1 1 1-5 1-2 1 8 1-1 1-6 1 1 1 4 1 1 1-8 1 2 1 6 1-1 1-5 1 1 1 6 1-1 1-5 1 0 1 5 1-1 1-7 1 3 1 5 1-1 1-5 1-1 1 7 1-1 1-5 1 0 1 6 1 0 1-8 1 2 1 6 1 0 1-5 1 0 1 4 1 1 1-6 1 1 1 4 1 1 1-7 1 2 1 5 1 1 1-7 1-1 1 8 1-2 1-5 1 0 1 6 1 0 1-6 1 1 1 4 1 0 1-4 1 0 1 4 1 0 1-4 1-1 1 5 1-1 1-4 1-1 1 7 1-1 1-4 1 0 1 4 1 0 1-5 1 1 1 3 1 2 1-6 1-1 1 8 1-2 1-4 1 0 1 4 1 0 1-6 1 2 1 4 1 1 1-6 1-1 1 6 1 1 1-5 1-1 1 6 1 1 1-7 1 1 1 4 1 1 1-5 1-2 1 7 1-1 1-5 1 0 1 6 1 0 1-6 1 1 1 5 1-2 1-3 1-4 1 11 1-3 1-4 1-1 1 6 1 1 1-8 1 1 1 5 1 0 1-5 1 1 1 5 1-1 1-5 1 1 1 4 1 1 1-6 1 1 1 4 1 0 1-4 1-1 1 6 1-1 1-5 1 0 1 6 1 0 1-6 1 1 1 4" stroke="#7E2F8E" stroke-width="0.95" fill="none" vector-effect="non-scaling-stroke"/>
<path transform="matrix(-0.41795 -0.24811 0.00000 0.50000 941.94 975.41)" d="M0 -4l1 14 1 7 1-24 1 12 1-10 1 9 1-11 1 25 1-25 1 10 1-7 1 7 1-8 1 14 1-17 1 2 1 11 1 0 1-12 1-6 1 19 1-2 1-8 1 1 1 7 1-17 1 20 1-12 1 12 1-1 1-11 1-8 1 19 1-14 1 13 1 0 1-9 1-18 1 34 1-16 1 9 1-10 1 9 1 7 1-25 1 18 1-8 1 0 1 7 1-19 1 29 1-17 1 10 1 0 1-13 1-13 1 28 1-14 1 11 1-1 1-9 1 28 1-41 1 14 1 9 1-8 1 7 1 5 1-16 1 12 1-10 1 8 1-7 1-16 1 27 1-3 1-12 1 12 1-10 1 21 1-27 1 18 1-10 1-1 1 10 1-25 1 28 1-1 1-11 1 8 1-9 1-8 1 26 1-6 1-14 1 12 1-10 1 10 1-22 1 22 1-9 1 0 1 10 1 10 1-25 1 16 1-11 1 8 1-8 1 8 1-24 1 13 1 14 1-11 1 9 1 16 1-34 1 4 1 16 1-3 1-10 1 1 1 21 1-26 1 22 1-16 1 9 1-1 1-14 1 19 1-14 1 0 1 8 1-8 1 9 1-23 1 37 1-15 1-6 1 8 1-10 1-14 1 33 1-11 1-8 1-2 1 14 1-17 1 18 1-12 1 9 1-12 1 10 1-14 1 16 1-1 1-9 1 9 1-9 1-10 1 22 1-1 1-11 1 0 1 10 1 20 1-41 1 11 1 9 1-7 1 8 1 6 1-17 1 2 1 7 1-8 1 11 1-18 1 23 1-16 1 8 1 1 1-7 1-14 1 36 1-15 1-9 1 10 1-10 1-11 1 31 1-23 1 13 1 0 1-9 1 16 1-19 1-1 1 12 1 0 1-8 1-8 1 22 1-15 1 12 1-4 1-6 1-10 1 20 1-12 1 9 1 1 1-10 1 21 1-29 1 18 1-10" stroke="#EDB120" stroke-width="0.65" fill="none" vector-effect="non-scaling-stroke" opacity="0.8"/>
<path transform="matrix(-0.41795 -0.24811 0.00000 0.50000 941.94 975.41)" d="M0 -3l1 6 1 2 1-11 1 3 1 6 1 0 1-6 1-1 1 9 1-3 1-5 1-1 1 7 1 0 1-8 1 2 1 6 1-1 1-6 1 1 1 6 1-1 1-5 1 1 1 4 1 2 1-10 1 3 1 6 1 0 1-6 1-1 1 7 1 1 1-8 1 2 1 5 1 3 1-14 1 5 1 7 1-2 1-5 1-2 1 9 1-2 1-4 1-1 1 5 1 5 1-14 1 3 1 7 1 0 1-7 1-5 1 15 1-3 1-6 1 1 1 4 1 7 1-15 1 3 1 6 1 0 1-5 1-2 1 7 1 0 1-7 1 1 1 5 1 1 1-7 1 1 1 6 1 0 1-6 1-3 1 11 1-2 1-6 1 0 1 7 1 1 1-13 1 5 1 6 1 0 1-6 1-2 1 10 1-2 1-7 1 1 1 6 1 1 1-9 1 3 1 5 1 1 1-6 1-2 1 9 1-1 1-8 1 1 1 5 1 2 1-7 1-2 1 9 1 0 1-7 1-3 1 13 1-3 1-9 1 2 1 6 1 1 1-7 1-2 1 10 1-2 1-5 1-1 1 5 1 1 1-6 1 0 1 5 1 0 1-5 1-6 1 15 1-3 1-5 1 0 1 5 1 2 1-11 1 4 1 4 1 2 1-7 1-1 1 9 1-2 1-6 1-1 1 6 1 1 1-7 1 1 1 5 1 2 1-7 1-5 1 13 1-2 1-6 1 0 1 6 1 8 1-18 1 4 1 5 1 1 1-5 1-3 1 10 1-3 1-5 1 0 1 7 1 0 1-11 1 5 1 5 1-1 1-4 1-7 1 19 1-7 1-6 1-1 1 8 1 4 1-13 1 1 1 7 1 0 1-6 1 0 1 7 1-1 1-6 1 0 1 5 1 5 1-12 1 2 1 6 1-1 1-4 1-3 1 10 1-3 1-5 1 0 1 6 1 3 1-11 1 2 1 6" stroke="#EDB120" stroke-width="0.95" fill="none" vector-effect="non-scaling-stroke"/>
<path transform="matrix(-0.41795 -0.24811 0.00000 0.50000 925.62 982.12)" d="M0 -6l1 12 1 18 1-44 1 27 1-15 1 13 1-13 1 39 1-53 1 27 1-12 1 13 1-13 1-9 1 33 1-24 1 15 1 0 1-17 1-9 1 33 1-9 1-11 1 10 1-11 1-15 1 37 1-22 1 15 1 0 1-16 1-15 1 39 1-26 1 18 1-3 1-12 1-27 1 58 1-32 1 13 1-1 1-11 1 29 1-47 1 29 1-12 1 2 1 9 1-29 1 49 1-32 1 17 1-2 1-15 1-22 1 54 1-34 1 18 1-1 1-14 1 42 1-69 1 42 1-15 1 3 1 10 1-32 1 45 1-9 1-19 1 13 1-9 1-25 1 51 1-12 1-19 1 16 1-14 1 35 1-53 1 37 1-18 1 1 1 12 1-39 1 58 1-34 1 23 1-9 1-11 1-23 1 50 1-10 1-25 1 6 1 15 1-31 1 50 1-37 1 25 1-18 1 11 1 16 1-42 1 34 1-25 1 16 1-11 1 11 1-38 1 53 1-42 1 15 1 12 1 26 1-58 1 46 1-36 1 22 1-13 1-1 1 33 1-47 1 46 1-31 1 13 1 3 1-23 1-8 1 38 1-11 1-11 1 0 1 10 1-35 1 56 1-20 1-10 1 12 1-13 1-16 1 43 1-15 1-13 1 0 1 15 1 20 1-46 1 11 1 17 1-18 1 12 1-20 1 30 1-9 1-11 1 0 1 13 1-33 1 46 1-12 1-14 1-1 1 14 1 31 1-69 1 37 1-13 1 0 1 13 1-30 1 45 1-15 1-12 1-2 1 14 1 20 1-49 1 16 1 14 1-1 1-10 1-19 1 51 1-37 1 16 1-14 1 13 1 25 1-60 1 40 1-25 1 21 1-13 1 24 1-35 1 26 1-22 1 19 1-11 1-30 1 63 1-37 1 19 1-16 1 11 1-26 1 38 1-7 1-19 1 14 1-11 1 28 1-44 1 32 1-18" stroke="#D95319" stroke-width="0.65" fill="none" vector-effect="non-scaling-stroke" opacity="0.8"/>
<path transform="matrix(-0.41795 -0.24811 0.00000 0.50000 925.62 982.12)" d="M0 -3l1 7 1 6 1-17 1 3 1 7 1 0 1-8 1-3 1 21 1-10 1-7 1 1 1 6 1 5 1-17 1 6 1 6 1 0 1-8 1-3 1 14 1-3 1-6 1 0 1 6 1 5 1-19 1 7 1 7 1 1 1-8 1-3 1 14 1-3 1-9 1 2 1 7 1 6 1-19 1 5 1 8 1-1 1-7 1-10 1 25 1-8 1-6 1 0 1 5 1 9 1-26 1 11 1 9 1-2 1-8 1-6 1 20 1-5 1-9 1 2 1 6 1 10 1-27 1 10 1 10 1-2 1-7 1-5 1 20 1-8 1-9 1 2 1 6 1 2 1-18 1 6 1 12 1-2 1-7 1-3 1 15 1-3 1-8 1-1 1 8 1 5 1-22 1 8 1 9 1 0 1-8 1-1 1 12 1-2 1-11 1 3 1 8 1 2 1-17 1 5 1 10 1-1 1-6 1-2 1 9 1 0 1-9 1 1 1 6 1 1 1-8 1-5 1 19 1-6 1-7 1-4 1 13 1 1 1-13 1 2 1 8 1 0 1-8 1-5 1 19 1-7 1-6 1-1 1 7 1 5 1-16 1 5 1 6 1 0 1-7 1-9 1 22 1-6 1-6 1 0 1 6 1 7 1-24 1 10 1 8 1 2 1-11 1-7 1 22 1-6 1-9 1-1 1 9 1 2 1-12 1 3 1 7 1 1 1-8 1-6 1 18 1-3 1-8 1-1 1 8 1 11 1-26 1 7 1 7 1 1 1-6 1-8 1 23 1-9 1-8 1 0 1 10 1 4 1-20 1 6 1 8 1-1 1-6 1-14 1 33 1-13 1-7 1 0 1 8 1 10 1-28 1 9 1 10 1-2 1-7 1-3 1 15 1-4 1-8 1 1 1 6 1 9 1-20 1 3 1 10 1-2 1-5 1-8 1 18 1-5 1-7 1-1 1 9 1 5 1-15 1 2 1 8" stroke="#D95319" stroke-width="0.95" fill="none" vector-effect="non-scaling-stroke"/>
<path transform="matrix(-0.41795 -0.24811 0.00000 0.50000 909.31 988.84)" d="M0 -6l1 12 1 21 1-52 1 32 1-16 1 16 1-16 1-29 1 73 1-29 1-15 1 17 1-17 1-23 1 66 1-41 1 19 1-4 1-19 1-18 1 56 1-18 1-15 1 13 1-16 1-28 1 61 1-34 1 19 1 2 1-19 1-17 1 47 1-31 1 18 1 0 1-16 1-37 1 69 1-34 1 17 1-1 1-14 1 44 1-73 1 46 1-17 1 1 1 11 1-47 1 78 1-45 1 20 1-2 1-20 1-26 1 72 1-45 1 20 1 1 1-20 1 58 1-94 1 32 1 23 1-2 1-13 1-38 1 84 1-27 1-28 1 8 1 12 1-38 1 67 1-21 1-25 1 18 1-17 1 40 1-58 1 38 1-19 1 17 1-15 1-32 1 77 1-48 1 25 1-7 1-16 1-27 1 59 1-9 1-30 1 5 1 19 1-60 1 87 1-10 1-48 1 17 1 14 1 17 1-50 1 41 1-28 1 18 1-15 1-30 1 58 1 2 1-47 1 32 1-15 1 59 1-90 1 17 1 41 1-28 1 19 1-22 1 55 1-76 1 65 1-41 1 16 1 7 1-56 1 76 1-56 1 15 1 12 1-13 1 16 1-48 1 78 1-44 1 11 1 3 1-15 1-31 1 74 1-27 1-20 1 3 1 17 1-49 1 74 1-47 1 27 1-9 1-14 1-16 1 39 1-8 1-13 1 0 1 14 1-39 1 57 1-13 1-19 1-2 1 18 1 36 1-80 1 43 1-16 1-1 1 15 1-43 1 75 1-31 1-15 1 17 1-20 1-30 1 77 1-26 1-17 1 16 1-15 1-40 1 89 1-35 1-16 1-2 1 19 1-65 1 101 1-60 1 28 1-5 1-17 1 48 1-63 1 32 1-23 1 24 1-16 1 46 1-77 1 28 1 20 1-3 1-15 1-21 1 60 1-19 1-23 1 4 1 13 1 34 1-73 1 20 1 26" stroke="#0072BD" stroke-width="0.65" fill="none" vector-effect="non-scaling-stroke" opacity="0.8"/>
<path transform="matrix(-0.41795 -0.24811 0.00000 0.50000 909.31 988.84)" d="M0 -4l1 8 1 10 1-27 1 9 1 7 1 1 1-11 1-5 1 27 1-11 1-8 1-1 1 10 1 8 1-24 1 6 1 10 1-1 1-8 1-8 1 23 1-7 1-8 1 1 1 8 1 5 1-22 1 8 1 10 1-2 1-8 1-9 1 21 1-3 1-11 1 2 1 8 1 13 1-35 1 13 1 10 1 0 1-10 1-8 1 26 1-10 1-8 1 1 1 8 1 9 1-27 1 8 1 12 1-2 1-10 1-13 1 33 1-8 1-13 1 1 1 10 1 19 1-41 1 12 1 13 1-2 1-9 1-10 1 34 1-14 1-12 1 2 1 8 1 10 1-33 1 11 1 15 1-3 1-9 1-10 1 30 1-9 1-12 1 1 1 10 1 5 1-31 1 14 1 15 1-5 1-8 1-4 1 22 1-6 1-15 1 3 1 10 1 3 1-21 1 5 1 16 1-3 1-8 1-6 1 20 1-2 1-14 1 0 1 10 1 0 1-9 1-8 1 23 1-6 1-9 1-3 1 14 1 2 1-20 1 6 1 11 1 1 1-12 1-8 1 24 1-7 1-8 1 0 1 8 1 8 1-23 1 6 1 8 1 1 1-9 1-12 1 31 1-9 1-10 1 0 1 10 1 9 1-27 1 8 1 11 1 2 1-14 1-12 1 39 1-15 1-12 1 0 1 10 1 8 1-21 1 4 1 10 1 1 1-11 1-12 1 30 1-8 1-9 1-2 1 12 1 15 1-37 1 11 1 8 1 2 1-9 1-11 1 32 1-11 1-12 1 1 1 11 1 10 1-34 1 13 1 11 1-2 1-8 1-12 1 36 1-16 1-9 1-1 1 10 1 13 1-33 1 7 1 15 1 0 1-10 1-6 1 24 1-10 1-9 1 0 1 9 1 20 1-45 1 14 1 13 1-2 1-8 1-9 1 25 1-6 1-11 1 1 1 9 1 9 1-23 1 5 1 10" stroke="#0072BD" stroke-width="0.95" fill="none" vector-effect="non-scaling-stroke"/>
<text class="k3 e" x="780.40" y="970.50">-4</text>
<text class="k3 e" x="780.40" y="952.62">-2</text>
<text class="k3 e" x="780.40" y="934.75">0</text>
<text class="k3 e" x="780.40" y="916.88">2</text>
<text class="k3 e" x="780.40" y="899.00">4</text>
<text class="k3 e" x="888.70" y="1042.10">0</text>
<text class="k3 e" x="861.30" y="1026.25">0.1</text>
<text class="k3 e" x="833.90" y="1010.40">0.2</text>
<text class="k3 e" x="806.50" y="994.55">0.3</text>
<text class="k3 e" x="779.10" y="978.70">0.4</text>
<text class="k3" x="917.01" y="1036.59">Original signal</text>
<text class="k3" x="933.33" y="1029.88">M=2</text>
<text class="k3" x="949.64" y="1023.16">M=3</text>
<text class="k3" x="965.95" y="1016.45">M=4</text>
<text class="k3" x="982.26" y="1009.74">M=5</text>
<text class="k3" x="998.58" y="1003.02">M=6</text>
<text class="k3" x="1014.89" y="996.31">M=7</text>
<text class="k3 m" x="835.80" y="1037.00">Time</text>
<text class="k3 m" transform="translate(769.00 932.15) rotate(-90)">Amplitude</text>
<path d="M1217.60 1031.30L1348.10 977.60M1348.10 977.60L1348.10 906.10M1190.90 1015.45L1321.40 961.75M1321.40 961.75L1321.40 890.25M1164.20 999.60L1294.70 945.90M1294.70 945.90L1294.70 874.40M1137.50 983.75L1268.00 930.05M1268.00 930.05L1268.00 858.55M1110.80 967.90L1241.30 914.20M1241.30 914.20L1241.30 842.70M1217.60 1031.30L1110.80 967.90M1110.80 967.90L1110.80 896.40M1233.91 1024.59L1127.11 961.19M1127.11 961.19L1127.11 889.69M1250.22 1017.88L1143.42 954.48M1143.42 954.48L1143.42 882.98M1266.54 1011.16L1159.74 947.76M1159.74 947.76L1159.74 876.26M1282.85 1004.45L1176.05 941.05M1176.05 941.05L1176.05 869.55M1299.16 997.74L1192.36 934.34M1192.36 934.34L1192.36 862.84M1315.47 991.02L1208.67 927.62M1208.67 927.62L1208.67 856.12M1331.79 984.31L1224.99 920.91M1224.99 920.91L1224.99 849.41M1348.10 977.60L1241.30 914.20M1241.30 914.20L1241.30 842.70M1110.80 967.90L1241.30 914.20M1241.30 914.20L1348.10 977.60M1110.80 950.02L1241.30 896.33M1241.30 896.33L1348.10 959.73M1110.80 932.15L1241.30 878.45M1241.30 878.45L1348.10 941.85M1110.80 914.27L1241.30 860.58M1241.30 860.58L1348.10 923.98M1110.80 896.40L1241.30 842.70M1241.30 842.70L1348.10 906.10M1110.80 896.40L1241.30 842.70M1241.30 842.70L1348.10 906.10" stroke="#e6e6e6" stroke-width="0.6" fill="none"/>
<path d="M1110.80 967.90L1110.80 896.40M1110.80 967.90L1217.60 1031.30M1217.60 1031.30L1348.10 977.60M1110.80 967.90L1108.21 968.97M1110.80 950.02L1108.21 951.09M1110.80 932.15L1108.21 933.22M1110.80 914.27L1108.21 915.34M1110.80 896.40L1108.21 897.47M1217.60 1031.30L1214.64 1032.52M1190.90 1015.45L1187.94 1016.67M1164.20 999.60L1161.24 1000.82M1137.50 983.75L1134.54 984.97M1110.80 967.90L1107.84 969.12M1233.91 1024.59L1236.66 1026.22M1250.22 1017.88L1252.98 1019.51M1266.54 1011.16L1269.29 1012.80M1282.85 1004.45L1285.60 1006.08M1299.16 997.74L1301.91 999.37M1315.47 991.02L1318.23 992.66M1331.79 984.31L1334.54 985.95" stroke="#333" stroke-width="0.75" fill="none"/>
<path transform="matrix(-0.41795 -0.24811 0.00000 0.50000 1331.79 948.56)" d="M0 3l1-5 1 4 1-4 1 8 1-13 1 9 1-5 1 0 1 5 1-6 1 8 1-2 1-5 1 0 1 6 1 2 1-7 1 5 1-5 1-1 1 6 1 3 1-9 1 0 1 6 1-5 1 4 1-12 1 15 1-2 1-6 1 5 1-4 1-4 1 10 1 0 1-6 1 0 1 3 1 2 1-9 1 2 1 7 1-5 1 4 1-9 1 10 1 1 1-6 1 6 1-9 1 8 1-10 1 13 1-11 1 2 1 6 1-7 1 9 1 0 1-11 1 5 1 3 1 1 1-11 1 1 1 10 1-1 1-6 1 7 1-8 1 1 1 10 1-2 1-10 1 9 1-7 1 0 1 7 1-7 1 7 1 0 1-6 1 10 1-11 1 8 1-8 1 6 1-3 1 7 1-12 1 4 1 4 1-5 1 5 1 5 1-11 1 1 1 6 1-5 1 4 1 8 1-15 1 2 1 5 1-4 1 4 1-12 1 17 1-4 1-6 1-1 1 6 1-7 1 10 1-3 1-4 1-3 1 8 1-11 1 14 1-2 1-7 1 1 1 5 1 0 1-6 1 6 1-6 1 4 1-4 1 6 1-11 1 11 1-5 1 6 1-7 1 8 1-12 1 10 1-6 1 1 1 4 1-12 1 14 1-7 1 6 1 0 1-6 1 11 1-12 1 1 1 6 1-1 1-4 1 9 1-12 1 1 1 7 1-6 1 5 1 4 1-9 1-1 1 6 1-5 1 5 1 5 1-11 1 1 1 7 1-7 1 6 1 7 1-13 1-2 1 8 1 1 1-9 1-2 1 8 1 4 1-9 1 1 1 6 1-5 1 10 1-13 1 9 1-1 1-6 1 0 1 8 1-1 1-8 1 6 1-5 1 5 1-4 1-3 1 7 1-5 1 6 1-6 1 5 1-6 1 6 1-5 1 6 1-1 1-8 1 0 1 11 1-8 1 5 1-4 1 4" stroke="#A2142F" stroke-width="0.65" fill="none" vector-effect="non-scaling-stroke" opacity="0.8"/>
<path transform="matrix(-0.41795 -0.24811 0.00000 0.50000 1331.79 948.56)" d="M0 -2l1 4 1 0 1-4 1 0 1 6 1-3 1-2 1-1 1 3 1 1 1-4 1 0 1 4 1 0 1-4 1 0 1 6 1-2 1-4 1 0 1 4 1 1 1-5 1 1 1 3 1 0 1-3 1-3 1 6 1 0 1-5 1 2 1 3 1 0 1-5 1 1 1 4 1-1 1-2 1-3 1 6 1 0 1-3 1-1 1 3 1 1 1-5 1 2 1 2 1 2 1-6 1 0 1 5 1 1 1-6 1 0 1 4 1 1 1-5 1 0 1 5 1-1 1-2 1-2 1 5 1 0 1-5 1 2 1 2 1 0 1-3 1 0 1 4 1 1 1-7 1 3 1 3 1-1 1-3 1-1 1 5 1 0 1-4 1 0 1 7 1-2 1-6 1 2 1 3 1 2 1-6 1 1 1 2 1 0 1-3 1-1 1 7 1-2 1-4 1 1 1 3 1 3 1-8 1 1 1 4 1-1 1-3 1-2 1 7 1-1 1-4 1-1 1 4 1 2 1-5 1 0 1 4 1 0 1-6 1-1 1 7 1 0 1-4 1 0 1 4 1-1 1-4 1 1 1 4 1-1 1-3 1-3 1 8 1-1 1-3 1-1 1 4 1 1 1-7 1 2 1 4 1-1 1-2 1-5 1 8 1 0 1-4 1 0 1 4 1 2 1-5 1-1 1 4 1 0 1-4 1 0 1 5 1-1 1-3 1-1 1 3 1 2 1-4 1-1 1 3 1 0 1-3 1 0 1 7 1-3 1-5 1 0 1 5 1 5 1-8 1-1 1 3 1 1 1-5 1 1 1 3 1 1 1-4 1 0 1 4 1 1 1-4 1-1 1 4 1 0 1-4 1 0 1 5 1 0 1-6 1 1 1 3 1 0 1-3 1 0 1 3 1 1 1-4 1 0 1 4 1 0 1-4 1 0 1 4 1-1 1-4 1 1 1 4 1 0 1-3 1 0 1 3" stroke="#A2142F" stroke-width="0.95" fill="none" vector-effect="non-scaling-stroke"/>
<path transform="matrix(-0.41795 -0.24811 0.00000 0.50000 1315.47 955.27)" d="M0 3l1-6 1 5 1-5 1 11 1-16 1 10 1-4 1 4 1-5 1-5 1 14 1-3 1-6 1 0 1 6 1 3 1-10 1 2 1 5 1-6 1 7 1 3 1-13 1 1 1 9 1-6 1 5 1-14 1 21 1-6 1-9 1 8 1-5 1-5 1 14 1-2 1-8 1 5 1-4 1-6 1 12 1-8 1 8 1-7 1 5 1-9 1 14 1 0 1-10 1 9 1-11 1 8 1-12 1 17 1-16 1 4 1 7 1-8 1 12 1 1 1-15 1 6 1 4 1 0 1-12 1 0 1 14 1-3 1-7 1 8 1-9 1-1 1 15 1-4 1-10 1 10 1-8 1-1 1 11 1-10 1 7 1 1 1-7 1-2 1 13 1-4 1-9 1 8 1-6 1 10 1-13 1 4 1 4 1-5 1 5 1 7 1-16 1 3 1 7 1-5 1 4 1 10 1-21 1 6 1 6 1-5 1 5 1-13 1 19 1-6 1-7 1 0 1 6 1-7 1 15 1-8 1-4 1 5 1-8 1-4 1 16 1-4 1-6 1 0 1 6 1 1 1-8 1 7 1-6 1 5 1-5 1-6 1 13 1 0 1-6 1-2 1 8 1-11 1 12 1-1 1-7 1 1 1 5 1-14 1 17 1-2 1-8 1 7 1-6 1 11 1-12 1 0 1 7 1 0 1-6 1 11 1-15 1 2 1 7 1-5 1 5 1-8 1 14 1-13 1 8 1-7 1 7 1 6 1-13 1 10 1-12 1 9 1-7 1 16 1-18 1-2 1 13 1-2 1-8 1-3 1 9 1 10 1-18 1 4 1 6 1-5 1 11 1-16 1 13 1-3 1-6 1-1 1 11 1 0 1-12 1 7 1-5 1 5 1-5 1-4 1 14 1-10 1 6 1-6 1 6 1-8 1 9 1-7 1 6 1 0 1-7 1-4 1 15 1-10 1 5 1-4 1 5" stroke="#4DBEEE" stroke-width="0.65" fill="none" vector-effect="non-scaling-stroke" opacity="0.8"/>
<path transform="matrix(-0.41795 -0.24811 0.00000 0.50000 1315.47 955.27)" d="M0 -2l1 4 1 0 1-4 1-2 1 8 1-3 1-3 1 0 1 4 1 1 1-6 1 1 1 4 1-1 1-3 1 0 1 6 1-1 1-5 1 0 1 4 1 2 1-6 1 0 1 4 1-1 1-2 1-5 1 9 1 0 1-6 1 2 1 3 1 0 1-5 1 1 1 5 1-2 1-3 1-2 1 6 1 0 1-4 1 0 1 3 1 1 1-6 1 2 1 3 1 3 1-8 1 0 1 6 1 1 1-6 1 0 1 5 1 0 1-5 1 0 1 7 1-2 1-3 1-2 1 5 1 2 1-8 1 3 1 3 1 0 1-5 1 0 1 5 1 1 1-8 1 4 1 3 1 0 1-5 1 0 1 5 1 1 1-5 1-1 1 7 1 0 1-7 1 2 1 3 1 3 1-8 1 2 1 3 1-1 1-3 1-2 1 9 1-3 1-4 1 0 1 4 1 5 1-9 1 0 1 4 1 0 1-4 1-4 1 10 1-1 1-5 1-1 1 5 1 2 1-7 1 1 1 4 1 1 1-7 1-1 1 7 1 1 1-5 1 0 1 4 1-1 1-4 1 1 1 5 1-2 1-3 1-5 1 10 1-1 1-3 1-1 1 5 1-1 1-8 1 4 1 5 1-2 1-3 1-5 1 9 1 1 1-6 1 1 1 4 1 3 1-7 1 0 1 4 1 0 1-4 1 0 1 6 1-2 1-5 1 0 1 4 1 3 1-6 1-1 1 5 1 0 1-4 1 0 1 8 1-2 1-7 1 0 1 5 1 5 1-8 1-3 1 6 1 0 1-6 1 1 1 4 1 2 1-7 1 2 1 4 1 2 1-5 1-3 1 8 1-2 1-4 1 0 1 4 1 1 1-6 1 1 1 3 1 1 1-4 1-1 1 5 1 0 1-4 1 0 1 4 1 0 1-5 1 1 1 4 1-1 1-4 1-2 1 8 1-1 1-3 1-1 1 4" stroke="#4DBEEE" stroke-width="0.95" fill="none" vector-effect="non-scaling-stroke"/>
<path transform="matrix(-0.41795 -0.24811 0.00000 0.50000 1299.16 961.99)" d="M0 3l1-7 1 1 1 5 1 6 1-12 1 6 1-5 1 0 1 6 1-11 1 15 1-4 1-6 1 0 1 7 1 4 1-13 1 9 1-7 1 0 1 7 1 3 1-11 1-2 1 10 1-7 1 6 1-16 1 23 1-15 1 8 1 1 1-6 1-6 1 13 1 0 1-9 1 6 1-5 1 7 1-12 1 13 1-9 1 1 1 6 1-11 1 17 1-5 1-9 1 12 1-12 1 8 1-13 1 16 1-12 1 2 1 7 1-8 1 13 1 1 1-16 1 6 1 4 1 0 1-13 1-1 1 18 1-5 1-8 1 10 1-12 1 13 1-9 1 8 1-11 1 11 1-9 1 10 1-10 1 0 1 9 1 0 1-7 1 13 1-15 1 10 1-10 1 8 1-6 1 12 1-14 1 2 1 5 1-6 1 6 1 9 1-19 1 4 1 7 1-6 1 6 1 11 1-21 1 4 1 6 1-6 1 6 1-14 1 16 1-9 1 8 1-8 1 7 1-9 1 16 1-7 1-6 1 7 1-10 1-5 1 15 1 0 1-8 1 8 1-8 1-1 1 12 1-3 1-8 1 1 1 5 1-13 1 16 1-1 1-6 1-2 1 7 1-13 1 14 1 0 1-7 1 1 1 5 1-15 1 19 1-3 1-8 1 7 1-6 1 12 1-13 1 7 1-7 1 7 1-5 1 11 1-14 1 7 1-6 1 0 1 7 1-11 1 19 1-17 1 9 1-7 1 7 1 6 1-13 1-3 1 11 1-8 1 7 1 11 1-21 1-3 1 15 1-2 1-10 1-2 1 11 1 7 1-18 1 6 1 7 1-7 1 15 1-22 1 17 1-3 1-8 1 12 1-14 1 17 1-16 1 9 1-7 1 0 1 6 1-12 1 19 1-13 1 6 1-6 1 6 1-10 1 14 1-11 1 7 1 0 1-8 1-4 1 18 1-12 1 6 1-6 1 7" stroke="#77AC30" stroke-width="0.65" fill="none" vector-effect="non-scaling-stroke" opacity="0.8"/>
<path transform="matrix(-0.41795 -0.24811 0.00000 0.50000 1299.16 961.99)" d="M0 -2l1 4 1 0 1-4 1-1 1 7 1-3 1-3 1 0 1 4 1 2 1-7 1 1 1 4 1 0 1-4 1-1 1 8 1-2 1-5 1 0 1 5 1 1 1-6 1 0 1 4 1 0 1-4 1-3 1 10 1-2 1-6 1 2 1 3 1 1 1-7 1 2 1 5 1-2 1-3 1-2 1 6 1 0 1-4 1 0 1 4 1 1 1-8 1 3 1 4 1 2 1-8 1 0 1 6 1 1 1-5 1-1 1 6 1 0 1-6 1-1 1 9 1-3 1-3 1-2 1 5 1 1 1-7 1 2 1 4 1 0 1-6 1 2 1 4 1 1 1-8 1 3 1 4 1 1 1-7 1 1 1 5 1 1 1-5 1-1 1 8 1-2 1-6 1 1 1 4 1 2 1-6 1 0 1 4 1 0 1-4 1-1 1 7 1-1 1-5 1 0 1 4 1 4 1-9 1 0 1 5 1 0 1-4 1-3 1 8 1 0 1-5 1-1 1 5 1 2 1-8 1 2 1 4 1 1 1-6 1-1 1 6 1 1 1-5 1 0 1 5 1 0 1-8 1 3 1 4 1-1 1-3 1-5 1 10 1-1 1-4 1 0 1 5 1-1 1-6 1 2 1 5 1-1 1-4 1-4 1 9 1 0 1-6 1 1 1 4 1 3 1-7 1-1 1 5 1 0 1-4 1 0 1 5 1-1 1-3 1-1 1 4 1 3 1-8 1 0 1 6 1-1 1-4 1-1 1 7 1-1 1-6 1 0 1 5 1 3 1-6 1-3 1 6 1 0 1-6 1 2 1 3 1 3 1-7 1 1 1 4 1 0 1-3 1-2 1 6 1 0 1-5 1-1 1 6 1 1 1-8 1 2 1 3 1 1 1-4 1-3 1 9 1-2 1-4 1 0 1 4 1 1 1-6 1 0 1 5 1 0 1-5 1-1 1 7 1-1 1-3 1-1 1 4" stroke="#77AC30" stroke-width="0.95" fill="none" vector-effect="non-scaling-stroke"/>
<path transform="matrix(-0.41795 -0.24811 0.00000 0.50000 1282.85 968.70)" d="M0 -3l1 6 1 0 1-7 1 0 1 14 1-7 1-6 1-2 1 9 1 2 1-12 1 3 1 6 1-6 1 7 1 5 1-14 1 2 1 7 1-7 1 8 1-9 1 12 1-13 1 8 1-6 1 6 1-20 1 23 1-3 1-7 1 9 1-7 1 5 1-12 1 13 1-8 1 0 1 6 1 3 1-16 1 6 1 9 1-7 1 6 1-12 1 14 1 1 1-11 1 12 1-13 1 10 1-15 1 16 1-8 1-2 1 9 1-8 1 11 1 1 1-13 1 3 1 6 1-1 1-13 1-4 1 18 1 0 1-10 1 10 1-13 1 13 1-7 1 7 1-10 1 11 1-12 1 10 1-7 1-2 1 10 1 1 1-9 1 17 1-17 1 11 1-12 1 9 1-7 1 13 1-15 1 2 1 6 1-7 1 6 1-7 1 17 1-16 1 8 1-7 1 6 1 14 1-22 1 2 1 7 1-8 1 7 1-15 1 17 1-8 1 7 1-8 1 7 1-11 1 13 1-2 1-6 1 8 1-13 1-4 1 16 1 2 1-10 1 0 1 8 1-12 1 15 1-12 1 8 1-6 1 5 1-14 1 17 1-2 1-5 1-2 1 8 1-16 1 15 1 3 1-9 1 0 1 6 1-18 1 18 1-8 1 9 1-1 1-6 1 15 1-15 1 6 1-8 1 2 1 8 1 7 1-16 1 2 1 4 1 2 1-8 1 15 1-15 1 0 1 8 1 0 1-8 1 1 1 11 1-12 1 8 1-8 1 7 1-5 1 19 1-25 1 12 1 1 1-11 1-6 1 14 1 3 1-10 1 1 1 7 1-5 1 17 1-20 1 9 1 1 1-9 1 1 1 13 1-2 1-13 1 2 1 8 1-2 1-7 1-6 1 16 1-10 1 7 1-6 1 7 1-12 1 12 1-8 1 7 1 0 1-9 1-6 1 16 1-7 1 6 1-6 1 7" stroke="#7E2F8E" stroke-width="0.65" fill="none" vector-effect="non-scaling-stroke" opacity="0.8"/>
<path transform="matrix(-0.41795 -0.24811 0.00000 0.50000 1282.85 968.70)" d="M0 -3l1 6 1-1 1-5 1 0 1 6 1-2 1-3 1-1 1 6 1 0 1-6 1 1 1 4 1 0 1-4 1-1 1 7 1-1 1-5 1 0 1 5 1 0 1-5 1 0 1 4 1 0 1-4 1-2 1 7 1-1 1-5 1 1 1 4 1 1 1-6 1 1 1 5 1-1 1-4 1-1 1 5 1 1 1-6 1 1 1 4 1 2 1-8 1 2 1 4 1 2 1-8 1 0 1 7 1 0 1-5 1-2 1 7 1 0 1-7 1 0 1 8 1-2 1-3 1-3 1 7 1 0 1-6 1 1 1 4 1 1 1-7 1 1 1 5 1 1 1-8 1 3 1 4 1 0 1-5 1 0 1 5 1 1 1-6 1 0 1 7 1-1 1-7 1 2 1 5 1 1 1-6 1 0 1 4 1 0 1-5 1 1 1 6 1-1 1-6 1 1 1 4 1 2 1-7 1 0 1 6 1-1 1-4 1-2 1 7 1-1 1-5 1 0 1 5 1 1 1-6 1 0 1 5 1 1 1-6 1-1 1 7 1 0 1-6 1 1 1 5 1 0 1-7 1 2 1 5 1-2 1-3 1-3 1 9 1-2 1-4 1-1 1 7 1-2 1-6 1 2 1 5 1-1 1-4 1-2 1 6 1 1 1-5 1-1 1 6 1 2 1-6 1-2 1 5 1 0 1-4 1 0 1 5 1-1 1-4 1 0 1 4 1 3 1-7 1-1 1 6 1-1 1-5 1 1 1 5 1 0 1-6 1 0 1 5 1 2 1-5 1-2 1 5 1 0 1-5 1 1 1 3 1 2 1-6 1 1 1 5 1-1 1-4 1 0 1 5 1 0 1-5 1-1 1 5 1 2 1-7 1 1 1 4 1 0 1-4 1-2 1 7 1 0 1-5 1 0 1 4 1 1 1-6 1 0 1 5 1 0 1-5 1 1 1 4 1 0 1-4 1 0 1 4" stroke="#7E2F8E" stroke-width="0.95" fill="none" vector-effect="non-scaling-stroke"/>
<path transform="matrix(-0.41795 -0.24811 0.00000 0.50000 1266.54 975.41)" d="M0 -4l1 8 1 0 1-9 1 18 1-26 1 17 1-8 1 9 1-11 1 16 1-21 1 15 1-8 1 0 1 9 1 8 1-18 1 10 1-8 1 0 1 10 1 4 1-21 1 4 1 12 1-8 1 7 1-27 1 35 1-19 1 12 1 0 1-9 1-9 1 21 1-2 1-10 1-1 1 7 1-17 1 22 1-2 1-13 1 2 1 8 1-13 1 20 1-1 1-15 1 14 1-14 1-10 1 32 1-27 1 21 1-5 1-10 1-1 1 18 1-1 1-19 1 5 1 7 1 0 1-18 1-6 1 28 1-3 1-13 1-4 1 22 1 1 1-19 1 13 1-11 1 11 1-16 1 17 1-12 1-1 1 13 1-1 1-10 1 23 1-26 1 16 1-14 1 11 1-9 1 16 1-24 1 7 1 9 1-9 1 8 1 13 1-26 1 6 1 9 1-8 1 7 1 21 1-36 1 17 1-10 1-1 1 10 1-19 1 31 1-12 1-11 1 1 1 8 1-13 1 22 1-16 1 7 1 3 1-14 1-11 1 33 1-5 1-15 1 2 1 9 1 0 1-13 1 11 1-8 1 2 1 7 1 1 1-18 1 17 1-7 1 8 1-10 1-9 1 28 1-7 1-11 1 8 1-7 1-16 1 27 1-2 1-12 1 10 1-7 1 20 1-26 1 14 1-11 1 2 1 10 1 11 1-28 1 18 1-15 1 14 1-11 1 22 1-26 1 14 1-10 1 0 1 9 1-16 1 28 1-23 1 14 1-12 1 10 1 16 1-33 1 5 1 12 1 0 1-11 1-10 1 26 1 1 1-19 1 11 1-8 1 25 1-34 1 4 1 21 1-6 1-10 1 1 1 18 1-7 1-13 1 2 1 11 1-3 1-9 1-9 1 22 1-13 1 9 1-8 1 8 1-12 1 13 1-10 1 9 1-1 1-9 1-12 1 31 1-16 1 7 1-8 1 9" stroke="#EDB120" stroke-width="0.65" fill="none" vector-effect="non-scaling-stroke" opacity="0.8"/>
<path transform="matrix(-0.41795 -0.24811 0.00000 0.50000 1266.54 975.41)" d="M0 -3l1 6 1-1 1-4 1-6 1 16 1-6 1-5 1 0 1 6 1 2 1-8 1 1 1 5 1 0 1-6 1 0 1 7 1-1 1-6 1 0 1 6 1 1 1-7 1 0 1 6 1-2 1-3 1-4 1 12 1-3 1-6 1 1 1 4 1 2 1-9 1 2 1 6 1-1 1-5 1-4 1 11 1 0 1-7 1 1 1 4 1 2 1-9 1 3 1 5 1 2 1-9 1 0 1 8 1 2 1-12 1 2 1 7 1 2 1-9 1-1 1 9 1-1 1-5 1-2 1 7 1 2 1-10 1 3 1 5 1 1 1-9 1 0 1 10 1-1 1-9 1 3 1 5 1 2 1-8 1 0 1 6 1 1 1-7 1-2 1 13 1-5 1-7 1 1 1 6 1 3 1-10 1 2 1 5 1-1 1-5 1-2 1 13 1-4 1-7 1 1 1 4 1 6 1-15 1 4 1 6 1-2 1-4 1-7 1 18 1-4 1-6 1-1 1 5 1 3 1-10 1 2 1 6 1 1 1-7 1-5 1 12 1 0 1-7 1 0 1 6 1 0 1-7 1 2 1 5 1-1 1-5 1-2 1 9 1-1 1-6 1-1 1 8 1 0 1-11 1 4 1 7 1-2 1-4 1-4 1 10 1-1 1-6 1 0 1 6 1 4 1-11 1 1 1 6 1 0 1-6 1 0 1 8 1-2 1-5 1-1 1 6 1 3 1-10 1 1 1 7 1-1 1-6 1 0 1 8 1 1 1-9 1-1 1 7 1 3 1-8 1-2 1 7 1 0 1-6 1 1 1 4 1 3 1-9 1 1 1 6 1-2 1-3 1-2 1 8 1-1 1-6 1 0 1 6 1 1 1-9 1 2 1 5 1 1 1-6 1-2 1 8 1 0 1-6 1 1 1 4 1 1 1-6 1-1 1 7 1-1 1-5 1-2 1 10 1-2 1-5 1-1 1 5" stroke="#EDB120" stroke-width="0.95" fill="none" vector-effect="non-scaling-stroke"/>
<path transform="matrix(-0.41795 -0.24811 0.00000 0.50000 1250.22 982.12)" d="M0 6l1-13 1 13 1-12 1 36 1-54 1 17 1 12 1 2 1-14 1-14 1 39 1-11 1-12 1 0 1 10 1 14 1-37 1 26 1-13 1-1 1 14 1 12 1-42 1 34 1-24 1 8 1 12 1-41 1 64 1-43 1 22 1-3 1-10 1-18 1 42 1-11 1-16 1 11 1-11 1-12 1 36 1-8 1-21 1 6 1 10 1 19 1-44 1 35 1-25 1 21 1-18 1-19 1 44 1 9 1-51 1 18 1 12 1-14 1 24 1 4 1-37 1 11 1 10 1 2 1-15 1-20 1 47 1-13 1-13 1 17 1-37 1 53 1-42 1 23 1-14 1 13 1-22 1 35 1-33 1 8 1 12 1 1 1-12 1 33 1-49 1 31 1-15 1 13 1-14 1 27 1-37 1 26 1-16 1 0 1 11 1 29 1-55 1 30 1-14 1 2 1 11 1 29 1-64 1 39 1-17 1 0 1 12 1 24 1-57 1 36 1-17 1 1 1 12 1 22 1-44 1 11 1 10 1 3 1-16 1-23 1 58 1-15 1-18 1 1 1 11 1-21 1 31 1-10 1-11 1 2 1 9 1 7 1-35 1 30 1-13 1-2 1 15 1-28 1 44 1-29 1 14 1-2 1-10 1-24 1 49 1-12 1-16 1 12 1-10 1 30 1-48 1 31 1-14 1 1 1 12 1 20 1-50 1 35 1-23 1 18 1-16 1 34 1-54 1 44 1-28 1 6 1 14 1-27 1 45 1-44 1 32 1-6 1-15 1 37 1-49 1 1 1 32 1-6 1-16 1-15 1 52 1-49 1 45 1-32 1 13 1 24 1-55 1 42 1-33 1 22 1-12 1 30 1-44 1 41 1-35 1 9 1 14 1-13 1 11 1-27 1 47 1-19 1-15 1 4 1 9 1 14 1-33 1 20 1-12 1 10 1-10 1-22 1 52 1-19 1-8 1-1 1 12" stroke="#D95319" stroke-width="0.65" fill="none" vector-effect="non-scaling-stroke" opacity="0.8"/>
<path transform="matrix(-0.41795 -0.24811 0.00000 0.50000 1250.22 982.12)" d="M0 -3l1 7 1-2 1-5 1-9 1 24 1-8 1-8 1-1 1 10 1 4 1-14 1 1 1 7 1 1 1-8 1-5 1 20 1-6 1-9 1 1 1 7 1 1 1-10 1 1 1 9 1-3 1-5 1-8 1 17 1-1 1-11 1 3 1 7 1 2 1-13 1 3 1 10 1-3 1-7 1-6 1 14 1 2 1-10 1 1 1 6 1 2 1-10 1-1 1 11 1 0 1-10 1 0 1 9 1 4 1-15 1 2 1 9 1 1 1-10 1-5 1 19 1-6 1-6 1-1 1 8 1 7 1-25 1 11 1 7 1 0 1-9 1-4 1 17 1-4 1-9 1 2 1 7 1 1 1-13 1 4 1 8 1 1 1-9 1-5 1 20 1-7 1-8 1 0 1 8 1 5 1-15 1 3 1 6 1-1 1-5 1-6 1 21 1-7 1-9 1 2 1 4 1 13 1-24 1 5 1 8 1-2 1-5 1-11 1 27 1-9 1-7 1-1 1 7 1 9 1-22 1 6 1 7 1 2 1-8 1-10 1 22 1-4 1-9 1 0 1 7 1 3 1-16 1 6 1 8 1-1 1-6 1-9 1 21 1-6 1-6 1-2 1 10 1 5 1-25 1 10 1 11 1-3 1-6 1-7 1 16 1 0 1-11 1 1 1 8 1 5 1-16 1 3 1 7 1 1 1-7 1-1 1 9 1 1 1-11 1 1 1 8 1 7 1-16 1 1 1 9 1-2 1-8 1-1 1 15 1 1 1-17 1 3 1 8 1 6 1-14 1-4 1 15 1-3 1-8 1 1 1 6 1 6 1-20 1 7 1 8 1-2 1-6 1-5 1 20 1-7 1-8 1 0 1 8 1 3 1-15 1 4 1 7 1 1 1-8 1-8 1 23 1-8 1-7 1 2 1 5 1 3 1-14 1 3 1 8 1 0 1-7 1-11 1 28 1-10 1-6 1 0 1 6" stroke="#D95319" stroke-width="0.95" fill="none" vector-effect="non-scaling-stroke"/>
<path transform="matrix(-0.41795 -0.24811 0.00000 0.50000 1233.91 988.84)" d="M0 8l1-15 1 14 1-14 1 42 1-60 1 16 1 17 1 4 1-22 1 45 1-69 1 44 1-17 1-1 1 13 1 34 1-72 1 25 1 17 1-16 1 18 1 13 1-47 1 9 1 26 1-3 1-14 1-30 1 67 1-49 1 31 1-4 1-14 1-21 1 46 1-31 1 24 1-22 1 14 1-27 1 42 1-2 1-35 1 24 1-15 1-37 1 80 1-11 1-40 1 27 1-22 1-38 1 88 1-70 1 53 1-16 1-16 1 36 1-60 1 70 1-63 1 18 1 14 1 2 1-18 1-37 1 83 1-30 1-18 1-24 1 64 1-7 1-40 1 28 1-18 1 15 1-34 1 50 1-38 1 22 1-14 1 15 1-15 1 39 1-59 1 40 1-19 1 16 1-17 1 35 1-51 1 34 1-18 1-2 1 17 1 41 1-85 1 29 1 19 1-16 1 13 1 41 1-83 1 45 1-21 1 17 1-16 1-34 1 84 1-29 1-24 1 3 1 18 1-42 1 70 1-43 1 14 1-18 1 18 1-45 1 65 1-17 1-20 1 1 1 13 1-46 1 64 1-16 1-15 1 3 1 12 1 25 1-66 1 43 1-17 1-4 1 23 1-52 1 76 1-46 1 23 1-5 1-14 1-42 1 81 1-18 1-25 1 3 1 14 1 24 1-55 1 39 1-22 1 2 1 14 1 20 1-55 1 44 1-37 1 31 1-25 1 59 1-79 1 48 1-30 1 4 1 20 1 33 1-79 1 64 1-48 1 31 1-17 1 52 1-83 1 61 1-42 1 30 1-20 1-35 1 74 1-56 1 58 1-40 1 16 1 43 1-95 1 81 1-67 1 23 1 18 1 27 1-69 1 12 1 41 1-13 1-16 1-1 1 19 1-52 1 75 1-25 1-18 1 15 1-11 1-21 1 52 1-17 1-16 1 1 1 12 1-53 1 92 1-38 1-11 1-1 1 16" stroke="#0072BD" stroke-width="0.65" fill="none" vector-effect="non-scaling-stroke" opacity="0.8"/>
<path transform="matrix(-0.41795 -0.24811 0.00000 0.50000 1233.91 988.84)" d="M0 -5l1 9 1 0 1-7 1-19 1 40 1-13 1-10 1-1 1 12 1 8 1-24 1 5 1 10 1 0 1-9 1-8 1 26 1-8 1-11 1 1 1 9 1 10 1-26 1 5 1 13 1-3 1-7 1-16 1 35 1-7 1-15 1 3 1 7 1 12 1-32 1 10 1 12 1-2 1-9 1-8 1 19 1 0 1-12 1 2 1 8 1 6 1-21 1 4 1 14 1 0 1-12 1 0 1 10 1 9 1-26 1 7 1 10 1 1 1-13 1-5 1 27 1-11 1-8 1-1 1 10 1 7 1-24 1 9 1 8 1 1 1-13 1-4 1 23 1-7 1-12 1 2 1 9 1 9 1-23 1 5 1 9 1 2 1-11 1-7 1 29 1-12 1-10 1 0 1 10 1 9 1-24 1 4 1 12 1-4 1-6 1-9 1 31 1-12 1-11 1 2 1 6 1 17 1-40 1 16 1 9 1-1 1-8 1-17 1 40 1-13 1-10 1-2 1 11 1 11 1-31 1 11 1 8 1 1 1-10 1-12 1 27 1-3 1-13 1 1 1 9 1 7 1-26 1 10 1 10 1-1 1-7 1-10 1 23 1-6 1-8 1-4 1 15 1 6 1-25 1 7 1 12 1-2 1-10 1-8 1 25 1-4 1-15 1 1 1 10 1 11 1-24 1 4 1 9 1 3 1-12 1-4 1 19 1-3 1-12 1 1 1 8 1 12 1-28 1 5 1 16 1-3 1-11 1-1 1 11 1 6 1-19 1 2 1 11 1 1 1-10 1-6 1 20 1-4 1-13 1 3 1 8 1 10 1-28 1 8 1 11 1-1 1-9 1-6 1 21 1-5 1-11 1-1 1 12 1 9 1-26 1 7 1 10 1 0 1-9 1-14 1 41 1-18 1-10 1 1 1 8 1 7 1-22 1 6 1 9 1 0 1-9 1-7 1 24 1-8 1-7 1-1 1 8" stroke="#0072BD" stroke-width="0.95" fill="none" vector-effect="non-scaling-stroke"/>
<text class="k3 e" x="1105.00" y="970.50">-4</text>
<text class="k3 e" x="1105.00" y="952.62">-2</text>
<text class="k3 e" x="1105.00" y="934.75">0</text>
<text class="k3 e" x="1105.00" y="916.88">2</text>
<text class="k3 e" x="1105.00" y="899.00">4</text>
<text class="k3 e" x="1213.30" y="1042.10">0</text>
<text class="k3 e" x="1185.90" y="1026.25">0.1</text>
<text class="k3 e" x="1158.50" y="1010.40">0.2</text>
<text class="k3 e" x="1131.10" y="994.55">0.3</text>
<text class="k3 e" x="1103.70" y="978.70">0.4</text>
<text class="k3" x="1241.61" y="1036.59">Original signal</text>
<text class="k3" x="1257.92" y="1029.88">M=2</text>
<text class="k3" x="1274.24" y="1023.16">M=3</text>
<text class="k3" x="1290.55" y="1016.45">M=4</text>
<text class="k3" x="1306.86" y="1009.74">M=5</text>
<text class="k3" x="1323.17" y="1003.02">M=6</text>
<text class="k3" x="1339.49" y="996.31">M=7</text>
<text class="k3 m" x="1160.40" y="1037.00">Time</text>
<text class="k3 m" transform="translate(1093.60 932.15) rotate(-90)">Amplitude</text>
<path d="M1542.30 1027.30L1672.80 973.60M1672.80 973.60L1672.80 902.10M1515.60 1011.45L1646.10 957.75M1646.10 957.75L1646.10 886.25M1488.90 995.60L1619.40 941.90M1619.40 941.90L1619.40 870.40M1462.20 979.75L1592.70 926.05M1592.70 926.05L1592.70 854.55M1435.50 963.90L1566.00 910.20M1566.00 910.20L1566.00 838.70M1542.30 1027.30L1435.50 963.90M1435.50 963.90L1435.50 892.40M1558.61 1020.59L1451.81 957.19M1451.81 957.19L1451.81 885.69M1574.92 1013.88L1468.12 950.48M1468.12 950.48L1468.12 878.98M1591.24 1007.16L1484.44 943.76M1484.44 943.76L1484.44 872.26M1607.55 1000.45L1500.75 937.05M1500.75 937.05L1500.75 865.55M1623.86 993.74L1517.06 930.34M1517.06 930.34L1517.06 858.84M1640.17 987.02L1533.38 923.62M1533.38 923.62L1533.38 852.12M1656.49 980.31L1549.69 916.91M1549.69 916.91L1549.69 845.41M1672.80 973.60L1566.00 910.20M1566.00 910.20L1566.00 838.70M1435.50 963.90L1566.00 910.20M1566.00 910.20L1672.80 973.60M1435.50 946.02L1566.00 892.33M1566.00 892.33L1672.80 955.73M1435.50 928.15L1566.00 874.45M1566.00 874.45L1672.80 937.85M1435.50 910.27L1566.00 856.58M1566.00 856.58L1672.80 919.98M1435.50 892.40L1566.00 838.70M1566.00 838.70L1672.80 902.10M1435.50 892.40L1566.00 838.70M1566.00 838.70L1672.80 902.10" stroke="#e6e6e6" stroke-width="0.6" fill="none"/>
<path d="M1435.50 963.90L1435.50 892.40M1435.50 963.90L1542.30 1027.30M1542.30 1027.30L1672.80 973.60M1435.50 963.90L1432.91 964.97M1435.50 946.02L1432.91 947.09M1435.50 928.15L1432.91 929.22M1435.50 910.27L1432.91 911.34M1435.50 892.40L1432.91 893.47M1542.30 1027.30L1539.34 1028.52M1515.60 1011.45L1512.64 1012.67M1488.90 995.60L1485.94 996.82M1462.20 979.75L1459.24 980.97M1435.50 963.90L1432.54 965.12M1558.61 1020.59L1561.36 1022.22M1574.92 1013.88L1577.68 1015.51M1591.24 1007.16L1593.99 1008.80M1607.55 1000.45L1610.30 1002.08M1623.86 993.74L1626.61 995.37M1640.17 987.02L1642.93 988.66M1656.49 980.31L1659.24 981.95" stroke="#333" stroke-width="0.75" fill="none"/>
<path transform="matrix(-0.41795 -0.24811 0.00000 0.50000 1656.49 944.56)" d="M0 -9l1 14 1 3 1-15 1-2 1 18 1-4 1-18 1 27 1-21 1-6 1 24 1-3 1-20 1 21 1-13 1-2 1 13 1-20 1 22 1 0 1-20 1 20 1-26 1 2 1 27 1 2 1-24 1-3 1 20 1 7 1-21 1 15 1-18 1 13 1-18 1 28 1-18 1 13 1-26 1 41 1-39 1 3 1 26 1-3 1-21 1-2 1 26 1-18 1 15 1 1 1-24 1 4 1 23 1-22 1 20 1-28 1 27 1-2 1-22 1 5 1 17 1 3 1-22 1 16 1-12 1 0 1 10 1-11 1 21 1-25 1 24 1-30 1 30 1 2 1-28 1 18 1-17 1 7 1 14 1-1 1-15 1-2 1 18 1 6 1-28 1-1 1 23 1 3 1-23 1 5 1 15 1-19 1 20 1-25 1 24 1 0 1-18 1 17 1-20 1 20 1-17 1 2 1 21 1-25 1 23 1-21 1 28 1-29 1 16 1 4 1-20 1 1 1 19 1-25 1 26 1-2 1-15 1 13 1-14 1-3 1 21 1 4 1-26 1 23 1-19 1-2 1 17 1-17 1 15 1 2 1-18 1 21 1-27 1 35 1-31 1 24 1-22 1 19 1-18 1-2 1 19 1-16 1 18 1-23 1 23 1-2 1-13 1-8 1 26 1-22 1 17 1-19 1 19 1 2 1-21 1 19 1-13 1-8 1 20 1 1 1-13 1-6 1 21 1-18 1 18 1-17 1 20 1-3 1-18 1 18 1-22 1 0 1 22 1-2 1-17 1 4 1 14 1-19 1 23 1-27 1 23 1 1 1-22 1 2 1 24 1-23 1 21 1-1 1-25 1 24 1-18 1-5 1 30 1-26 1 15 1 7 1-23 1 6 1 12 1-14 1 16 1-23 1 24 1-1 1-21 1 3 1 30 1-11 1-23 1 4 1 21 1-23 1 22 1-4 1-17 1 1 1 17" stroke="#A2142F" stroke-width="0.65" fill="none" vector-effect="non-scaling-stroke" opacity="0.8"/>
<path transform="matrix(-0.41795 -0.24811 0.00000 0.50000 1656.49 944.56)" d="M0 -6l1 8 1 4 1-10 1-3 1 12 1-2 1-9 1 1 1 12 1 2 1-14 1-5 1 14 1 2 1-9 1 0 1 7 1 3 1-17 1 2 1 14 1 1 1-19 1 1 1 18 1 2 1-15 1-5 1 15 1 4 1-11 1-4 1 11 1-2 1-12 1 8 1 12 1-8 1-13 1-2 1 27 1-6 1-15 1 0 1 14 1 0 1-17 1 8 1 9 1-1 1-14 1 1 1 17 1-2 1-15 1-5 1 19 1 0 1-11 1-2 1 12 1 1 1-14 1 2 1 9 1-1 1-7 1 0 1 13 1-1 1-15 1-8 1 24 1 2 1-19 1-2 1 11 1 6 1-10 1-3 1 12 1 1 1-13 1-3 1 18 1-3 1-14 1 0 1 16 1-3 1-8 1-2 1 11 1 1 1-16 1 3 1 11 1 2 1-14 1-1 1 12 1 6 1-14 1-3 1 13 1 3 1-15 1 0 1 9 1 4 1-11 1-1 1 13 1-1 1-19 1 8 1 10 1-1 1-10 1-2 1 11 1 7 1-18 1 1 1 14 1-2 1-13 1 3 1 6 1 4 1-14 1-6 1 22 1 7 1-23 1 0 1 16 1 0 1-11 1-3 1 11 1 3 1-13 1-4 1 15 1-1 1-8 1-4 1 16 1-4 1-9 1-4 1 12 1 4 1-15 1 5 1 8 1-2 1-13 1 6 1 8 1 2 1-13 1-1 1 14 1 2 1-13 1-3 1 12 1 0 1-13 1 4 1 11 1-2 1-11 1 2 1 8 1 7 1-18 1-1 1 14 1 2 1-18 1 3 1 20 1-4 1-17 1-2 1 17 1-1 1-12 1-5 1 23 1-9 1-10 1 2 1 12 1-1 1-9 1 0 1 9 1 2 1-17 1 1 1 16 1 11 1-25 1-2 1 15 1 1 1-14 1-1 1 13 1 0 1-13 1 3 1 11" stroke="#A2142F" stroke-width="0.95" fill="none" vector-effect="non-scaling-stroke"/>
<path transform="matrix(-0.41795 -0.24811 0.00000 0.50000 1640.17 951.27)" d="M0 -11l1 16 1 3 1-16 1-1 1 18 1-3 1-18 1 4 1 24 1-28 1 26 1-6 1-23 1 24 1-14 1 11 1-14 1-7 1 25 1 2 1-25 1 23 1-26 1-7 1 36 1 3 1-29 1-2 1 24 1 6 1-22 1 20 1-24 1 18 1-23 1 31 1-19 1 12 1-32 1 53 1-49 1 5 1 26 1-1 1-23 1-3 1 28 1-2 1-15 1 16 1-26 1 6 1 23 1 0 1-25 1-7 1 31 1-1 1-24 1 0 1 22 1-23 1 28 1-5 1-18 1 2 1 12 1-15 1 24 1-29 1 32 1-37 1 34 1-1 1-31 1 25 1-20 1 1 1 23 1-1 1-21 1 1 1 21 1 1 1-29 1-1 1 29 1 3 1-31 1 8 1 19 1-21 1 23 1-27 1 24 1-2 1-20 1 23 1-25 1 22 1-19 1 2 1 23 1 0 1-27 1 5 1 31 1-34 1 17 1 7 1-22 1-2 1 22 1-28 1 28 1-1 1-18 1 17 1-18 1 18 1-19 1 26 1-30 1 30 1-24 1-1 1 20 1-19 1 13 1 3 1-21 1 23 1-29 1 41 1-33 1 24 1-24 1 21 1-17 1-5 1 20 1-16 1 18 1-24 1 24 1-1 1-17 1-7 1 30 1-27 1 22 1-19 1 19 1 0 1-24 1 22 1-15 1-6 1 20 1-12 1 14 1-19 1 22 1-22 1 21 1-18 1 24 1-26 1 20 1 0 1-26 1-2 1 29 1-2 1-21 1 5 1 15 1-20 1 26 1-29 1 24 1 3 1-28 1 5 1 27 1-1 1-27 1 22 1-26 1 28 1-21 1-8 1 37 1-34 1 20 1 5 1-23 1 5 1 19 1-19 1 17 1-24 1 28 1-4 1-26 1 5 1 34 1-13 1-24 1 0 1 27 1-26 1 25 1-22 1 19 1-19 1 19" stroke="#4DBEEE" stroke-width="0.65" fill="none" vector-effect="non-scaling-stroke" opacity="0.8"/>
<path transform="matrix(-0.41795 -0.24811 0.00000 0.50000 1640.17 951.27)" d="M0 -6l1 10 1 3 1-12 1-3 1 15 1-2 1-11 1 2 1 12 1 2 1-18 1-4 1 17 1 1 1-9 1-1 1 8 1 3 1-17 1 1 1 16 1 2 1-22 1 0 1 20 1 4 1-18 1-3 1 14 1 4 1-11 1-3 1 9 1 0 1-14 1 8 1 14 1-7 1-13 1-6 1 30 1-6 1-17 1-2 1 18 1 1 1-22 1 10 1 9 1 1 1-15 1 0 1 18 1-1 1-17 1-6 1 21 1 1 1-14 1 0 1 12 1 2 1-16 1 2 1 11 1-1 1-8 1-2 1 15 1 1 1-17 1-9 1 26 1 2 1-20 1-2 1 13 1 4 1-11 1-2 1 12 1 0 1-13 1-2 1 18 1-2 1-15 1 0 1 17 1-3 1-11 1 0 1 11 1 2 1-19 1 2 1 16 1 0 1-15 1 1 1 13 1 4 1-15 1-3 1 15 1 3 1-17 1 0 1 10 1 6 1-14 1-1 1 15 1-3 1-19 1 8 1 13 1-2 1-11 1-3 1 14 1 6 1-19 1 2 1 14 1-3 1-13 1 2 1 7 1 4 1-13 1-9 1 25 1 6 1-24 1 0 1 18 1-1 1-11 1-4 1 12 1 3 1-14 1-4 1 17 1 0 1-11 1-4 1 18 1-4 1-10 1-4 1 13 1 4 1-18 1 5 1 10 1-1 1-15 1 6 1 10 1 1 1-14 1-1 1 16 1-1 1-12 1-2 1 13 1 0 1-15 1 3 1 14 1-2 1-12 1 1 1 10 1 6 1-19 1 0 1 13 1 4 1-19 1 2 1 22 1-4 1-19 1-1 1 19 1-2 1-13 1-5 1 25 1-11 1-10 1 0 1 16 1-3 1-9 1 0 1 10 1 0 1-17 1 1 1 17 1 9 1-23 1-3 1 17 1 2 1-15 1-3 1 17 1-2 1-16 1 5 1 11" stroke="#4DBEEE" stroke-width="0.95" fill="none" vector-effect="non-scaling-stroke"/>
<path transform="matrix(-0.41795 -0.24811 0.00000 0.50000 1623.86 957.99)" d="M0 -14l1 21 1 2 1-17 1-4 1 21 1-2 1-19 1 1 1 28 1-33 1 33 1-6 1-27 1 26 1-18 1-2 1 17 1-23 1 27 1 2 1-26 1 25 1-30 1-1 1 35 1-1 1-27 1-6 1 28 1 6 1-26 1 22 1-26 1 22 1-28 1 36 1-23 1 16 1-36 1 59 1-53 1 4 1 30 1 1 1-28 1 28 1-34 1 12 1 21 1-1 1-26 1 3 1 28 1-28 1 24 1-34 1 37 1 0 1-32 1 4 1 23 1-26 1 30 1-6 1-20 1 3 1 15 1-18 1 27 1-34 1 42 1-44 1 37 1 0 1-41 1 34 1-27 1 3 1 27 1-2 1-22 1 2 1 23 1 3 1-31 1-8 1 34 1 4 1-33 1 5 1 26 1-28 1 26 1-31 1 31 1-1 1-25 1 28 1-32 1 29 1-23 1 2 1 26 1-3 1-27 1 2 1 37 1-40 1 22 1 7 1-27 1 2 1 23 1-30 1 31 1-1 1-22 1 0 1 21 1-23 1 22 1 6 1-30 1 28 1-24 1-2 1 24 1-23 1 17 1 2 1-21 1 26 1-35 1 42 1-34 1 32 1-32 1 28 1-22 1-8 1 25 1-16 1 17 1-25 1 31 1-5 1-21 1-3 1 30 1-26 1 17 1-23 1 27 1 1 1-27 1 23 1-18 1-9 1 27 1-15 1 15 1-21 1 28 1-27 1 23 1-19 1 25 1-3 1-24 1 18 1-29 1 5 1 30 1-3 1-23 1 4 1 17 1-23 1 29 1-31 1 24 1 5 1-30 1 6 1 30 1-3 1-29 1 25 1-32 1 35 1-26 1-8 1 39 1-36 1 23 1 7 1-26 1 5 1 18 1-19 1 22 1-29 1 29 1-3 1-31 1 9 1 36 1-42 1 28 1-24 1 29 1-34 1 34 1-3 1-27 1 4 1 22" stroke="#77AC30" stroke-width="0.65" fill="none" vector-effect="non-scaling-stroke" opacity="0.8"/>
<path transform="matrix(-0.41795 -0.24811 0.00000 0.50000 1623.86 957.99)" d="M0 -9l1 14 1 2 1-13 1-1 1 12 1 0 1-13 1 1 1 14 1 3 1-18 1-5 1 19 1 0 1-9 1 0 1 7 1 4 1-19 1 2 1 18 1 1 1-24 1 0 1 22 1 4 1-20 1-3 1 14 1 7 1-14 1-4 1 12 1-1 1-14 1 8 1 16 1-9 1-13 1-3 1 27 1-5 1-19 1-2 1 20 1 2 1-25 1 10 1 12 1 1 1-18 1 1 1 19 1-1 1-18 1-5 1 21 1 1 1-19 1 2 1 16 1 2 1-18 1 2 1 13 1-2 1-10 1-1 1 15 1 3 1-19 1-9 1 25 1 3 1-20 1-4 1 17 1 4 1-13 1-2 1 13 1-1 1-14 1-2 1 19 1 0 1-18 1 0 1 21 1-5 1-13 1 0 1 14 1 0 1-19 1 2 1 16 1 1 1-16 1 1 1 14 1 3 1-15 1-5 1 18 1 5 1-21 1 1 1 10 1 7 1-14 1-2 1 15 1-3 1-20 1 9 1 12 1 2 1-16 1-2 1 18 1 3 1-21 1 2 1 15 1 0 1-14 1 0 1 9 1 3 1-14 1-9 1 27 1 6 1-24 1-3 1 20 1 2 1-15 1-4 1 15 1 2 1-15 1-5 1 19 1 0 1-16 1-2 1 20 1-4 1-12 1-4 1 14 1 4 1-19 1 7 1 10 1 0 1-17 1 7 1 12 1-1 1-15 1-1 1 18 1 0 1-14 1-2 1 16 1-2 1-17 1 5 1 13 1 0 1-15 1 3 1 10 1 6 1-21 1-1 1 16 1 3 1-21 1 3 1 21 1 2 1-23 1-1 1 19 1 0 1-16 1-5 1 28 1-13 1-13 1 1 1 17 1-1 1-11 1 0 1 13 1-2 1-17 1 1 1 18 1 7 1-23 1-4 1 19 1 0 1-13 1-3 1 17 1 0 1-19 1 3 1 15" stroke="#77AC30" stroke-width="0.95" fill="none" vector-effect="non-scaling-stroke"/>
<path transform="matrix(-0.41795 -0.24811 0.00000 0.50000 1607.55 964.70)" d="M0 -16l1 27 1-23 1 23 1-25 1 24 1-1 1-23 1 33 1-32 1-5 1 39 1-39 1 27 1 1 1-18 1 15 1-16 1-9 1 29 1 4 1-30 1 29 1-34 1 37 1-44 1 42 1-34 1 28 1-29 1 41 1-31 1 23 1-30 1 27 1-27 1 38 1-27 1 17 1-47 1 71 1-58 1 4 1 36 1-1 1-33 1-2 1 37 1-28 1 24 1 0 1-29 1 3 1 28 1 2 1-27 1-17 1 39 1 9 1-45 1 7 1 30 1-33 1 36 1-6 1-20 1 2 1 15 1-19 1 27 1-34 1 41 1-44 1 40 1 0 1-46 1 40 1-32 1 7 1 30 1-8 1-23 1 3 1 23 1 3 1-33 1-6 1 38 1 4 1-40 1 6 1 28 1-28 1 30 1-34 1 33 1-28 1 26 1 3 1-36 1 36 1-28 1 3 1 27 1-30 1 28 1-27 1 38 1-39 1 21 1 8 1-29 1 2 1 27 1-38 1 34 1 2 1-28 1 4 1 23 1-29 1 27 1 7 1-34 1 33 1-28 1-1 1 24 1-22 1 17 1 1 1-23 1 28 1-37 1 48 1-41 1 31 1-32 1 11 1 23 1-31 1 25 1-19 1 21 1-29 1 32 1-1 1-28 1-3 1 36 1-34 1 26 1-26 1 31 1-3 1-30 1 28 1-20 1-10 1 29 1 0 1-18 1-4 1 29 1-29 1 26 1-28 1 33 1-28 1 25 1-2 1-33 1 0 1 37 1-5 1-23 1 1 1 20 1-22 1 30 1-34 1 24 1 9 1-35 1 4 1 36 1 0 1-39 1 30 1-35 1 43 1-34 1-13 1 49 1-37 1 20 1 7 1-29 1 6 1 23 1-23 1 28 1-36 1 32 1-1 1-34 1 5 1 43 1-45 1 30 1-24 1 29 1-36 1 40 1-7 1-28 1-3 1 31" stroke="#7E2F8E" stroke-width="0.65" fill="none" vector-effect="non-scaling-stroke" opacity="0.8"/>
<path transform="matrix(-0.41795 -0.24811 0.00000 0.50000 1607.55 964.70)" d="M0 -9l1 14 1 3 1-15 1 1 1 13 1-1 1-14 1 0 1 16 1 3 1-19 1-8 1 21 1 1 1-10 1 0 1 9 1 3 1-18 1-1 1 22 1 0 1-22 1-2 1 24 1 2 1-21 1-5 1 18 1 4 1-15 1-1 1 12 1-1 1-17 1 8 1 19 1-11 1-14 1-3 1 33 1-9 1-18 1-4 1 21 1 3 1-28 1 12 1 13 1 0 1-19 1 2 1 20 1-1 1-18 1-6 1 21 1 5 1-24 1 2 1 16 1 3 1-19 1 2 1 13 1 0 1-12 1-1 1 17 1 1 1-20 1-6 1 27 1 2 1-25 1-1 1 19 1 3 1-16 1 1 1 14 1 0 1-18 1-2 1 21 1-3 1-18 1-1 1 26 1-5 1-17 1 2 1 15 1-1 1-18 1-1 1 20 1 0 1-18 1 1 1 17 1 3 1-19 1-2 1 17 1 6 1-22 1 0 1 12 1 7 1-19 1 1 1 17 1-2 1-21 1 7 1 15 1 0 1-16 1-3 1 18 1 3 1-22 1 5 1 15 1 0 1-17 1 1 1 10 1 4 1-17 1-8 1 29 1 7 1-28 1-1 1 23 1 1 1-19 1-2 1 14 1 4 1-16 1-7 1 20 1 2 1-18 1-2 1 21 1-3 1-14 1-5 1 17 1 5 1-19 1 3 1 12 1 2 1-19 1 6 1 13 1 2 1-21 1 3 1 16 1 3 1-17 1-2 1 18 1-2 1-18 1 3 1 16 1 1 1-17 1 2 1 12 1 4 1-20 1-3 1 18 1 6 1-25 1 4 1 24 1-2 1-25 1 1 1 22 1-1 1-16 1-7 1 30 1-12 1-16 1 4 1 18 1-3 1-13 1 0 1 14 1-1 1-18 1 1 1 17 1 9 1-25 1-4 1 22 1 0 1-17 1-4 1 25 1-4 1-20 1 4 1 16" stroke="#7E2F8E" stroke-width="0.95" fill="none" vector-effect="non-scaling-stroke"/>
<path transform="matrix(-0.41795 -0.24811 0.00000 0.50000 1591.24 971.41)" d="M0 -19l1 29 1-23 1 25 1-31 1 34 1-3 1-27 1 33 1-40 1 4 1 39 1-42 1 33 1 1 1-20 1 16 1-17 1-12 1 34 1 4 1-36 1 37 1-40 1-8 1 49 1-1 1-39 1-2 1 45 1-2 1-31 1 25 1-34 1 31 1-33 1 46 1-34 1 21 1-45 1 70 1-65 1 46 1-39 1 41 1-40 1 39 1-45 1 9 1 35 1-2 1-38 1 10 1 31 1-35 1 35 1-51 1 48 1 10 1-49 1-1 1 42 1-39 1 40 1-6 1-25 1 2 1 21 1-27 1 36 1-38 1 47 1-57 1 47 1 0 1-43 1 4 1 33 1-27 1 34 1-6 1-30 1 3 1 31 1-2 1-35 1-11 1 47 1 5 1-42 1 36 1-34 1 2 1 35 1-38 1 31 1-33 1 38 1 4 1-47 1 41 1-30 1 1 1 31 1 4 1-36 1 1 1 41 1-46 1 29 1 5 1-30 1-3 1 30 1-35 1 34 1 3 1-27 1-1 1 33 1-35 1 29 1 6 1-42 1 47 1-37 1-1 1 29 1-24 1 17 1 4 1-29 1 30 1-44 1 58 1-44 1 42 1-42 1 39 1-34 1-6 1 32 1-27 1 28 1-32 1 38 1-39 1 36 1-37 1 37 1-30 1 25 1-29 1 31 1 4 1-41 1 36 1-26 1-6 1 31 1 2 1-27 1 28 1-31 1 2 1 27 1-25 1 36 1-37 1 34 1-10 1-28 1-4 1 37 1-2 1-29 1 5 1 21 1-25 1 34 1-36 1 26 1 10 1-44 1 6 1 43 1-49 1 51 1-13 1-39 1 11 1 32 1-44 1 49 1-39 1 27 1 2 1-32 1 2 1 31 1-29 1 36 1-39 1 34 1-3 1-34 1 3 1 46 1-50 1 39 1-31 1 33 1 11 1-48 1 36 1-37 1 1 1 36" stroke="#EDB120" stroke-width="0.65" fill="none" vector-effect="non-scaling-stroke" opacity="0.8"/>
<path transform="matrix(-0.41795 -0.24811 0.00000 0.50000 1591.24 971.41)" d="M0 -11l1 19 1 1 1-16 1-1 1 17 1-1 1-17 1-2 1 24 1 4 1-26 1-7 1 23 1 2 1-15 1 0 1 12 1 3 1-20 1-1 1 25 1 0 1-28 1-1 1 29 1 0 1-24 1-5 1 23 1 2 1-16 1-1 1 15 1-1 1-18 1 7 1 15 1-4 1-21 1-1 1 38 1-11 1-22 1-2 1 24 1 3 1-32 1 11 1 17 1-2 1-19 1 3 1 20 1-1 1-21 1-4 1 24 1 4 1-27 1 2 1 22 1 1 1-22 1 0 1 20 1-4 1-14 1 2 1 17 1 0 1-23 1-4 1 31 1-1 1-31 1 2 1 22 1 7 1-23 1 1 1 17 1 2 1-19 1-3 1 23 1 0 1-28 1-1 1 35 1-8 1-21 1 2 1 18 1 1 1-23 1 3 1 19 1 1 1-19 1-1 1 18 1 3 1-17 1-5 1 19 1 8 1-27 1 3 1 14 1 6 1-20 1-1 1 19 1-1 1-20 1 4 1 17 1-1 1-18 1-5 1 22 1 4 1-21 1 0 1 17 1 1 1-17 1 1 1 11 1 4 1-18 1-9 1 30 1 7 1-28 1-4 1 25 1 3 1-22 1 0 1 17 1 2 1-18 1-7 1 23 1 3 1-22 1-2 1 25 1-4 1-17 1-3 1 16 1 6 1-19 1 2 1 13 1 2 1-22 1 8 1 14 1 3 1-24 1 2 1 18 1 2 1-17 1-2 1 19 1 1 1-25 1 5 1 20 1-1 1-18 1 2 1 14 1 4 1-22 1-4 1 22 1 2 1-21 1-1 1 30 1-7 1-24 1-2 1 25 1 2 1-19 1-7 1 32 1-12 1-18 1 4 1 18 1-2 1-14 1-1 1 17 1 0 1-21 1 2 1 17 1 14 1-31 1-4 1 23 1 2 1-20 1-5 1 27 1-1 1-25 1 5 1 19" stroke="#EDB120" stroke-width="0.95" fill="none" vector-effect="non-scaling-stroke"/>
<path transform="matrix(-0.41795 -0.24811 0.00000 0.50000 1574.92 978.12)" d="M0 -25l1 41 1 2 1-34 1-3 1 37 1 4 1-39 1-5 1 48 1-51 1 52 1-56 1 41 1 3 1-26 1 22 1-25 1-9 1 43 1 0 1-39 1 44 1-47 1-19 1 74 1-8 1-51 1-3 1 62 1-9 1-37 1-8 1 36 1 6 1-51 1 19 1 39 1-7 1-70 1 94 1-81 1 58 1-47 1 52 1-48 1 48 1-51 1 42 1-41 1 42 1-44 1 8 1 41 1-49 1 54 1-69 1 61 1 9 1-54 1-9 1 58 1 3 1-68 1 63 1-38 1-2 1 31 1-36 1 46 1-47 1 67 1-78 1 60 1 0 1-63 1 9 1 46 1-39 1 54 1-12 1-39 1 4 1 34 1-1 1-39 1-11 1 62 1 5 1-63 1 58 1-54 1 6 1 40 1-50 1 45 1-48 1 62 1-6 1-59 1 51 1-34 1-4 1 46 1-1 1-45 1 51 1-50 1 1 1 32 1 6 1-40 1-3 1 43 1-46 1 41 1 3 1-34 1 44 1-46 1 39 1-46 1 46 1-48 1 51 1-40 1 33 1-31 1 25 1-26 1-4 1 35 1-1 1-45 1 58 1-56 1 1 1 48 1-37 1 51 1-58 1 43 1-38 1 39 1-47 1 49 1-41 1 41 1-45 1 49 1-47 1 42 1-8 1-36 1 51 1-56 1 42 1-30 1-4 1 37 1-1 1-27 1 31 1-42 1 41 1-36 1-3 1 50 1 0 1-45 1 33 1-42 1-5 1 49 1 1 1-41 1 6 1 30 1-31 1 37 1-40 1 32 1 9 1-59 1 11 1 54 1 11 1-74 1 60 1-57 1 10 1 43 1-55 1 62 1-57 1 39 1 12 1-43 1 0 1 38 1-39 1 48 1-49 1 48 1-9 1-44 1 4 1 52 1-57 1 46 1-39 1 51 1-55 1 57 1-54 1 43 1-41 1 49" stroke="#D95319" stroke-width="0.65" fill="none" vector-effect="non-scaling-stroke" opacity="0.8"/>
<path transform="matrix(-0.41795 -0.24811 0.00000 0.50000 1574.92 978.12)" d="M0 -11l1 20 1 4 1-24 1 0 1 21 1-1 1-21 1-2 1 29 1 1 1-29 1-7 1 27 1 3 1-18 1 3 1 12 1 3 1-21 1-4 1 27 1 7 1-37 1-2 1 36 1-2 1-26 1-6 1 25 1 6 1-21 1-2 1 18 1 1 1-25 1 9 1 19 1-5 1-24 1-2 1 40 1-4 1-32 1 0 1 29 1-1 1-34 1 15 1 19 1-1 1-24 1 3 1 20 1 4 1-29 1-3 1 30 1 8 1-40 1 4 1 31 1-2 1-29 1 4 1 23 1-3 1-19 1 1 1 23 1-2 1-27 1 1 1 27 1 9 1-35 1-5 1 29 1 9 1-29 1-1 1 23 1 0 1-24 1 1 1 21 1 2 1-31 1 4 1 31 1-5 1-29 1 5 1 24 1 0 1-26 1 2 1 25 1-1 1-23 1-2 1 25 1 1 1-21 1-5 1 25 1 5 1-27 1-1 1 18 1 6 1-25 1 0 1 24 1-2 1-28 1 7 1 24 1 0 1-30 1-1 1 30 1 2 1-27 1 4 1 19 1 2 1-23 1 1 1 15 1 6 1-22 1-12 1 36 1 7 1-32 1-3 1 28 1 7 1-32 1 0 1 27 1-6 1-18 1-5 1 23 1 11 1-35 1 3 1 24 1-1 1-21 1-6 1 24 1 6 1-24 1 2 1 19 1 0 1-28 1 10 1 19 1 0 1-26 1 5 1 20 1 6 1-28 1 1 1 21 1 4 1-31 1 5 1 29 1-7 1-22 1 1 1 20 1 4 1-26 1-1 1 22 1 3 1-25 1-1 1 34 1-9 1-29 1 1 1 27 1 6 1-24 1-11 1 37 1-8 1-25 1 2 1 23 1 2 1-19 1-3 1 23 1-1 1-26 1 2 1 22 1 9 1-31 1-6 1 30 1 3 1-29 1-3 1 30 1 4 1-31 1 4 1 22" stroke="#D95319" stroke-width="0.95" fill="none" vector-effect="non-scaling-stroke"/>
<path transform="matrix(-0.41795 -0.24811 0.00000 0.50000 1558.61 984.84)" d="M0 -37l1 60 1 6 1-53 1 55 1-52 1-8 1 82 1-19 1-68 1-6 1 77 1-73 1 55 1 6 1-47 1 38 1-42 1-1 1 55 1-69 1 63 1-65 1 80 1-85 1 96 1-17 1-70 1 5 1 79 1-66 1 46 1-55 1 50 1 9 1-77 1 97 1-72 1 56 1-83 1 112 1-107 1 4 1 84 1-77 1 79 1-83 1 70 1-70 1 66 1-5 1-56 1 9 1 63 1-68 1 73 1-89 1 88 1-77 1 76 1-87 1 90 1-108 1 103 1-11 1-62 1 3 1 52 1-50 1 60 1-79 1 105 1-104 1 79 1 15 1-107 1 89 1-72 1 15 1 76 1-4 1-73 1-9 1 68 1-64 1 65 1-78 1 85 1 11 1-91 1-8 1 84 1-80 1 78 1-67 1 62 1-66 1 82 1-11 1-78 1 74 1-57 1 1 1 66 1-7 1-64 1 7 1 85 1-103 1 76 1 6 1-71 1-4 1 68 1 3 1-66 1 55 1-47 1 58 1-68 1-8 1 73 1 8 1-75 1 81 1-69 1 64 1-70 1 49 1-43 1 49 1-61 1 61 1-73 1 100 1-87 1 82 1-96 1 107 1-89 1 63 1-69 1 17 1 45 1 1 1-62 1 77 1-82 1 8 1 79 1-85 1 72 1-75 1 67 1 16 1-84 1 78 1-57 1 44 1-59 1 10 1 49 1 7 1-66 1 15 1 48 1 20 1-80 1 1 1 70 1-8 1-71 1 12 1 68 1-5 1-63 1 8 1 45 1-53 1 63 1-69 1 63 1 8 1-87 1 99 1-86 1-9 1 99 1-24 1-86 1 20 1 77 1-101 1 95 1-81 1 77 1 2 1-62 1-6 1 75 1-62 1 57 1-66 1 66 1-1 1-69 1 2 1 74 1 1 1-85 1 86 1-73 1-1 1 70 1-3 1-62 1 1 1 59" stroke="#0072BD" stroke-width="0.65" fill="none" vector-effect="non-scaling-stroke" opacity="0.8"/>
<path transform="matrix(-0.41795 -0.24811 0.00000 0.50000 1558.61 984.84)" d="M0 -16l1 28 1 2 1-29 1-1 1 36 1-4 1-33 1-10 1 56 1 0 1-47 1-10 1 40 1 3 1-27 1-3 1 27 1 5 1-32 1-8 1 40 1 13 1-62 1 4 1 53 1-4 1-40 1-5 1 39 1 1 1-28 1-2 1 29 1 2 1-37 1 3 1 38 1-4 1-53 1 6 1 60 1-6 1-45 1 0 1 43 1 4 1-55 1 15 1 36 1-6 1-32 1 3 1 34 1 4 1-47 1 2 1 44 1-1 1-45 1 1 1 43 1 7 1-48 1-1 1 42 1-5 1-37 1 7 1 27 1 6 1-40 1-4 1 45 1 8 1-51 1-2 1 44 1 10 1-51 1 5 1 31 1 3 1-35 1-2 1 35 1 7 1-45 1 3 1 43 1-3 1-43 1 4 1 38 1-7 1-32 1-2 1 40 1 3 1-39 1 1 1 33 1 7 1-42 1-2 1 39 1 2 1-38 1 0 1 27 1 9 1-34 1 2 1 34 1-5 1-37 1 7 1 30 1 4 1-39 1-6 1 48 1 2 1-44 1 6 1 29 1 4 1-39 1 6 1 23 1 4 1-37 1 1 1 41 1 6 1-48 1-1 1 49 1-2 1-43 1-2 1 45 1-8 1-27 1-7 1 36 1 9 1-48 1 4 1 41 1-6 1-37 1-5 1 42 1-1 1-28 1 0 1 27 1-1 1-29 1 3 1 26 1 3 1-35 1 0 1 32 1 13 1-48 1 4 1 35 1 6 1-49 1 8 1 39 1-7 1-31 1 1 1 31 1 2 1-33 1-3 1 35 1 0 1-35 1-5 1 52 1-7 1-45 1 5 1 39 1 2 1-38 1-11 1 50 1-7 1-36 1 1 1 35 1 1 1-30 1-4 1 34 1 3 1-48 1 11 1 31 1 7 1-36 1-8 1 39 1 5 1-44 1 0 1 49 1-11 1-39 1 5 1 44" stroke="#0072BD" stroke-width="0.95" fill="none" vector-effect="non-scaling-stroke"/>
<text class="k3 e" x="1429.70" y="966.50">-0.4</text>
<text class="k3 e" x="1429.70" y="948.62">-0.2</text>
<text class="k3 e" x="1429.70" y="930.75">0</text>
<text class="k3 e" x="1429.70" y="912.88">0.2</text>
<text class="k3 e" x="1429.70" y="895.00">0.4</text>
<text class="k3 e" x="1538.00" y="1038.10">0</text>
<text class="k3 e" x="1510.60" y="1022.25">0.1</text>
<text class="k3 e" x="1483.20" y="1006.40">0.2</text>
<text class="k3 e" x="1455.80" y="990.55">0.3</text>
<text class="k3 e" x="1428.40" y="974.70">0.4</text>
<text class="k3" x="1566.31" y="1032.59">Original signal</text>
<text class="k3" x="1582.62" y="1025.88">M=2</text>
<text class="k3" x="1598.94" y="1019.16">M=3</text>
<text class="k3" x="1615.25" y="1012.45">M=4</text>
<text class="k3" x="1631.56" y="1005.74">M=5</text>
<text class="k3" x="1647.88" y="999.02">M=6</text>
<text class="k3" x="1664.19" y="992.31">M=7</text>
<text class="k3 m" x="1485.10" y="1033.00">Time</text>
<text class="k3 m" transform="translate(1412.29 928.15) rotate(-90)">Amplitude</text>
<text x="48.0" y="34.3" class="hd">State</text>
<text x="251.9" y="34.3" class="hd">Nor</text>
<text x="575.1" y="34.3" class="hd">BF1</text>
<text x="900.8" y="34.3" class="hd">BF2</text>
<text x="1225.0" y="34.3" class="hd">BF3</text>
<text x="1548.3" y="34.3" class="hd">IF1</text>
<text x="48.0" y="563.0" class="hd">State</text>
<text x="251.9" y="563.0" class="hd">IF2</text>
<text x="576.2" y="563.0" class="hd">IF3</text>
<text x="900.8" y="563.0" class="hd">OF1</text>
<text x="1225.0" y="563.0" class="hd">OF2</text>
<text x="1549.5" y="563.0" class="hd">OF3</text>
<text class="hd" transform="translate(42.9 177.0) rotate(-90)">Time domain and</text>
<text class="hd" transform="translate(74.1 177.0) rotate(-90)">frequency domain</text>
<text class="hd" transform="translate(43.1 413.6) rotate(-90)">Moving</text>
<text class="hd" transform="translate(73.9 410.3) rotate(-90)">average filtering</text>
<text class="hd" transform="translate(42.9 705.1) rotate(-90)">Time domain and</text>
<text class="hd" transform="translate(74.1 705.1) rotate(-90)">frequency domain</text>
<text class="hd" transform="translate(43.1 941.7) rotate(-90)">Moving</text>
<text class="hd" transform="translate(73.9 938.4) rotate(-90)">average filtering</text>
</svg>
</body></html>
